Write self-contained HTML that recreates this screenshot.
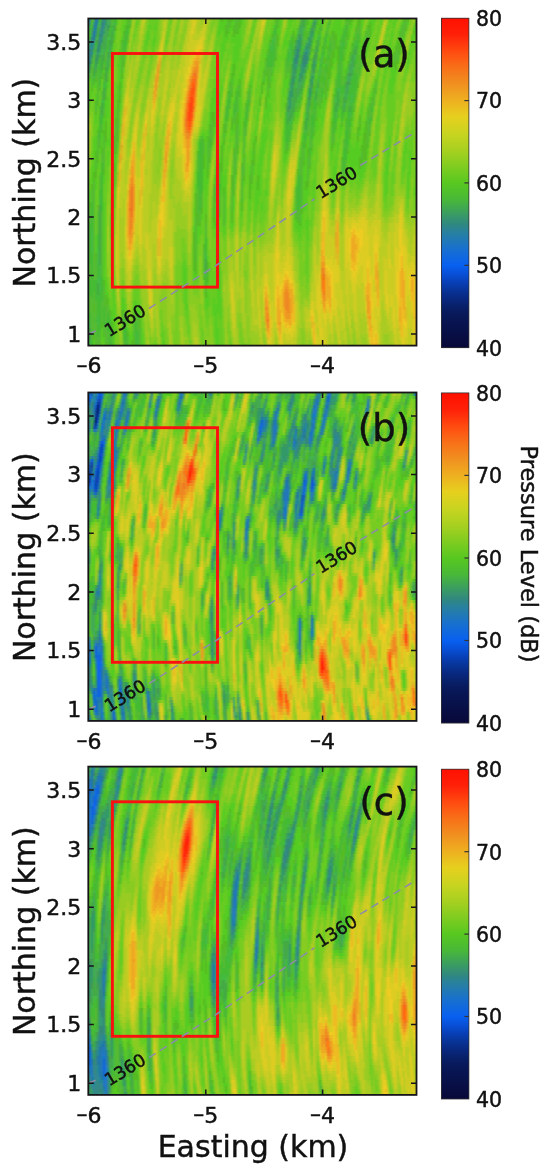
<!DOCTYPE html><html><head><meta charset="utf-8"><style>
html,body{margin:0;padding:0;background:#fff;width:550px;height:1174px;overflow:hidden}
body{position:relative;font-family:'DejaVu Sans', 'Liberation Sans', sans-serif}
.hm{position:absolute;overflow:hidden}.hm i{position:absolute;left:0;width:100%;display:block}
.cb{position:absolute}.ov{position:absolute;left:0;top:0}
svg text{font-family:'DejaVu Sans', 'Liberation Sans', sans-serif;fill:#111;stroke:#111;stroke-width:0.45px}
</style></head><body>
<div class="hm" style="left:88.3px;top:18.5px;width:328.2px;height:327.1px">
<i style="top:0.00px;height:3.50px;background:linear-gradient(90deg,#289,#388,#5b3,#4a5,#27a,#388,#4b3,#396,#388,#396,#4a5,#4a5,#5b3,#4b3,#4b3,#6c2,#7c2,#6c2,#6c2,#5c2,#5b2,#5b3,#7c2,#ac2,#7c2,#6c2,#8c2,#ac2,#cc2,#9c2,#7c2,#6c2,#6c2,#6c2,#6c2,#6c2,#8c2,#9c2,#ac2,#bc2,#9c2,#6c2,#7c2,#ac2,#ac2,#7c2,#8c2,#ac2,#9c2,#8c2,#9c2,#bc2,#cc2,#dc2,#cc2,#bc2,#ac2,#9c2,#ac2,#bc2,#ac2,#9c2,#8c2,#7c2,#8c2,#7c2,#5c2,#5b2,#5c2,#5c2,#5b2,#5b2,#5b2,#5c2,#5b3,#5b3,#5b2,#5c2,#6c2,#7c2,#8c2,#ac2,#9c2,#6c2,#6c2,#9c2,#ac2,#bc2,#dc2,#ac2,#6c2,#7c2,#7c2,#6c2,#5b2,#5b3,#5c2,#6c2,#9c2,#ac2,#6c2,#5c2,#5c2,#6c2,#6c2,#7c2,#6b3,#4a4,#4a4,#4b3,#5b3,#6c2,#5c2,#4a5,#4a5,#5b3,#5c2,#5b3,#5b3,#8c2,#6c2,#5b3,#6c2,#6c2,#5c2,#5c2,#5c2,#6c2,#6c2,#5b2,#4b3,#5b2,#5b2,#6c2,#7c2,#5b2,#5b2,#5c2,#6c2,#9c2,#7c2,#5c2,#5c2,#5c2,#6c2,#7c2,#6c2,#6c2,#9c2,#bc2,#8c2,#5c2,#6c2,#6c2,#5c2,#7c2,#8c2,#6c2,#5b2,#5b3,#5b2,#7c2,#8c2,#9c2,#6c2)"></i>
<i style="top:3.00px;height:3.50px;background:linear-gradient(90deg,#388,#397,#5b3,#397,#27a,#397,#4b4,#387,#388,#396,#4a5,#4a5,#5b3,#4b4,#4b3,#6c2,#7c2,#6c2,#6c2,#5c2,#5b3,#5b3,#8c2,#ac2,#6c2,#6c2,#8c2,#bc2,#bc2,#8c2,#7c2,#6c2,#6c2,#6c2,#6c2,#6c2,#8c2,#9c2,#bc2,#bc2,#8c2,#6c2,#8c2,#ac2,#9c2,#7c2,#9c2,#ac2,#9c2,#8c2,#ac2,#bc2,#cc2,#dc2,#cc2,#ac2,#ac2,#9c2,#bc2,#bc2,#ac2,#8c2,#7c2,#7c2,#8c2,#7c2,#5c2,#5c2,#5c2,#5c2,#5b3,#5b3,#5c2,#5c2,#5b3,#5b2,#5b2,#5c2,#6c2,#7c2,#8c2,#ac2,#8c2,#6c2,#7c2,#ac2,#ac2,#cc2,#dc2,#8c2,#6c2,#7c2,#6c2,#6c2,#5b3,#5b3,#5c2,#6c2,#ac2,#9c2,#6c2,#5c2,#6c2,#6c2,#6c2,#7c2,#5b3,#4a4,#4a4,#4b3,#5b2,#5c2,#5b3,#396,#4a4,#5b2,#5c2,#4b3,#6c2,#7c2,#5b3,#5b3,#6c2,#5c2,#5c2,#5c2,#5c2,#6c2,#6c2,#5b3,#5b3,#5b2,#5c2,#7c2,#6c2,#5b2,#5b2,#5c2,#7c2,#8c2,#6c2,#5b2,#5c2,#5c2,#7c2,#7c2,#6c2,#6c2,#bc2,#bc2,#7c2,#6c2,#6c2,#5c2,#6c2,#8c2,#7c2,#5c2,#5b3,#5b3,#5c2,#7c2,#8c2,#8c2,#5b2)"></i>
<i style="top:6.00px;height:3.50px;background:linear-gradient(90deg,#397,#4a5,#4b3,#388,#27a,#4a5,#4a5,#388,#388,#4a5,#396,#4a4,#4b3,#4a4,#5b3,#7c2,#7c2,#6c2,#5c2,#5b2,#4b3,#5b2,#9c2,#9c2,#6c2,#7c2,#9c2,#bc2,#ac2,#8c2,#6c2,#5c2,#6c2,#6c2,#5c2,#7c2,#8c2,#9c2,#bc2,#bc2,#7c2,#7c2,#9c2,#ac2,#8c2,#7c2,#9c2,#ac2,#8c2,#8c2,#ac2,#bc2,#cc2,#dc2,#bc2,#ac2,#ac2,#ac2,#cc2,#bc2,#9c2,#8c2,#7c2,#8c2,#8c2,#6c2,#5c2,#5c2,#5c2,#5b2,#5b3,#5b2,#5c2,#5b2,#5b3,#5b2,#5b2,#6c2,#6c2,#7c2,#9c2,#ac2,#7c2,#5c2,#8c2,#ac2,#ac2,#cc2,#bc2,#7c2,#6c2,#7c2,#6c2,#5c2,#4b3,#5b2,#5c2,#7c2,#ac2,#8c2,#6c2,#5c2,#6c2,#6c2,#6c2,#6c2,#4a4,#4a5,#4a4,#5b3,#5c2,#5c2,#4a4,#495,#4b3,#5c2,#5b2,#5b3,#7c2,#6c2,#5b3,#5c2,#6c2,#5c2,#5c2,#5c2,#5c2,#6c2,#5c2,#4b3,#5b3,#5c2,#5c2,#7c2,#5c2,#5b2,#5b3,#5c2,#8c2,#7c2,#5b2,#5b2,#5c2,#6c2,#7c2,#6c2,#6c2,#8c2,#cc2,#9c2,#6c2,#6c2,#6c2,#5c2,#7c2,#8c2,#6c2,#5b3,#5b3,#5b3,#6c2,#8c2,#9c2,#6c2,#5b3)"></i>
<i style="top:9.00px;height:3.50px;background:linear-gradient(90deg,#4a5,#4a4,#4a4,#289,#289,#4a4,#496,#388,#397,#4a5,#495,#4b3,#4b4,#4a4,#5b2,#7c2,#6c2,#6c2,#5c2,#5b3,#4b3,#6c2,#ac2,#8c2,#6c2,#8c2,#9c2,#bc2,#9c2,#8c2,#6c2,#6c2,#6c2,#6c2,#5c2,#7c2,#8c2,#9c2,#bc2,#ac2,#7c2,#7c2,#9c2,#ac2,#7c2,#7c2,#ac2,#9c2,#8c2,#8c2,#bc2,#bc2,#dc2,#cc2,#bc2,#ac2,#ac2,#bc2,#cc2,#bc2,#9c2,#8c2,#7c2,#9c2,#8c2,#6c2,#5c2,#5c2,#5c2,#5b2,#5b3,#5c2,#5c2,#5b2,#5b3,#5b2,#5c2,#6c2,#6c2,#8c2,#9c2,#9c2,#6c2,#6c2,#9c2,#ac2,#ac2,#cc2,#ac2,#6c2,#7c2,#6c2,#6c2,#5b3,#4b3,#5c2,#5c2,#8c2,#9c2,#7c2,#5c2,#6c2,#6c2,#5c2,#6c2,#5b3,#4a5,#4a5,#4b4,#5b3,#5c2,#4b3,#495,#4a5,#5b3,#5c2,#4b3,#5b3,#7c2,#5c2,#5b3,#6c2,#5c2,#5c2,#5c2,#5c2,#5c2,#5c2,#5b3,#4b3,#5b3,#5c2,#6c2,#7c2,#5b2,#5b3,#5b3,#6c2,#8c2,#6c2,#5b3,#5b2,#5c2,#6c2,#7c2,#6c2,#6c2,#ac2,#cc2,#8c2,#5c2,#7c2,#6c2,#6c2,#7c2,#7c2,#5c2,#5b3,#5b3,#5b2,#7c2,#8c2,#8c2,#5c2,#5c2)"></i>
<i style="top:12.00px;height:3.50px;background:linear-gradient(90deg,#4b3,#4b3,#496,#27a,#388,#4a4,#397,#388,#396,#4a5,#4a5,#4b3,#4a4,#4b4,#6c2,#7c2,#7c2,#6c2,#5b2,#4b3,#4b3,#7c2,#ac2,#7c2,#7c2,#8c2,#ac2,#bc2,#9c2,#7c2,#5c2,#6c2,#7c2,#6c2,#6c2,#7c2,#8c2,#ac2,#cc2,#9c2,#6c2,#8c2,#ac2,#9c2,#7c2,#8c2,#ac2,#9c2,#8c2,#9c2,#bc2,#cc2,#dc2,#cc2,#bc2,#ac2,#bc2,#cc2,#cc2,#ac2,#9c2,#8c2,#8c2,#9c2,#8c2,#5c2,#5c2,#6c2,#5c2,#5b2,#5b2,#5c2,#6c2,#5b2,#5b2,#5b2,#5c2,#6c2,#6c2,#8c2,#ac2,#8c2,#6c2,#6c2,#ac2,#9c2,#bc2,#cc2,#8c2,#6c2,#7c2,#6c2,#5c2,#4b3,#4b3,#5c2,#5c2,#8c2,#8c2,#6c2,#5c2,#6c2,#5c2,#5b2,#6c2,#4b4,#4a5,#4a5,#4b3,#5b2,#5b3,#4a4,#396,#4a4,#5c2,#5b2,#4b3,#6c2,#7c2,#5b3,#5b3,#6c2,#5b2,#5b2,#5c2,#5c2,#5c2,#5c2,#4b3,#4b3,#5b2,#5c2,#7c2,#6c2,#5b3,#5b3,#5b3,#6c2,#7c2,#5b2,#5b3,#5b2,#5c2,#7c2,#7c2,#6c2,#7c2,#bc2,#bc2,#7c2,#6c2,#7c2,#5c2,#6c2,#7c2,#6c2,#5b2,#5b3,#5b3,#6c2,#8c2,#9c2,#8c2,#5b2,#6c2)"></i>
<i style="top:15.00px;height:3.50px;background:linear-gradient(90deg,#5b3,#4b3,#397,#27a,#396,#4a4,#387,#388,#4a5,#4a5,#4a4,#4b3,#4a4,#4b3,#6c2,#7c2,#7c2,#6c2,#5b3,#4b3,#5b3,#8c2,#9c2,#6c2,#7c2,#8c2,#ac2,#ac2,#8c2,#6c2,#5c2,#6c2,#7c2,#6c2,#6c2,#7c2,#8c2,#ac2,#cc2,#8c2,#6c2,#8c2,#ac2,#9c2,#7c2,#9c2,#9c2,#8c2,#8c2,#ac2,#bc2,#cc2,#cc2,#bc2,#bc2,#bc2,#bc2,#cc2,#cc2,#ac2,#8c2,#8c2,#9c2,#ac2,#7c2,#5c2,#6c2,#6c2,#5c2,#5b2,#5c2,#6c2,#5c2,#5b2,#5c2,#5c2,#5c2,#6c2,#7c2,#8c2,#9c2,#7c2,#5c2,#8c2,#ac2,#9c2,#bc2,#bc2,#7c2,#6c2,#6c2,#6c2,#5b2,#4b3,#5b3,#5b2,#6c2,#9c2,#7c2,#5c2,#5c2,#6c2,#5b3,#5b2,#5c2,#4a4,#495,#4a5,#4b3,#5b2,#4b3,#4a5,#396,#4b3,#5c2,#5b3,#4b4,#6c2,#6c2,#4b3,#5b3,#5c2,#5b3,#5b2,#5b2,#5c2,#5c2,#5b3,#4b3,#4b3,#5b2,#5c2,#7c2,#5c2,#5b3,#4b3,#5b3,#6c2,#6c2,#5b3,#5b3,#5b2,#6c2,#7c2,#6c2,#6c2,#8c2,#cc2,#9c2,#6c2,#6c2,#6c2,#5c2,#6c2,#7c2,#6c2,#5b3,#5b3,#5b2,#7c2,#9c2,#9c2,#6c2,#5c2,#6c2)"></i>
<i style="top:18.01px;height:3.50px;background:linear-gradient(90deg,#4b3,#4a4,#388,#279,#4a5,#4a5,#388,#397,#4a4,#4a5,#4b4,#4b4,#4a4,#5b3,#6c2,#7c2,#7c2,#5c2,#5b3,#4b3,#5b3,#9c2,#9c2,#6c2,#8c2,#8c2,#ac2,#ac2,#8c2,#6c2,#5c2,#6c2,#7c2,#5c2,#6c2,#7c2,#8c2,#bc2,#cc2,#7c2,#7c2,#9c2,#ac2,#8c2,#7c2,#9c2,#9c2,#8c2,#8c2,#bc2,#bc2,#cc2,#cc2,#bc2,#bc2,#bc2,#cc2,#dc2,#cc2,#ac2,#8c2,#8c2,#ac2,#9c2,#7c2,#6c2,#6c2,#6c2,#5c2,#5c2,#5c2,#6c2,#5c2,#5c2,#5c2,#5c2,#5c2,#6c2,#7c2,#9c2,#8c2,#6c2,#6c2,#9c2,#9c2,#9c2,#bc2,#ac2,#6c2,#6c2,#6c2,#5c2,#5b3,#4b4,#5b3,#5b2,#6c2,#8c2,#6c2,#5c2,#6c2,#5c2,#4b3,#5b2,#5b3,#4a5,#396,#4a5,#5b3,#5b3,#4a4,#396,#4a5,#5b3,#5c2,#4b4,#4b3,#6c2,#5b3,#4b3,#5c2,#5b2,#5b3,#5b2,#5b2,#5c2,#5c2,#4b3,#4b3,#5b3,#5b2,#6c2,#7c2,#5b2,#5b3,#4b3,#5b3,#6c2,#5c2,#5b3,#5b2,#5c2,#7c2,#7c2,#6c2,#6c2,#ac2,#cc2,#8c2,#6c2,#7c2,#6c2,#5c2,#7c2,#7c2,#5b2,#5b2,#5b3,#5c2,#8c2,#9c2,#9c2,#5c2,#6c2,#6c2)"></i>
<i style="top:21.01px;height:3.50px;background:linear-gradient(90deg,#4a4,#4a5,#389,#389,#4a4,#495,#388,#396,#4a4,#4a5,#4b3,#4a4,#4a4,#5b2,#7c2,#7c2,#6c2,#5b2,#4b3,#4b3,#6b2,#9c2,#8c2,#7c2,#8c2,#8c2,#ac2,#9c2,#7c2,#5c2,#6c2,#7c2,#6c2,#5c2,#6c2,#7c2,#9c2,#cc2,#bc2,#6c2,#7c2,#9c2,#ac2,#7c2,#8c2,#9c2,#9c2,#8c2,#9c2,#bc2,#bc2,#cc2,#cc2,#cc2,#cc2,#cc2,#dc2,#dc2,#bc2,#9c2,#8c2,#9c2,#ac2,#9c2,#6c2,#6c2,#6c2,#6c2,#5c2,#5c2,#6c2,#6c2,#5c2,#5c2,#5c2,#5c2,#5c2,#6c2,#7c2,#9c2,#8c2,#6c2,#6c2,#ac2,#9c2,#9c2,#bc2,#9c2,#6c2,#6c2,#6c2,#5b2,#4b3,#4b4,#5b3,#5b2,#7c2,#8c2,#5c2,#5c2,#5c2,#5b3,#4b3,#5b2,#4a4,#396,#396,#4a4,#5b3,#4b4,#4a5,#396,#4a4,#5c2,#5b3,#4a4,#5b3,#6c2,#5b3,#4b3,#5c2,#5b3,#5b3,#5b3,#5b2,#5c2,#5b3,#4b3,#4b3,#5b3,#5c2,#7c2,#6c2,#5b3,#4b3,#4b3,#5b2,#6c2,#5b3,#5b3,#5b2,#6c2,#7c2,#7c2,#6c2,#7c2,#cc2,#bc2,#6c2,#6c2,#7c2,#5c2,#6c2,#7c2,#6c2,#5b2,#5b2,#5b2,#6c2,#9c2,#ac2,#8c2,#5c2,#6c2,#6c2)"></i>
<i style="top:24.01px;height:3.50px;background:linear-gradient(90deg,#4a5,#396,#289,#397,#4b3,#396,#387,#4a5,#4a4,#4a5,#4b3,#4a4,#4a4,#6c2,#6c2,#7c2,#6c2,#5b3,#4b3,#4b3,#6c2,#ac2,#7c2,#8c2,#8c2,#9c2,#ac2,#9c2,#7c2,#5c2,#6c2,#7c2,#6c2,#5c2,#7c2,#7c2,#ac2,#dc2,#ac2,#6c2,#8c2,#ac2,#9c2,#7c2,#8c2,#9c2,#8c2,#8c2,#ac2,#bc2,#cc2,#cc2,#cc2,#cc2,#cc2,#dc2,#dc2,#dc2,#bc2,#9c2,#9c2,#9c2,#bc2,#8c2,#6c2,#6c2,#6c2,#5c2,#5c2,#6c2,#7c2,#6c2,#6c2,#6c2,#5c2,#5c2,#5c2,#6c2,#8c2,#8c2,#7c2,#6c2,#8c2,#ac2,#8c2,#ac2,#ac2,#8c2,#6c2,#6c2,#5c2,#5b3,#4b4,#4b3,#5b3,#5b2,#7c2,#7c2,#5c2,#5c2,#5c2,#4b3,#4b3,#5b3,#4a5,#396,#396,#4a4,#5b3,#4a5,#396,#396,#4b3,#6c2,#5b3,#4a4,#5b3,#6c2,#4b3,#5b3,#5c2,#4b3,#5b3,#5b3,#5b2,#5c2,#5b3,#4b4,#4b3,#5b3,#5c2,#7c2,#5b2,#4b3,#4b4,#4b3,#5c2,#5c2,#5b3,#5b3,#5c2,#6c2,#7c2,#7c2,#6c2,#9c2,#cc2,#9c2,#6c2,#7c2,#6c2,#5c2,#6c2,#7c2,#5c2,#5b2,#5b2,#5c2,#7c2,#9c2,#ac2,#6c2,#5c2,#6c2,#6c2)"></i>
<i style="top:27.01px;height:3.50px;background:linear-gradient(90deg,#396,#397,#289,#496,#4b4,#387,#396,#4a4,#4a5,#4a4,#4b3,#4a5,#4b3,#6c2,#6c2,#7c2,#6c2,#5b3,#4b3,#5b3,#7c2,#9c2,#7c2,#9c2,#8c2,#ac2,#ac2,#8c2,#6c2,#6c2,#7c2,#7c2,#6c2,#6c2,#7c2,#8c2,#bc2,#dc2,#9c2,#7c2,#9c2,#ac2,#9c2,#8c2,#9c2,#9c2,#8c2,#8c2,#bc2,#bc2,#cc2,#cc2,#cc2,#cc2,#dc2,#dc2,#ec2,#dc2,#bc2,#9c2,#9c2,#ac2,#ac2,#8c2,#6c2,#7c2,#6c2,#5c2,#5c2,#6c2,#7c2,#6c2,#6c2,#5c2,#5c2,#5c2,#5c2,#7c2,#8c2,#7c2,#6c2,#6c2,#9c2,#9c2,#8c2,#ac2,#ac2,#7c2,#6c2,#6c2,#5c2,#4b3,#4b4,#4b3,#5b3,#5c2,#7c2,#6c2,#5c2,#6c2,#5c2,#4b4,#4b3,#4b3,#495,#397,#396,#4b3,#4b4,#396,#396,#495,#5b3,#6c2,#4a4,#4a4,#6c2,#5b2,#4b3,#5b2,#5b2,#4b3,#5b3,#5b3,#5b2,#5b2,#4b3,#4b3,#4b3,#5b2,#6c2,#6c2,#5b3,#4b3,#4a4,#4b3,#5c2,#5b2,#5b3,#5b3,#5c2,#7c2,#7c2,#6c2,#6c2,#ac2,#cc2,#8c2,#6c2,#7c2,#6c2,#5c2,#6c2,#6c2,#5b2,#5b2,#5b2,#6c2,#8c2,#9c2,#9c2,#6c2,#6c2,#6c2,#6c2)"></i>
<i style="top:30.01px;height:3.50px;background:linear-gradient(90deg,#387,#387,#388,#4a4,#4a4,#387,#396,#4b4,#4a5,#4b3,#4b4,#4a5,#5b3,#6c2,#7c2,#7c2,#5c2,#5b3,#4b3,#5b3,#8c2,#9c2,#7c2,#9c2,#8c2,#ac2,#ac2,#8c2,#6c2,#6c2,#7c2,#8c2,#6c2,#6c2,#8c2,#9c2,#cc2,#dc2,#8c2,#8c2,#9c2,#ac2,#9c2,#8c2,#9c2,#9c2,#8c2,#9c2,#bc2,#bc2,#cc2,#cc2,#cc2,#cc2,#dc2,#ec2,#eb2,#cc2,#ac2,#9c2,#9c2,#bc2,#ac2,#7c2,#6c2,#7c2,#6c2,#5c2,#5c2,#6c2,#6c2,#6c2,#6c2,#5c2,#5c2,#5c2,#6c2,#7c2,#7c2,#7c2,#6c2,#7c2,#ac2,#9c2,#8c2,#9c2,#9c2,#6c2,#6c2,#6c2,#5b2,#4b3,#4b4,#4b3,#5b3,#6c2,#7c2,#6c2,#6c2,#6c2,#5b3,#4b4,#4b3,#4a4,#396,#387,#495,#4b3,#4a5,#397,#397,#4a5,#5b2,#5b3,#4a5,#4a4,#6c2,#5b3,#4b3,#5c2,#5b3,#4b3,#5b3,#5b2,#5c2,#5b2,#4b3,#4b3,#5b3,#5c2,#6c2,#6c2,#5b3,#4a4,#4a4,#5b3,#5c2,#5b3,#5b3,#5b2,#6c2,#7c2,#7c2,#6c2,#7c2,#cc2,#bc2,#6c2,#6c2,#7c2,#5c2,#5c2,#6c2,#6c2,#5b3,#5b2,#5b2,#6c2,#9c2,#ac2,#8c2,#5c2,#6c2,#6c2,#7c2)"></i>
<i style="top:33.01px;height:3.50px;background:linear-gradient(90deg,#387,#388,#388,#4b4,#4a5,#397,#4a5,#4b4,#4a5,#5b3,#4a4,#4a5,#5b2,#6c2,#7c2,#7c2,#5c2,#5b3,#4b3,#5c2,#9c2,#9c2,#8c2,#9c2,#9c2,#ac2,#ac2,#8c2,#6c2,#7c2,#8c2,#7c2,#6c2,#7c2,#8c2,#ac2,#db2,#cc2,#7c2,#8c2,#ac2,#ac2,#9c2,#8c2,#ac2,#9c2,#8c2,#ac2,#bc2,#bc2,#cc2,#cc2,#cc2,#dc2,#ec2,#eb2,#eb2,#cc2,#ac2,#9c2,#9c2,#bc2,#9c2,#7c2,#6c2,#7c2,#6c2,#5c2,#6c2,#7c2,#6c2,#6c2,#6c2,#5c2,#5c2,#5c2,#6c2,#7c2,#7c2,#6c2,#6c2,#8c2,#ac2,#8c2,#8c2,#9c2,#8c2,#6c2,#6c2,#5c2,#5b3,#4b3,#4b3,#4b3,#5b3,#6c2,#7c2,#6c2,#6c2,#6c2,#4b3,#4b4,#4b3,#4a4,#396,#387,#4a5,#4b3,#396,#387,#397,#4a4,#6c2,#5b3,#495,#5b3,#6c2,#4b3,#4b3,#5c2,#5b3,#5b3,#5b2,#5b2,#5c2,#5b2,#4b3,#4b3,#5b3,#5c2,#7c2,#5b2,#4b3,#4a4,#4a4,#5b3,#5c2,#5b3,#5b3,#5c2,#7c2,#7c2,#7c2,#7c2,#9c2,#cc2,#9c2,#6c2,#7c2,#7c2,#5c2,#5c2,#6c2,#5b2,#5b3,#5b3,#5b2,#7c2,#9c2,#9c2,#6c2,#5c2,#6c2,#7c2,#7c2)"></i>
<i style="top:36.01px;height:3.50px;background:linear-gradient(90deg,#388,#388,#396,#5b3,#495,#396,#4a4,#4a4,#4a4,#5b3,#4a5,#4a4,#5c2,#6c2,#7c2,#6c2,#5c2,#5b3,#5b3,#6c2,#ac2,#8c2,#9c2,#9c2,#9c2,#bc2,#9c2,#7c2,#6c2,#7c2,#8c2,#7c2,#6c2,#8c2,#8c2,#bc2,#eb2,#bc2,#8c2,#9c2,#ac2,#ac2,#9c2,#9c2,#ac2,#9c2,#9c2,#bc2,#bc2,#cc2,#cc2,#cc2,#dc2,#dc2,#eb2,#ea2,#eb2,#cc2,#ac2,#9c2,#ac2,#bc2,#8c2,#7c2,#7c2,#6c2,#6c2,#5c2,#6c2,#7c2,#6c2,#7c2,#6c2,#5c2,#5c2,#5c2,#6c2,#7c2,#7c2,#6c2,#6c2,#9c2,#ac2,#7c2,#8c2,#9c2,#7c2,#6c2,#6c2,#5c2,#4b3,#4b3,#4b3,#4b3,#5b3,#6c2,#6c2,#6c2,#6c2,#5c2,#4b3,#4b4,#4b3,#4a5,#387,#387,#4a4,#4a4,#387,#387,#396,#5b3,#6c2,#4a4,#495,#5b3,#5c2,#4b4,#5b3,#5c2,#4b3,#5b3,#5b2,#5b2,#5c2,#5b2,#4b3,#4b3,#5b2,#6c2,#6c2,#5b3,#4a4,#4a5,#4b4,#5b2,#5b3,#4b3,#5b3,#6c2,#7c2,#7c2,#7c2,#7c2,#ac2,#cc2,#8c2,#6c2,#7c2,#6c2,#5c2,#6c2,#6c2,#5b3,#5b3,#5b3,#6c2,#8c2,#9c2,#9c2,#6c2,#6c2,#6c2,#7c2,#6c2)"></i>
<i style="top:39.01px;height:3.50px;background:linear-gradient(90deg,#388,#388,#4a5,#5b3,#396,#495,#4b3,#4a4,#4a4,#5b3,#4a5,#4b4,#5c2,#6c2,#7c2,#6c2,#5c2,#5b3,#5b3,#7c2,#ac2,#8c2,#ac2,#9c2,#ac2,#bc2,#9c2,#7c2,#7c2,#8c2,#9c2,#7c2,#7c2,#8c2,#9c2,#cc2,#ea2,#ac2,#8c2,#ac2,#ac2,#ac2,#9c2,#9c2,#ac2,#9c2,#ac2,#bc2,#bc2,#cc2,#cc2,#dc2,#dc2,#eb2,#ea2,#ea2,#db2,#bc2,#ac2,#9c2,#bc2,#bc2,#8c2,#7c2,#7c2,#6c2,#6c2,#5c2,#7c2,#6c2,#6c2,#7c2,#6c2,#5c2,#5c2,#5c2,#6c2,#6c2,#6c2,#6c2,#7c2,#ac2,#9c2,#7c2,#8c2,#9c2,#7c2,#6c2,#6c2,#5b2,#4b3,#4b3,#4b3,#4b3,#5b2,#6c2,#6c2,#6c2,#6c2,#5b2,#4b4,#4b3,#4b3,#396,#387,#396,#4b4,#495,#387,#387,#396,#5b3,#5b3,#495,#4a5,#5b2,#5b3,#4b4,#5b2,#5b2,#4b3,#5b2,#5b2,#5c2,#5c2,#5b2,#4b3,#4b3,#5b2,#6c2,#6c2,#4b3,#4a4,#4a5,#4b3,#5b2,#5b3,#4b3,#5c2,#7c2,#8c2,#7c2,#7c2,#8c2,#bc2,#bc2,#6c2,#6c2,#7c2,#6c2,#5c2,#6c2,#6c2,#5b3,#5b3,#5b3,#6c2,#8c2,#9c2,#8c2,#5c2,#6c2,#7c2,#7c2,#6c2)"></i>
<i style="top:42.01px;height:3.50px;background:linear-gradient(90deg,#387,#387,#4a4,#5b3,#396,#4a4,#4b3,#4a4,#4b3,#4b3,#4a5,#5b3,#6c2,#7c2,#7c2,#6c2,#5c2,#5b3,#5b2,#8c2,#ac2,#9c2,#ac2,#9c2,#ac2,#ac2,#8c2,#7c2,#7c2,#9c2,#9c2,#7c2,#7c2,#9c2,#9c2,#db2,#da2,#9c2,#9c2,#ac2,#bc2,#ac2,#9c2,#ac2,#ac2,#9c2,#ac2,#bc2,#bc2,#cc2,#cc2,#dc2,#dc2,#ea2,#e92,#e92,#db2,#bc2,#ac2,#ac2,#bc2,#ac2,#7c2,#7c2,#7c2,#6c2,#6c2,#6c2,#7c2,#6c2,#7c2,#8c2,#6c2,#5c2,#5c2,#6c2,#6c2,#6c2,#6c2,#6c2,#8c2,#bc2,#8c2,#7c2,#8c2,#8c2,#6c2,#6c2,#6c2,#5b3,#4b3,#4b3,#4b3,#5b3,#6c2,#6c2,#6c2,#7c2,#6c2,#5b3,#4b3,#5b3,#4b4,#396,#387,#496,#4b3,#396,#387,#387,#4a5,#6c2,#5b3,#396,#4a5,#5c2,#5b3,#4b4,#5b2,#5b3,#5b3,#5b2,#5b2,#5c2,#6c2,#5b2,#4b3,#5b3,#5c2,#6c2,#5b2,#4b4,#4a5,#4a4,#4b3,#5b3,#5b3,#5b3,#6c2,#8c2,#7c2,#7c2,#7c2,#9c2,#bc2,#9c2,#5c2,#7c2,#7c2,#5c2,#5c2,#6c2,#5c2,#5b2,#5b2,#5b2,#7c2,#9c2,#9c2,#7c2,#5c2,#6c2,#7c2,#7c2,#6c2)"></i>
<i style="top:45.01px;height:3.50px;background:linear-gradient(90deg,#387,#396,#5b3,#4b4,#495,#4b4,#4b3,#4a4,#5b3,#4b3,#4a5,#5b3,#6c2,#7c2,#7c2,#5c2,#5c2,#5b3,#5b2,#9c2,#9c2,#ac2,#ac2,#9c2,#ac2,#ac2,#8c2,#7c2,#8c2,#9c2,#8c2,#7c2,#8c2,#9c2,#ac2,#da2,#da2,#9c2,#9c2,#ac2,#bc2,#ac2,#9c2,#ac2,#ac2,#9c2,#bc2,#bc2,#bc2,#cc2,#cc2,#dc2,#eb2,#ea2,#e92,#e92,#dc2,#bc2,#ac2,#ac2,#cc2,#9c2,#7c2,#7c2,#7c2,#6c2,#6c2,#6c2,#7c2,#6c2,#8c2,#8c2,#5c2,#5b2,#5c2,#6c2,#6c2,#6c2,#6c2,#7c2,#9c2,#bc2,#7c2,#6c2,#8c2,#8c2,#6c2,#6c2,#6c2,#5b3,#4b3,#4b3,#4b3,#5b3,#6c2,#6c2,#6c2,#7c2,#6c2,#5b3,#4b3,#5b3,#4a4,#396,#397,#4a5,#4a4,#397,#387,#396,#4b3,#6c2,#4a4,#396,#4a4,#6c2,#4b3,#4b3,#5c2,#4b3,#5b3,#5b2,#5b2,#6c2,#6c2,#5b3,#4b3,#5b3,#5c2,#6c2,#5b3,#4a4,#4a5,#4a4,#5b3,#5b3,#5b3,#5b3,#7c2,#8c2,#7c2,#8c2,#8c2,#ac2,#bc2,#8c2,#5c2,#7c2,#7c2,#5c2,#6c2,#6c2,#5c2,#5b2,#5b2,#6c2,#8c2,#9c2,#9c2,#6c2,#6c2,#7c2,#8c2,#7c2,#6c2)"></i>
<i style="top:48.01px;height:3.50px;background:linear-gradient(90deg,#397,#495,#5b3,#4a4,#4a5,#4b3,#4b3,#4a4,#5b2,#4a4,#4a4,#5c2,#6c2,#8c2,#7c2,#6c2,#5c2,#5b3,#6c2,#9c2,#9c2,#ac2,#ac2,#9c2,#bc2,#9c2,#7c2,#7c2,#8c2,#9c2,#8c2,#7c2,#8c2,#9c2,#bc2,#e92,#cb2,#9c2,#ac2,#ac2,#bc2,#ac2,#9c2,#ac2,#ac2,#ac2,#bc2,#bc2,#cc2,#cc2,#dc2,#ec2,#ea2,#e92,#e82,#e92,#dc2,#bc2,#ac2,#bc2,#bc2,#9c2,#7c2,#7c2,#6c2,#6c2,#6c2,#7c2,#6c2,#6c2,#8c2,#7c2,#5c2,#5b2,#5c2,#6c2,#6c2,#5c2,#6c2,#7c2,#ac2,#ac2,#7c2,#6c2,#8c2,#7c2,#6c2,#6c2,#5c2,#5b3,#5b3,#5b3,#5b3,#5c2,#6c2,#6c2,#7c2,#7c2,#6c2,#5b3,#5b3,#5b3,#4a4,#396,#396,#4b4,#4a4,#397,#396,#4a5,#5b3,#6c2,#4a4,#396,#5b3,#5c2,#4b4,#5b3,#5b2,#4b3,#5b2,#5b2,#5c2,#6c2,#6c2,#5b3,#4b3,#5b3,#5c2,#5c2,#4b3,#4a5,#4a5,#4b4,#5b3,#5b3,#4b3,#6c2,#8c2,#8c2,#7c2,#8c2,#8c2,#ac2,#ac2,#6c2,#6c2,#8c2,#6c2,#5c2,#6c2,#6c2,#5c2,#5c2,#5b2,#6c2,#8c2,#9c2,#8c2,#6c2,#6c2,#8c2,#8c2,#7c2,#7c2)"></i>
<i style="top:51.02px;height:3.50px;background:linear-gradient(90deg,#396,#4a5,#5b2,#4a4,#4a4,#5b3,#4b3,#4b3,#5c2,#4a4,#4b3,#6c2,#7c2,#8c2,#7c2,#6c2,#5c2,#5b3,#6c2,#9c2,#9c2,#bc2,#9c2,#ac2,#ac2,#9c2,#7c2,#7c2,#9c2,#9c2,#7c2,#7c2,#9c2,#ac2,#cc2,#e92,#bb2,#9c2,#ac2,#bc2,#bc2,#ac2,#ac2,#bc2,#ac2,#bc2,#cc2,#bc2,#cc2,#cc2,#dc2,#ec2,#ea2,#e82,#e82,#e92,#dc2,#bc2,#ac2,#cc2,#bc2,#8c2,#7c2,#7c2,#6c2,#6c2,#6c2,#7c2,#6c2,#7c2,#9c2,#7c2,#5c2,#5b2,#6c2,#6c2,#6c2,#5c2,#6c2,#8c2,#bc2,#9c2,#6c2,#6c2,#8c2,#7c2,#6c2,#6c2,#5b2,#5b3,#5b2,#5b3,#5b3,#5c2,#7c2,#6c2,#7c2,#7c2,#6c2,#5b3,#5b3,#5b2,#4a5,#396,#495,#4b3,#4a5,#396,#396,#4a4,#6c2,#6b2,#4a5,#495,#5b3,#5b3,#4b4,#5b3,#5b3,#4b3,#5b2,#5b2,#6c2,#7c2,#6c2,#5b3,#4b3,#5b3,#5c2,#5b2,#4b4,#4a5,#4a5,#4b3,#5b3,#5b3,#5b3,#7c2,#9c2,#8c2,#7c2,#8c2,#9c2,#ac2,#8c2,#5c2,#7c2,#8c2,#6c2,#5c2,#7c2,#6c2,#5c2,#5c2,#5c2,#7c2,#8c2,#9c2,#7c2,#6c2,#7c2,#8c2,#8c2,#7c2,#7c2)"></i>
<i style="top:54.02px;height:3.50px;background:linear-gradient(90deg,#4a5,#5b4,#5b3,#4a4,#4b3,#5b3,#4b4,#5b3,#5b2,#4a4,#5b3,#6c2,#7c2,#8c2,#7c2,#6c2,#5c2,#5b2,#7c2,#9c2,#9c2,#bc2,#9c2,#ac2,#ac2,#8c2,#7c2,#8c2,#9c2,#9c2,#7c2,#7c2,#ac2,#ac2,#db2,#e92,#bc2,#ac2,#ac2,#bc2,#bc2,#ac2,#ac2,#bc2,#ac2,#bc2,#cc2,#bc2,#cc2,#dc2,#dc2,#eb2,#e92,#e72,#e72,#ea2,#dc2,#bc2,#bc2,#cc2,#bc2,#8c2,#7c2,#7c2,#6c2,#6c2,#6c2,#7c2,#6c2,#8c2,#9c2,#6c2,#5b2,#5b2,#6c2,#6c2,#5c2,#5c2,#7c2,#9c2,#bc2,#8c2,#6c2,#6c2,#8c2,#6c2,#6c2,#6c2,#5b3,#5b2,#5b2,#5b3,#5b2,#6c2,#7c2,#7c2,#8c2,#7c2,#6c2,#5b3,#5c2,#5b3,#4a5,#396,#4a5,#4b3,#396,#396,#4a5,#5b3,#7c2,#5b3,#4a5,#4a5,#5c2,#5b3,#4b4,#5b2,#5b3,#5b3,#5b2,#5b2,#6c2,#7c2,#6c2,#4b3,#4b3,#5b3,#5c2,#5b3,#4a4,#495,#4a4,#4b3,#4b3,#5b3,#5b3,#8c2,#9c2,#7c2,#8c2,#8c2,#9c2,#ac2,#7c2,#5c2,#7c2,#7c2,#6c2,#6c2,#7c2,#6c2,#5c2,#5c2,#6c2,#7c2,#8c2,#9c2,#7c2,#6c2,#8c2,#9c2,#7c2,#7c2,#7c2)"></i>
<i style="top:57.02px;height:3.50px;background:linear-gradient(90deg,#4b3,#5b3,#5b3,#4b4,#5b3,#5b3,#4b3,#5b2,#5b3,#4a4,#5b3,#6c2,#8c2,#8c2,#7c2,#6c2,#5c2,#5b2,#7c2,#9c2,#ac2,#bc2,#9c2,#ac2,#ac2,#8c2,#7c2,#8c2,#9c2,#8c2,#7c2,#8c2,#ac2,#ac2,#da2,#e92,#ac2,#ac2,#ac2,#bc2,#bc2,#ac2,#ac2,#bc2,#ac2,#cc2,#bc2,#bc2,#cc2,#dc2,#ec2,#ea2,#e82,#f71,#e72,#ea2,#dc2,#bc2,#bc2,#cc2,#ac2,#8c2,#8c2,#7c2,#6c2,#6c2,#6c2,#7c2,#6c2,#9c2,#9c2,#6c2,#5b2,#5c2,#6c2,#6c2,#5c2,#5c2,#7c2,#9c2,#bc2,#7c2,#5c2,#7c2,#8c2,#6c2,#6c2,#6c2,#5b3,#5c2,#5b2,#5b3,#5c2,#6c2,#7c2,#7c2,#8c2,#7c2,#6c2,#5b2,#5c2,#5b3,#495,#396,#4a4,#4b4,#396,#495,#4a5,#5b2,#7c2,#5b3,#396,#4a4,#5c2,#4b3,#4b3,#5b2,#4b3,#5b3,#5b2,#5b2,#7c2,#7c2,#5c2,#4b3,#4b3,#5b3,#5b2,#4b3,#4a5,#4a5,#4b4,#4b3,#4b3,#4b3,#6c2,#9c2,#9c2,#7c2,#8c2,#9c2,#9c2,#8c2,#6c2,#5c2,#8c2,#7c2,#5c2,#6c2,#7c2,#6c2,#5c2,#5c2,#6c2,#8c2,#8c2,#8c2,#6c2,#7c2,#9c2,#9c2,#7c2,#7c2,#7c2)"></i>
<i style="top:60.02px;height:3.50px;background:linear-gradient(90deg,#5b3,#5c2,#5b3,#4b3,#5b2,#5b3,#4b3,#6c2,#5b3,#4a4,#5b2,#6c2,#8c2,#8c2,#7c2,#6c2,#5c2,#5c2,#8c2,#9c2,#bc2,#bc2,#9c2,#ac2,#9c2,#7c2,#7c2,#9c2,#9c2,#8c2,#7c2,#9c2,#ac2,#bc2,#e92,#da2,#ac2,#ac2,#ac2,#cc2,#bc2,#ac2,#ac2,#ac2,#bc2,#cc2,#bc2,#bc2,#cc2,#dc2,#eb2,#e92,#e72,#f61,#e72,#eb2,#cc2,#bc2,#cc2,#cc2,#9c2,#7c2,#7c2,#6c2,#6c2,#6c2,#6c2,#6c2,#6c2,#9c2,#8c2,#5c2,#5b3,#5c2,#6c2,#5c2,#5b2,#6c2,#7c2,#ac2,#ac2,#6c2,#5c2,#7c2,#8c2,#6c2,#7c2,#5c2,#5b3,#5c2,#5b2,#5b3,#5c2,#6c2,#6c2,#8c2,#8c2,#7c2,#5c2,#5c2,#5c2,#4b3,#396,#396,#4b4,#4a4,#396,#4a5,#4a4,#6c2,#7c2,#4a4,#396,#5b4,#5b2,#4b4,#4b3,#5b2,#4b3,#5b2,#5b3,#5c2,#8c2,#7c2,#5b3,#4b3,#4b3,#5b3,#5b3,#4b3,#4a5,#4a5,#4b3,#4b3,#4b3,#5b3,#7c2,#ac2,#9c2,#7c2,#8c2,#9c2,#9c2,#7c2,#5b2,#6c2,#8c2,#7c2,#5c2,#7c2,#7c2,#5c2,#5c2,#5c2,#6c2,#8c2,#8c2,#7c2,#6c2,#7c2,#9c2,#8c2,#7c2,#7c2,#8c2)"></i>
<i style="top:63.02px;height:3.50px;background:linear-gradient(90deg,#6c2,#6c2,#5b3,#5b3,#5c2,#5b3,#4b3,#6c2,#4b3,#4b4,#5c2,#6c2,#8c2,#7c2,#6c2,#6c2,#5b2,#5c2,#8c2,#9c2,#cc2,#ac2,#ac2,#ac2,#9c2,#7c2,#8c2,#9c2,#9c2,#8c2,#7c2,#ac2,#ac2,#cc2,#e92,#db2,#ac2,#ac2,#ac2,#cc2,#bc2,#9c2,#bc2,#ac2,#bc2,#cc2,#bc2,#cc2,#cc2,#dc2,#eb2,#e92,#f61,#f61,#e72,#eb2,#cc2,#bc2,#cc2,#bc2,#9c2,#7c2,#7c2,#6c2,#6c2,#6c2,#6c2,#6c2,#7c2,#ac2,#7c2,#5b2,#5b3,#5c2,#6c2,#5c2,#5b2,#6c2,#7c2,#ac2,#8c2,#5c2,#5c2,#8c2,#7c2,#6c2,#7c2,#5b2,#5b2,#6c2,#5b2,#5b2,#6c2,#6c2,#7c2,#8c2,#8c2,#7c2,#5c2,#5c2,#5c2,#4a4,#396,#495,#4b3,#4a5,#4a5,#4a5,#4b3,#7c2,#7c2,#4a4,#396,#5b3,#5b3,#4a4,#5b3,#5b3,#4b3,#5b2,#5b3,#6c2,#8c2,#7c2,#5b3,#4b3,#4b3,#5b3,#5b3,#4a4,#495,#4a4,#4b3,#4b3,#4b3,#5b3,#8c2,#ac2,#8c2,#7c2,#9c2,#9c2,#8c2,#6c2,#5b3,#6c2,#8c2,#6c2,#6c2,#7c2,#7c2,#5c2,#5c2,#5c2,#7c2,#8c2,#8c2,#7c2,#7c2,#8c2,#ac2,#8c2,#8c2,#8c2,#8c2)"></i>
<i style="top:66.02px;height:3.50px;background:linear-gradient(90deg,#6c2,#6c2,#5b3,#5c2,#5c2,#5b3,#5b3,#6c2,#4b4,#4b3,#5c2,#6c2,#8c2,#7c2,#6c2,#5c2,#5b2,#5c2,#8c2,#9c2,#cc2,#ac2,#ac2,#ac2,#8c2,#7c2,#9c2,#ac2,#9c2,#8c2,#8c2,#ac2,#ac2,#cb2,#e92,#cb2,#ac2,#ac2,#bc2,#cc2,#ac2,#9c2,#bc2,#ac2,#cc2,#bc2,#bc2,#cc2,#cc2,#dc2,#ea2,#e82,#f61,#f51,#e82,#eb2,#cc2,#bc2,#cc2,#bc2,#8c2,#7c2,#7c2,#6c2,#6c2,#6c2,#6c2,#5c2,#8c2,#ac2,#6c2,#5b3,#5b3,#6c2,#6c2,#5b3,#5b3,#6c2,#8c2,#ac2,#7c2,#5b2,#5c2,#8c2,#7c2,#6c2,#6c2,#5b2,#6c2,#6c2,#5b3,#5b2,#6c2,#6c2,#7c2,#8c2,#7c2,#7c2,#5c2,#5c2,#5c2,#4a5,#396,#4a5,#4b3,#4a5,#4a5,#4a4,#5b3,#8c2,#6b3,#4a5,#495,#5b2,#4b3,#4a4,#5b3,#5b3,#5b3,#5b2,#5b3,#7c2,#9c2,#7c2,#5b3,#4b3,#4b3,#4b3,#4b3,#4a4,#4a5,#4b4,#4b3,#4b3,#4b3,#5b2,#9c2,#ac2,#7c2,#8c2,#9c2,#9c2,#7c2,#5c2,#5b3,#7c2,#8c2,#6c2,#6c2,#8c2,#6c2,#5c2,#5c2,#6c2,#7c2,#8c2,#8c2,#7c2,#7c2,#9c2,#ac2,#8c2,#8c2,#8c2,#8c2)"></i>
<i style="top:69.02px;height:3.50px;background:linear-gradient(90deg,#7c2,#6c2,#5b2,#6c2,#6c2,#5b3,#5b2,#6c2,#4a4,#4b3,#6c2,#6c2,#7c2,#7c2,#6c2,#5c2,#5b2,#6c2,#8c2,#ac2,#cc2,#ac2,#bc2,#ac2,#8c2,#8c2,#9c2,#ac2,#9c2,#8c2,#9c2,#bc2,#bc2,#db2,#e92,#bc2,#ac2,#ac2,#bc2,#cc2,#ac2,#ac2,#bc2,#bc2,#cc2,#bc2,#bc2,#cc2,#dc2,#ec2,#ea2,#e72,#f51,#f51,#e82,#dc2,#cc2,#cc2,#cc2,#ac2,#8c2,#8c2,#7c2,#5c2,#5c2,#6c2,#6c2,#5c2,#8c2,#9c2,#6c2,#5b3,#5b3,#6c2,#5c2,#5b3,#5b2,#6c2,#8c2,#9c2,#6c2,#5b3,#6c2,#8c2,#6c2,#6c2,#6c2,#5b2,#6c2,#6c2,#5b3,#5c2,#6c2,#6c2,#7c2,#8c2,#7c2,#6c2,#5c2,#6c2,#5b3,#4a5,#396,#4a4,#4a4,#4a5,#4a4,#4a4,#6c2,#8c2,#5b3,#396,#4a5,#5b2,#4b4,#4b4,#5b3,#4b3,#5b3,#5b2,#5b2,#8c2,#9c2,#6c2,#4b3,#4b4,#4b4,#4b3,#4b3,#4a5,#4a5,#4b3,#4b3,#4b3,#4b3,#6c2,#ac2,#9c2,#7c2,#8c2,#9c2,#8c2,#6c2,#5b2,#5b3,#7c2,#7c2,#5c2,#7c2,#8c2,#6c2,#5c2,#5c2,#6c2,#7c2,#8c2,#8c2,#7c2,#7c2,#ac2,#9c2,#8c2,#8c2,#8c2,#8c2)"></i>
<i style="top:72.02px;height:3.50px;background:linear-gradient(90deg,#6c2,#6c2,#5c2,#6c2,#6c2,#5b3,#6c2,#5b3,#4a4,#5b3,#6c2,#6c2,#7c2,#7c2,#6c2,#5c2,#5b3,#6c2,#8c2,#bc2,#cc2,#ac2,#bc2,#9c2,#8c2,#8c2,#ac2,#ac2,#8c2,#8c2,#9c2,#bc2,#bc2,#da2,#ea2,#bc2,#ac2,#ac2,#bc2,#bc2,#9c2,#ac2,#bc2,#bc2,#cc2,#bc2,#bc2,#cc2,#dc2,#eb2,#e92,#f61,#f51,#f51,#e92,#dc2,#cc2,#cc2,#cc2,#9c2,#8c2,#7c2,#6c2,#5c2,#5c2,#6c2,#5c2,#6c2,#9c2,#9c2,#5b2,#4b3,#5b3,#6c2,#5b2,#4b3,#5b2,#6c2,#8c2,#8c2,#5b2,#5b3,#6c2,#8c2,#6c2,#6c2,#6c2,#5b2,#7c2,#6c2,#5b2,#5c2,#6c2,#6c2,#7c2,#8c2,#7c2,#6c2,#5c2,#6c2,#5b3,#396,#396,#4a4,#4a4,#4a5,#4a4,#4b3,#7c2,#8c2,#4b3,#396,#4a4,#5b2,#4a4,#4b4,#5b3,#4b3,#5b2,#5b3,#6c2,#9c2,#9c2,#6c2,#4b3,#4a4,#4b4,#4b3,#4b3,#4a5,#4a4,#4b3,#4b3,#4b3,#5b3,#7c2,#ac2,#8c2,#6c2,#8c2,#9c2,#7c2,#5c2,#5b3,#5b2,#8c2,#7c2,#5c2,#7c2,#8c2,#6c2,#5c2,#5c2,#6c2,#7c2,#7c2,#7c2,#7c2,#8c2,#ac2,#9c2,#9c2,#8c2,#8c2,#8c2)"></i>
<i style="top:75.02px;height:3.50px;background:linear-gradient(90deg,#6c2,#5c2,#6c2,#6c2,#5c2,#5b3,#6c2,#5b3,#4a4,#5b3,#6c2,#6c2,#7c2,#6c2,#6c2,#5c2,#5b2,#6c2,#9c2,#cc2,#cc2,#ac2,#bc2,#9c2,#8c2,#9c2,#ac2,#ac2,#8c2,#8c2,#ac2,#bc2,#bc2,#ea2,#da2,#bc2,#ac2,#ac2,#cc2,#bc2,#9c2,#ac2,#bc2,#cc2,#cc2,#ac2,#bc2,#cc2,#dc2,#eb2,#e82,#f61,#f51,#f61,#e92,#dc2,#cc2,#cc2,#bc2,#9c2,#7c2,#7c2,#6c2,#5c2,#5c2,#6c2,#5c2,#6c2,#ac2,#8c2,#5b3,#4b3,#5b2,#6c2,#5b3,#4b3,#5b2,#6c2,#8c2,#8c2,#5b3,#5b3,#7c2,#8c2,#6c2,#7c2,#5c2,#6c2,#8c2,#5c2,#5b2,#5c2,#6c2,#6c2,#7c2,#8c2,#7c2,#6c2,#5c2,#6c2,#4b4,#396,#396,#4a4,#4a4,#4a4,#4b4,#5b3,#8c2,#7c2,#4b4,#396,#4b3,#5b3,#4a4,#4b3,#5b3,#4b3,#5c2,#5b3,#6c2,#ac2,#8c2,#5b2,#4b3,#4a4,#4b4,#5b3,#4b4,#4a5,#4b4,#4b3,#4b4,#4b3,#5b3,#8c2,#ac2,#7c2,#6c2,#8c2,#8c2,#6c2,#5c2,#5b3,#6c2,#8c2,#6c2,#6c2,#8c2,#7c2,#6c2,#6c2,#6c2,#6c2,#7c2,#7c2,#7c2,#7c2,#9c2,#bc2,#9c2,#9c2,#8c2,#8c2,#8c2)"></i>
<i style="top:78.02px;height:3.50px;background:linear-gradient(90deg,#5c2,#5c2,#6c2,#6c2,#5c2,#5b3,#6c2,#5b3,#4a4,#5b2,#5c2,#6c2,#7c2,#6c2,#6c2,#5c2,#5b2,#7c2,#9c2,#dc2,#cc2,#bc2,#bc2,#8c2,#8c2,#9c2,#bc2,#9c2,#8c2,#8c2,#bc2,#bc2,#bc2,#ea2,#db2,#ac2,#9c2,#ac2,#cc2,#bc2,#9c2,#bc2,#cc2,#cc2,#cc2,#ac2,#bc2,#cc2,#dc2,#ea2,#e82,#f51,#f41,#f61,#ea2,#dc2,#cc2,#cc2,#bc2,#8c2,#8c2,#7c2,#5c2,#5c2,#5c2,#5c2,#5c2,#7c2,#ac2,#7c2,#5b3,#4b3,#6c2,#6c2,#4b3,#5b3,#5c2,#6c2,#8c2,#7c2,#5b3,#5b3,#8c2,#8c2,#6c2,#7c2,#5b2,#7c2,#8c2,#5b2,#5c2,#5c2,#6c2,#6c2,#7c2,#8c2,#7c2,#6c2,#6c2,#6c2,#4a4,#396,#4a5,#4a4,#4a4,#4b4,#4b3,#5b2,#9c2,#7c2,#4a4,#495,#5b3,#4b3,#4a4,#5b3,#5b3,#5b3,#5c2,#5b2,#8c2,#ac2,#8c2,#5b3,#4b4,#4a4,#4b3,#5b3,#4a4,#4a5,#4b3,#4b3,#4b4,#4b3,#6b2,#9c2,#ac2,#7c2,#6c2,#8c2,#7c2,#5c2,#5b2,#5b3,#7c2,#8c2,#6c2,#6c2,#8c2,#7c2,#6c2,#6c2,#6c2,#6c2,#7c2,#7c2,#7c2,#7c2,#ac2,#ac2,#9c2,#9c2,#9c2,#8c2,#7c2)"></i>
<i style="top:81.02px;height:3.50px;background:linear-gradient(90deg,#5c2,#5c2,#7c2,#6c2,#5b2,#5b3,#6c2,#4b4,#4b4,#5c2,#5c2,#6c2,#7c2,#6c2,#6c2,#5b2,#5b2,#7c2,#ac2,#dc2,#cc2,#bc2,#ac2,#8c2,#8c2,#ac2,#bc2,#9c2,#8c2,#9c2,#cc2,#bc2,#cc2,#ea2,#cc2,#ac2,#9c2,#bc2,#cc2,#ac2,#ac2,#bc2,#cc2,#dc2,#bc2,#ac2,#cc2,#dc2,#ec2,#ea2,#e72,#f51,#f41,#f61,#ea2,#dc2,#cc2,#cc2,#ac2,#8c2,#8c2,#7c2,#5c2,#5c2,#5c2,#5c2,#5c2,#8c2,#ac2,#6c2,#4b3,#4b3,#6c2,#5c2,#4b3,#5b3,#5c2,#6c2,#8c2,#6c2,#4b3,#5b3,#8c2,#7c2,#6c2,#6c2,#5b2,#8c2,#8c2,#5b2,#5c2,#6c2,#6c2,#6c2,#7c2,#8c2,#7c2,#6c2,#6c2,#6c2,#4a5,#396,#4a5,#4a4,#4a4,#4b3,#4b3,#6c2,#9c2,#6c2,#4a4,#4a5,#5b2,#4b3,#4b4,#5b3,#5b3,#5b2,#5c2,#5c2,#9c2,#ac2,#7c2,#5b3,#4b4,#4a4,#4b3,#5b3,#4a4,#4a4,#5b3,#4b4,#4b4,#4b3,#6c2,#9c2,#9c2,#6c2,#7c2,#8c2,#7c2,#5c2,#5b3,#5b3,#7c2,#8c2,#5c2,#7c2,#8c2,#7c2,#6c2,#6c2,#6c2,#6c2,#7c2,#8c2,#7c2,#7c2,#ac2,#ac2,#9c2,#9c2,#9c2,#8c2,#7c2)"></i>
<i style="top:84.03px;height:3.50px;background:linear-gradient(90deg,#5c2,#6c2,#7c2,#6c2,#5b3,#5b2,#6c2,#4a4,#4b3,#5c2,#5c2,#6c2,#6c2,#6c2,#6c2,#5b2,#5c2,#7c2,#bc2,#dc2,#cc2,#cc2,#ac2,#8c2,#9c2,#bc2,#ac2,#8c2,#8c2,#9c2,#cc2,#bc2,#cc2,#eb2,#cc2,#ac2,#9c2,#bc2,#cc2,#ac2,#ac2,#cc2,#dc2,#dc2,#bc2,#bc2,#cc2,#dc2,#eb2,#e92,#f61,#f41,#f41,#f71,#ea2,#dc2,#cc2,#cc2,#ac2,#8c2,#8c2,#6c2,#5c2,#5c2,#5c2,#5c2,#5c2,#8c2,#9c2,#6c2,#4b3,#5b3,#6c2,#5b3,#4b3,#5b3,#5c2,#6c2,#7c2,#5b2,#4b3,#6b2,#9c2,#7c2,#6c2,#6c2,#5b2,#8c2,#7c2,#5b2,#5c2,#5c2,#6c2,#7c2,#7c2,#8c2,#7c2,#6c2,#6c2,#5b2,#4a5,#396,#4a5,#4a4,#4b4,#5b3,#5b3,#7c2,#9c2,#5b2,#4a5,#4a4,#5b2,#4b3,#4b3,#5b2,#5b3,#5c2,#5c2,#6c2,#ac2,#ac2,#7c2,#5b3,#4a4,#4a4,#5b3,#5b3,#4a5,#4b4,#5b3,#4b4,#4b3,#5b3,#7c2,#ac2,#8c2,#5c2,#7c2,#8c2,#6c2,#5b2,#5b3,#5b3,#8c2,#7c2,#5c2,#7c2,#8c2,#7c2,#6c2,#6c2,#6c2,#6c2,#7c2,#8c2,#7c2,#8c2,#bc2,#ac2,#9c2,#9c2,#9c2,#8c2,#7c2)"></i>
<i style="top:87.03px;height:3.50px;background:linear-gradient(90deg,#5c2,#6c2,#7c2,#6c2,#5b3,#5c2,#5b3,#4a4,#4b3,#5c2,#5c2,#6c2,#6c2,#6c2,#6c2,#5b2,#5c2,#7c2,#bc2,#db2,#cc2,#cc2,#9c2,#8c2,#ac2,#bc2,#ac2,#8c2,#8c2,#ac2,#cc2,#bc2,#cc2,#eb2,#cc2,#ac2,#9c2,#bc2,#bc2,#ac2,#bc2,#cc2,#dc2,#dc2,#bc2,#bc2,#cc2,#dc2,#eb2,#e92,#f61,#f41,#f41,#e71,#eb2,#dc2,#dc2,#cc2,#9c2,#8c2,#8c2,#6c2,#5c2,#5c2,#5c2,#5c2,#6c2,#9c2,#9c2,#5b3,#4b3,#5b3,#6c2,#5b3,#4b3,#5b3,#5c2,#6c2,#7c2,#5b3,#4b3,#6c2,#9c2,#6c2,#6c2,#6c2,#6c2,#9c2,#7c2,#5b2,#5c2,#5c2,#6c2,#7c2,#7c2,#8c2,#7c2,#6c2,#6c2,#5b3,#495,#396,#4a5,#4a4,#4b3,#5b3,#5b2,#9c2,#9c2,#5b3,#4a5,#4b3,#5b2,#4b3,#4b3,#5c2,#5b2,#5c2,#5c2,#7c2,#ac2,#ac2,#7c2,#4b3,#4a4,#4b4,#5b3,#4b3,#4a5,#4b3,#5b3,#4a4,#4b3,#5b3,#7c2,#9c2,#7c2,#5c2,#7c2,#7c2,#5c2,#5b3,#4b3,#6c2,#9c2,#7c2,#6c2,#8c2,#8c2,#7c2,#6c2,#6c2,#6c2,#6c2,#7c2,#8c2,#7c2,#9c2,#bc2,#9c2,#9c2,#9c2,#9c2,#8c2,#7c2)"></i>
<i style="top:90.03px;height:3.50px;background:linear-gradient(90deg,#6c2,#7c2,#7c2,#6c2,#5b3,#6c2,#5b3,#4a4,#5b3,#5c2,#5c2,#6c2,#6c2,#6c2,#5c2,#5b3,#5c2,#8c2,#cb2,#db2,#cc2,#bc2,#9c2,#8c2,#ac2,#cc2,#ac2,#8c2,#8c2,#bc2,#cc2,#bc2,#dc2,#dc2,#bc2,#ac2,#9c2,#cc2,#bc2,#ac2,#bc2,#dc2,#dc2,#dc2,#bc2,#bc2,#dc2,#ec2,#eb2,#e82,#f61,#f41,#f41,#e82,#eb2,#dc2,#dc2,#bc2,#8c2,#7c2,#8c2,#6c2,#5c2,#5c2,#5c2,#5c2,#6c2,#9c2,#8c2,#5b3,#4b3,#6c2,#6c2,#4b3,#4b3,#5b3,#5c2,#6c2,#6c2,#5b3,#4b3,#7c2,#9c2,#6c2,#7c2,#5c2,#6c2,#ac2,#6c2,#5c2,#5c2,#5c2,#6c2,#7c2,#7c2,#8c2,#7c2,#6c2,#7c2,#5b3,#495,#4a5,#4a4,#4a4,#5b3,#5b2,#6c2,#ac2,#8c2,#5b3,#4a5,#5b3,#5b3,#4b3,#5b3,#5c2,#5c2,#6c2,#5c2,#8c2,#bc2,#ac2,#6c2,#4b3,#4a4,#4b3,#5c2,#4b3,#4a4,#5b3,#4b3,#4a4,#4b3,#5b2,#8c2,#9c2,#6c2,#5c2,#7c2,#7c2,#5b2,#5b3,#4b3,#6c2,#9c2,#6c2,#6c2,#8c2,#8c2,#7c2,#6c2,#6c2,#6c2,#6c2,#7c2,#8c2,#7c2,#9c2,#bc2,#9c2,#9c2,#9c2,#9c2,#8c2,#8c2)"></i>
<i style="top:93.03px;height:3.50px;background:linear-gradient(90deg,#7c2,#7c2,#8c2,#6c2,#5b2,#6c2,#5b3,#4a4,#5b3,#5c2,#5c2,#6c2,#6c2,#6c2,#5c2,#5b3,#6c2,#8c2,#db2,#db2,#cc2,#bc2,#8c2,#9c2,#bc2,#cc2,#9c2,#8c2,#9c2,#cc2,#cc2,#bc2,#dc2,#dc2,#bc2,#9c2,#ac2,#cc2,#bc2,#ac2,#cc2,#dc2,#ec2,#cc2,#ac2,#bc2,#dc2,#ec2,#eb2,#e82,#f51,#f41,#f51,#e92,#dc2,#dc2,#dc2,#ac2,#8c2,#7c2,#7c2,#5c2,#5b2,#5b2,#5c2,#5c2,#7c2,#9c2,#7c2,#5b3,#4b3,#6c2,#6c2,#4b3,#5b3,#5b2,#5c2,#6c2,#6c2,#4b3,#5b3,#8c2,#9c2,#6c2,#7c2,#5c2,#8c2,#ac2,#6c2,#5c2,#5c2,#6c2,#6c2,#7c2,#8c2,#9c2,#7c2,#7c2,#7c2,#4b3,#4a5,#4a5,#4a4,#4b3,#5c2,#5c2,#7c2,#ac2,#7c2,#4b3,#4a4,#5b3,#5b3,#4b3,#5b3,#5c2,#5c2,#6c2,#5c2,#9c2,#bc2,#9c2,#6c2,#4b3,#4b4,#5b3,#5c2,#4b3,#4b3,#5c2,#4b3,#4b4,#4b3,#6c2,#8c2,#8c2,#6c2,#5c2,#7c2,#6c2,#5b2,#5b3,#5b3,#7c2,#9c2,#6c2,#6c2,#8c2,#8c2,#7c2,#6c2,#6c2,#6c2,#6c2,#8c2,#8c2,#7c2,#ac2,#ac2,#9c2,#9c2,#9c2,#9c2,#7c2,#8c2)"></i>
<i style="top:96.03px;height:3.50px;background:linear-gradient(90deg,#8c2,#8c2,#8c2,#6c2,#5c2,#6c2,#4b3,#4b4,#5b2,#5c2,#5c2,#6c2,#6c2,#6c2,#5c2,#5b3,#6c2,#9c2,#db2,#dc2,#cc2,#ac2,#8c2,#9c2,#cc2,#cc2,#9c2,#8c2,#ac2,#dc2,#cc2,#bc2,#dc2,#cc2,#ac2,#9c2,#ac2,#bc2,#ac2,#ac2,#cc2,#ec2,#dc2,#cc2,#ac2,#bc2,#dc2,#ec2,#ea2,#e82,#f51,#f41,#f51,#e92,#dc2,#dc2,#cc2,#ac2,#7c2,#7c2,#7c2,#5c2,#5b2,#5b2,#5c2,#5c2,#7c2,#9c2,#7c2,#4b3,#5b3,#6c2,#5c2,#5b3,#5b3,#5b2,#5c2,#6c2,#6c2,#4b3,#5b3,#9c2,#8c2,#6c2,#6c2,#5c2,#9c2,#9c2,#5c2,#5c2,#5c2,#6c2,#6c2,#7c2,#8c2,#9c2,#7c2,#7c2,#7c2,#4b3,#4a5,#4a4,#4a4,#5b3,#5c2,#5c2,#8c2,#ac2,#6c2,#4b4,#4a4,#5b3,#4b3,#4b3,#5b3,#5c2,#5c2,#5c2,#6c2,#9c2,#bc2,#9c2,#6c2,#4b3,#4b4,#5b3,#5c2,#4b3,#5b3,#5c2,#4b3,#4b4,#5b3,#6c2,#8c2,#8c2,#5b2,#6c2,#7c2,#6c2,#5b3,#5b3,#5b3,#8c2,#8c2,#5c2,#7c2,#8c2,#8c2,#7c2,#6c2,#6c2,#6c2,#6c2,#8c2,#7c2,#7c2,#ac2,#ac2,#9c2,#8c2,#9c2,#8c2,#7c2,#8c2)"></i>
<i style="top:99.03px;height:3.50px;background:linear-gradient(90deg,#9c2,#9c2,#8c2,#6c2,#5c2,#6c2,#4b3,#4b3,#5c2,#5c2,#6c2,#6c2,#5c2,#6c2,#5b2,#5b3,#6c2,#ac2,#eb2,#dc2,#cc2,#ac2,#8c2,#ac2,#cc2,#cc2,#9c2,#9c2,#ac2,#dc2,#cc2,#bc2,#dc2,#cc2,#ac2,#8c2,#ac2,#bc2,#ac2,#ac2,#dc2,#ec2,#dc2,#bc2,#ac2,#bc2,#dc2,#ec2,#ea2,#e72,#f51,#f41,#f61,#ea2,#dc2,#dc2,#cc2,#9c2,#7c2,#7c2,#7c2,#5c2,#5b2,#5b2,#5c2,#6c2,#8c2,#9c2,#6c2,#4b3,#5b2,#7c2,#5b2,#5b3,#5b2,#5b2,#5c2,#6c2,#5c2,#4b3,#6b2,#9c2,#8c2,#7c2,#6c2,#5c2,#9c2,#8c2,#5c2,#6c2,#5c2,#6c2,#6c2,#7c2,#8c2,#9c2,#8c2,#8c2,#6c2,#4b3,#4a4,#4a4,#4b4,#5b2,#6c2,#6c2,#9c2,#ac2,#6c2,#4a4,#4a4,#5b3,#4b3,#4b3,#5b2,#5c2,#6c2,#5c2,#6c2,#ac2,#bc2,#8c2,#5c2,#4b3,#4b3,#5c2,#6c2,#4b3,#5c2,#5b2,#4b3,#4b3,#5b2,#6c2,#8c2,#7c2,#5b2,#6c2,#7c2,#5c2,#5b3,#4b3,#5b3,#9c2,#7c2,#5c2,#7c2,#8c2,#8c2,#8c2,#6c2,#6c2,#6c2,#6c2,#8c2,#7c2,#8c2,#bc2,#ac2,#9c2,#8c2,#8c2,#8c2,#7c2,#8c2)"></i>
<i style="top:102.03px;height:3.50px;background:linear-gradient(90deg,#9c2,#9c2,#8c2,#6c2,#5c2,#6c2,#4b3,#4b3,#5c2,#5b2,#6c2,#6c2,#5c2,#6c2,#5b2,#5b3,#6c2,#ac2,#eb2,#cc2,#cc2,#9c2,#8c2,#ac2,#dc2,#bc2,#9c2,#9c2,#bc2,#ec2,#bc2,#bc2,#dc2,#cc2,#ac2,#8c2,#ac2,#bc2,#9c2,#ac2,#dc2,#eb2,#dc2,#bc2,#ac2,#cc2,#dc2,#ec2,#ea2,#e72,#f61,#f51,#f71,#eb2,#dc2,#dc2,#bc2,#8c2,#7c2,#7c2,#6c2,#5c2,#5b3,#5b2,#5c2,#6c2,#8c2,#8c2,#6c2,#5b3,#6c2,#7c2,#5b2,#5b3,#5b2,#5b2,#5c2,#6c2,#5b2,#4b3,#6c2,#ac2,#7c2,#7c2,#6c2,#6c2,#ac2,#8c2,#5c2,#6c2,#6c2,#6c2,#7c2,#7c2,#9c2,#ac2,#8c2,#8c2,#6c2,#4b3,#4a4,#4b4,#4b3,#6c2,#6c2,#7c2,#ac2,#9c2,#5b2,#4a4,#4b3,#5b3,#4b3,#4b3,#5c2,#5c2,#6c2,#5c2,#7c2,#ac2,#ac2,#8c2,#5b2,#4b3,#4b3,#6c2,#6c2,#5b3,#6c2,#5b3,#4b3,#4b3,#5c2,#7c2,#8c2,#6c2,#5b3,#6c2,#6c2,#5b2,#5b3,#4b3,#6c2,#9c2,#7c2,#6c2,#7c2,#8c2,#8c2,#8c2,#6c2,#6c2,#6c2,#7c2,#9c2,#7c2,#8c2,#bc2,#ac2,#8c2,#8c2,#8c2,#7c2,#7c2,#8c2)"></i>
<i style="top:105.03px;height:3.50px;background:linear-gradient(90deg,#ac2,#ac2,#8c2,#6c2,#6c2,#6c2,#4b3,#5b3,#5c2,#5b2,#6c2,#6c2,#5c2,#6c2,#5b3,#5b3,#6c2,#bb2,#eb2,#cc2,#cc2,#9c2,#8c2,#bc2,#dc2,#bc2,#9c2,#9c2,#cc2,#eb2,#bc2,#bc2,#dc2,#bc2,#9c2,#8c2,#ac2,#ac2,#9c2,#bc2,#db2,#eb2,#dc2,#ac2,#ac2,#cc2,#dc2,#ec2,#ea2,#e72,#f61,#f51,#e82,#eb2,#dc2,#dc2,#bc2,#8c2,#7c2,#7c2,#6c2,#5b2,#5b3,#5b2,#5c2,#7c2,#8c2,#8c2,#5b2,#5b3,#6c2,#7c2,#5b2,#5c2,#5b2,#5b3,#5c2,#6c2,#5b2,#4b3,#7c2,#ac2,#7c2,#7c2,#6c2,#6c2,#ac2,#7c2,#6c2,#6c2,#6c2,#7c2,#7c2,#8c2,#9c2,#ac2,#8c2,#9c2,#6c2,#4b3,#4b3,#4b3,#5b3,#7c2,#7c2,#8c2,#bc2,#8c2,#5b3,#4a4,#4b3,#5b3,#4b3,#4b3,#5c2,#5c2,#6c2,#5c2,#8c2,#ac2,#ac2,#8c2,#5b2,#4b3,#5b3,#6c2,#5c2,#5b2,#6c2,#5b3,#4b3,#4b3,#5c2,#7c2,#8c2,#6c2,#5b2,#6c2,#6c2,#5b2,#5b3,#5b3,#7c2,#9c2,#6c2,#6c2,#7c2,#9c2,#9c2,#8c2,#6c2,#6c2,#6c2,#8c2,#8c2,#6c2,#9c2,#bc2,#ac2,#8c2,#7c2,#8c2,#7c2,#7c2,#8c2)"></i>
<i style="top:108.03px;height:3.50px;background:linear-gradient(90deg,#ac2,#ac2,#8c2,#6c2,#6c2,#5c2,#4b3,#5b3,#5c2,#5b2,#6c2,#5c2,#6c2,#6c2,#5b3,#5b3,#7c2,#cb2,#db2,#cc2,#bc2,#8c2,#9c2,#cc2,#dc2,#bc2,#9c2,#ac2,#cc2,#db2,#bc2,#bc2,#cc2,#bc2,#9c2,#9c2,#ac2,#ac2,#9c2,#bc2,#eb2,#eb2,#cc2,#ac2,#ac2,#cc2,#dc2,#ec2,#ea2,#e82,#f61,#f61,#e92,#dc2,#cc2,#cc2,#9c2,#7c2,#6c2,#7c2,#6c2,#5b2,#5b3,#5c2,#6c2,#7c2,#8c2,#7c2,#5b2,#5b3,#7c2,#6c2,#5b2,#5c2,#5b2,#5b3,#5c2,#6c2,#5b3,#5b3,#8c2,#9c2,#7c2,#7c2,#5c2,#7c2,#ac2,#6c2,#6c2,#5c2,#6c2,#7c2,#7c2,#8c2,#ac2,#ac2,#9c2,#8c2,#6c2,#4b3,#4b3,#4b3,#5b3,#7c2,#7c2,#9c2,#bc2,#7c2,#5b3,#4a4,#5b3,#5b3,#4b3,#5b3,#5c2,#5c2,#6c2,#6c2,#8c2,#ac2,#ac2,#7c2,#5b3,#4b3,#5b2,#6c2,#5c2,#5c2,#6c2,#5b3,#4b3,#5b3,#6c2,#7c2,#7c2,#5b2,#5b2,#6c2,#5c2,#5b2,#5b3,#5b3,#8c2,#9c2,#6c2,#6c2,#7c2,#9c2,#9c2,#7c2,#6c2,#6c2,#6c2,#8c2,#8c2,#6c2,#9c2,#bc2,#9c2,#7c2,#7c2,#8c2,#7c2,#7c2,#7c2)"></i>
<i style="top:111.03px;height:3.50px;background:linear-gradient(90deg,#ac2,#9c2,#8c2,#6c2,#6c2,#5b2,#4b3,#5b2,#5b2,#5b2,#6c2,#5c2,#6c2,#6c2,#5b3,#5b2,#7c2,#cb2,#db2,#cc2,#bc2,#8c2,#9c2,#cc2,#dc2,#ac2,#9c2,#ac2,#dc2,#db2,#bc2,#bc2,#cc2,#bc2,#9c2,#9c2,#ac2,#9c2,#9c2,#cc2,#ea2,#eb2,#cc2,#ac2,#ac2,#cc2,#dc2,#ec2,#ea2,#e82,#e72,#f71,#ea2,#cc2,#cc2,#bc2,#8c2,#6c2,#6c2,#6c2,#5c2,#5b3,#5b3,#5c2,#6c2,#7c2,#8c2,#7c2,#5b2,#5b2,#7c2,#6c2,#5c2,#5c2,#5b3,#5b3,#5c2,#6c2,#5b3,#5b3,#8c2,#9c2,#7c2,#6c2,#5c2,#8c2,#9c2,#6c2,#5c2,#5c2,#6c2,#6c2,#6c2,#8c2,#ac2,#ac2,#9c2,#8c2,#5c2,#4b3,#4b3,#4b3,#6c2,#8c2,#7c2,#ac2,#bc2,#7c2,#5b3,#4b4,#5b3,#5b3,#4b3,#5b3,#5c2,#6c2,#6c2,#6c2,#9c2,#ac2,#ac2,#7c2,#5b3,#4b3,#5c2,#6c2,#5c2,#6c2,#6c2,#4b3,#4b3,#5b3,#6c2,#7c2,#7c2,#5b2,#5c2,#6c2,#5c2,#5b2,#5b3,#5b3,#8c2,#8c2,#6c2,#6c2,#8c2,#9c2,#9c2,#7c2,#6c2,#6c2,#6c2,#9c2,#8c2,#6c2,#ac2,#ac2,#9c2,#7c2,#7c2,#7c2,#6c2,#7c2,#7c2)"></i>
<i style="top:114.03px;height:3.50px;background:linear-gradient(90deg,#ac2,#9c2,#8c2,#6c2,#6c2,#5b3,#4b3,#5c2,#5b2,#5b2,#6c2,#5c2,#6c2,#5c2,#5b3,#5b2,#8c2,#db2,#db2,#cc2,#ac2,#8c2,#ac2,#dc2,#dc2,#ac2,#9c2,#bc2,#db2,#db2,#ac2,#bc2,#cc2,#ac2,#8c2,#9c2,#ac2,#9c2,#9c2,#cc2,#ea2,#db2,#bc2,#ac2,#bc2,#dc2,#dc2,#dc2,#ea2,#e92,#e82,#e82,#db2,#bc2,#bc2,#ac2,#7c2,#5c2,#5c2,#6c2,#5c2,#5b3,#5b3,#5c2,#7c2,#8c2,#8c2,#6c2,#5b3,#5c2,#7c2,#6c2,#5c2,#6c2,#5b3,#5b3,#5c2,#6c2,#5b3,#5b3,#9c2,#8c2,#6c2,#6c2,#5c2,#8c2,#8c2,#5c2,#5c2,#5c2,#6c2,#6c2,#6c2,#8c2,#bc2,#ac2,#9c2,#8c2,#5c2,#4b3,#4b3,#4b3,#7c2,#8c2,#8c2,#bc2,#ac2,#6c2,#4b3,#4b3,#5b2,#5b3,#4b3,#5b2,#6c2,#6c2,#6c2,#7c2,#9c2,#ac2,#9c2,#7c2,#5b3,#5b3,#6c2,#6c2,#5c2,#6c2,#6c2,#4b3,#4b3,#5b2,#6c2,#6c2,#6c2,#5b3,#5c2,#6c2,#5b2,#5b2,#5b3,#5b2,#9c2,#8c2,#6c2,#6c2,#8c2,#ac2,#9c2,#7c2,#6c2,#6c2,#6c2,#9c2,#7c2,#7c2,#ac2,#ac2,#8c2,#6c2,#7c2,#7c2,#6c2,#7c2,#7c2)"></i>
<i style="top:117.04px;height:3.50px;background:linear-gradient(90deg,#ac2,#9c2,#7c2,#6c2,#5c2,#5b3,#4b3,#5c2,#5b3,#5b2,#6c2,#5c2,#6c2,#5b2,#5b3,#5b2,#8c2,#db2,#cc2,#cc2,#ac2,#8c2,#ac2,#dc2,#dc2,#ac2,#9c2,#bc2,#db2,#cc2,#ac2,#bc2,#bc2,#ac2,#8c2,#9c2,#ac2,#9c2,#ac2,#db2,#ea2,#dc2,#bc2,#ac2,#bc2,#dc2,#dc2,#dc2,#eb2,#e92,#e82,#e92,#dc2,#bc2,#ac2,#9c2,#5c2,#5b3,#5c2,#5c2,#5b2,#5b3,#5b3,#6c2,#7c2,#8c2,#7c2,#6c2,#5b3,#6c2,#7c2,#6c2,#6c2,#6c2,#5b3,#5b3,#6c2,#6c2,#5b3,#6c2,#9c2,#8c2,#6c2,#6c2,#5b2,#8c2,#7c2,#5c2,#5c2,#5c2,#6c2,#6c2,#6c2,#9c2,#bc2,#ac2,#ac2,#7c2,#5c2,#4b3,#4b3,#5b3,#7c2,#8c2,#8c2,#bc2,#ac2,#5c2,#4b3,#4b3,#5c2,#5b3,#4b3,#5c2,#6c2,#6c2,#6c2,#7c2,#9c2,#ac2,#9c2,#6c2,#5b3,#5b3,#6c2,#6c2,#5c2,#7c2,#6c2,#4b3,#4b3,#5b2,#6c2,#6c2,#6c2,#5b2,#6c2,#6c2,#5b2,#5b2,#5b3,#6c2,#9c2,#7c2,#6c2,#6c2,#8c2,#ac2,#9c2,#7c2,#6c2,#5c2,#7c2,#9c2,#6c2,#7c2,#bc2,#ac2,#8c2,#6c2,#7c2,#7c2,#6c2,#7c2,#7c2)"></i>
<i style="top:120.04px;height:3.50px;background:linear-gradient(90deg,#9c2,#9c2,#7c2,#5c2,#5c2,#5b3,#5b3,#5c2,#5b3,#5b2,#5c2,#5c2,#6c2,#5b2,#5b3,#5b2,#9c2,#eb2,#cc2,#bc2,#9c2,#8c2,#bc2,#dc2,#dc2,#9c2,#ac2,#bc2,#eb2,#cc2,#ac2,#bc2,#bc2,#ac2,#8c2,#9c2,#9c2,#9c2,#ac2,#db2,#ea2,#dc2,#ac2,#ac2,#bc2,#dc2,#dc2,#dc2,#eb2,#ea2,#e92,#ea2,#cc2,#ac2,#9c2,#7c2,#5b3,#4b3,#5b2,#5c2,#5b2,#4b3,#5b3,#6c2,#8c2,#7c2,#7c2,#6c2,#5b2,#6c2,#7c2,#5c2,#6c2,#6c2,#5b3,#5b3,#6c2,#6c2,#5b3,#6c2,#9c2,#7c2,#6c2,#5c2,#5b2,#8c2,#7c2,#5c2,#5c2,#5c2,#7c2,#6c2,#6c2,#9c2,#bc2,#ac2,#ac2,#7c2,#5c2,#4b3,#4b3,#5b3,#8c2,#9c2,#9c2,#cc2,#9c2,#5c2,#4b3,#5b3,#5c2,#5b3,#5b3,#6c2,#6c2,#6c2,#6c2,#8c2,#9c2,#ac2,#9c2,#6c2,#5b3,#5b3,#6c2,#6c2,#6c2,#7c2,#5b3,#4b3,#4b3,#5c2,#6c2,#6c2,#6c2,#5b2,#6c2,#5c2,#5b2,#5b2,#5b3,#6c2,#9c2,#7c2,#6c2,#6c2,#9c2,#ac2,#9c2,#7c2,#6c2,#5c2,#7c2,#9c2,#6c2,#8c2,#bc2,#ac2,#7c2,#6c2,#6c2,#6c2,#6c2,#7c2,#7c2)"></i>
<i style="top:123.04px;height:3.50px;background:linear-gradient(90deg,#9c2,#9c2,#7c2,#5c2,#5c2,#5b3,#5b3,#5c2,#5b3,#5c2,#5c2,#5c2,#6c2,#5b2,#5b3,#5c2,#ab2,#eb2,#cc2,#bc2,#9c2,#9c2,#cc2,#eb2,#cc2,#9c2,#ac2,#cc2,#eb2,#cc2,#ac2,#bc2,#bc2,#ac2,#8c2,#9c2,#9c2,#9c2,#ac2,#da2,#ea2,#cc2,#ac2,#9c2,#bc2,#dc2,#dc2,#dc2,#eb2,#ea2,#e92,#ea2,#cc2,#ac2,#9c2,#6c2,#4b3,#4b3,#5b3,#5c2,#5b3,#4b3,#5b2,#7c2,#8c2,#7c2,#7c2,#5c2,#5b2,#7c2,#7c2,#6c2,#7c2,#6c2,#5b3,#5b3,#7c2,#7c2,#5b3,#6c2,#8c2,#7c2,#6c2,#5b2,#5c2,#8c2,#6c2,#5c2,#5c2,#6c2,#7c2,#6c2,#7c2,#ac2,#bc2,#ac2,#ac2,#7c2,#5c2,#5b3,#4b3,#6c2,#9c2,#9c2,#ac2,#cc2,#8c2,#5b2,#4b3,#5b2,#5c2,#5b3,#5b3,#6c2,#6c2,#6c2,#7c2,#8c2,#9c2,#ac2,#9c2,#6c2,#5b3,#5b2,#6c2,#5c2,#6c2,#7c2,#5b3,#4b3,#4b3,#5c2,#6c2,#6c2,#5c2,#5c2,#6c2,#5c2,#5b2,#5b2,#5b3,#7c2,#9c2,#6c2,#6c2,#6c2,#9c2,#ac2,#8c2,#6c2,#6c2,#5c2,#8c2,#8c2,#6c2,#8c2,#ac2,#9c2,#7c2,#5c2,#6c2,#6c2,#6c2,#7c2,#7c2)"></i>
<i style="top:126.04px;height:3.50px;background:linear-gradient(90deg,#9c2,#9c2,#7c2,#5c2,#5c2,#5b3,#5b2,#5c2,#5b3,#5c2,#6c2,#5c2,#6c2,#5b2,#5b3,#5c2,#bb2,#da2,#cc2,#bc2,#9c2,#9c2,#cc2,#eb2,#cc2,#ac2,#ac2,#cc2,#eb2,#cc2,#ac2,#bc2,#bc2,#ac2,#8c2,#9c2,#9c2,#9c2,#bc2,#ea2,#ea2,#cc2,#ac2,#9c2,#bc2,#dc2,#cc2,#dc2,#eb2,#ea2,#e92,#ea2,#cc2,#ac2,#9c2,#6c2,#4b3,#4b3,#5b3,#5c2,#5b3,#4b3,#5c2,#8c2,#8c2,#7c2,#6c2,#5b2,#5c2,#7c2,#6c2,#6c2,#7c2,#5c2,#5b3,#5b2,#7c2,#7c2,#5b3,#6c2,#8c2,#7c2,#6c2,#5b2,#6c2,#7c2,#6c2,#5c2,#5c2,#6c2,#7c2,#6c2,#7c2,#bc2,#cc2,#bc2,#ac2,#7c2,#5c2,#5b3,#5b3,#6c2,#ac2,#9c2,#bc2,#bc2,#7c2,#5b3,#4b3,#5b2,#5c2,#5b3,#5b3,#6c2,#6c2,#7c2,#7c2,#9c2,#9c2,#ac2,#9c2,#6c2,#5b2,#5c2,#6c2,#5c2,#7c2,#7c2,#5b3,#4b3,#5b3,#5c2,#5c2,#6c2,#5c2,#5c2,#6c2,#5b2,#5b2,#5b2,#5b2,#7c2,#8c2,#6c2,#6c2,#7c2,#9c2,#ac2,#8c2,#6c2,#6c2,#5c2,#9c2,#8c2,#6c2,#9c2,#ac2,#9c2,#6c2,#5c2,#6c2,#6c2,#6c2,#7c2,#7c2)"></i>
<i style="top:129.04px;height:3.50px;background:linear-gradient(90deg,#9c2,#9c2,#7c2,#5c2,#5c2,#5b3,#5c2,#5b2,#5b3,#6c2,#6c2,#6c2,#7c2,#5b2,#5b3,#6c2,#bb2,#db2,#cc2,#bc2,#9c2,#ac2,#dc2,#eb2,#cc2,#ac2,#bc2,#dc2,#eb2,#bc2,#ac2,#bc2,#bc2,#9c2,#9c2,#9c2,#8c2,#9c2,#bc2,#ea2,#ea2,#bc2,#9c2,#9c2,#bc2,#cc2,#cc2,#dc2,#ec2,#eb2,#e92,#eb2,#cc2,#ac2,#9c2,#6c2,#4b3,#4b3,#5b3,#5c2,#5b3,#5b3,#6c2,#8c2,#8c2,#6c2,#6c2,#5b2,#5c2,#7c2,#6c2,#6c2,#8c2,#5b2,#5b3,#5b2,#8c2,#6c2,#5b3,#7c2,#8c2,#6c2,#6c2,#5b2,#6c2,#7c2,#5c2,#5c2,#5c2,#7c2,#7c2,#6c2,#8c2,#bc2,#cc2,#bc2,#9c2,#7c2,#5c2,#5b3,#5b2,#7c2,#bc2,#ac2,#bc2,#bc2,#6c2,#5b3,#5b3,#5c2,#5b2,#4b3,#5b2,#6c2,#6c2,#7c2,#8c2,#9c2,#9c2,#ac2,#9c2,#6c2,#5b2,#6c2,#6c2,#5c2,#7c2,#7c2,#4b3,#4b3,#5b3,#5c2,#5c2,#5c2,#5c2,#5c2,#5c2,#5b2,#5b2,#5b2,#5c2,#8c2,#8c2,#6c2,#6c2,#7c2,#ac2,#ac2,#8c2,#6c2,#5c2,#6c2,#9c2,#7c2,#6c2,#9c2,#ac2,#8c2,#6c2,#5c2,#6c2,#6c2,#6c2,#7c2,#7c2)"></i>
<i style="top:132.04px;height:3.50px;background:linear-gradient(90deg,#9c2,#9c2,#6c2,#5c2,#5b2,#5b3,#5c2,#5b2,#5b3,#6c2,#5c2,#6c2,#7c2,#5b2,#5b2,#6c2,#cb2,#db2,#cc2,#bc2,#9c2,#ac2,#dc2,#ea2,#cc2,#ac2,#bc2,#dc2,#db2,#bc2,#bc2,#bc2,#bc2,#9c2,#9c2,#9c2,#8c2,#9c2,#cc2,#e92,#db2,#bc2,#9c2,#9c2,#bc2,#cc2,#cc2,#dc2,#ec2,#eb2,#e92,#db2,#cc2,#ac2,#8c2,#5b2,#4b3,#4b3,#5b3,#5c2,#5b3,#5b3,#7c2,#9c2,#8c2,#6c2,#6c2,#5b2,#6c2,#7c2,#6c2,#7c2,#8c2,#5b2,#5b3,#5b2,#8c2,#6c2,#5b3,#7c2,#7c2,#6c2,#5c2,#5b3,#6c2,#7c2,#5c2,#5c2,#5c2,#7c2,#7c2,#6c2,#8c2,#cc2,#cc2,#bc2,#9c2,#7c2,#5c2,#5b2,#5c2,#8c2,#bc2,#ac2,#cc2,#ac2,#5c2,#5b3,#5b3,#5c2,#5b2,#4b3,#5c2,#6c2,#6c2,#7c2,#8c2,#9c2,#9c2,#ac2,#9c2,#6c2,#5c2,#6c2,#6c2,#5c2,#8c2,#6c2,#4b3,#4b3,#5b2,#5c2,#5c2,#5c2,#5c2,#5c2,#5c2,#5b3,#5b2,#5b2,#5c2,#8c2,#7c2,#6c2,#6c2,#7c2,#ac2,#ac2,#7c2,#6c2,#5c2,#6c2,#9c2,#7c2,#6c2,#9c2,#ac2,#8c2,#5c2,#5c2,#6c2,#5c2,#6c2,#7c2,#7c2)"></i>
<i style="top:135.04px;height:3.50px;background:linear-gradient(90deg,#9c2,#8c2,#6c2,#5c2,#5b2,#5b3,#6c2,#5b3,#5b3,#6c2,#5c2,#6c2,#7c2,#5c2,#5c2,#7c2,#da2,#db2,#cc2,#bc2,#9c2,#bc2,#eb2,#ea2,#cc2,#ac2,#bc2,#db2,#db2,#bc2,#bc2,#bc2,#bc2,#9c2,#9c2,#9c2,#8c2,#9c2,#cc2,#e92,#db2,#ac2,#9c2,#9c2,#bc2,#cc2,#cc2,#cc2,#dc2,#eb2,#e92,#db2,#cc2,#ac2,#8c2,#5b3,#4b3,#4b3,#5b2,#5c2,#5b3,#5b3,#7c2,#9c2,#7c2,#6c2,#6c2,#5b2,#6c2,#7c2,#6c2,#8c2,#8c2,#5b3,#5b3,#6c2,#9c2,#6c2,#5b2,#6c2,#7c2,#6c2,#5c2,#5b2,#6c2,#6c2,#5c2,#5c2,#6c2,#8c2,#6c2,#6c2,#9c2,#dc2,#cc2,#bc2,#9c2,#7c2,#5c2,#5c2,#6c2,#9c2,#bc2,#bc2,#cc2,#9c2,#5c2,#5b3,#5b3,#5c2,#5b2,#5b3,#5c2,#7c2,#6c2,#7c2,#8c2,#9c2,#9c2,#bc2,#9c2,#6c2,#5c2,#6c2,#6c2,#6c2,#8c2,#6c2,#4b3,#4b3,#5c2,#5c2,#5c2,#5c2,#5c2,#5c2,#5c2,#5b3,#5b2,#5b2,#6c2,#8c2,#7c2,#6c2,#6c2,#7c2,#ac2,#ac2,#7c2,#6c2,#5c2,#6c2,#9c2,#6c2,#6c2,#9c2,#ac2,#8c2,#5c2,#6c2,#6c2,#5c2,#6c2,#7c2,#7c2)"></i>
<i style="top:138.04px;height:3.50px;background:linear-gradient(90deg,#9c2,#8c2,#6c2,#5c2,#5b2,#5b2,#6c2,#5b3,#5b3,#6c2,#5c2,#7c2,#7c2,#5c2,#5c2,#8c2,#da2,#cb2,#cc2,#bc2,#ac2,#cc2,#eb2,#ea2,#cc2,#bc2,#bc2,#db2,#db2,#bc2,#bc2,#bc2,#bc2,#9c2,#9c2,#9c2,#8c2,#9c2,#cb2,#e92,#dc2,#ac2,#9c2,#9c2,#bc2,#bc2,#bc2,#cc2,#dc2,#eb2,#e92,#db2,#cc2,#ac2,#8c2,#5b3,#4b3,#4b3,#5b2,#5c2,#5b3,#5b2,#8c2,#9c2,#7c2,#6c2,#5c2,#5b2,#6c2,#6c2,#6c2,#8c2,#8c2,#5b3,#5b3,#6c2,#9c2,#6c2,#5b3,#6c2,#7c2,#6c2,#5c2,#5b2,#6c2,#6c2,#5c2,#5c2,#6c2,#8c2,#6c2,#6c2,#9c2,#dc2,#cc2,#bc2,#9c2,#7c2,#5c2,#5c2,#7c2,#ac2,#cc2,#bc2,#cc2,#8c2,#5b2,#5b3,#5b3,#5c2,#5b3,#5b3,#6c2,#7c2,#6c2,#7c2,#8c2,#9c2,#9c2,#bc2,#9c2,#6c2,#5c2,#6c2,#5c2,#6c2,#8c2,#5b2,#4b3,#4b3,#5c2,#5c2,#5c2,#5c2,#5c2,#5c2,#5b2,#5b3,#5b2,#5b2,#6c2,#8c2,#6c2,#6c2,#6c2,#8c2,#bc2,#9c2,#7c2,#6c2,#5c2,#7c2,#9c2,#6c2,#7c2,#9c2,#9c2,#7c2,#5c2,#6c2,#6c2,#5c2,#6c2,#7c2,#7c2)"></i>
<i style="top:141.04px;height:3.50px;background:linear-gradient(90deg,#9c2,#8c2,#6c2,#5c2,#5b3,#5b2,#6c2,#5b3,#5b3,#6c2,#5c2,#7c2,#7c2,#5c2,#5c2,#8c2,#da2,#cc2,#cc2,#ac2,#ac2,#cc2,#ea2,#ea2,#cc2,#bc2,#cc2,#db2,#dc2,#bc2,#bc2,#bc2,#ac2,#9c2,#9c2,#9c2,#8c2,#ac2,#db2,#e92,#cc2,#ac2,#8c2,#9c2,#bc2,#bc2,#bc2,#cc2,#dc2,#eb2,#e92,#eb2,#cc2,#ac2,#7c2,#5b3,#4b3,#4b3,#5b2,#5c2,#5b3,#5b2,#9c2,#9c2,#6c2,#6c2,#5c2,#5b2,#6c2,#6c2,#6c2,#9c2,#7c2,#5b3,#5b3,#7c2,#9c2,#6c2,#5b3,#6c2,#7c2,#6c2,#5b2,#5b2,#6c2,#6c2,#5c2,#5c2,#7c2,#8c2,#6c2,#7c2,#ac2,#dc2,#cc2,#bc2,#8c2,#7c2,#5c2,#6c2,#7c2,#bc2,#cc2,#cc2,#cc2,#7c2,#5b3,#5b3,#5b2,#5c2,#5b3,#5b3,#6c2,#6c2,#6c2,#7c2,#8c2,#9c2,#9c2,#bc2,#9c2,#6c2,#6c2,#6c2,#5c2,#7c2,#8c2,#5b3,#4b3,#5b3,#5c2,#5c2,#5c2,#5c2,#5c2,#5c2,#5b2,#5b2,#5c2,#5c2,#7c2,#8c2,#6c2,#6c2,#6c2,#8c2,#bc2,#9c2,#7c2,#6c2,#5c2,#7c2,#8c2,#6c2,#7c2,#9c2,#9c2,#7c2,#5c2,#6c2,#6c2,#5c2,#6c2,#7c2,#7c2)"></i>
<i style="top:144.04px;height:3.50px;background:linear-gradient(90deg,#9c2,#8c2,#6c2,#5c2,#5b3,#5c2,#6c2,#4b3,#5b3,#6c2,#5c2,#7c2,#7c2,#5b2,#5c2,#9c2,#eb2,#cc2,#bc2,#ac2,#ac2,#dc2,#ea2,#ea2,#cc2,#bc2,#cc2,#eb2,#dc2,#bc2,#bc2,#bc2,#ac2,#9c2,#9c2,#9c2,#8c2,#ac2,#db2,#ea2,#cc2,#ac2,#8c2,#9c2,#bc2,#bc2,#bc2,#cc2,#dc2,#ea2,#e92,#ec2,#cc2,#ac2,#7c2,#5b3,#4b3,#4b3,#5b2,#5c2,#5b3,#6c2,#9c2,#9c2,#6c2,#5c2,#5b2,#5b2,#6c2,#6c2,#6c2,#9c2,#7c2,#5b3,#5b3,#8c2,#ac2,#5b2,#5b3,#6c2,#6c2,#6c2,#5b3,#5b2,#6c2,#5c2,#5c2,#5c2,#7c2,#8c2,#6c2,#7c2,#bc2,#dc2,#cc2,#ac2,#8c2,#7c2,#6c2,#6c2,#8c2,#cc2,#cc2,#cc2,#cc2,#6c2,#5b3,#5b3,#5b2,#5c2,#5b3,#5b3,#6c2,#6c2,#6c2,#8c2,#8c2,#8c2,#9c2,#bc2,#9c2,#6c2,#6c2,#6c2,#5c2,#7c2,#8c2,#5b3,#4b3,#5b3,#6c2,#5c2,#5c2,#5c2,#5c2,#5c2,#5b2,#5b2,#5c2,#5c2,#7c2,#7c2,#6c2,#6c2,#6c2,#9c2,#bc2,#9c2,#7c2,#5c2,#5c2,#7c2,#8c2,#6c2,#7c2,#9c2,#9c2,#7c2,#5c2,#6c2,#6c2,#5c2,#7c2,#7c2,#7c2)"></i>
<i style="top:147.04px;height:3.50px;background:linear-gradient(90deg,#8c2,#8c2,#5c2,#5c2,#5b3,#5c2,#6c2,#4b3,#5b3,#6c2,#6c2,#8c2,#6c2,#5b2,#5c2,#ac2,#eb2,#cc2,#bc2,#ac2,#ac2,#dc2,#e92,#ea2,#cc2,#bc2,#cc2,#eb2,#cc2,#bc2,#bc2,#bc2,#ac2,#9c2,#9c2,#8c2,#9c2,#ac2,#db2,#ea2,#cc2,#9c2,#8c2,#9c2,#bc2,#bc2,#bc2,#cc2,#dc2,#ea2,#ea2,#ec2,#cc2,#ac2,#7c2,#5b3,#4b3,#4b3,#5b2,#5c2,#5b3,#6c2,#ac2,#9c2,#5c2,#5c2,#5b2,#5b2,#6c2,#6c2,#7c2,#ac2,#6c2,#5b3,#5b3,#8c2,#9c2,#5b3,#5b3,#6c2,#6c2,#5c2,#5b3,#5c2,#6c2,#5c2,#5c2,#6c2,#7c2,#8c2,#6c2,#7c2,#bc2,#dc2,#cc2,#ac2,#8c2,#7c2,#6c2,#7c2,#9c2,#cc2,#cc2,#cc2,#bc2,#6c2,#5b3,#5b3,#5c2,#5c2,#5b3,#5b2,#6c2,#6c2,#6c2,#8c2,#8c2,#8c2,#9c2,#bc2,#9c2,#7c2,#6c2,#5c2,#5c2,#7c2,#7c2,#5b3,#4b3,#5b2,#6c2,#5c2,#5c2,#5c2,#6c2,#5c2,#5b2,#5c2,#5c2,#6c2,#7c2,#7c2,#6c2,#6c2,#6c2,#9c2,#ac2,#9c2,#7c2,#5c2,#5c2,#8c2,#7c2,#6c2,#8c2,#9c2,#9c2,#6c2,#5c2,#6c2,#6c2,#5c2,#7c2,#7c2,#6c2)"></i>
<i style="top:150.05px;height:3.50px;background:linear-gradient(90deg,#8c2,#7c2,#5c2,#5c2,#5b2,#6c2,#6c2,#4b3,#5b2,#6c2,#6c2,#8c2,#6c2,#5b2,#5c2,#ac2,#db2,#bc2,#bc2,#ac2,#bc2,#db2,#e92,#ea2,#cc2,#bc2,#cc2,#eb2,#cc2,#ac2,#bc2,#bc2,#ac2,#9c2,#9c2,#8c2,#9c2,#bc2,#da2,#ea2,#bc2,#9c2,#8c2,#9c2,#ac2,#bc2,#bc2,#cc2,#dc2,#ea2,#ea2,#ec2,#cc2,#ac2,#6c2,#5b3,#4b3,#4b3,#5c2,#5c2,#5b2,#7c2,#ac2,#8c2,#5c2,#5c2,#5b3,#5b2,#6c2,#5c2,#7c2,#ac2,#6c2,#5b3,#5b2,#9c2,#9c2,#5b3,#5b3,#6c2,#6c2,#5c2,#5b3,#5c2,#6c2,#5c2,#5c2,#6c2,#7c2,#7c2,#6c2,#7c2,#bc2,#dc2,#cc2,#9c2,#8c2,#7c2,#6c2,#7c2,#ac2,#dc2,#cc2,#dc2,#ac2,#5b2,#5b3,#5b3,#5c2,#5c2,#5b3,#5c2,#6c2,#6c2,#6c2,#8c2,#8c2,#8c2,#ac2,#bc2,#9c2,#7c2,#6c2,#5c2,#5c2,#8c2,#7c2,#5b3,#4b3,#5b2,#6c2,#5c2,#5c2,#5c2,#6c2,#5c2,#5c2,#5c2,#5c2,#6c2,#8c2,#7c2,#7c2,#6c2,#6c2,#9c2,#ac2,#8c2,#7c2,#5c2,#5c2,#8c2,#7c2,#6c2,#8c2,#9c2,#9c2,#6c2,#5c2,#7c2,#6c2,#5c2,#7c2,#7c2,#6c2)"></i>
<i style="top:153.05px;height:3.50px;background:linear-gradient(90deg,#8c2,#7c2,#5c2,#5b2,#5b2,#6c2,#5c2,#4b3,#5b2,#6c2,#6c2,#8c2,#6c2,#5b2,#6c2,#ab2,#db2,#bc2,#bc2,#ac2,#bc2,#db2,#e92,#ea2,#cc2,#bc2,#cc2,#eb2,#cc2,#ac2,#bc2,#bc2,#ac2,#9c2,#9c2,#8c2,#9c2,#bc2,#ea2,#db2,#bc2,#9c2,#8c2,#9c2,#ac2,#bc2,#bc2,#bc2,#dc2,#eb2,#eb2,#dc2,#cc2,#9c2,#6c2,#4b3,#4b3,#4b3,#5c2,#5c2,#5b2,#7c2,#ac2,#8c2,#5c2,#5c2,#5b3,#5c2,#6c2,#5c2,#8c2,#ac2,#6c2,#5b3,#5b2,#9c2,#9c2,#5b3,#5b3,#6c2,#6c2,#5c2,#5b3,#5c2,#6c2,#5c2,#5c2,#6c2,#8c2,#7c2,#6c2,#8c2,#cc2,#dc2,#bc2,#9c2,#8c2,#7c2,#6c2,#8c2,#ac2,#dc2,#cc2,#dc2,#9c2,#5b2,#5b3,#5b3,#5c2,#5c2,#5b3,#5c2,#7c2,#6c2,#6c2,#8c2,#8c2,#8c2,#ac2,#bc2,#9c2,#7c2,#6c2,#5c2,#5c2,#8c2,#7c2,#5b3,#5b3,#5c2,#6c2,#5c2,#5c2,#6c2,#6c2,#5c2,#5c2,#5c2,#6c2,#7c2,#8c2,#7c2,#7c2,#6c2,#6c2,#9c2,#ac2,#8c2,#6c2,#5c2,#5c2,#7c2,#6c2,#6c2,#8c2,#9c2,#8c2,#6c2,#6c2,#7c2,#5c2,#5c2,#7c2,#7c2,#6c2)"></i>
<i style="top:156.05px;height:3.50px;background:linear-gradient(90deg,#7c2,#7c2,#5c2,#5b2,#5b2,#6c2,#5b3,#4b3,#5c2,#6c2,#6c2,#8c2,#6c2,#5b2,#6c2,#bb2,#db2,#bc2,#bc2,#ac2,#cc2,#eb2,#e92,#ea2,#dc2,#bc2,#cc2,#eb2,#cc2,#bc2,#bc2,#bc2,#ac2,#9c2,#9c2,#9c2,#9c2,#bc2,#ea2,#db2,#bc2,#9c2,#8c2,#9c2,#ac2,#bc2,#bc2,#bc2,#dc2,#eb2,#eb2,#dc2,#cc2,#9c2,#6c2,#4b3,#4b3,#4b3,#5c2,#5c2,#5b2,#8c2,#ac2,#7c2,#5b2,#5c2,#5b3,#5c2,#5c2,#5c2,#8c2,#9c2,#5b2,#5b3,#5c2,#ac2,#9c2,#5b3,#5b2,#6c2,#6c2,#5b2,#5b3,#6c2,#6c2,#5b2,#5c2,#6c2,#8c2,#7c2,#6c2,#8c2,#cc2,#dc2,#bc2,#9c2,#8c2,#7c2,#7c2,#8c2,#bc2,#dc2,#dc2,#cc2,#8c2,#5b3,#4b3,#5b3,#5c2,#5c2,#5b3,#6c2,#7c2,#6c2,#6c2,#8c2,#8c2,#8c2,#ac2,#bc2,#9c2,#7c2,#6c2,#5c2,#6c2,#8c2,#7c2,#5b2,#5b3,#6c2,#7c2,#6c2,#5c2,#6c2,#6c2,#6c2,#5c2,#5c2,#6c2,#7c2,#8c2,#7c2,#7c2,#6c2,#7c2,#ac2,#ac2,#8c2,#6c2,#5c2,#6c2,#7c2,#6c2,#6c2,#8c2,#9c2,#8c2,#6c2,#6c2,#7c2,#5c2,#6c2,#7c2,#7c2,#6c2)"></i>
<i style="top:159.05px;height:3.50px;background:linear-gradient(90deg,#7c2,#6c2,#5c2,#5b2,#5c2,#6c2,#5b3,#4b3,#5c2,#6c2,#6c2,#8c2,#6c2,#5b2,#6c2,#bb2,#db2,#bc2,#bc2,#ac2,#cc2,#ea2,#e82,#ea2,#dc2,#cc2,#dc2,#eb2,#cc2,#bc2,#bc2,#bc2,#ac2,#9c2,#9c2,#9c2,#9c2,#cc2,#ea2,#dc2,#bc2,#9c2,#9c2,#9c2,#ac2,#ac2,#bc2,#bc2,#cc2,#eb2,#ec2,#dc2,#bc2,#9c2,#6c2,#4b3,#4b3,#4b3,#5c2,#5c2,#5c2,#8c2,#ac2,#6c2,#5b2,#5c2,#5b3,#5c2,#5c2,#5c2,#8c2,#9c2,#5b2,#5b3,#6c2,#ac2,#8c2,#5b3,#5b2,#6c2,#6c2,#5b2,#5b3,#6c2,#6c2,#5b2,#5c2,#6c2,#7c2,#6c2,#6c2,#8c2,#cc2,#cc2,#ac2,#8c2,#8c2,#7c2,#7c2,#9c2,#bc2,#dc2,#cc2,#cc2,#7c2,#5b3,#4b3,#5b3,#5c2,#5c2,#5b3,#6c2,#7c2,#5c2,#6c2,#8c2,#8c2,#8c2,#bc2,#bc2,#9c2,#7c2,#6c2,#5c2,#6c2,#9c2,#7c2,#5c2,#5c2,#6c2,#7c2,#6c2,#6c2,#6c2,#6c2,#6c2,#5c2,#6c2,#7c2,#8c2,#8c2,#7c2,#7c2,#7c2,#7c2,#ac2,#ac2,#8c2,#6c2,#5c2,#6c2,#7c2,#6c2,#6c2,#8c2,#9c2,#8c2,#6c2,#7c2,#7c2,#5c2,#6c2,#8c2,#7c2,#6c2)"></i>
<i style="top:162.05px;height:3.50px;background:linear-gradient(90deg,#6c2,#6c2,#5c2,#5b3,#5c2,#6c2,#5b3,#4b3,#5c2,#6c2,#7c2,#8c2,#6c2,#5b2,#6c2,#cb2,#cc2,#bc2,#bc2,#ac2,#cc2,#ea2,#e82,#ea2,#dc2,#cc2,#dc2,#eb2,#cc2,#bc2,#bc2,#bc2,#ac2,#9c2,#9c2,#9c2,#ac2,#cc2,#ea2,#dc2,#bc2,#9c2,#9c2,#9c2,#ac2,#ac2,#ac2,#bc2,#cc2,#ec2,#dc2,#dc2,#bc2,#8c2,#6c2,#4b3,#4b3,#4b3,#5c2,#5c2,#5c2,#9c2,#9c2,#6c2,#5b3,#5c2,#5b3,#5c2,#5c2,#5c2,#8c2,#9c2,#5b2,#5b3,#6c2,#bc2,#8c2,#5b3,#5c2,#6c2,#6c2,#5b2,#5b2,#6c2,#5c2,#5b2,#5c2,#6c2,#7c2,#6c2,#6c2,#9c2,#cc2,#cc2,#ac2,#8c2,#8c2,#7c2,#7c2,#9c2,#cc2,#dc2,#cc2,#cc2,#7c2,#4b3,#4b3,#5b3,#5c2,#5b2,#5b2,#6c2,#6c2,#5c2,#6c2,#8c2,#8c2,#8c2,#bc2,#cc2,#ac2,#8c2,#6c2,#5c2,#7c2,#9c2,#7c2,#5c2,#5c2,#7c2,#8c2,#6c2,#6c2,#7c2,#6c2,#6c2,#6c2,#6c2,#7c2,#9c2,#9c2,#7c2,#8c2,#7c2,#8c2,#ac2,#ac2,#8c2,#6c2,#5c2,#6c2,#7c2,#6c2,#6c2,#8c2,#9c2,#8c2,#6c2,#7c2,#7c2,#5c2,#6c2,#8c2,#7c2,#6c2)"></i>
<i style="top:165.05px;height:3.50px;background:linear-gradient(90deg,#6c2,#6c2,#5b2,#5b3,#5c2,#6c2,#5b3,#4b3,#6c2,#6c2,#7c2,#8c2,#5c2,#5b2,#7c2,#cb2,#cc2,#bc2,#bc2,#bc2,#dc2,#e92,#e82,#e92,#dc2,#cc2,#dc2,#eb2,#cc2,#bc2,#bc2,#bc2,#ac2,#ac2,#ac2,#9c2,#ac2,#dc2,#ea2,#dc2,#bc2,#9c2,#9c2,#ac2,#ac2,#ac2,#ac2,#bc2,#cc2,#dc2,#dc2,#cc2,#bc2,#8c2,#5c2,#4b3,#4b3,#4b3,#5c2,#5c2,#6c2,#9c2,#9c2,#6b2,#5b3,#5b2,#4b3,#5c2,#5c2,#5c2,#9c2,#9c2,#5b2,#5b3,#7c2,#bc2,#8c2,#5b3,#5c2,#7c2,#6c2,#5b2,#5c2,#6c2,#5c2,#5b2,#5c2,#6c2,#7c2,#6c2,#6c2,#9c2,#cc2,#cc2,#9c2,#8c2,#9c2,#7c2,#8c2,#9c2,#cc2,#dc2,#cc2,#bc2,#6c2,#4b3,#4b3,#5b3,#5c2,#5b2,#5b2,#6c2,#6c2,#5c2,#6c2,#8c2,#8c2,#9c2,#bc2,#cc2,#ac2,#8c2,#6c2,#5c2,#7c2,#ac2,#8c2,#6c2,#6c2,#8c2,#8c2,#7c2,#6c2,#7c2,#7c2,#6c2,#6c2,#7c2,#8c2,#9c2,#9c2,#8c2,#8c2,#7c2,#9c2,#bc2,#ac2,#9c2,#6c2,#5c2,#6c2,#7c2,#6c2,#7c2,#9c2,#9c2,#8c2,#7c2,#8c2,#7c2,#5c2,#6c2,#8c2,#7c2,#6c2)"></i>
<i style="top:168.05px;height:3.50px;background:linear-gradient(90deg,#6c2,#6c2,#5b2,#5b3,#5c2,#6c2,#5b3,#4b3,#6c2,#6c2,#7c2,#8c2,#5c2,#5c2,#7c2,#dc2,#cc2,#bc2,#bc2,#bc2,#dc2,#e92,#e72,#e92,#dc2,#cc2,#dc2,#db2,#cc2,#bc2,#bc2,#bc2,#ac2,#ac2,#ac2,#9c2,#bc2,#dc2,#eb2,#dc2,#bc2,#9c2,#9c2,#ac2,#ac2,#ac2,#ac2,#bc2,#cc2,#dc2,#cc2,#cc2,#ac2,#8c2,#5c2,#5b3,#4b3,#4b3,#5c2,#5c2,#6c2,#9c2,#9c2,#5b3,#5b3,#5b2,#4b3,#5c2,#5b2,#5c2,#9c2,#8c2,#5b2,#5b3,#7c2,#bc2,#8c2,#5b3,#6c2,#7c2,#6c2,#5b2,#5c2,#6c2,#5c2,#5b2,#5c2,#6c2,#7c2,#6c2,#6c2,#9c2,#cc2,#bc2,#9c2,#8c2,#9c2,#7c2,#8c2,#ac2,#cc2,#dc2,#cc2,#ac2,#5b3,#4b3,#4b3,#5b3,#5c2,#5b2,#5c2,#6c2,#6c2,#5c2,#7c2,#8c2,#8c2,#9c2,#cc2,#cc2,#ac2,#8c2,#6c2,#6c2,#8c2,#ac2,#8c2,#6c2,#6c2,#8c2,#9c2,#7c2,#7c2,#7c2,#7c2,#6c2,#7c2,#7c2,#9c2,#ac2,#9c2,#8c2,#8c2,#8c2,#9c2,#bc2,#ac2,#9c2,#6c2,#5c2,#6c2,#7c2,#6c2,#7c2,#9c2,#9c2,#8c2,#8c2,#8c2,#7c2,#5c2,#6c2,#8c2,#6c2,#6c2)"></i>
<i style="top:171.05px;height:3.50px;background:linear-gradient(90deg,#6c2,#5c2,#5b3,#5b3,#6c2,#6c2,#4b3,#4b3,#6c2,#6c2,#7c2,#8c2,#5c2,#5c2,#8c2,#dc2,#cc2,#bc2,#bc2,#bc2,#db2,#e82,#e72,#e92,#dc2,#cc2,#db2,#db2,#bc2,#bc2,#bc2,#bc2,#ac2,#ac2,#ac2,#ac2,#bc2,#dc2,#eb2,#cc2,#bc2,#9c2,#9c2,#ac2,#ac2,#ac2,#ac2,#ac2,#bc2,#cc2,#cc2,#cc2,#ac2,#8c2,#5c2,#5b3,#4b3,#4b3,#6c2,#5c2,#6c2,#9c2,#8c2,#5b3,#5b3,#5b3,#5b3,#5c2,#5b2,#5c2,#9c2,#8c2,#5b3,#5b2,#8c2,#bc2,#7c2,#5b3,#6c2,#7c2,#6c2,#5b2,#6c2,#6c2,#5c2,#5c2,#5c2,#6c2,#6c2,#5c2,#6c2,#9c2,#cc2,#bc2,#8c2,#8c2,#9c2,#7c2,#9c2,#ac2,#dc2,#dc2,#cc2,#9c2,#5b3,#4b3,#4b3,#5b3,#5c2,#5c2,#5c2,#6c2,#6c2,#5c2,#7c2,#8c2,#8c2,#9c2,#cc2,#cc2,#ac2,#8c2,#6c2,#6c2,#8c2,#bc2,#9c2,#7c2,#7c2,#9c2,#9c2,#7c2,#7c2,#8c2,#7c2,#7c2,#7c2,#8c2,#9c2,#ac2,#9c2,#8c2,#8c2,#8c2,#9c2,#bc2,#ac2,#9c2,#6c2,#5c2,#6c2,#7c2,#6c2,#7c2,#9c2,#9c2,#9c2,#8c2,#9c2,#7c2,#5c2,#7c2,#8c2,#6c2,#6c2)"></i>
<i style="top:174.05px;height:3.50px;background:linear-gradient(90deg,#5c2,#5c2,#5b3,#5b3,#6c2,#6c2,#4b3,#4b3,#6c2,#6c2,#8c2,#8c2,#5c2,#5c2,#8c2,#dc2,#bc2,#bc2,#bc2,#bc2,#db2,#e82,#e72,#e92,#dc2,#cc2,#db2,#db2,#bc2,#bc2,#bc2,#ac2,#ac2,#ac2,#ac2,#ac2,#bc2,#dc2,#eb2,#cc2,#bc2,#9c2,#9c2,#ac2,#ac2,#ac2,#ac2,#ac2,#bc2,#cc2,#bc2,#cc2,#ac2,#7c2,#5b2,#5b3,#4b3,#5b3,#6c2,#5c2,#6c2,#9c2,#8c2,#5b3,#5b2,#5b3,#5b3,#5c2,#5b3,#5c2,#9c2,#8c2,#5b3,#5b2,#8c2,#bc2,#7c2,#5b3,#6c2,#7c2,#6c2,#5b2,#6c2,#6c2,#5c2,#5c2,#5c2,#6c2,#6c2,#5c2,#6c2,#9c2,#cc2,#ac2,#8c2,#8c2,#9c2,#7c2,#9c2,#bc2,#dc2,#dc2,#cc2,#9c2,#5b3,#4b3,#4b3,#5b3,#5c2,#5c2,#5c2,#6c2,#6c2,#5c2,#7c2,#8c2,#8c2,#ac2,#cc2,#cc2,#bc2,#8c2,#7c2,#6c2,#9c2,#bc2,#9c2,#7c2,#7c2,#9c2,#9c2,#8c2,#8c2,#8c2,#7c2,#7c2,#8c2,#9c2,#ac2,#ac2,#9c2,#8c2,#9c2,#8c2,#ac2,#bc2,#ac2,#9c2,#6c2,#5c2,#7c2,#7c2,#6c2,#7c2,#9c2,#9c2,#9c2,#9c2,#9c2,#7c2,#5c2,#7c2,#8c2,#6c2,#6c2)"></i>
<i style="top:177.05px;height:3.50px;background:linear-gradient(90deg,#5c2,#5c2,#5b3,#5b3,#6c2,#6c2,#4b4,#4b3,#6c2,#6c2,#8c2,#8c2,#5c2,#5c2,#8c2,#dc2,#bc2,#bc2,#bc2,#bc2,#eb2,#e82,#e72,#e92,#dc2,#cc2,#db2,#dc2,#bc2,#bc2,#bc2,#ac2,#ac2,#ac2,#ac2,#ac2,#cc2,#db2,#eb2,#cc2,#bc2,#9c2,#9c2,#9c2,#ac2,#ac2,#ac2,#ac2,#bc2,#bc2,#bc2,#bc2,#ac2,#7c2,#5b2,#5b3,#4b3,#5b3,#6c2,#5c2,#7c2,#9c2,#7c2,#5b3,#5b2,#5b3,#5b3,#6c2,#5b3,#5c2,#9c2,#7c2,#5b3,#5c2,#8c2,#bc2,#7c2,#5b3,#6c2,#7c2,#6c2,#5b2,#6c2,#6c2,#5c2,#5c2,#6c2,#6c2,#6c2,#6c2,#7c2,#ac2,#bc2,#ac2,#8c2,#9c2,#9c2,#7c2,#9c2,#bc2,#dc2,#dc2,#cc2,#8c2,#5b3,#4b3,#4b3,#5b3,#5c2,#5c2,#6c2,#7c2,#6c2,#5c2,#7c2,#8c2,#9c2,#ac2,#dc2,#cc2,#bc2,#8c2,#7c2,#6c2,#9c2,#bc2,#9c2,#7c2,#7c2,#ac2,#9c2,#8c2,#8c2,#8c2,#8c2,#7c2,#8c2,#9c2,#ac2,#bc2,#9c2,#9c2,#9c2,#9c2,#ac2,#bc2,#ac2,#9c2,#6c2,#6c2,#7c2,#7c2,#7c2,#8c2,#9c2,#ac2,#ac2,#ac2,#9c2,#7c2,#5c2,#7c2,#8c2,#7c2,#6c2)"></i>
<i style="top:180.06px;height:3.50px;background:linear-gradient(90deg,#5c2,#5c2,#5b3,#5b3,#6c2,#6c2,#4b4,#4b3,#6c2,#6c2,#8c2,#8c2,#5b2,#5c2,#9c2,#dc2,#bc2,#bc2,#ac2,#cc2,#eb2,#e82,#e72,#e92,#dc2,#cc2,#db2,#dc2,#bc2,#bc2,#bc2,#ac2,#ac2,#ac2,#ac2,#ac2,#cc2,#eb2,#eb2,#cc2,#bc2,#ac2,#ac2,#9c2,#ac2,#ac2,#9c2,#ac2,#bc2,#bc2,#bc2,#bc2,#ac2,#7c2,#5b2,#5b3,#4b3,#5b3,#6c2,#5c2,#7c2,#9c2,#7c2,#5b3,#5b2,#5b3,#5b3,#6c2,#5b3,#5c2,#9c2,#7c2,#5b3,#5c2,#8c2,#bc2,#6c2,#5b3,#6c2,#8c2,#6c2,#5c2,#6c2,#6c2,#5c2,#5c2,#6c2,#6c2,#6c2,#6c2,#7c2,#ac2,#bc2,#9c2,#7c2,#9c2,#9c2,#8c2,#ac2,#bc2,#dc2,#cc2,#bc2,#8c2,#5b3,#4b3,#4b3,#5b3,#5c2,#5c2,#6c2,#7c2,#6c2,#6c2,#7c2,#8c2,#9c2,#ac2,#dc2,#cc2,#bc2,#9c2,#7c2,#7c2,#9c2,#cc2,#9c2,#7c2,#8c2,#ac2,#9c2,#8c2,#8c2,#9c2,#8c2,#8c2,#9c2,#ac2,#bc2,#bc2,#ac2,#9c2,#9c2,#9c2,#ac2,#bc2,#ac2,#9c2,#6c2,#6c2,#7c2,#7c2,#7c2,#8c2,#ac2,#ac2,#ac2,#bc2,#ac2,#7c2,#6c2,#8c2,#8c2,#7c2,#7c2)"></i>
<i style="top:183.06px;height:3.50px;background:linear-gradient(90deg,#5c2,#5b2,#4b3,#5b3,#6c2,#6c2,#4b4,#4b3,#5c2,#6c2,#8c2,#8c2,#5b2,#5c2,#9c2,#dc2,#bc2,#bc2,#ac2,#cc2,#ea2,#e82,#e72,#e92,#dc2,#cc2,#db2,#dc2,#bc2,#bc2,#bc2,#ac2,#ac2,#bc2,#ac2,#ac2,#cc2,#ec2,#dc2,#cc2,#bc2,#ac2,#ac2,#9c2,#ac2,#9c2,#9c2,#ac2,#ac2,#ac2,#ac2,#bc2,#9c2,#7c2,#5b2,#5b3,#4b3,#5b3,#6c2,#5c2,#7c2,#9c2,#7c2,#5b3,#5c2,#4b3,#5b3,#6c2,#5b3,#5c2,#9c2,#7c2,#5b3,#5c2,#8c2,#ac2,#6c2,#5b2,#7c2,#8c2,#6c2,#5c2,#7c2,#6c2,#5c2,#5c2,#6c2,#5c2,#6c2,#6c2,#7c2,#ac2,#bc2,#9c2,#7c2,#9c2,#9c2,#8c2,#ac2,#bc2,#dc2,#cc2,#bc2,#7c2,#5b3,#4b3,#4b3,#5b3,#5c2,#5c2,#6c2,#7c2,#6c2,#6c2,#8c2,#8c2,#9c2,#bc2,#dc2,#cc2,#bc2,#9c2,#7c2,#7c2,#ac2,#cc2,#9c2,#7c2,#8c2,#ac2,#ac2,#8c2,#9c2,#9c2,#8c2,#8c2,#9c2,#ac2,#bc2,#bc2,#ac2,#9c2,#9c2,#9c2,#bc2,#bc2,#ac2,#9c2,#7c2,#6c2,#7c2,#7c2,#7c2,#8c2,#ac2,#ac2,#bc2,#bc2,#ac2,#7c2,#6c2,#8c2,#8c2,#7c2,#7c2)"></i>
<i style="top:186.06px;height:3.50px;background:linear-gradient(90deg,#5b2,#5b2,#4b3,#5b3,#6c2,#6b2,#4a4,#4b3,#5c2,#6c2,#9c2,#8c2,#5b2,#5c2,#9c2,#dc2,#bc2,#bc2,#ac2,#cc2,#ea2,#e82,#e72,#e92,#dc2,#cc2,#dc2,#dc2,#bc2,#bc2,#bc2,#ac2,#ac2,#bc2,#ac2,#bc2,#dc2,#ec2,#dc2,#cc2,#bc2,#ac2,#ac2,#9c2,#9c2,#9c2,#9c2,#ac2,#ac2,#ac2,#ac2,#bc2,#9c2,#7c2,#5b2,#5b3,#4b3,#5b3,#6c2,#5c2,#7c2,#9c2,#7c2,#5b3,#5c2,#4b3,#5b3,#6c2,#5b3,#5c2,#9c2,#6c2,#5b3,#5c2,#9c2,#ac2,#6c2,#5b2,#7c2,#8c2,#6c2,#5c2,#7c2,#6c2,#5c2,#6c2,#6c2,#5c2,#6c2,#6c2,#7c2,#ac2,#ac2,#9c2,#7c2,#ac2,#ac2,#8c2,#ac2,#bc2,#cc2,#cc2,#ac2,#7c2,#5b3,#4b3,#4b3,#5b3,#5c2,#5c2,#6c2,#7c2,#6c2,#6c2,#8c2,#8c2,#9c2,#bc2,#dc2,#cc2,#bc2,#9c2,#7c2,#7c2,#ac2,#cc2,#9c2,#7c2,#8c2,#ac2,#ac2,#9c2,#9c2,#9c2,#9c2,#9c2,#ac2,#bc2,#bc2,#bc2,#ac2,#9c2,#9c2,#ac2,#bc2,#bc2,#ac2,#9c2,#7c2,#6c2,#7c2,#7c2,#8c2,#9c2,#ac2,#ac2,#bc2,#cc2,#ac2,#7c2,#6c2,#8c2,#8c2,#7c2,#7c2)"></i>
<i style="top:189.06px;height:3.50px;background:linear-gradient(90deg,#5b2,#5b3,#4b3,#5b3,#6c2,#6b3,#4a4,#4b3,#5c2,#6c2,#9c2,#8c2,#5b2,#6c2,#ac2,#cc2,#ac2,#bc2,#ac2,#cc2,#ea2,#e72,#e72,#e92,#dc2,#cc2,#dc2,#cc2,#bc2,#bc2,#bc2,#ac2,#ac2,#bc2,#ac2,#bc2,#dc2,#ec2,#dc2,#cc2,#bc2,#ac2,#ac2,#ac2,#9c2,#9c2,#9c2,#9c2,#ac2,#ac2,#ac2,#bc2,#9c2,#6c2,#5b2,#5b3,#4b3,#5b2,#6c2,#5c2,#7c2,#9c2,#6c2,#5b3,#5c2,#4b3,#5b3,#6c2,#5b3,#5c2,#8c2,#6c2,#5b3,#5c2,#9c2,#ac2,#6c2,#5b2,#7c2,#8c2,#6c2,#5c2,#7c2,#6c2,#5c2,#6c2,#6c2,#5c2,#6c2,#6c2,#7c2,#ac2,#ac2,#8c2,#8c2,#ac2,#ac2,#9c2,#ac2,#bc2,#cc2,#cc2,#ac2,#6c2,#5b3,#4b3,#5b3,#5b2,#5c2,#5c2,#6c2,#7c2,#6c2,#6c2,#8c2,#8c2,#9c2,#bc2,#dc2,#cc2,#cc2,#9c2,#8c2,#8c2,#bc2,#dc2,#9c2,#7c2,#8c2,#bc2,#ac2,#9c2,#ac2,#ac2,#9c2,#ac2,#ac2,#bc2,#cc2,#cc2,#ac2,#ac2,#ac2,#ac2,#bc2,#bc2,#bc2,#9c2,#7c2,#7c2,#7c2,#8c2,#8c2,#9c2,#ac2,#ac2,#cc2,#cc2,#ac2,#7c2,#7c2,#8c2,#8c2,#7c2,#8c2)"></i>
<i style="top:192.06px;height:3.50px;background:linear-gradient(90deg,#5b2,#5b3,#4b3,#5b3,#6c2,#5b3,#4a4,#5b3,#5c2,#6c2,#9c2,#8c2,#5b2,#6c2,#ac2,#cc2,#ac2,#bc2,#ac2,#cc2,#ea2,#e82,#e72,#ea2,#dc2,#cc2,#dc2,#cc2,#bc2,#bc2,#bc2,#ac2,#ac2,#bc2,#ac2,#bc2,#dc2,#ec2,#dc2,#cc2,#bc2,#ac2,#ac2,#ac2,#9c2,#9c2,#9c2,#9c2,#ac2,#ac2,#ac2,#bc2,#9c2,#6c2,#5b2,#5b3,#5b3,#5b2,#6c2,#5c2,#7c2,#9c2,#6c2,#5b3,#5c2,#4b3,#5b3,#6c2,#5b3,#5c2,#8c2,#6c2,#5b2,#6c2,#9c2,#ac2,#6c2,#5c2,#8c2,#8c2,#6c2,#6c2,#8c2,#6c2,#5c2,#6c2,#6c2,#6c2,#6c2,#6c2,#8c2,#ac2,#ac2,#8c2,#8c2,#bc2,#ac2,#9c2,#ac2,#bc2,#cc2,#cc2,#ac2,#6c2,#5b3,#5b3,#5b3,#5b2,#6c2,#6c2,#6c2,#7c2,#6c2,#7c2,#9c2,#8c2,#ac2,#cc2,#ec2,#dc2,#cc2,#9c2,#8c2,#8c2,#bc2,#dc2,#ac2,#7c2,#9c2,#bc2,#bc2,#ac2,#ac2,#bc2,#ac2,#ac2,#bc2,#cc2,#cc2,#cc2,#bc2,#ac2,#ac2,#ac2,#bc2,#bc2,#bc2,#9c2,#8c2,#7c2,#8c2,#8c2,#9c2,#ac2,#ac2,#ac2,#cc2,#dc2,#ac2,#8c2,#7c2,#8c2,#8c2,#8c2,#8c2)"></i>
<i style="top:195.06px;height:3.50px;background:linear-gradient(90deg,#5b3,#5b3,#4b3,#5b3,#6c2,#5b3,#4a4,#5b3,#5c2,#6c2,#9c2,#7c2,#5b2,#6c2,#ac2,#cc2,#ac2,#bc2,#ac2,#cc2,#ea2,#e82,#e72,#ea2,#dc2,#cc2,#dc2,#cc2,#bc2,#bc2,#bc2,#ac2,#ac2,#bc2,#ac2,#cc2,#ec2,#ec2,#dc2,#cc2,#bc2,#ac2,#ac2,#ac2,#9c2,#9c2,#9c2,#9c2,#ac2,#9c2,#ac2,#bc2,#9c2,#6c2,#5b2,#5b2,#5b3,#5c2,#6c2,#5b2,#7c2,#9c2,#6c2,#5b3,#5c2,#4b3,#5b2,#6c2,#5b3,#5c2,#8c2,#6c2,#5b2,#6c2,#9c2,#ac2,#6c2,#5c2,#8c2,#8c2,#6c2,#6c2,#8c2,#6c2,#5c2,#7c2,#6c2,#6c2,#6c2,#7c2,#8c2,#ac2,#ac2,#8c2,#8c2,#cc2,#ac2,#9c2,#bc2,#bc2,#cc2,#bc2,#ac2,#6c2,#5b3,#5b3,#5b3,#5c2,#6c2,#6c2,#6c2,#7c2,#6c2,#7c2,#9c2,#9c2,#ac2,#cc2,#ec2,#dc2,#cc2,#ac2,#9c2,#9c2,#cc2,#db2,#ac2,#8c2,#9c2,#cc2,#bc2,#ac2,#bc2,#bc2,#bc2,#bc2,#cc2,#cc2,#cc2,#cc2,#bc2,#ac2,#bc2,#bc2,#cc2,#bc2,#bc2,#9c2,#8c2,#8c2,#8c2,#9c2,#9c2,#ac2,#bc2,#bc2,#dc2,#dc2,#ac2,#8c2,#8c2,#9c2,#9c2,#8c2,#9c2)"></i>
<i style="top:198.06px;height:3.50px;background:linear-gradient(90deg,#5b3,#5b3,#4b3,#5b3,#6c2,#5b3,#4a4,#5b3,#5c2,#6c2,#9c2,#7c2,#5b2,#6c2,#ac2,#cc2,#ac2,#ac2,#ac2,#cc2,#ea2,#e82,#e82,#ea2,#dc2,#cc2,#dc2,#cc2,#bc2,#bc2,#bc2,#ac2,#ac2,#bc2,#bc2,#cc2,#ec2,#ec2,#dc2,#cc2,#bc2,#ac2,#ac2,#ac2,#9c2,#9c2,#9c2,#9c2,#9c2,#9c2,#ac2,#bc2,#9c2,#6c2,#5b3,#5b2,#5b3,#5c2,#6c2,#5b2,#7c2,#8c2,#6c2,#5b2,#5c2,#4b4,#5c2,#6c2,#5b3,#5c2,#8c2,#6c2,#5b2,#6c2,#9c2,#9c2,#6c2,#6c2,#8c2,#8c2,#6c2,#6c2,#8c2,#6c2,#6c2,#7c2,#6c2,#6c2,#6c2,#7c2,#8c2,#ac2,#9c2,#8c2,#9c2,#cc2,#ac2,#9c2,#bc2,#bc2,#cc2,#bc2,#9c2,#6c2,#5b2,#5b3,#5b3,#5c2,#6c2,#6c2,#5c2,#7c2,#6c2,#7c2,#9c2,#9c2,#ac2,#cc2,#eb2,#dc2,#cc2,#ac2,#9c2,#9c2,#cc2,#db2,#ac2,#8c2,#ac2,#cc2,#cc2,#bc2,#cc2,#cc2,#bc2,#cc2,#cc2,#dc2,#dc2,#cc2,#bc2,#bc2,#bc2,#bc2,#cc2,#bc2,#bc2,#ac2,#9c2,#8c2,#9c2,#ac2,#ac2,#bc2,#bc2,#bc2,#dc2,#dc2,#bc2,#9c2,#8c2,#9c2,#9c2,#9c2,#9c2)"></i>
<i style="top:201.06px;height:3.50px;background:linear-gradient(90deg,#5b3,#5b3,#4b3,#5b3,#6c2,#5b3,#4a4,#5b3,#5c2,#6c2,#9c2,#7c2,#5b2,#6c2,#bc2,#cc2,#ac2,#ac2,#ac2,#cc2,#ea2,#e82,#e82,#ea2,#dc2,#cc2,#dc2,#cc2,#bc2,#bc2,#bc2,#ac2,#bc2,#bc2,#bc2,#cc2,#eb2,#ec2,#dc2,#cc2,#bc2,#bc2,#bc2,#ac2,#9c2,#9c2,#9c2,#9c2,#9c2,#9c2,#ac2,#bc2,#9c2,#6c2,#5b3,#5b2,#5b3,#6c2,#6c2,#5b2,#7c2,#8c2,#6c2,#5b2,#5c2,#4b4,#6c2,#6c2,#5b3,#5c2,#8c2,#6c2,#5b2,#6c2,#9c2,#9c2,#6c2,#6c2,#8c2,#8c2,#6c2,#6c2,#8c2,#6c2,#6c2,#7c2,#6c2,#6c2,#7c2,#7c2,#8c2,#ac2,#9c2,#9c2,#9c2,#cc2,#ac2,#ac2,#ac2,#bc2,#cc2,#bc2,#9c2,#6c2,#5c2,#5b2,#5b3,#5c2,#6c2,#5c2,#5c2,#6c2,#6c2,#8c2,#9c2,#9c2,#ac2,#dc2,#eb2,#dc2,#cc2,#bc2,#ac2,#ac2,#cb2,#db2,#ac2,#8c2,#ac2,#cc2,#cc2,#cc2,#cc2,#dc2,#cc2,#cc2,#dc2,#dc2,#dc2,#dc2,#cc2,#bc2,#bc2,#cc2,#cc2,#cc2,#cc2,#ac2,#9c2,#9c2,#9c2,#ac2,#ac2,#bc2,#bc2,#bc2,#dc2,#dc2,#bc2,#9c2,#9c2,#9c2,#9c2,#9c2,#ac2)"></i>
<i style="top:204.06px;height:3.50px;background:linear-gradient(90deg,#5b3,#4b3,#4b3,#5b3,#6c2,#5b3,#4a4,#5b3,#5c2,#6c2,#9c2,#7c2,#5b2,#6c2,#bc2,#cc2,#ac2,#ac2,#ac2,#cc2,#ea2,#e82,#e82,#eb2,#cc2,#cc2,#dc2,#cc2,#bc2,#bc2,#bc2,#ac2,#bc2,#bc2,#bc2,#dc2,#eb2,#ec2,#dc2,#cc2,#bc2,#bc2,#bc2,#ac2,#9c2,#9c2,#9c2,#9c2,#9c2,#9c2,#ac2,#bc2,#9c2,#6c2,#5b3,#5b2,#5b2,#6c2,#6c2,#5b3,#7c2,#8c2,#6c2,#5c2,#5b2,#4b4,#6c2,#6c2,#5b3,#6c2,#8c2,#6c2,#5c2,#6c2,#9c2,#9c2,#6c2,#6c2,#8c2,#8c2,#6c2,#7c2,#9c2,#6c2,#6c2,#8c2,#7c2,#6c2,#7c2,#8c2,#8c2,#ac2,#9c2,#9c2,#ac2,#dc2,#ac2,#ac2,#ac2,#bc2,#cc2,#bc2,#9c2,#6c2,#5c2,#5c2,#5b2,#5c2,#6c2,#5c2,#5c2,#6c2,#6c2,#8c2,#9c2,#9c2,#ac2,#dc2,#eb2,#dc2,#cc2,#bc2,#ac2,#ac2,#db2,#ea2,#ac2,#9c2,#ac2,#dc2,#cc2,#cc2,#dc2,#dc2,#dc2,#dc2,#dc2,#dc2,#dc2,#dc2,#cc2,#bc2,#cc2,#cc2,#cc2,#cc2,#cc2,#ac2,#ac2,#9c2,#ac2,#bc2,#bc2,#bc2,#cc2,#cc2,#dc2,#dc2,#bc2,#ac2,#9c2,#9c2,#9c2,#ac2,#ac2)"></i>
<i style="top:207.06px;height:3.50px;background:linear-gradient(90deg,#5b3,#4b3,#4b3,#5b3,#6c2,#5b3,#4a4,#5b3,#5c2,#6c2,#ac2,#7c2,#5b2,#7c2,#bc2,#cc2,#ac2,#ac2,#ac2,#dc2,#ea2,#e82,#e82,#eb2,#cc2,#cc2,#dc2,#cc2,#bc2,#bc2,#bc2,#ac2,#bc2,#bc2,#bc2,#dc2,#eb2,#dc2,#cc2,#cc2,#bc2,#bc2,#bc2,#ac2,#9c2,#8c2,#9c2,#9c2,#9c2,#9c2,#ac2,#bc2,#8c2,#5c2,#5b3,#5c2,#5c2,#6c2,#6c2,#5b3,#7c2,#8c2,#6c2,#5c2,#5c2,#4b3,#6c2,#6c2,#5c2,#6c2,#8c2,#6c2,#5c2,#7c2,#9c2,#ac2,#6c2,#7c2,#9c2,#8c2,#6c2,#7c2,#9c2,#6c2,#7c2,#8c2,#7c2,#7c2,#7c2,#8c2,#9c2,#9c2,#9c2,#9c2,#ac2,#dc2,#ac2,#ac2,#ac2,#bc2,#cc2,#bc2,#9c2,#6c2,#5c2,#5c2,#5c2,#5c2,#6c2,#5c2,#5c2,#7c2,#6c2,#9c2,#ac2,#9c2,#ac2,#dc2,#eb2,#dc2,#cc2,#bc2,#bc2,#bc2,#db2,#ea2,#ac2,#9c2,#bc2,#dc2,#dc2,#cc2,#dc2,#ec2,#dc2,#dc2,#dc2,#dc2,#dc2,#dc2,#cc2,#cc2,#cc2,#cc2,#dc2,#cc2,#cc2,#ac2,#ac2,#9c2,#ac2,#bc2,#bc2,#bc2,#cc2,#cc2,#dc2,#dc2,#bc2,#ac2,#ac2,#9c2,#ac2,#ac2,#bc2)"></i>
<i style="top:210.06px;height:3.50px;background:linear-gradient(90deg,#5b3,#4b3,#4b4,#5b3,#6c2,#5b3,#4a4,#5b3,#5c2,#6c2,#ac2,#7c2,#5b2,#7c2,#bc2,#cc2,#ac2,#ac2,#ac2,#dc2,#ea2,#e82,#e92,#eb2,#cc2,#cc2,#dc2,#cc2,#bc2,#bc2,#bc2,#ac2,#bc2,#bc2,#bc2,#dc2,#eb2,#dc2,#cc2,#bc2,#bc2,#bc2,#bc2,#ac2,#9c2,#8c2,#8c2,#8c2,#8c2,#8c2,#ac2,#ac2,#8c2,#5c2,#5b3,#5c2,#5c2,#6c2,#6c2,#5b3,#7c2,#8c2,#7c2,#6c2,#6c2,#4b3,#6c2,#6c2,#5c2,#6c2,#9c2,#7c2,#6c2,#7c2,#ac2,#ac2,#6c2,#8c2,#9c2,#8c2,#6c2,#8c2,#9c2,#6c2,#7c2,#8c2,#7c2,#7c2,#7c2,#8c2,#9c2,#9c2,#9c2,#9c2,#bc2,#dc2,#bc2,#ac2,#ac2,#bc2,#cc2,#bc2,#9c2,#6c2,#6c2,#5c2,#5c2,#6c2,#6c2,#6c2,#5c2,#7c2,#7c2,#9c2,#ac2,#9c2,#bc2,#dc2,#eb2,#dc2,#cc2,#bc2,#bc2,#bc2,#db2,#ea2,#ac2,#9c2,#bc2,#dc2,#dc2,#dc2,#ec2,#eb2,#ec2,#dc2,#ec2,#ec2,#dc2,#dc2,#cc2,#cc2,#cc2,#cc2,#dc2,#cc2,#cc2,#ac2,#ac2,#ac2,#ac2,#bc2,#bc2,#bc2,#cc2,#cc2,#ec2,#dc2,#cc2,#bc2,#ac2,#9c2,#ac2,#ac2,#bc2)"></i>
<i style="top:213.07px;height:3.50px;background:linear-gradient(90deg,#5b3,#4b3,#4b4,#5b3,#6c2,#5b3,#4a4,#5b3,#5c2,#6c2,#ac2,#7c2,#5b2,#7c2,#bc2,#cc2,#ac2,#ac2,#ac2,#dc2,#ea2,#e82,#e92,#db2,#cc2,#cc2,#dc2,#cc2,#bc2,#cc2,#bc2,#bc2,#bc2,#bc2,#bc2,#dc2,#eb2,#dc2,#cc2,#bc2,#bc2,#bc2,#bc2,#9c2,#8c2,#8c2,#8c2,#8c2,#8c2,#8c2,#9c2,#ac2,#8c2,#5b2,#5b3,#5c2,#5c2,#6c2,#6c2,#5b3,#7c2,#8c2,#7c2,#6c2,#6c2,#4b3,#7c2,#7c2,#5c2,#6c2,#9c2,#7c2,#7c2,#8c2,#ac2,#ac2,#7c2,#9c2,#ac2,#9c2,#7c2,#8c2,#9c2,#7c2,#7c2,#9c2,#7c2,#7c2,#8c2,#8c2,#9c2,#9c2,#9c2,#9c2,#bc2,#dc2,#bc2,#ac2,#ac2,#bc2,#cc2,#bc2,#9c2,#7c2,#6c2,#6c2,#5c2,#6c2,#6c2,#6c2,#5c2,#7c2,#7c2,#ac2,#ac2,#9c2,#bc2,#db2,#eb2,#cc2,#cc2,#bc2,#bc2,#bc2,#da2,#ea2,#bc2,#9c2,#bc2,#dc2,#dc2,#dc2,#eb2,#eb2,#ec2,#ec2,#ec2,#ec2,#dc2,#dc2,#cc2,#cc2,#cc2,#cc2,#dc2,#cc2,#cc2,#bc2,#ac2,#ac2,#bc2,#cc2,#bc2,#cc2,#cc2,#cc2,#ec2,#dc2,#cc2,#bc2,#ac2,#ac2,#ac2,#ac2,#bc2)"></i>
<i style="top:216.07px;height:3.50px;background:linear-gradient(90deg,#5b3,#4b3,#4b4,#5b3,#5c2,#4b3,#4a4,#5b3,#5c2,#6c2,#ac2,#7c2,#5b2,#7c2,#cc2,#cc2,#ac2,#ac2,#ac2,#dc2,#ea2,#e92,#e92,#dc2,#cc2,#bc2,#dc2,#cc2,#bc2,#cc2,#cc2,#bc2,#bc2,#bc2,#bc2,#dc2,#eb2,#dc2,#cc2,#bc2,#bc2,#bc2,#bc2,#9c2,#8c2,#8c2,#8c2,#8c2,#8c2,#8c2,#9c2,#ac2,#8c2,#5b2,#5b3,#5c2,#6c2,#7c2,#6c2,#5b3,#7c2,#8c2,#7c2,#6c2,#6c2,#4b3,#7c2,#7c2,#6c2,#7c2,#9c2,#8c2,#7c2,#8c2,#bc2,#bc2,#7c2,#9c2,#ac2,#9c2,#7c2,#9c2,#ac2,#7c2,#8c2,#9c2,#7c2,#8c2,#8c2,#9c2,#9c2,#9c2,#9c2,#ac2,#bc2,#dc2,#bc2,#ac2,#ac2,#bc2,#cc2,#bc2,#9c2,#7c2,#7c2,#6c2,#5c2,#6c2,#7c2,#6c2,#5c2,#7c2,#7c2,#ac2,#ac2,#9c2,#bc2,#db2,#eb2,#cc2,#cc2,#cc2,#cc2,#bc2,#da2,#ea2,#bc2,#ac2,#bc2,#dc2,#dc2,#dc2,#eb2,#ea2,#eb2,#ec2,#ec2,#ec2,#dc2,#dc2,#dc2,#cc2,#cc2,#dc2,#dc2,#dc2,#cc2,#bc2,#ac2,#ac2,#bc2,#cc2,#bc2,#cc2,#cc2,#cc2,#ec2,#dc2,#cc2,#cc2,#ac2,#ac2,#ac2,#bc2,#cc2)"></i>
<i style="top:219.07px;height:3.50px;background:linear-gradient(90deg,#5b3,#4b3,#4b4,#5b3,#5c2,#4b3,#4a4,#5b3,#5c2,#6c2,#ac2,#8c2,#5b2,#7c2,#cc2,#cc2,#ac2,#ac2,#ac2,#dc2,#eb2,#e92,#ea2,#dc2,#cc2,#bc2,#dc2,#cc2,#bc2,#cc2,#cc2,#bc2,#bc2,#bc2,#bc2,#db2,#eb2,#cc2,#bc2,#bc2,#bc2,#bc2,#bc2,#9c2,#8c2,#8c2,#8c2,#7c2,#7c2,#8c2,#9c2,#ac2,#8c2,#5b2,#5b3,#5c2,#6c2,#7c2,#6c2,#4b3,#6c2,#8c2,#7c2,#7c2,#6c2,#5b3,#7c2,#8c2,#6c2,#7c2,#ac2,#8c2,#8c2,#9c2,#bc2,#bc2,#8c2,#ac2,#ac2,#9c2,#8c2,#9c2,#ac2,#7c2,#8c2,#9c2,#8c2,#8c2,#8c2,#9c2,#9c2,#9c2,#9c2,#ac2,#cc2,#dc2,#bc2,#ac2,#ac2,#bc2,#cc2,#bc2,#ac2,#7c2,#7c2,#6c2,#6c2,#6c2,#7c2,#6c2,#5c2,#7c2,#7c2,#ac2,#ac2,#9c2,#bc2,#db2,#eb2,#cc2,#cc2,#cc2,#cc2,#cc2,#da2,#ea2,#bc2,#ac2,#bc2,#dc2,#dc2,#ec2,#ea2,#ea2,#eb2,#eb2,#ec2,#ec2,#dc2,#dc2,#dc2,#cc2,#cc2,#dc2,#dc2,#dc2,#cc2,#bc2,#bc2,#ac2,#bc2,#cc2,#bc2,#cc2,#cc2,#cc2,#ec2,#dc2,#cc2,#cc2,#bc2,#ac2,#ac2,#bc2,#cc2)"></i>
<i style="top:222.07px;height:3.50px;background:linear-gradient(90deg,#5b3,#4b3,#4b4,#5b3,#5c2,#4b3,#4a4,#5b3,#5c2,#6c2,#ac2,#8c2,#5c2,#7c2,#cc2,#cc2,#ac2,#ac2,#ac2,#cc2,#eb2,#e92,#ea2,#dc2,#bc2,#bc2,#dc2,#cc2,#bc2,#cc2,#cc2,#bc2,#bc2,#bc2,#bc2,#db2,#db2,#cc2,#bc2,#bc2,#bc2,#bc2,#bc2,#9c2,#8c2,#8c2,#8c2,#7c2,#7c2,#8c2,#9c2,#ac2,#8c2,#5b2,#5b3,#5c2,#6c2,#7c2,#6c2,#4b3,#6c2,#8c2,#7c2,#7c2,#6c2,#5b3,#7c2,#8c2,#7c2,#7c2,#ac2,#9c2,#8c2,#9c2,#bc2,#bc2,#8c2,#ac2,#ac2,#9c2,#8c2,#9c2,#ac2,#7c2,#8c2,#ac2,#8c2,#8c2,#9c2,#9c2,#9c2,#ac2,#9c2,#ac2,#cc2,#dc2,#bc2,#ac2,#ac2,#bc2,#cc2,#bc2,#ac2,#8c2,#7c2,#7c2,#6c2,#7c2,#7c2,#6c2,#6c2,#7c2,#8c2,#ac2,#ac2,#9c2,#bc2,#eb2,#eb2,#cc2,#cc2,#cc2,#cc2,#cc2,#da2,#ea2,#bc2,#ac2,#bc2,#dc2,#dc2,#ec2,#ea2,#ea2,#eb2,#eb2,#ec2,#ec2,#dc2,#dc2,#dc2,#cc2,#cc2,#dc2,#dc2,#dc2,#cc2,#bc2,#bc2,#bc2,#bc2,#cc2,#bc2,#cc2,#cc2,#cc2,#ec2,#dc2,#cc2,#cc2,#bc2,#ac2,#ac2,#bc2,#cc2)"></i>
<i style="top:225.07px;height:3.50px;background:linear-gradient(90deg,#5b3,#4b3,#4b4,#5b3,#5c2,#4b3,#4a4,#5b3,#5c2,#6c2,#ac2,#8c2,#5c2,#7c2,#cc2,#cc2,#ac2,#ac2,#ac2,#cc2,#eb2,#ea2,#eb2,#cc2,#bc2,#bc2,#cc2,#bc2,#bc2,#cc2,#cc2,#bc2,#bc2,#ac2,#bc2,#db2,#db2,#cc2,#bc2,#bc2,#bc2,#bc2,#bc2,#9c2,#8c2,#8c2,#8c2,#7c2,#7c2,#7c2,#9c2,#ac2,#7c2,#5b2,#5b3,#6c2,#7c2,#7c2,#5b2,#4b3,#6c2,#8c2,#7c2,#7c2,#6c2,#4b3,#7c2,#8c2,#7c2,#7c2,#ac2,#9c2,#8c2,#9c2,#bc2,#bc2,#8c2,#ac2,#ac2,#9c2,#8c2,#ac2,#ac2,#7c2,#8c2,#ac2,#8c2,#9c2,#9c2,#ac2,#ac2,#ac2,#ac2,#bc2,#cc2,#dc2,#bc2,#ac2,#bc2,#bc2,#cc2,#bc2,#ac2,#8c2,#8c2,#7c2,#6c2,#7c2,#7c2,#6c2,#6c2,#7c2,#8c2,#bc2,#ac2,#9c2,#bc2,#eb2,#eb2,#cc2,#cc2,#cc2,#cc2,#cc2,#da2,#ea2,#bc2,#ac2,#bc2,#dc2,#dc2,#ec2,#ea2,#ea2,#ea2,#eb2,#ec2,#ec2,#dc2,#dc2,#dc2,#cc2,#cc2,#dc2,#ec2,#dc2,#cc2,#bc2,#bc2,#bc2,#cc2,#cc2,#bc2,#cc2,#cc2,#cc2,#ec2,#dc2,#dc2,#cc2,#bc2,#ac2,#bc2,#bc2,#cc2)"></i>
<i style="top:228.07px;height:3.50px;background:linear-gradient(90deg,#5b3,#4b3,#4b4,#5b3,#5c2,#4b4,#4a4,#5b3,#5c2,#6c2,#ac2,#8c2,#5c2,#7c2,#cc2,#cc2,#ac2,#ac2,#ac2,#cc2,#db2,#ea2,#eb2,#cc2,#bc2,#ac2,#cc2,#bc2,#ac2,#cc2,#cc2,#bc2,#bc2,#ac2,#bc2,#db2,#db2,#cc2,#bc2,#bc2,#bc2,#cc2,#cc2,#ac2,#8c2,#8c2,#8c2,#7c2,#7c2,#7c2,#9c2,#ac2,#7c2,#5b2,#5b3,#6c2,#7c2,#7c2,#5b3,#4b3,#6c2,#8c2,#7c2,#7c2,#6c2,#4b3,#7c2,#8c2,#7c2,#7c2,#ac2,#9c2,#8c2,#9c2,#bc2,#bc2,#8c2,#ac2,#ac2,#9c2,#8c2,#ac2,#bc2,#8c2,#9c2,#ac2,#9c2,#9c2,#ac2,#ac2,#ac2,#ac2,#ac2,#bc2,#dc2,#dc2,#bc2,#bc2,#bc2,#bc2,#cc2,#cc2,#bc2,#9c2,#8c2,#8c2,#6c2,#7c2,#7c2,#6c2,#6c2,#8c2,#8c2,#bc2,#bc2,#9c2,#bc2,#eb2,#eb2,#cc2,#cc2,#cc2,#cc2,#cc2,#db2,#ea2,#bc2,#ac2,#bc2,#dc2,#dc2,#ec2,#ea2,#ea2,#ea2,#eb2,#ec2,#dc2,#dc2,#dc2,#dc2,#cc2,#cc2,#dc2,#ec2,#dc2,#bc2,#bc2,#bc2,#bc2,#cc2,#cc2,#bc2,#cc2,#dc2,#cc2,#dc2,#ec2,#dc2,#dc2,#bc2,#ac2,#bc2,#bc2,#cc2)"></i>
<i style="top:231.07px;height:3.50px;background:linear-gradient(90deg,#5b3,#4b3,#4b4,#5b3,#5c2,#4b4,#4a4,#5b3,#5c2,#6c2,#ac2,#8c2,#5c2,#7c2,#cc2,#cc2,#ac2,#ac2,#ac2,#cc2,#dc2,#eb2,#dc2,#cc2,#ac2,#ac2,#cc2,#bc2,#ac2,#bc2,#cc2,#cc2,#bc2,#ac2,#bc2,#db2,#db2,#cc2,#bc2,#bc2,#bc2,#cc2,#cc2,#ac2,#8c2,#8c2,#8c2,#7c2,#7c2,#7c2,#9c2,#ac2,#7c2,#5b2,#5b3,#6c2,#7c2,#7c2,#5b3,#4b3,#6c2,#7c2,#7c2,#7c2,#6c2,#4b3,#7c2,#8c2,#7c2,#7c2,#ac2,#9c2,#9c2,#9c2,#bc2,#bc2,#8c2,#ac2,#9c2,#9c2,#8c2,#ac2,#bc2,#8c2,#9c2,#ac2,#9c2,#ac2,#ac2,#bc2,#ac2,#ac2,#ac2,#bc2,#dc2,#dc2,#cc2,#bc2,#bc2,#cc2,#cc2,#cc2,#bc2,#9c2,#9c2,#8c2,#7c2,#7c2,#7c2,#6c2,#6c2,#8c2,#9c2,#bc2,#bc2,#9c2,#bc2,#ea2,#eb2,#cc2,#cc2,#cc2,#cc2,#cc2,#db2,#ea2,#bc2,#ac2,#bc2,#dc2,#dc2,#ec2,#ea2,#ea2,#eb2,#eb2,#dc2,#dc2,#dc2,#dc2,#dc2,#cc2,#cc2,#dc2,#ec2,#dc2,#bc2,#bc2,#bc2,#bc2,#cc2,#cc2,#bc2,#cc2,#dc2,#dc2,#dc2,#ec2,#dc2,#dc2,#bc2,#ac2,#bc2,#bc2,#cc2)"></i>
<i style="top:234.07px;height:3.50px;background:linear-gradient(90deg,#5b3,#4b3,#4b3,#5b3,#5b2,#4b4,#4a4,#5b3,#5c2,#6c2,#9c2,#8c2,#5c2,#7c2,#cc2,#cc2,#ac2,#9c2,#ac2,#cc2,#dc2,#eb2,#dc2,#bc2,#ac2,#ac2,#bc2,#bc2,#ac2,#bc2,#cc2,#cc2,#bc2,#ac2,#bc2,#db2,#db2,#cc2,#bc2,#bc2,#bc2,#cc2,#cc2,#ac2,#8c2,#8c2,#8c2,#7c2,#6c2,#7c2,#8c2,#9c2,#7c2,#5b2,#5b3,#6c2,#7c2,#7c2,#5b3,#4b4,#6c2,#7c2,#7c2,#7c2,#6c2,#4b3,#6c2,#8c2,#7c2,#7c2,#9c2,#ac2,#9c2,#9c2,#bc2,#bc2,#8c2,#ac2,#9c2,#8c2,#8c2,#ac2,#bc2,#8c2,#9c2,#bc2,#ac2,#ac2,#ac2,#bc2,#bc2,#bc2,#bc2,#cc2,#dc2,#ec2,#cc2,#bc2,#bc2,#cc2,#dc2,#cc2,#bc2,#9c2,#9c2,#8c2,#7c2,#7c2,#8c2,#6c2,#6c2,#8c2,#9c2,#bc2,#bc2,#ac2,#bc2,#ea2,#eb2,#cc2,#cc2,#cc2,#cc2,#cc2,#db2,#db2,#bc2,#ac2,#bc2,#dc2,#dc2,#dc2,#ea2,#ea2,#eb2,#ec2,#dc2,#dc2,#dc2,#dc2,#dc2,#cc2,#cc2,#dc2,#eb2,#dc2,#bc2,#bc2,#bc2,#bc2,#cc2,#cc2,#bc2,#cc2,#dc2,#dc2,#ec2,#ec2,#dc2,#dc2,#cc2,#bc2,#bc2,#bc2,#cc2)"></i>
<i style="top:237.07px;height:3.50px;background:linear-gradient(90deg,#5b3,#4b3,#4b3,#5b3,#5b2,#4b4,#4a4,#5b3,#5c2,#6c2,#9c2,#8c2,#5c2,#7c2,#cc2,#cc2,#ac2,#9c2,#ac2,#cc2,#dc2,#ec2,#dc2,#bc2,#ac2,#9c2,#bc2,#bc2,#ac2,#bc2,#cc2,#cc2,#bc2,#ac2,#bc2,#dc2,#dc2,#cc2,#bc2,#bc2,#bc2,#cc2,#cc2,#ac2,#8c2,#8c2,#8c2,#7c2,#6c2,#7c2,#8c2,#9c2,#7c2,#5b2,#5b3,#6c2,#8c2,#7c2,#5b3,#4b4,#5c2,#7c2,#7c2,#7c2,#6c2,#4b3,#6c2,#8c2,#8c2,#7c2,#9c2,#ac2,#9c2,#9c2,#bc2,#bc2,#8c2,#ac2,#9c2,#8c2,#8c2,#ac2,#bc2,#8c2,#9c2,#bc2,#ac2,#ac2,#bc2,#bc2,#bc2,#bc2,#bc2,#cc2,#dc2,#ec2,#cc2,#bc2,#cc2,#cc2,#dc2,#cc2,#cc2,#ac2,#9c2,#8c2,#7c2,#7c2,#8c2,#6c2,#6c2,#8c2,#9c2,#bc2,#bc2,#ac2,#cc2,#ea2,#ea2,#dc2,#cc2,#cc2,#dc2,#cc2,#db2,#db2,#bc2,#ac2,#bc2,#dc2,#dc2,#dc2,#ea2,#ea2,#eb2,#ec2,#dc2,#dc2,#dc2,#dc2,#dc2,#dc2,#cc2,#dc2,#eb2,#dc2,#bc2,#bc2,#cc2,#bc2,#cc2,#cc2,#bc2,#cc2,#dc2,#dc2,#ec2,#eb2,#dc2,#dc2,#cc2,#bc2,#cc2,#cc2,#cc2)"></i>
<i style="top:240.07px;height:3.50px;background:linear-gradient(90deg,#5b3,#4b3,#4b3,#5b3,#5b2,#4b4,#4a4,#5b3,#5c2,#6c2,#9c2,#8c2,#5c2,#7c2,#cc2,#cc2,#ac2,#9c2,#9c2,#bc2,#dc2,#dc2,#cc2,#ac2,#9c2,#9c2,#bc2,#bc2,#ac2,#bc2,#cc2,#cc2,#bc2,#ac2,#ac2,#dc2,#dc2,#bc2,#bc2,#ac2,#bc2,#cc2,#cc2,#ac2,#8c2,#7c2,#8c2,#7c2,#6c2,#6c2,#8c2,#9c2,#7c2,#5b2,#5b3,#6c2,#8c2,#7c2,#5b3,#4a4,#5c2,#7c2,#7c2,#7c2,#6c2,#4b3,#6c2,#8c2,#8c2,#8c2,#9c2,#ac2,#ac2,#9c2,#bc2,#bc2,#8c2,#ac2,#9c2,#8c2,#8c2,#ac2,#bc2,#8c2,#9c2,#bc2,#ac2,#ac2,#bc2,#bc2,#bc2,#bc2,#bc2,#cc2,#dc2,#dc2,#cc2,#bc2,#cc2,#cc2,#dc2,#cc2,#cc2,#ac2,#9c2,#9c2,#7c2,#7c2,#8c2,#6c2,#6c2,#8c2,#9c2,#bc2,#bc2,#ac2,#cc2,#ea2,#ea2,#dc2,#dc2,#dc2,#dc2,#cc2,#dc2,#db2,#bc2,#ac2,#bc2,#dc2,#dc2,#dc2,#eb2,#ea2,#eb2,#ec2,#dc2,#dc2,#dc2,#dc2,#ec2,#dc2,#cc2,#dc2,#eb2,#dc2,#bc2,#bc2,#cc2,#cc2,#cc2,#dc2,#bc2,#cc2,#dc2,#dc2,#ec2,#eb2,#dc2,#dc2,#cc2,#bc2,#cc2,#cc2,#cc2)"></i>
<i style="top:243.07px;height:3.50px;background:linear-gradient(90deg,#5b3,#4b3,#4b3,#5b3,#5b3,#4b4,#4a4,#5b3,#5c2,#6c2,#9c2,#8c2,#5c2,#7c2,#cc2,#cc2,#ac2,#9c2,#9c2,#bc2,#cc2,#dc2,#cc2,#ac2,#9c2,#9c2,#ac2,#bc2,#ac2,#bc2,#cc2,#cc2,#bc2,#ac2,#ac2,#dc2,#dc2,#bc2,#bc2,#ac2,#ac2,#cc2,#cc2,#ac2,#8c2,#7c2,#7c2,#7c2,#5c2,#6c2,#8c2,#9c2,#7c2,#5b2,#5b2,#6c2,#8c2,#7c2,#5b3,#4a4,#5b2,#6c2,#7c2,#7c2,#6c2,#4b3,#6c2,#8c2,#8c2,#8c2,#9c2,#ac2,#ac2,#9c2,#bc2,#bc2,#8c2,#ac2,#9c2,#8c2,#8c2,#ac2,#bc2,#8c2,#9c2,#bc2,#ac2,#ac2,#bc2,#cc2,#bc2,#bc2,#bc2,#cc2,#dc2,#dc2,#cc2,#cc2,#cc2,#dc2,#dc2,#cc2,#cc2,#ac2,#9c2,#9c2,#7c2,#7c2,#7c2,#6c2,#6c2,#8c2,#9c2,#bc2,#bc2,#ac2,#cc2,#e92,#e92,#dc2,#dc2,#dc2,#dc2,#cc2,#dc2,#db2,#bc2,#ac2,#bc2,#dc2,#cc2,#dc2,#eb2,#eb2,#eb2,#dc2,#dc2,#dc2,#dc2,#dc2,#ec2,#dc2,#cc2,#dc2,#eb2,#db2,#bc2,#bc2,#cc2,#cc2,#cc2,#dc2,#bc2,#cc2,#dc2,#dc2,#ec2,#eb2,#dc2,#dc2,#cc2,#cc2,#dc2,#cc2,#cc2)"></i>
<i style="top:246.08px;height:3.50px;background:linear-gradient(90deg,#5b3,#5b3,#4b3,#5b3,#5b3,#4b3,#4b4,#5b3,#5c2,#6c2,#9c2,#8c2,#5c2,#7c2,#bc2,#cc2,#ac2,#9c2,#9c2,#bc2,#cc2,#dc2,#bc2,#9c2,#8c2,#8c2,#ac2,#ac2,#ac2,#bc2,#cc2,#cc2,#bc2,#ac2,#ac2,#cc2,#dc2,#bc2,#ac2,#ac2,#ac2,#cc2,#cc2,#9c2,#7c2,#7c2,#7c2,#6c2,#5c2,#6c2,#7c2,#8c2,#7c2,#5b2,#5b2,#6c2,#8c2,#7c2,#5b3,#4a4,#5b2,#6c2,#7c2,#7c2,#6c2,#4b3,#6c2,#8c2,#8c2,#8c2,#9c2,#ac2,#ac2,#9c2,#bc2,#bc2,#8c2,#ac2,#8c2,#8c2,#8c2,#ac2,#bc2,#9c2,#9c2,#bc2,#ac2,#ac2,#bc2,#cc2,#bc2,#bc2,#bc2,#cc2,#dc2,#dc2,#cc2,#cc2,#cc2,#dc2,#dc2,#dc2,#cc2,#ac2,#9c2,#9c2,#7c2,#7c2,#7c2,#6c2,#6c2,#8c2,#9c2,#bc2,#cc2,#bc2,#cc2,#e92,#e92,#ec2,#ec2,#dc2,#dc2,#dc2,#dc2,#dc2,#bc2,#ac2,#bc2,#dc2,#cc2,#dc2,#eb2,#eb2,#ec2,#dc2,#dc2,#cc2,#dc2,#dc2,#ec2,#dc2,#cc2,#dc2,#ea2,#db2,#bc2,#bc2,#cc2,#cc2,#cc2,#dc2,#cc2,#cc2,#dc2,#dc2,#ec2,#eb2,#dc2,#dc2,#dc2,#cc2,#dc2,#dc2,#dc2)"></i>
<i style="top:249.08px;height:3.50px;background:linear-gradient(90deg,#5b3,#5b3,#4b3,#5b3,#5b3,#4b3,#4b4,#5b3,#5c2,#6c2,#8c2,#9c2,#6c2,#7c2,#bc2,#cc2,#9c2,#8c2,#8c2,#bc2,#cc2,#cc2,#bc2,#9c2,#8c2,#8c2,#ac2,#ac2,#ac2,#ac2,#cc2,#cc2,#bc2,#9c2,#ac2,#cc2,#cc2,#bc2,#ac2,#ac2,#ac2,#bc2,#cc2,#9c2,#7c2,#7c2,#7c2,#6c2,#5c2,#5c2,#7c2,#8c2,#7c2,#5b2,#5b2,#6c2,#8c2,#7c2,#5b3,#4a4,#5b3,#6c2,#6c2,#7c2,#6c2,#4b3,#5c2,#8c2,#8c2,#8c2,#9c2,#ac2,#ac2,#9c2,#bc2,#bc2,#8c2,#ac2,#8c2,#8c2,#8c2,#ac2,#bc2,#9c2,#9c2,#bc2,#ac2,#ac2,#bc2,#cc2,#bc2,#bc2,#bc2,#cc2,#dc2,#dc2,#cc2,#cc2,#dc2,#dc2,#dc2,#dc2,#cc2,#ac2,#9c2,#9c2,#7c2,#7c2,#7c2,#6c2,#6c2,#8c2,#9c2,#bc2,#cc2,#bc2,#cc2,#e82,#e82,#eb2,#ec2,#ec2,#dc2,#dc2,#dc2,#dc2,#cc2,#ac2,#bc2,#cc2,#cc2,#dc2,#ec2,#eb2,#ec2,#dc2,#cc2,#cc2,#dc2,#dc2,#eb2,#dc2,#cc2,#dc2,#ea2,#db2,#bc2,#bc2,#cc2,#cc2,#cc2,#cc2,#cc2,#cc2,#dc2,#dc2,#ec2,#ea2,#dc2,#dc2,#dc2,#dc2,#dc2,#dc2,#dc2)"></i>
<i style="top:252.08px;height:3.50px;background:linear-gradient(90deg,#5b3,#5b3,#4b3,#5b3,#5b3,#4b3,#4b4,#5b3,#5c2,#6c2,#8c2,#9c2,#6c2,#6c2,#bc2,#cc2,#9c2,#8c2,#8c2,#bc2,#bc2,#cc2,#ac2,#8c2,#8c2,#8c2,#9c2,#ac2,#9c2,#ac2,#cc2,#dc2,#bc2,#9c2,#ac2,#cc2,#cc2,#ac2,#ac2,#9c2,#ac2,#bc2,#cc2,#9c2,#7c2,#7c2,#7c2,#6c2,#5c2,#5c2,#7c2,#8c2,#7c2,#5c2,#5b2,#6c2,#8c2,#7c2,#5b3,#4a4,#5b3,#6c2,#6c2,#6c2,#6c2,#4b3,#5c2,#7c2,#8c2,#8c2,#9c2,#ac2,#bc2,#ac2,#ac2,#bc2,#9c2,#ac2,#8c2,#7c2,#8c2,#ac2,#bc2,#9c2,#9c2,#bc2,#ac2,#ac2,#bc2,#cc2,#bc2,#bc2,#bc2,#cc2,#dc2,#dc2,#dc2,#cc2,#dc2,#ec2,#ec2,#dc2,#dc2,#bc2,#ac2,#9c2,#7c2,#7c2,#7c2,#6c2,#6c2,#8c2,#ac2,#bc2,#cc2,#bc2,#dc2,#e82,#e82,#eb2,#eb2,#ec2,#ec2,#dc2,#dc2,#dc2,#cc2,#bc2,#bc2,#cc2,#cc2,#cc2,#dc2,#ec2,#dc2,#dc2,#cc2,#cc2,#dc2,#dc2,#eb2,#dc2,#cc2,#dc2,#ea2,#da2,#bc2,#bc2,#cc2,#dc2,#cc2,#cc2,#cc2,#cc2,#dc2,#ec2,#eb2,#ea2,#eb2,#dc2,#dc2,#dc2,#ec2,#dc2,#dc2)"></i>
<i style="top:255.08px;height:3.50px;background:linear-gradient(90deg,#5b3,#5b3,#4b3,#5b3,#5b3,#4b3,#4b4,#5b3,#5c2,#6c2,#8c2,#9c2,#6c2,#6c2,#bc2,#cc2,#9c2,#8c2,#8c2,#ac2,#bc2,#cc2,#ac2,#8c2,#7c2,#7c2,#9c2,#ac2,#9c2,#ac2,#cc2,#dc2,#bc2,#9c2,#9c2,#bc2,#bc2,#ac2,#9c2,#9c2,#ac2,#bc2,#cc2,#9c2,#7c2,#7c2,#7c2,#6c2,#5c2,#5c2,#7c2,#8c2,#7c2,#5c2,#5c2,#6c2,#8c2,#8c2,#5b3,#4b4,#5b2,#6c2,#6c2,#6c2,#6c2,#4b3,#5c2,#7c2,#9c2,#8c2,#9c2,#bc2,#bc2,#ac2,#ac2,#bc2,#9c2,#ac2,#8c2,#7c2,#8c2,#ac2,#bc2,#9c2,#ac2,#bc2,#ac2,#ac2,#cc2,#dc2,#cc2,#bc2,#bc2,#cc2,#dc2,#ec2,#dc2,#dc2,#dc2,#eb2,#ec2,#dc2,#dc2,#bc2,#ac2,#9c2,#7c2,#7c2,#7c2,#7c2,#6c2,#8c2,#ac2,#bc2,#cc2,#cc2,#dc2,#e81,#e72,#ea2,#eb2,#eb2,#ec2,#dc2,#dc2,#dc2,#cc2,#bc2,#bc2,#cc2,#cc2,#cc2,#dc2,#ec2,#dc2,#cc2,#cc2,#cc2,#dc2,#dc2,#eb2,#dc2,#dc2,#dc2,#ea2,#da2,#bc2,#bc2,#cc2,#dc2,#cc2,#cc2,#cc2,#cc2,#dc2,#ec2,#eb2,#ea2,#eb2,#dc2,#dc2,#dc2,#eb2,#ec2,#dc2)"></i>
<i style="top:258.08px;height:3.50px;background:linear-gradient(90deg,#5b3,#5b3,#4b3,#5b3,#5b3,#4b4,#4b4,#4b3,#5c2,#5c2,#7c2,#8c2,#6c2,#6c2,#ac2,#cc2,#9c2,#8c2,#8c2,#ac2,#bc2,#cc2,#ac2,#8c2,#7c2,#7c2,#9c2,#ac2,#9c2,#ac2,#cc2,#dc2,#bc2,#9c2,#9c2,#bc2,#bc2,#ac2,#9c2,#9c2,#9c2,#bc2,#cc2,#9c2,#7c2,#7c2,#7c2,#6c2,#5c2,#5c2,#7c2,#8c2,#7c2,#5c2,#5c2,#6c2,#8c2,#8c2,#5b2,#4b3,#5b2,#6c2,#6c2,#6c2,#6c2,#5b3,#5c2,#7c2,#9c2,#8c2,#9c2,#bc2,#bc2,#ac2,#ac2,#bc2,#9c2,#bc2,#9c2,#7c2,#8c2,#ac2,#bc2,#9c2,#ac2,#bc2,#ac2,#bc2,#cc2,#dc2,#cc2,#bc2,#bc2,#cc2,#dc2,#ec2,#dc2,#dc2,#ec2,#eb2,#eb2,#ec2,#dc2,#bc2,#ac2,#9c2,#7c2,#7c2,#8c2,#7c2,#6c2,#9c2,#ac2,#bc2,#cc2,#cc2,#dc2,#e81,#e71,#ea2,#ea2,#eb2,#ec2,#dc2,#dc2,#dc2,#cc2,#bc2,#bc2,#cc2,#cc2,#cc2,#dc2,#dc2,#dc2,#cc2,#cc2,#cc2,#dc2,#dc2,#eb2,#ec2,#dc2,#dc2,#ea2,#ea2,#bc2,#bc2,#cc2,#dc2,#cc2,#cc2,#cc2,#cc2,#dc2,#ec2,#eb2,#ea2,#eb2,#dc2,#dc2,#ec2,#eb2,#eb2,#dc2)"></i>
<i style="top:261.08px;height:3.50px;background:linear-gradient(90deg,#5b3,#4b3,#4b3,#4b3,#4b3,#4b4,#4b4,#4b3,#5b2,#5c2,#7c2,#8c2,#6c2,#6c2,#ac2,#cc2,#9c2,#7c2,#7c2,#ac2,#bc2,#bc2,#9c2,#7c2,#7c2,#7c2,#8c2,#ac2,#9c2,#9c2,#bc2,#dc2,#bc2,#9c2,#9c2,#ac2,#bc2,#9c2,#9c2,#9c2,#9c2,#ac2,#bc2,#9c2,#7c2,#7c2,#7c2,#6c2,#5c2,#5c2,#7c2,#8c2,#7c2,#6c2,#6c2,#6c2,#8c2,#8c2,#6c2,#4b3,#5b2,#6c2,#6c2,#6c2,#6c2,#5b3,#5c2,#7c2,#9c2,#9c2,#9c2,#bc2,#cc2,#ac2,#ac2,#bc2,#9c2,#bc2,#9c2,#8c2,#8c2,#ac2,#cc2,#ac2,#ac2,#bc2,#ac2,#bc2,#cc2,#dc2,#cc2,#bc2,#bc2,#cc2,#dc2,#ec2,#dc2,#dc2,#eb2,#ea2,#ea2,#ec2,#ec2,#cc2,#ac2,#9c2,#8c2,#7c2,#8c2,#7c2,#6c2,#9c2,#ac2,#bc2,#cc2,#cc2,#dc2,#e82,#f71,#ea2,#ea2,#eb2,#ec2,#dc2,#dc2,#dc2,#cc2,#bc2,#bc2,#cc2,#cc2,#bc2,#dc2,#dc2,#dc2,#cc2,#cc2,#cc2,#dc2,#dc2,#eb2,#ec2,#dc2,#cc2,#eb2,#ea2,#bc2,#bc2,#cc2,#dc2,#cc2,#cc2,#cc2,#cc2,#dc2,#ec2,#eb2,#ea2,#ea2,#dc2,#dc2,#ec2,#ea2,#eb2,#dc2)"></i>
<i style="top:264.08px;height:3.50px;background:linear-gradient(90deg,#5b3,#4b3,#4b3,#4b3,#4b3,#4a4,#4b4,#4b3,#5b2,#5c2,#6c2,#8c2,#6c2,#6c2,#9c2,#cc2,#9c2,#7c2,#7c2,#ac2,#bc2,#bc2,#9c2,#7c2,#7c2,#7c2,#8c2,#9c2,#9c2,#9c2,#bc2,#dc2,#bc2,#9c2,#9c2,#ac2,#ac2,#9c2,#8c2,#8c2,#9c2,#ac2,#bc2,#9c2,#7c2,#6c2,#7c2,#7c2,#5c2,#5c2,#7c2,#8c2,#7c2,#6c2,#6c2,#7c2,#8c2,#8c2,#6c2,#4b3,#5c2,#6c2,#6c2,#6c2,#6c2,#5b2,#5c2,#7c2,#9c2,#9c2,#9c2,#bc2,#cc2,#bc2,#ac2,#bc2,#9c2,#bc2,#9c2,#8c2,#9c2,#ac2,#cc2,#ac2,#ac2,#bc2,#ac2,#bc2,#cc2,#ec2,#cc2,#bc2,#bc2,#cc2,#dc2,#ec2,#dc2,#ec2,#eb2,#e92,#ea2,#eb2,#eb2,#cc2,#bc2,#ac2,#8c2,#7c2,#8c2,#7c2,#7c2,#9c2,#bc2,#bc2,#cc2,#cc2,#dc2,#e82,#f71,#ea2,#ea2,#eb2,#ec2,#dc2,#cc2,#cc2,#cc2,#bc2,#bc2,#cc2,#cc2,#bc2,#cc2,#dc2,#cc2,#cc2,#cc2,#bc2,#cc2,#ec2,#ea2,#eb2,#dc2,#cc2,#eb2,#ea2,#bc2,#bc2,#cc2,#dc2,#cc2,#cc2,#cc2,#cc2,#dc2,#ec2,#eb2,#ea2,#ea2,#dc2,#dc2,#ec2,#ea2,#eb2,#dc2)"></i>
<i style="top:267.08px;height:3.50px;background:linear-gradient(90deg,#5b3,#4b3,#4b3,#4b3,#4b3,#4a4,#4b4,#4b3,#5b3,#5c2,#6c2,#8c2,#6c2,#5c2,#9c2,#cc2,#9c2,#7c2,#7c2,#9c2,#bc2,#bc2,#9c2,#7c2,#6c2,#6c2,#8c2,#9c2,#9c2,#9c2,#bc2,#dc2,#bc2,#9c2,#9c2,#9c2,#ac2,#9c2,#8c2,#8c2,#9c2,#ac2,#bc2,#9c2,#7c2,#6c2,#7c2,#7c2,#5c2,#5c2,#7c2,#8c2,#7c2,#7c2,#7c2,#7c2,#8c2,#9c2,#6c2,#5b3,#5c2,#6c2,#6c2,#6c2,#6c2,#5c2,#5c2,#7c2,#ac2,#9c2,#9c2,#bc2,#cc2,#bc2,#ac2,#bc2,#ac2,#bc2,#9c2,#8c2,#9c2,#ac2,#cc2,#ac2,#ac2,#bc2,#bc2,#bc2,#cc2,#eb2,#dc2,#bc2,#bc2,#cc2,#dc2,#eb2,#ec2,#ec2,#ea2,#e92,#e92,#eb2,#eb2,#dc2,#bc2,#ac2,#8c2,#8c2,#8c2,#7c2,#7c2,#9c2,#bc2,#bc2,#cc2,#dc2,#dc2,#e82,#f71,#ea2,#ea2,#ea2,#ec2,#dc2,#cc2,#cc2,#cc2,#bc2,#bc2,#cc2,#cc2,#bc2,#cc2,#dc2,#cc2,#bc2,#cc2,#bc2,#cc2,#eb2,#ea2,#eb2,#dc2,#cc2,#db2,#ea2,#bc2,#bc2,#cc2,#dc2,#cc2,#cc2,#cc2,#cc2,#dc2,#ec2,#eb2,#ea2,#ea2,#dc2,#dc2,#ec2,#ea2,#eb2,#dc2)"></i>
<i style="top:270.08px;height:3.50px;background:linear-gradient(90deg,#5b3,#4b3,#4b3,#4b3,#4b3,#4a4,#4b4,#4b3,#5b3,#5c2,#6c2,#7c2,#6c2,#5c2,#8c2,#cc2,#8c2,#6c2,#6c2,#9c2,#bc2,#bc2,#9c2,#6c2,#6c2,#6c2,#7c2,#9c2,#9c2,#9c2,#bc2,#dc2,#bc2,#9c2,#9c2,#9c2,#9c2,#8c2,#8c2,#8c2,#9c2,#9c2,#bc2,#9c2,#7c2,#7c2,#7c2,#7c2,#6c2,#5c2,#7c2,#8c2,#8c2,#7c2,#7c2,#7c2,#8c2,#9c2,#6c2,#5b3,#6c2,#6c2,#6c2,#6c2,#6c2,#5c2,#5c2,#7c2,#ac2,#9c2,#9c2,#bc2,#dc2,#bc2,#ac2,#bc2,#ac2,#bc2,#ac2,#8c2,#9c2,#9c2,#cc2,#ac2,#ac2,#cc2,#bc2,#bc2,#dc2,#eb2,#dc2,#cc2,#bc2,#cc2,#ec2,#eb2,#ec2,#eb2,#ea2,#e82,#e92,#ea2,#ea2,#dc2,#bc2,#ac2,#8c2,#8c2,#8c2,#8c2,#7c2,#9c2,#bc2,#bc2,#cc2,#dc2,#dc2,#e92,#f71,#ea2,#ea2,#ea2,#ec2,#dc2,#cc2,#cc2,#cc2,#cc2,#bc2,#cc2,#cc2,#bc2,#cc2,#dc2,#cc2,#bc2,#bc2,#bc2,#cc2,#eb2,#ea2,#eb2,#dc2,#cc2,#db2,#ea2,#cc2,#bc2,#cc2,#dc2,#cc2,#cc2,#cc2,#cc2,#dc2,#ec2,#eb2,#ea2,#ea2,#dc2,#dc2,#dc2,#ea2,#eb2,#dc2)"></i>
<i style="top:273.08px;height:3.50px;background:linear-gradient(90deg,#5b3,#4b3,#4b3,#5b3,#4b3,#4a4,#4b3,#4b3,#5b3,#5c2,#5c2,#7c2,#6c2,#5c2,#8c2,#bc2,#8c2,#6c2,#6c2,#8c2,#ac2,#ac2,#8c2,#6c2,#6c2,#6c2,#7c2,#9c2,#9c2,#9c2,#ac2,#dc2,#cc2,#9c2,#9c2,#9c2,#9c2,#8c2,#8c2,#8c2,#9c2,#9c2,#ac2,#9c2,#7c2,#7c2,#8c2,#7c2,#6c2,#5c2,#7c2,#8c2,#8c2,#7c2,#7c2,#7c2,#8c2,#9c2,#6c2,#5b2,#5c2,#6c2,#6c2,#6c2,#6c2,#5c2,#5c2,#7c2,#9c2,#9c2,#9c2,#ac2,#dc2,#bc2,#ac2,#ac2,#ac2,#bc2,#ac2,#8c2,#9c2,#9c2,#bc2,#bc2,#ac2,#cc2,#bc2,#bc2,#dc2,#ea2,#dc2,#cc2,#bc2,#cc2,#ec2,#eb2,#ec2,#eb2,#e92,#e82,#e82,#ea2,#ea2,#dc2,#bc2,#ac2,#9c2,#8c2,#8c2,#8c2,#7c2,#ac2,#cc2,#bc2,#cc2,#dc2,#dc2,#ea2,#e72,#ea2,#ea2,#ea2,#ec2,#dc2,#cc2,#cc2,#cc2,#cc2,#bc2,#cc2,#cc2,#bc2,#cc2,#cc2,#cc2,#bc2,#bc2,#bc2,#cc2,#eb2,#ea2,#eb2,#dc2,#dc2,#dc2,#ea2,#cc2,#bc2,#cc2,#dc2,#cc2,#cc2,#cc2,#cc2,#dc2,#ec2,#eb2,#ea2,#ea2,#dc2,#dc2,#dc2,#eb2,#eb2,#dc2)"></i>
<i style="top:276.08px;height:3.50px;background:linear-gradient(90deg,#5b3,#5b3,#4b3,#5b3,#4b3,#4b4,#4b3,#4b3,#5b3,#5b2,#5c2,#7c2,#6c2,#5c2,#7c2,#bc2,#8c2,#6c2,#6c2,#8c2,#ac2,#ac2,#8c2,#6c2,#6c2,#6c2,#7c2,#9c2,#9c2,#9c2,#ac2,#dc2,#cc2,#9c2,#9c2,#9c2,#8c2,#8c2,#8c2,#8c2,#9c2,#9c2,#ac2,#9c2,#7c2,#7c2,#8c2,#7c2,#6c2,#5c2,#7c2,#8c2,#8c2,#8c2,#8c2,#7c2,#8c2,#9c2,#7c2,#5b2,#5c2,#6c2,#6c2,#6c2,#6c2,#5c2,#5c2,#7c2,#9c2,#9c2,#9c2,#ac2,#dc2,#bc2,#ac2,#ac2,#ac2,#bc2,#ac2,#8c2,#9c2,#9c2,#bc2,#bc2,#ac2,#cc2,#bc2,#ac2,#dc2,#ea2,#db2,#cc2,#bc2,#cc2,#ec2,#eb2,#eb2,#eb2,#e92,#e82,#e82,#ea2,#ea2,#db2,#bc2,#ac2,#9c2,#8c2,#8c2,#8c2,#8c2,#ac2,#cc2,#bc2,#cc2,#dc2,#dc2,#ea2,#e82,#ea2,#ea2,#ea2,#ec2,#dc2,#cc2,#cc2,#cc2,#cc2,#bc2,#bc2,#cc2,#bc2,#bc2,#cc2,#cc2,#bc2,#bc2,#bc2,#cc2,#db2,#e92,#eb2,#dc2,#dc2,#dc2,#ea2,#cc2,#bc2,#bc2,#dc2,#dc2,#cc2,#dc2,#cc2,#cc2,#ec2,#eb2,#ea2,#ea2,#dc2,#cc2,#dc2,#eb2,#eb2,#dc2)"></i>
<i style="top:279.09px;height:3.50px;background:linear-gradient(90deg,#5b3,#5b3,#5b3,#5b3,#4b3,#4b3,#4b3,#4b3,#5b3,#5b2,#5b2,#6c2,#6c2,#5c2,#7c2,#bc2,#9c2,#5c2,#5c2,#7c2,#ac2,#ac2,#8c2,#6c2,#6c2,#6c2,#7c2,#8c2,#9c2,#9c2,#ac2,#dc2,#cc2,#9c2,#9c2,#9c2,#8c2,#8c2,#8c2,#8c2,#9c2,#9c2,#ac2,#9c2,#7c2,#7c2,#8c2,#7c2,#6c2,#5c2,#7c2,#8c2,#8c2,#8c2,#8c2,#8c2,#8c2,#9c2,#7c2,#5c2,#5c2,#6c2,#6c2,#5c2,#6c2,#5c2,#5c2,#6c2,#9c2,#9c2,#9c2,#ac2,#dc2,#bc2,#ac2,#ac2,#9c2,#ac2,#ac2,#8c2,#9c2,#9c2,#bc2,#bc2,#ac2,#cc2,#bc2,#ac2,#dc2,#e92,#eb2,#cc2,#bc2,#cc2,#ec2,#ea2,#eb2,#eb2,#e92,#e82,#e82,#e92,#ea2,#db2,#bc2,#ac2,#9c2,#8c2,#9c2,#9c2,#8c2,#ac2,#cc2,#bc2,#cc2,#dc2,#dc2,#eb2,#e82,#ea2,#eb2,#ea2,#dc2,#dc2,#dc2,#cc2,#cc2,#cc2,#bc2,#bc2,#cc2,#bc2,#bc2,#cc2,#cc2,#bc2,#bc2,#bc2,#cc2,#db2,#e92,#eb2,#ec2,#dc2,#dc2,#eb2,#cc2,#bc2,#bc2,#dc2,#dc2,#cc2,#dc2,#cc2,#cc2,#ec2,#eb2,#eb2,#ea2,#dc2,#cc2,#dc2,#eb2,#eb2,#dc2)"></i>
<i style="top:282.09px;height:3.50px;background:linear-gradient(90deg,#5b3,#5b3,#5b3,#5b3,#5b3,#4b3,#4b3,#5b3,#5b3,#5b2,#5b2,#6c2,#6c2,#5c2,#7c2,#ac2,#9c2,#5c2,#5c2,#7c2,#ac2,#9c2,#8c2,#5c2,#5c2,#6c2,#6c2,#8c2,#9c2,#9c2,#ac2,#dc2,#cc2,#9c2,#9c2,#9c2,#8c2,#8c2,#8c2,#8c2,#9c2,#9c2,#ac2,#9c2,#7c2,#7c2,#8c2,#8c2,#6c2,#5c2,#7c2,#8c2,#8c2,#8c2,#8c2,#8c2,#8c2,#9c2,#7c2,#5c2,#5c2,#6c2,#6c2,#5c2,#6c2,#5c2,#5c2,#6c2,#9c2,#9c2,#9c2,#ac2,#cc2,#cc2,#ac2,#9c2,#9c2,#ac2,#ac2,#8c2,#9c2,#9c2,#bc2,#bc2,#ac2,#cc2,#bc2,#ac2,#cc2,#e92,#ea2,#cc2,#cc2,#cc2,#ec2,#ea2,#eb2,#eb2,#e92,#e82,#e82,#e92,#ea2,#db2,#cc2,#bc2,#9c2,#8c2,#9c2,#ac2,#9c2,#ac2,#dc2,#cc2,#cc2,#dc2,#dc2,#db2,#e92,#eb2,#eb2,#ea2,#dc2,#dc2,#dc2,#cc2,#cc2,#cc2,#bc2,#bc2,#cc2,#bc2,#bc2,#cc2,#cc2,#bc2,#bc2,#bc2,#bc2,#dc2,#e92,#ea2,#ec2,#dc2,#dc2,#eb2,#cc2,#ac2,#bc2,#dc2,#dc2,#cc2,#dc2,#cc2,#cc2,#dc2,#eb2,#eb2,#ea2,#dc2,#cc2,#cc2,#dc2,#eb2,#dc2)"></i>
<i style="top:285.09px;height:3.50px;background:linear-gradient(90deg,#5b3,#5b3,#5b3,#5b2,#5b3,#4b3,#4b3,#5b3,#5b3,#5b2,#5b3,#6c2,#6c2,#5c2,#6c2,#ac2,#9c2,#5c2,#5c2,#6c2,#9c2,#9c2,#8c2,#5c2,#5c2,#5c2,#6c2,#8c2,#9c2,#9c2,#9c2,#cc2,#cc2,#ac2,#ac2,#9c2,#8c2,#8c2,#8c2,#8c2,#9c2,#9c2,#9c2,#9c2,#7c2,#7c2,#8c2,#8c2,#7c2,#5c2,#6c2,#9c2,#8c2,#9c2,#8c2,#8c2,#7c2,#8c2,#7c2,#5c2,#5c2,#6c2,#6c2,#5c2,#5c2,#5c2,#5c2,#6c2,#9c2,#9c2,#9c2,#9c2,#cc2,#cc2,#ac2,#9c2,#9c2,#ac2,#ac2,#8c2,#9c2,#9c2,#bc2,#bc2,#ac2,#cc2,#bc2,#ac2,#cc2,#e92,#ea2,#dc2,#cc2,#cc2,#ec2,#ea2,#eb2,#eb2,#e92,#e82,#e82,#e92,#ea2,#eb2,#cc2,#bc2,#9c2,#9c2,#9c2,#ac2,#9c2,#bc2,#dc2,#cc2,#cc2,#dc2,#dc2,#dc2,#e92,#eb2,#ec2,#ea2,#dc2,#dc2,#dc2,#cc2,#cc2,#cc2,#cc2,#bc2,#cc2,#bc2,#bc2,#cc2,#cc2,#bc2,#bc2,#bc2,#bc2,#dc2,#e92,#ea2,#ec2,#dc2,#dc2,#eb2,#cc2,#ac2,#bc2,#cc2,#dc2,#cc2,#dc2,#cc2,#cc2,#dc2,#eb2,#eb2,#ea2,#dc2,#cc2,#cc2,#dc2,#eb2,#dc2)"></i>
<i style="top:288.09px;height:3.50px;background:linear-gradient(90deg,#5b3,#5b3,#5b3,#5b2,#5b3,#4b3,#4b3,#5b3,#4b3,#5b3,#5b3,#5c2,#6c2,#5c2,#6c2,#9c2,#9c2,#5c2,#5c2,#6c2,#9c2,#9c2,#7c2,#5c2,#5c2,#5c2,#6c2,#8c2,#9c2,#9c2,#9c2,#cc2,#cc2,#ac2,#ac2,#9c2,#8c2,#8c2,#8c2,#8c2,#9c2,#9c2,#9c2,#9c2,#7c2,#7c2,#8c2,#8c2,#7c2,#5c2,#6c2,#9c2,#9c2,#9c2,#8c2,#8c2,#7c2,#8c2,#7c2,#5c2,#6c2,#7c2,#6c2,#5c2,#5c2,#5c2,#5c2,#6c2,#8c2,#9c2,#8c2,#9c2,#cc2,#cc2,#ac2,#9c2,#9c2,#ac2,#ac2,#8c2,#9c2,#9c2,#ac2,#bc2,#ac2,#bc2,#bc2,#ac2,#cc2,#e82,#e92,#dc2,#cc2,#cc2,#dc2,#ea2,#eb2,#eb2,#ea2,#e82,#e82,#e92,#ea2,#eb2,#cc2,#bc2,#9c2,#9c2,#ac2,#bc2,#ac2,#bc2,#dc2,#cc2,#cc2,#dc2,#dc2,#dc2,#ea2,#eb2,#dc2,#eb2,#dc2,#dc2,#dc2,#bc2,#cc2,#cc2,#cc2,#bc2,#cc2,#bc2,#bc2,#cc2,#cc2,#bc2,#bc2,#bc2,#bc2,#dc2,#e92,#ea2,#ec2,#dc2,#cc2,#dc2,#cc2,#ac2,#bc2,#cc2,#dc2,#bc2,#cc2,#dc2,#cc2,#dc2,#ea2,#eb2,#ea2,#db2,#cc2,#cc2,#dc2,#eb2,#dc2)"></i>
<i style="top:291.09px;height:3.50px;background:linear-gradient(90deg,#4b3,#5b3,#5b3,#5b2,#5b3,#4b3,#4b3,#5b3,#4b3,#5b3,#5b3,#5b2,#5c2,#5c2,#6c2,#9c2,#9c2,#5b2,#5b2,#6c2,#8c2,#8c2,#7c2,#5c2,#5b2,#5c2,#5c2,#7c2,#9c2,#9c2,#9c2,#cc2,#cc2,#9c2,#ac2,#ac2,#7c2,#7c2,#8c2,#8c2,#9c2,#9c2,#9c2,#9c2,#7c2,#7c2,#8c2,#8c2,#7c2,#6c2,#6c2,#8c2,#9c2,#9c2,#9c2,#8c2,#7c2,#8c2,#8c2,#6c2,#6c2,#7c2,#6c2,#5c2,#5c2,#5c2,#5c2,#6c2,#8c2,#9c2,#8c2,#9c2,#cc2,#cc2,#ac2,#9c2,#9c2,#ac2,#ac2,#8c2,#9c2,#9c2,#ac2,#bc2,#ac2,#bc2,#cc2,#ac2,#cc2,#e92,#e92,#dc2,#cc2,#cc2,#dc2,#ea2,#ea2,#eb2,#ea2,#e92,#e82,#e92,#ea2,#eb2,#cc2,#bc2,#ac2,#9c2,#ac2,#bc2,#bc2,#cc2,#ec2,#cc2,#bc2,#dc2,#dc2,#cc2,#eb2,#db2,#dc2,#eb2,#dc2,#cc2,#dc2,#bc2,#bc2,#cc2,#cc2,#ac2,#cc2,#bc2,#ac2,#cc2,#cc2,#bc2,#bc2,#bc2,#bc2,#cc2,#e92,#ea2,#dc2,#dc2,#cc2,#dc2,#cc2,#ac2,#ac2,#bc2,#dc2,#bc2,#cc2,#dc2,#cc2,#dc2,#ea2,#eb2,#eb2,#db2,#cc2,#cc2,#dc2,#eb2,#dc2)"></i>
<i style="top:294.09px;height:3.50px;background:linear-gradient(90deg,#4b3,#4b3,#5b3,#5b3,#5b3,#4b3,#4b3,#5b3,#4b3,#5b3,#4b3,#5b3,#5c2,#5c2,#6c2,#8c2,#9c2,#5b2,#5b3,#5c2,#8c2,#8c2,#7c2,#5b2,#5b2,#5c2,#5c2,#7c2,#8c2,#9c2,#8c2,#bc2,#cc2,#9c2,#ac2,#ac2,#7c2,#7c2,#8c2,#8c2,#9c2,#9c2,#9c2,#8c2,#7c2,#7c2,#8c2,#8c2,#7c2,#6c2,#6c2,#8c2,#9c2,#9c2,#9c2,#8c2,#7c2,#8c2,#8c2,#6c2,#6c2,#7c2,#6c2,#5c2,#5c2,#6c2,#5c2,#6c2,#8c2,#9c2,#8c2,#9c2,#bc2,#cc2,#ac2,#8c2,#8c2,#9c2,#ac2,#9c2,#9c2,#9c2,#ac2,#bc2,#ac2,#bc2,#cc2,#ac2,#cc2,#e92,#e82,#dc2,#cc2,#cc2,#dc2,#ea2,#ea2,#ec2,#ea2,#e92,#e92,#e92,#eb2,#eb2,#cc2,#bc2,#ac2,#9c2,#ac2,#bc2,#bc2,#cc2,#ec2,#dc2,#bc2,#cc2,#dc2,#cc2,#dc2,#dc2,#cc2,#dc2,#dc2,#cc2,#dc2,#bc2,#bc2,#cc2,#cc2,#ac2,#cc2,#bc2,#ac2,#bc2,#cc2,#bc2,#ac2,#bc2,#ac2,#cc2,#ea2,#ea2,#dc2,#dc2,#cc2,#dc2,#cc2,#ac2,#ac2,#bc2,#cc2,#bc2,#cc2,#dc2,#cc2,#dc2,#ea2,#eb2,#eb2,#db2,#cc2,#cc2,#cc2,#eb2,#eb2)"></i>
<i style="top:297.09px;height:3.50px;background:linear-gradient(90deg,#4b3,#4b3,#5b3,#5b3,#5b3,#4b4,#4b3,#5b3,#4b3,#5b3,#4b3,#5b3,#5c2,#5c2,#6c2,#8c2,#9c2,#6b2,#5b3,#5b2,#7c2,#8c2,#7c2,#5b2,#5b3,#5b2,#5c2,#6c2,#8c2,#9c2,#8c2,#ac2,#cc2,#9c2,#ac2,#ac2,#7c2,#7c2,#8c2,#8c2,#9c2,#9c2,#8c2,#8c2,#7c2,#7c2,#9c2,#9c2,#8c2,#6c2,#6c2,#8c2,#9c2,#9c2,#9c2,#8c2,#7c2,#7c2,#8c2,#6c2,#6c2,#7c2,#7c2,#6c2,#5c2,#6c2,#5c2,#6c2,#8c2,#9c2,#8c2,#9c2,#bc2,#cc2,#ac2,#8c2,#8c2,#9c2,#ac2,#9c2,#8c2,#9c2,#ac2,#bc2,#ac2,#bc2,#cc2,#ac2,#bc2,#e92,#e82,#eb2,#cc2,#cc2,#dc2,#ea2,#ea2,#ec2,#eb2,#e92,#e92,#e92,#eb2,#eb2,#cc2,#bc2,#ac2,#9c2,#ac2,#bc2,#bc2,#cc2,#eb2,#dc2,#bc2,#cc2,#dc2,#cc2,#dc2,#dc2,#cc2,#dc2,#dc2,#bc2,#cc2,#cc2,#bc2,#cc2,#cc2,#ac2,#bc2,#cc2,#ac2,#bc2,#cc2,#bc2,#ac2,#bc2,#ac2,#bc2,#ea2,#e92,#dc2,#dc2,#cc2,#cc2,#cc2,#ac2,#ac2,#ac2,#cc2,#bc2,#cc2,#dc2,#cc2,#dc2,#ea2,#eb2,#eb2,#db2,#cc2,#cc2,#cc2,#db2,#eb2)"></i>
<i style="top:300.09px;height:3.50px;background:linear-gradient(90deg,#4b4,#4b3,#5b3,#5b3,#4b3,#4b4,#4b3,#5b3,#4b3,#5b3,#4b3,#4b3,#5c2,#5c2,#6c2,#7c2,#9c2,#6b2,#4b3,#5b2,#7c2,#7c2,#7c2,#5b3,#5b3,#5b3,#5b2,#6c2,#8c2,#9c2,#8c2,#ac2,#bc2,#9c2,#9c2,#ac2,#8c2,#7c2,#8c2,#8c2,#9c2,#9c2,#8c2,#8c2,#7c2,#7c2,#9c2,#9c2,#8c2,#7c2,#6c2,#8c2,#9c2,#9c2,#9c2,#9c2,#7c2,#7c2,#8c2,#7c2,#6c2,#8c2,#7c2,#6c2,#5c2,#6c2,#6c2,#6c2,#8c2,#9c2,#8c2,#8c2,#bc2,#cc2,#ac2,#8c2,#8c2,#9c2,#ac2,#9c2,#8c2,#9c2,#ac2,#bc2,#bc2,#bc2,#cc2,#ac2,#bc2,#e92,#e72,#eb2,#dc2,#cc2,#dc2,#ea2,#ea2,#ec2,#eb2,#ea2,#ea2,#ea2,#eb2,#eb2,#cc2,#bc2,#ac2,#9c2,#ac2,#bc2,#cc2,#cc2,#eb2,#dc2,#bc2,#cc2,#dc2,#cc2,#cc2,#dc2,#bc2,#dc2,#cc2,#bc2,#cc2,#cc2,#bc2,#bc2,#cc2,#ac2,#bc2,#cc2,#9c2,#bc2,#cc2,#bc2,#ac2,#ac2,#ac2,#bc2,#db2,#ea2,#dc2,#dc2,#dc2,#cc2,#cc2,#ac2,#ac2,#ac2,#bc2,#bc2,#cc2,#dc2,#cc2,#cc2,#ea2,#eb2,#ec2,#eb2,#cc2,#cc2,#cc2,#dc2,#eb2)"></i>
<i style="top:303.09px;height:3.50px;background:linear-gradient(90deg,#4a4,#4b4,#5b3,#5b3,#5b3,#4b4,#4b3,#5b2,#4b3,#4b3,#4b3,#4b3,#5b2,#5c2,#6c2,#7c2,#9c2,#6c2,#4b3,#5b3,#6c2,#7c2,#6c2,#5b3,#4b3,#5b3,#5b2,#6c2,#7c2,#9c2,#8c2,#9c2,#bc2,#9c2,#9c2,#ac2,#8c2,#6c2,#8c2,#8c2,#9c2,#ac2,#8c2,#8c2,#7c2,#7c2,#9c2,#9c2,#8c2,#7c2,#6c2,#8c2,#9c2,#ac2,#9c2,#9c2,#7c2,#7c2,#8c2,#7c2,#6c2,#8c2,#7c2,#6c2,#5c2,#6c2,#6c2,#6c2,#8c2,#9c2,#7c2,#8c2,#ac2,#cc2,#ac2,#8c2,#7c2,#8c2,#ac2,#9c2,#8c2,#9c2,#ac2,#bc2,#bc2,#bc2,#cc2,#ac2,#ac2,#da2,#e82,#eb2,#dc2,#bc2,#cc2,#ea2,#e92,#dc2,#ec2,#eb2,#eb2,#ea2,#eb2,#ec2,#cc2,#bc2,#ac2,#9c2,#9c2,#bc2,#bc2,#bc2,#db2,#db2,#cc2,#cc2,#dc2,#cc2,#cc2,#dc2,#bc2,#cc2,#cc2,#ac2,#cc2,#cc2,#bc2,#bc2,#cc2,#ac2,#ac2,#cc2,#9c2,#ac2,#bc2,#bc2,#ac2,#ac2,#ac2,#ac2,#db2,#ea2,#dc2,#dc2,#dc2,#cc2,#bc2,#ac2,#ac2,#ac2,#bc2,#bc2,#bc2,#dc2,#cc2,#cc2,#eb2,#eb2,#ec2,#ec2,#cc2,#cc2,#cc2,#dc2,#eb2)"></i>
<i style="top:306.09px;height:3.50px;background:linear-gradient(90deg,#4a4,#4b4,#5b3,#5b3,#5b3,#4b3,#4b3,#5b2,#5b3,#5b3,#4b3,#4b3,#5b2,#5c2,#6c2,#7c2,#9c2,#6c2,#4b3,#5b3,#6c2,#7c2,#6c2,#5b3,#4b3,#5b3,#5b2,#6c2,#7c2,#9c2,#8c2,#9c2,#bc2,#9c2,#9c2,#ac2,#8c2,#6c2,#7c2,#8c2,#9c2,#ac2,#8c2,#8c2,#7c2,#7c2,#9c2,#9c2,#8c2,#8c2,#6c2,#7c2,#9c2,#ac2,#ac2,#9c2,#7c2,#7c2,#8c2,#7c2,#7c2,#8c2,#8c2,#6c2,#5c2,#6c2,#6c2,#6c2,#8c2,#9c2,#7c2,#8c2,#ac2,#cc2,#ac2,#8c2,#7c2,#8c2,#ac2,#9c2,#8c2,#9c2,#ac2,#ac2,#ac2,#ac2,#cc2,#ac2,#ac2,#db2,#e82,#eb2,#dc2,#bc2,#cc2,#eb2,#ea2,#dc2,#dc2,#eb2,#ec2,#eb2,#dc2,#dc2,#cc2,#ac2,#ac2,#9c2,#9c2,#bc2,#bc2,#bc2,#db2,#eb2,#cc2,#cc2,#dc2,#cc2,#cc2,#cc2,#bc2,#bc2,#cc2,#ac2,#bc2,#cc2,#bc2,#bc2,#cc2,#ac2,#ac2,#bc2,#9c2,#ac2,#bc2,#bc2,#ac2,#ac2,#ac2,#ac2,#dc2,#ea2,#db2,#dc2,#dc2,#cc2,#bc2,#ac2,#ac2,#ac2,#ac2,#bc2,#bc2,#dc2,#cc2,#cc2,#db2,#eb2,#dc2,#ec2,#cc2,#cc2,#cc2,#dc2,#eb2)"></i>
<i style="top:309.09px;height:3.50px;background:linear-gradient(90deg,#4a4,#4a4,#5b3,#5b3,#5b3,#4b3,#4b3,#5c2,#5b3,#5b3,#4b3,#4b3,#5b3,#5c2,#6c2,#7c2,#9c2,#7c2,#4b3,#4b3,#5c2,#6c2,#6c2,#5b3,#4b3,#5b3,#5b3,#5c2,#7c2,#9c2,#8c2,#8c2,#ac2,#9c2,#8c2,#ac2,#8c2,#6c2,#7c2,#7c2,#8c2,#ac2,#8c2,#8c2,#7c2,#7c2,#9c2,#ac2,#8c2,#8c2,#6c2,#7c2,#9c2,#ac2,#ac2,#9c2,#7c2,#6c2,#8c2,#8c2,#7c2,#8c2,#8c2,#6c2,#5c2,#5c2,#6c2,#6c2,#7c2,#9c2,#7c2,#8c2,#ac2,#bc2,#ac2,#9c2,#7c2,#8c2,#9c2,#9c2,#8c2,#9c2,#ac2,#ac2,#ac2,#ac2,#bc2,#ac2,#9c2,#cb2,#e92,#eb2,#cc2,#bc2,#bc2,#db2,#ea2,#dc2,#dc2,#dc2,#dc2,#ec2,#dc2,#dc2,#cc2,#ac2,#9c2,#8c2,#9c2,#ac2,#bc2,#ac2,#dc2,#eb2,#cc2,#bc2,#dc2,#dc2,#cc2,#cc2,#bc2,#bc2,#cc2,#ac2,#bc2,#cc2,#bc2,#bc2,#bc2,#ac2,#9c2,#bc2,#ac2,#9c2,#bc2,#bc2,#ac2,#ac2,#ac2,#ac2,#cc2,#ea2,#eb2,#dc2,#dc2,#cc2,#bc2,#ac2,#ac2,#ac2,#ac2,#bc2,#bc2,#cc2,#cc2,#bc2,#db2,#eb2,#dc2,#dc2,#cc2,#bc2,#cc2,#dc2,#eb2)"></i>
<i style="top:312.10px;height:3.50px;background:linear-gradient(90deg,#4a4,#4a4,#5b3,#5b3,#5b3,#4b3,#5b3,#5c2,#5b3,#5b3,#5b3,#4b3,#5b3,#5c2,#6c2,#7c2,#9c2,#7c2,#4b3,#4b3,#5b2,#6c2,#5c2,#5b3,#4b3,#4b3,#5b3,#5c2,#7c2,#9c2,#9c2,#8c2,#ac2,#8c2,#8c2,#ac2,#8c2,#6c2,#6c2,#7c2,#8c2,#ac2,#8c2,#7c2,#7c2,#7c2,#8c2,#ac2,#8c2,#8c2,#6c2,#7c2,#9c2,#ac2,#ac2,#9c2,#8c2,#6c2,#7c2,#8c2,#7c2,#8c2,#8c2,#6c2,#5c2,#5c2,#6c2,#6c2,#7c2,#9c2,#7c2,#7c2,#9c2,#bc2,#ac2,#9c2,#7c2,#7c2,#9c2,#9c2,#8c2,#9c2,#9c2,#9c2,#ac2,#9c2,#bc2,#ac2,#9c2,#cc2,#ea2,#eb2,#cc2,#bc2,#ac2,#dc2,#ea2,#dc2,#cc2,#dc2,#dc2,#dc2,#dc2,#cc2,#cc2,#ac2,#9c2,#8c2,#8c2,#ac2,#ac2,#ac2,#cc2,#eb2,#cc2,#bc2,#dc2,#dc2,#cc2,#cc2,#bc2,#bc2,#cc2,#ac2,#ac2,#cc2,#bc2,#ac2,#bc2,#bc2,#9c2,#bc2,#ac2,#9c2,#ac2,#bc2,#ac2,#ac2,#ac2,#ac2,#cc2,#eb2,#eb2,#dc2,#ec2,#cc2,#bc2,#ac2,#ac2,#ac2,#ac2,#ac2,#ac2,#cc2,#cc2,#bc2,#dc2,#eb2,#dc2,#dc2,#cc2,#bc2,#cc2,#dc2,#ec2)"></i>
<i style="top:315.10px;height:3.50px;background:linear-gradient(90deg,#4a4,#4a4,#5b3,#5b2,#5b3,#4b3,#5b3,#5c2,#5b2,#5b3,#5b3,#4b3,#5b3,#5c2,#7c2,#6c2,#9c2,#8c2,#4b3,#4b3,#5b2,#5c2,#5c2,#5b3,#4b4,#4b3,#5b3,#5c2,#6c2,#9c2,#9c2,#8c2,#9c2,#8c2,#8c2,#ac2,#8c2,#5c2,#6c2,#7c2,#8c2,#ac2,#9c2,#7c2,#7c2,#7c2,#8c2,#ac2,#8c2,#8c2,#7c2,#7c2,#9c2,#ac2,#ac2,#9c2,#8c2,#6c2,#7c2,#8c2,#7c2,#8c2,#8c2,#6c2,#5c2,#5c2,#6c2,#6c2,#7c2,#9c2,#8c2,#7c2,#9c2,#bc2,#ac2,#9c2,#7c2,#7c2,#9c2,#9c2,#8c2,#9c2,#9c2,#9c2,#9c2,#9c2,#bc2,#ac2,#8c2,#bc2,#eb2,#eb2,#cc2,#bc2,#ac2,#cc2,#eb2,#dc2,#bc2,#cc2,#cc2,#cc2,#dc2,#cc2,#bc2,#ac2,#9c2,#8c2,#8c2,#9c2,#ac2,#9c2,#cc2,#eb2,#dc2,#bc2,#dc2,#dc2,#cc2,#cc2,#bc2,#ac2,#bc2,#ac2,#9c2,#cc2,#bc2,#ac2,#bc2,#bc2,#9c2,#ac2,#ac2,#8c2,#ac2,#bc2,#ac2,#9c2,#ac2,#9c2,#bc2,#eb2,#eb2,#dc2,#eb2,#dc2,#bc2,#ac2,#9c2,#9c2,#9c2,#ac2,#ac2,#bc2,#cc2,#bc2,#cc2,#eb2,#dc2,#dc2,#cc2,#bc2,#cc2,#dc2,#dc2)"></i>
<i style="top:318.10px;height:3.50px;background:linear-gradient(90deg,#4b4,#4a4,#5b3,#5b2,#5b3,#5b3,#5b3,#5c2,#5c2,#5b3,#5b3,#4b3,#5b3,#5c2,#7c2,#7c2,#8c2,#8c2,#4b3,#4b3,#5b3,#5c2,#5c2,#5b2,#4b4,#4b3,#5b3,#5c2,#6c2,#8c2,#9c2,#7c2,#8c2,#8c2,#7c2,#9c2,#9c2,#6c2,#6c2,#7c2,#7c2,#ac2,#9c2,#7c2,#7c2,#7c2,#8c2,#ac2,#9c2,#9c2,#8c2,#7c2,#9c2,#ac2,#bc2,#ac2,#8c2,#6c2,#7c2,#8c2,#8c2,#8c2,#8c2,#7c2,#5c2,#5c2,#6c2,#6c2,#7c2,#9c2,#8c2,#7c2,#8c2,#ac2,#ac2,#9c2,#7c2,#7c2,#8c2,#9c2,#8c2,#8c2,#9c2,#9c2,#9c2,#9c2,#ac2,#ac2,#8c2,#ac2,#db2,#dc2,#cc2,#bc2,#9c2,#bc2,#eb2,#dc2,#bc2,#cc2,#cc2,#cc2,#cc2,#bc2,#bc2,#9c2,#9c2,#8c2,#8c2,#9c2,#ac2,#9c2,#bc2,#eb2,#dc2,#cc2,#cc2,#dc2,#cc2,#cc2,#bc2,#ac2,#bc2,#ac2,#9c2,#bc2,#bc2,#ac2,#bc2,#bc2,#9c2,#ac2,#ac2,#8c2,#ac2,#ac2,#ac2,#9c2,#9c2,#9c2,#bc2,#dc2,#eb2,#ec2,#eb2,#dc2,#bc2,#ac2,#9c2,#9c2,#9c2,#ac2,#ac2,#bc2,#cc2,#bc2,#cc2,#dc2,#dc2,#cc2,#cc2,#bc2,#cc2,#dc2,#dc2)"></i>
<i style="top:321.10px;height:3.50px;background:linear-gradient(90deg,#4b3,#4b4,#4b3,#5c2,#5b3,#5b3,#5b3,#6c2,#5c2,#5b3,#5b3,#4b3,#5b3,#5c2,#7c2,#7c2,#8c2,#8c2,#5b3,#4b3,#5b3,#5c2,#5b2,#5b2,#4b4,#4b3,#5b3,#5c2,#6c2,#8c2,#ac2,#7c2,#8c2,#7c2,#7c2,#9c2,#9c2,#6c2,#5c2,#7c2,#7c2,#ac2,#9c2,#7c2,#7c2,#7c2,#8c2,#ac2,#9c2,#8c2,#8c2,#6c2,#8c2,#ac2,#bc2,#ac2,#8c2,#7c2,#7c2,#8c2,#8c2,#8c2,#8c2,#7c2,#5c2,#5c2,#6c2,#6c2,#7c2,#9c2,#8c2,#6c2,#8c2,#ac2,#ac2,#9c2,#7c2,#7c2,#8c2,#9c2,#8c2,#8c2,#9c2,#9c2,#9c2,#9c2,#ac2,#bc2,#8c2,#9c2,#dc2,#dc2,#cc2,#bc2,#9c2,#bc2,#dc2,#dc2,#bc2,#bc2,#cc2,#bc2,#cc2,#bc2,#bc2,#9c2,#9c2,#8c2,#8c2,#9c2,#9c2,#8c2,#ac2,#eb2,#dc2,#cc2,#cc2,#dc2,#dc2,#cc2,#bc2,#ac2,#bc2,#ac2,#9c2,#bc2,#cc2,#ac2,#ac2,#bc2,#9c2,#9c2,#ac2,#8c2,#9c2,#ac2,#ac2,#9c2,#9c2,#9c2,#ac2,#dc2,#eb2,#ec2,#eb2,#dc2,#bc2,#ac2,#9c2,#9c2,#9c2,#ac2,#ac2,#bc2,#cc2,#bc2,#bc2,#dc2,#dc2,#cc2,#cc2,#bc2,#cc2,#dc2,#dc2)"></i>
<i style="top:324.10px;height:3.50px;background:linear-gradient(90deg,#4b3,#4b4,#4b3,#5c2,#5b3,#5b3,#5b3,#6c2,#6c2,#5b3,#5b2,#4b3,#4b3,#5c2,#7c2,#7c2,#8c2,#9c2,#5b3,#4b3,#5b3,#5c2,#5b2,#5b2,#4b3,#4b3,#5b3,#5c2,#6c2,#8c2,#ac2,#8c2,#7c2,#7c2,#6c2,#8c2,#9c2,#6c2,#5c2,#7c2,#7c2,#ac2,#ac2,#7c2,#7c2,#7c2,#8c2,#ac2,#9c2,#8c2,#9c2,#7c2,#8c2,#ac2,#bc2,#ac2,#9c2,#7c2,#6c2,#8c2,#8c2,#8c2,#9c2,#7c2,#6c2,#5c2,#6c2,#6c2,#7c2,#9c2,#9c2,#6c2,#7c2,#ac2,#ac2,#ac2,#8c2,#7c2,#7c2,#8c2,#8c2,#8c2,#9c2,#9c2,#9c2,#9c2,#ac2,#bc2,#9c2,#9c2,#cc2,#dc2,#cc2,#bc2,#9c2,#ac2,#dc2,#dc2,#bc2,#bc2,#bc2,#bc2,#cc2,#bc2,#bc2,#9c2,#9c2,#8c2,#8c2,#9c2,#9c2,#8c2,#9c2,#db2,#dc2,#cc2,#cc2,#dc2,#dc2,#cc2,#bc2,#ac2,#ac2,#ac2,#9c2,#ac2,#cc2,#ac2,#ac2,#bc2,#9c2,#9c2,#ac2,#8c2,#9c2,#ac2,#ac2,#ac2,#9c2,#9c2,#ac2,#cc2,#eb2,#eb2,#eb2,#db2,#bc2,#ac2,#ac2,#9c2,#9c2,#9c2,#ac2,#ac2,#cc2,#cc2,#bc2,#dc2,#dc2,#cc2,#cc2,#bc2,#cc2,#dc2,#dc2)"></i>
</div>
<div class="cb" style="left:441.4px;top:18.2px;width:27.5px;height:329.5px;background:linear-gradient(180deg,#ff1000 0.00%,#ff2008 5.00%,#ff4a10 10.00%,#f87018 15.00%,#f09020 20.00%,#eeb020 25.00%,#e6d01e 30.00%,#c8d420 35.00%,#a8d020 40.00%,#80cc20 45.00%,#58c820 50.00%,#48b838 55.00%,#40a850 57.50%,#389868 60.00%,#308880 62.50%,#2880a0 65.00%,#2078b8 67.50%,#1870d0 70.00%,#1068e0 72.50%,#0860f0 75.00%,#0850d8 77.50%,#0840b8 80.00%,#083498 82.50%,#082880 85.00%,#082068 87.50%,#081858 90.00%,#081048 95.00%,#080838 100.00%)"></div>
<div class="hm" style="left:88.3px;top:392.5px;width:328.2px;height:328.4px">
<i style="top:0.00px;height:3.51px;background:linear-gradient(90deg,#17b,#16c,#16b,#389,#389,#17c,#15d,#16d,#398,#5b3,#4b4,#4a4,#4a5,#388,#4a6,#7c2,#8c2,#496,#27b,#27a,#4a4,#7c2,#7c2,#4a5,#388,#496,#5b2,#5b3,#4b3,#5b3,#8c2,#7b4,#388,#8c2,#8c2,#5b4,#396,#4a5,#5c2,#5c2,#5c2,#5c2,#6c2,#8c2,#7c2,#5b3,#289,#27b,#496,#9c2,#9c2,#6c2,#5c2,#5b3,#4b3,#5b3,#5b3,#4b4,#5b3,#5c2,#4a4,#388,#396,#7c2,#8c2,#5b2,#7c2,#9c2,#7c2,#5c2,#6c2,#6c2,#ac2,#ac2,#5b4,#4a5,#6c2,#4b4,#9c2,#dc2,#bc2,#8c2,#4b3,#7c2,#8c2,#5b3,#4a5,#4a4,#6c2,#5b3,#4b4,#6c2,#7c2,#7c2,#6c2,#4b4,#4a5,#4a4,#5b3,#4a5,#4a4,#4a4,#396,#396,#4b4,#4b3,#5b3,#7c2,#7c2,#5b3,#6c2,#7c2,#6c2,#6c2,#495,#289,#289,#4a4,#7c2,#5a4,#27b,#27c,#396,#4a5,#397,#4a5,#6c2,#9c2,#ac2,#9c2,#4a5,#5b4,#5b3,#396,#4a5,#6c2,#6c2,#5c2,#5b2,#5c2,#5c2,#8c2,#bc2,#bc2,#8c2,#4a4,#5b3,#7c2,#9c2,#8c2,#5b3,#6c2,#9c2,#bc2,#ac2,#9c2,#ac2,#6b3,#5b3,#6b3,#4a5,#5b3,#5b2,#397,#17c)"></i>
<i style="top:3.01px;height:3.51px;background:linear-gradient(90deg,#15d,#16d,#27b,#289,#27a,#16c,#05c,#16c,#4a5,#5b3,#4a4,#4a4,#396,#388,#5b4,#9c2,#7c2,#397,#27b,#388,#5b3,#7c2,#6c2,#495,#396,#4b4,#5b2,#5b3,#4b3,#5b2,#9c2,#596,#497,#9c2,#7c2,#388,#389,#4a4,#5c2,#6c2,#9c2,#7c2,#7c2,#8c2,#6c2,#4a4,#27a,#27a,#5a4,#ac2,#8c2,#6c2,#6c2,#6c2,#6c2,#5b2,#4b3,#4b3,#5c2,#5b3,#4a5,#495,#4a4,#8c2,#9c2,#7c2,#8c2,#9c2,#6c2,#5c2,#5c2,#7c2,#cc2,#ac2,#5a5,#4a4,#5b3,#5b4,#bc2,#dc2,#bc2,#6c2,#5b3,#7c2,#5b3,#4a5,#495,#4a4,#6c2,#4a5,#5b3,#6c2,#7c2,#7c2,#5b3,#4a4,#4a5,#4b3,#5b3,#4a4,#4b3,#4a5,#387,#396,#4b3,#4b3,#5b2,#8c2,#7c2,#5b3,#7c2,#6b3,#5c2,#5b4,#388,#27a,#388,#6b3,#7c2,#396,#16c,#27b,#396,#396,#397,#4b4,#7c2,#9c2,#ac2,#7b3,#4a5,#6c2,#5b4,#396,#4a4,#5c2,#5c2,#5c2,#5b2,#5b3,#4a4,#4a5,#9c2,#bc2,#7b3,#4b4,#6c2,#8c2,#8c2,#5b3,#4b3,#6c2,#9c2,#9c2,#8c2,#9c2,#8c2,#5b3,#6c2,#5b4,#4a4,#5c2,#6c2,#5b3,#4a4)"></i>
<i style="top:6.03px;height:3.51px;background:linear-gradient(90deg,#05d,#16c,#389,#289,#27b,#15b,#14b,#27b,#5b3,#5b3,#4a4,#4a5,#396,#397,#6b3,#9c2,#6b3,#289,#27b,#396,#4b4,#6c2,#5b3,#4a4,#5b3,#5b2,#5b3,#4b3,#4b3,#6c2,#8c2,#398,#5a5,#9c2,#5a4,#27a,#388,#5b3,#5b2,#8c2,#bc2,#7c2,#8c2,#8c2,#5b2,#396,#27b,#397,#7b3,#9c2,#7c2,#6c2,#7c2,#ac2,#7c2,#5b3,#4b4,#4b3,#5c2,#4b3,#4a4,#4b4,#5b3,#9c2,#8c2,#8c2,#9c2,#8c2,#5b2,#5c2,#5c2,#8c2,#dc2,#ac2,#4a5,#5b3,#5b3,#7b3,#dc2,#dc2,#ac2,#5b3,#5b3,#6c2,#4a4,#4a5,#4a5,#5b3,#5b3,#396,#5b3,#6c2,#7c2,#7c2,#5b3,#4a5,#4a5,#5b3,#5c2,#5b3,#4b4,#396,#388,#396,#4b3,#4b3,#6c2,#8c2,#6b3,#6b3,#7c2,#4a5,#5b3,#396,#27a,#27b,#397,#6c2,#6b3,#388,#16c,#289,#396,#397,#396,#5b3,#7c2,#9c2,#ac2,#6b3,#5b4,#7c2,#4a4,#396,#4b3,#5b3,#5c2,#5c2,#5b3,#5b3,#389,#497,#ac2,#9c2,#5b3,#5b3,#7c2,#7c2,#6c2,#4b3,#5b3,#7c2,#9c2,#9c2,#7c2,#8c2,#6c2,#5b3,#6c2,#4a4,#4b3,#6c2,#8c2,#7c2,#5c2)"></i>
<i style="top:9.04px;height:3.51px;background:linear-gradient(90deg,#16c,#27a,#387,#279,#17c,#139,#14a,#289,#5b2,#4a4,#4a5,#4a5,#387,#496,#7c2,#7c2,#4a5,#27a,#27a,#396,#4a4,#5c2,#5b3,#5b3,#7c2,#5b3,#5b3,#4b3,#4b3,#7c2,#7b3,#289,#5b4,#7c2,#496,#27b,#396,#5c2,#5c2,#ac2,#bc2,#7c2,#8c2,#7c2,#5b3,#388,#27a,#4a5,#7c2,#8c2,#6c2,#6c2,#8c2,#bc2,#6c2,#5b3,#4b3,#5b3,#5c2,#4b4,#4b3,#4b3,#6b3,#ac2,#8c2,#8c2,#9c2,#7c2,#5b2,#5c2,#5c2,#ac2,#dc2,#8b3,#4a5,#6c2,#5b3,#9c2,#dc2,#cc2,#8c2,#5b3,#4a5,#4a4,#4a5,#4a4,#4a5,#5b3,#4a5,#496,#6c2,#6c2,#8c2,#6c2,#4b4,#396,#397,#6c2,#6c2,#5c2,#4a5,#387,#388,#4a4,#4b3,#5b3,#6c2,#7c2,#5b3,#7c2,#6b4,#4a5,#4b3,#388,#27b,#27a,#4a4,#7c2,#5b4,#289,#27b,#388,#396,#396,#4a4,#6c2,#8c2,#9c2,#ac2,#6c2,#7c2,#7c2,#4b4,#4a5,#5b3,#4b3,#5b2,#5b2,#5b2,#5b3,#27b,#5a6,#ac2,#8c2,#5b3,#7c2,#9c2,#7c2,#5b2,#4b3,#6c2,#8c2,#9c2,#8c2,#6c2,#6c2,#5b3,#6b3,#5b3,#4a4,#5b2,#7c2,#8c2,#7c2,#6c2)"></i>
<i style="top:12.05px;height:3.51px;background:linear-gradient(90deg,#27b,#289,#387,#27a,#15b,#027,#14b,#397,#5b3,#396,#4a5,#396,#388,#5a5,#6c2,#5b3,#397,#27b,#289,#396,#4a5,#4b3,#4b3,#7c2,#6c2,#4b3,#4b3,#4b4,#5b3,#8c2,#6a4,#388,#5b3,#6c2,#388,#27a,#4a4,#5c2,#6c2,#cc2,#ac2,#7c2,#9c2,#6c2,#4b3,#289,#388,#4a4,#5b3,#5b3,#5b2,#6c2,#ac2,#bc2,#6c2,#4b3,#4b3,#5c2,#5b2,#4b3,#5b3,#4b3,#8c2,#ac2,#8c2,#9c2,#9c2,#6c2,#5b2,#5c2,#6c2,#bc2,#cc2,#7b3,#5b4,#6c2,#5b3,#bc2,#dc2,#cc2,#8c2,#5b3,#396,#495,#4a4,#4a5,#4a5,#5b3,#397,#4a4,#5c2,#6c2,#8c2,#5b3,#4a4,#389,#397,#6c2,#6c2,#5b3,#396,#388,#397,#5b3,#4b3,#4b3,#6c2,#6c2,#5b3,#7c2,#4a5,#4a4,#4a5,#27a,#27c,#388,#5b3,#6c2,#4a5,#27a,#27a,#397,#4a5,#4a5,#4b3,#7c2,#8c2,#9c2,#9c2,#7c2,#8c2,#8c2,#5b4,#4b4,#4b3,#4b3,#5c2,#5b3,#6c2,#5a6,#27b,#5a4,#ac2,#7c3,#6b3,#9c2,#9c2,#7c2,#5b2,#5b2,#7c2,#9c2,#9c2,#7c2,#5c2,#5b3,#4b4,#6c2,#5b3,#4b3,#6c2,#8c2,#8c2,#7c2,#6c2)"></i>
<i style="top:15.06px;height:3.51px;background:linear-gradient(90deg,#388,#387,#388,#27a,#14a,#026,#15b,#4a5,#397,#289,#396,#388,#389,#5b4,#5b3,#396,#389,#27b,#388,#396,#388,#397,#4b3,#7c2,#5b3,#4b3,#4b3,#4b4,#6c2,#9c2,#5a4,#4a5,#5c2,#5b3,#28a,#388,#5b3,#5c2,#8c2,#dc2,#9c2,#8c2,#8c2,#6c2,#4a4,#289,#397,#4a4,#4b3,#4b3,#5b2,#7c2,#cc2,#9c2,#5c2,#4b3,#5b3,#5c2,#5b3,#4b3,#5b3,#5b3,#9c2,#9c2,#8c2,#9c2,#9c2,#6c2,#5b2,#5b2,#7c2,#bc2,#bc2,#6b3,#6c2,#7c2,#7c2,#cc2,#cc2,#bc2,#8c2,#4b4,#396,#4a5,#4a4,#495,#396,#396,#397,#5b3,#4b3,#6b3,#7c2,#4b4,#397,#27a,#4a5,#7c2,#6c2,#4b3,#396,#388,#4a5,#5b2,#4a4,#4a4,#6c2,#5b3,#5b3,#6b3,#396,#4b4,#397,#27b,#27c,#396,#6c2,#5b2,#397,#27b,#289,#396,#4a4,#4a4,#5b3,#7c2,#7c2,#7c2,#7c2,#7c2,#9c2,#7c2,#4b4,#4b3,#4b3,#4b3,#5c2,#5b3,#7c2,#388,#27a,#7b3,#bc2,#6b3,#7c2,#ac2,#8c2,#6c2,#6c2,#8c2,#9c2,#9c2,#8c2,#6c2,#5b2,#4b4,#5b3,#6c2,#5b2,#5b3,#7c2,#9c2,#8c2,#7c2,#8c2)"></i>
<i style="top:18.08px;height:3.51px;background:linear-gradient(90deg,#396,#396,#388,#27a,#148,#027,#26a,#4a4,#28a,#27a,#387,#27a,#388,#5b3,#4a5,#387,#27a,#27b,#397,#397,#27a,#388,#5b3,#7c2,#4b3,#5b3,#4b3,#5b3,#7c2,#8c2,#4a5,#4b4,#6c2,#4a5,#27a,#396,#5c2,#5c2,#ac2,#dc2,#ac2,#9c2,#7c2,#7c2,#5b3,#397,#4a5,#4a4,#4b3,#4a4,#5b2,#9c2,#dc2,#8c2,#5b2,#4b3,#5c2,#5c2,#5b3,#5b3,#5b3,#6b2,#ac2,#9c2,#8c2,#ac2,#ac2,#7c2,#5c2,#5c2,#9c2,#cc2,#bc2,#7c2,#8c2,#6c2,#9c2,#cc2,#bc2,#ac2,#7c2,#4a4,#495,#4a4,#4a4,#396,#396,#388,#396,#4b3,#396,#6b3,#6c2,#396,#27a,#28a,#6b3,#7c2,#6c2,#5b3,#4b4,#397,#4b4,#5b3,#495,#4a4,#6c2,#5b3,#4b4,#4a5,#396,#4b4,#388,#27c,#27b,#4a5,#6c2,#5b3,#388,#27b,#388,#4a5,#4a4,#4b3,#6c2,#7c2,#6c2,#6c2,#6c2,#7c2,#8c2,#6b3,#4b3,#5b3,#4b4,#5b3,#5b2,#6c2,#6b3,#27b,#397,#ac2,#bc2,#5b2,#8c2,#9c2,#7c2,#6c2,#7c2,#9c2,#9c2,#8c2,#7c2,#5c2,#5b3,#5b3,#6c2,#7c2,#5c2,#5b2,#8c2,#9c2,#7c2,#8c2,#ac2)"></i>
<i style="top:21.09px;height:3.51px;background:linear-gradient(90deg,#495,#396,#388,#289,#138,#039,#289,#4a5,#17c,#27a,#389,#27a,#497,#6b2,#396,#388,#27a,#289,#396,#388,#27b,#397,#6c2,#6c2,#4b4,#5b3,#4b3,#5c2,#9c2,#7c3,#4a5,#5b3,#7c2,#496,#27a,#4a4,#5c2,#6c2,#bc2,#cc2,#ac2,#9c2,#7c2,#8c2,#6b3,#4a5,#4a4,#4b3,#4b4,#4b4,#7c2,#bc2,#cc2,#7c2,#5b2,#5b3,#6c2,#6c2,#5b2,#5c2,#5c2,#8c2,#ac2,#8c2,#8c2,#ac2,#bc2,#8c2,#5c2,#7c2,#ac2,#cc2,#ac2,#8c2,#8c2,#6c2,#bc2,#ac2,#9c2,#ac2,#6c2,#4a5,#4a5,#4a4,#4a4,#396,#396,#389,#396,#396,#396,#6c2,#5b3,#388,#27b,#398,#6c2,#7c2,#5c2,#6c2,#6b3,#396,#5b3,#4a4,#396,#5b4,#6c2,#4a4,#396,#387,#4a5,#4a5,#289,#17c,#28a,#4a4,#6c2,#4a4,#27a,#27c,#397,#4a4,#4a4,#4b3,#5b3,#6c2,#5c2,#6c2,#6c2,#6c2,#7c2,#5b3,#6b2,#6c2,#4b3,#5b3,#5b3,#6c2,#5a5,#27b,#5a4,#cc2,#9c2,#6c2,#9c2,#9c2,#7c2,#6c2,#8c2,#9c2,#9c2,#7c2,#5c2,#5b3,#5c2,#7c2,#7c2,#7c2,#5c2,#6c2,#8c2,#8c2,#6c2,#9c2,#ac2)"></i>
<i style="top:24.10px;height:3.51px;background:linear-gradient(90deg,#396,#397,#396,#387,#028,#14a,#397,#397,#16d,#279,#289,#27a,#5a5,#6b3,#397,#289,#27a,#397,#495,#289,#27b,#4a5,#7c2,#6b3,#4b3,#5c2,#5c2,#7c2,#9c2,#6b3,#4a5,#6c2,#8c2,#497,#388,#5b3,#5c2,#7c2,#dc2,#cc2,#ac2,#9c2,#7c2,#9c2,#5b3,#4a4,#4b3,#4b3,#4b4,#5b3,#bc2,#eb2,#bc2,#6c2,#5b2,#5c2,#6c2,#6c2,#6c2,#6c2,#9c2,#ac2,#9c2,#7c2,#7c2,#ac2,#bc2,#7c2,#6c2,#ac2,#bc2,#cc2,#9c2,#8c2,#7c2,#7c2,#cc2,#9c2,#ac2,#9c2,#5b3,#4a5,#4b4,#5b3,#4a4,#396,#397,#27a,#289,#289,#397,#4b3,#4a5,#289,#27b,#4a6,#7c2,#6c2,#5c2,#8c2,#5a4,#4a5,#5b3,#396,#396,#6b3,#6c2,#4a5,#387,#388,#4a4,#4a5,#289,#17c,#388,#5b3,#6c2,#4a6,#27b,#28a,#5b3,#4b3,#4b4,#4a4,#4a4,#5b3,#5b2,#6c2,#5b2,#6c2,#7c2,#5b3,#7c2,#6b3,#4b4,#4b3,#5b3,#7c2,#5a5,#396,#8c2,#dc2,#7c2,#7c2,#9c2,#9c2,#8c2,#7c2,#9c2,#9c2,#8c2,#6c2,#4b4,#4b3,#7c2,#8c2,#7c2,#6c2,#5b2,#7c2,#7c2,#5c2,#6c2,#9c2,#9c2)"></i>
<i style="top:27.12px;height:3.51px;background:linear-gradient(90deg,#387,#387,#4a5,#276,#027,#15b,#4a6,#289,#17c,#389,#289,#389,#6b3,#5b4,#289,#27b,#389,#4b4,#4a5,#27a,#289,#5b3,#7c2,#5b3,#5b3,#6c2,#7c2,#8c2,#9c2,#5a4,#4a4,#8c2,#9c2,#4a5,#396,#5b3,#5c2,#8c2,#dc2,#bc2,#ac2,#8c2,#8c2,#8c2,#4b3,#4b3,#4b3,#5b3,#4b3,#8b2,#e92,#ea2,#ac2,#6c2,#5c2,#6c2,#7c2,#7c2,#6c2,#8c2,#cc2,#bc2,#8c2,#6c2,#8c2,#bc2,#ac2,#6c2,#8c2,#bc2,#bc2,#ac2,#8c2,#8c2,#7c2,#9c2,#bc2,#8c2,#ac2,#8c2,#5b4,#4a4,#5b3,#6c2,#4a4,#396,#289,#16c,#27b,#27a,#387,#4a4,#396,#27a,#27a,#4a4,#6c2,#6c2,#6c2,#8c2,#5b4,#5b3,#4a5,#388,#4a5,#6c2,#5b3,#396,#388,#388,#396,#396,#28a,#27c,#396,#5c2,#5b2,#398,#17c,#497,#6c2,#4b3,#4b3,#4a5,#396,#4a4,#5b3,#5c2,#5b3,#7c2,#6c2,#6b3,#8c2,#5b4,#4b4,#4b3,#5b3,#7c2,#4b3,#4b3,#ac2,#bc2,#6c2,#8c2,#8c2,#9c2,#8c2,#7c2,#9c2,#8c2,#7c2,#5b3,#4a5,#5b3,#8c2,#8c2,#7c2,#6c2,#5c2,#7c2,#5c2,#4b3,#6c2,#9c2,#7c2)"></i>
<i style="top:30.13px;height:3.51px;background:linear-gradient(90deg,#389,#388,#4a4,#268,#039,#27b,#4a5,#27b,#27b,#388,#289,#397,#7c2,#5a4,#27a,#27b,#396,#5b2,#496,#27b,#397,#5b2,#6c2,#4b3,#5c2,#7c2,#8c2,#9c2,#8c2,#4a4,#5b3,#9c2,#9c2,#4a4,#396,#5b2,#6c2,#9c2,#bc2,#ac2,#ac2,#8c2,#9c2,#8c2,#5b3,#5b2,#5b2,#5b3,#5b3,#aa2,#e71,#db2,#8c2,#6c2,#6c2,#7c2,#8c2,#7c2,#5b3,#9c2,#dc2,#bc2,#8c2,#7c2,#9c2,#bc2,#9c2,#6c2,#9c2,#bc2,#bc2,#9c2,#7c2,#8c2,#6c2,#ac2,#ac2,#9c2,#ac2,#7c2,#4b3,#4b3,#7c2,#9c2,#4a4,#396,#27b,#16d,#27b,#27a,#397,#4a5,#387,#27a,#27b,#396,#6b2,#6c2,#7c2,#8c2,#5b3,#5b2,#396,#388,#4a4,#5c2,#4b4,#397,#388,#289,#387,#396,#27a,#27b,#4a5,#6c2,#5b3,#289,#27b,#5a5,#6c2,#4b3,#4b4,#396,#396,#4a5,#5b3,#4b4,#5b3,#6c2,#5b3,#7c2,#7c2,#4a5,#4b4,#4b3,#5b2,#5c2,#4b3,#6b3,#cc2,#ac2,#5c2,#5b3,#5b3,#8c2,#8c2,#8c2,#9c2,#8c2,#6c2,#4a4,#4a4,#6c2,#8c2,#7c2,#7c2,#6c2,#6c2,#7c2,#5b3,#4b4,#7c2,#9c2,#8c2)"></i>
<i style="top:33.14px;height:3.51px;background:linear-gradient(90deg,#27a,#388,#4a4,#159,#14b,#289,#3a6,#17c,#27a,#388,#389,#5a6,#7c2,#4a5,#27b,#27a,#4a5,#5b3,#388,#27b,#4a5,#5b3,#5b3,#5b3,#6c2,#8c2,#8c2,#9c2,#7c2,#4a4,#6c2,#ac2,#8c2,#4a5,#396,#5b2,#8c2,#ac2,#bc2,#bc2,#ac2,#8c2,#ac2,#7c2,#5b2,#6c2,#5c2,#5b2,#6b2,#c92,#e71,#bc2,#6c2,#6c2,#6c2,#9c2,#ac2,#7c2,#5b3,#bc2,#dc2,#ac2,#8c2,#7c2,#ac2,#bc2,#8c2,#7c2,#ac2,#bc2,#ac2,#8c2,#7c2,#7c2,#7c2,#bc2,#9c2,#9c2,#9c2,#6c2,#5b2,#5c2,#ac2,#8c3,#4a5,#397,#16d,#17c,#27a,#289,#396,#4a5,#388,#27b,#27b,#397,#6c2,#6c2,#8c2,#7c2,#5b3,#4b3,#388,#387,#387,#4a5,#4a5,#387,#289,#289,#387,#397,#27b,#27a,#4a4,#6c2,#4a5,#27b,#28a,#6b3,#6c2,#4b3,#4a4,#396,#397,#4a5,#4a4,#4a5,#5b3,#5c2,#5b3,#8c2,#6b4,#396,#4b3,#4b3,#5b2,#5b3,#4b3,#7c2,#cc2,#7c2,#4b3,#495,#4a5,#8c2,#7c2,#7c2,#8c2,#8c2,#5b3,#4a5,#5b3,#7c2,#7c2,#6c2,#7c2,#6c2,#7c2,#6c2,#4b3,#4b3,#8c2,#ac2,#9c2)"></i>
<i style="top:36.15px;height:3.51px;background:linear-gradient(90deg,#389,#397,#4b4,#27a,#27b,#496,#397,#17c,#388,#388,#388,#6b4,#7c2,#396,#27b,#289,#5b3,#5b3,#389,#389,#4b3,#4a4,#5b3,#5c2,#7c2,#8c2,#8c2,#ac2,#6b3,#4b3,#8c2,#bc2,#7c2,#495,#4a5,#6c2,#ac2,#bc2,#ac2,#bc2,#ac2,#8c2,#ac2,#6c2,#6c2,#6c2,#6c2,#6c2,#8c2,#e71,#e81,#ac2,#6c2,#6c2,#8c2,#cc2,#cc2,#7c2,#6b3,#dc2,#cc2,#ac2,#8c2,#8c2,#bc2,#bc2,#7c2,#8c2,#bc2,#bc2,#9c2,#7c2,#7c2,#6c2,#7c2,#ac2,#8c2,#9c2,#7c2,#5b3,#5c2,#6c2,#bc2,#7b3,#4a4,#398,#16d,#27b,#289,#388,#4a5,#4a5,#388,#27b,#27b,#4a6,#6c2,#6c2,#9c2,#6b2,#4b4,#396,#388,#397,#27a,#396,#495,#388,#27a,#289,#396,#388,#17c,#389,#5b3,#5c2,#397,#27b,#397,#7c2,#5b2,#4b3,#4a5,#387,#387,#4a5,#396,#4a5,#5c2,#5b2,#6b2,#8c2,#4a5,#4a5,#4b3,#4b3,#5b3,#4b3,#4b3,#8c2,#ac2,#5b2,#4a4,#397,#5b4,#9c2,#7c2,#5c2,#7c2,#7c2,#5b3,#4a4,#6c2,#8c2,#6c2,#8c2,#9c2,#6c2,#8c2,#6c2,#4b4,#5b3,#8c2,#ac2,#9c2)"></i>
<i style="top:39.17px;height:3.51px;background:linear-gradient(90deg,#397,#4a5,#5b3,#4a5,#396,#4b4,#388,#27b,#388,#388,#397,#8c3,#7c2,#396,#27b,#397,#6c2,#4a4,#388,#4a6,#5b2,#4b4,#7c2,#8c2,#8c2,#8c2,#8c2,#9c2,#6c2,#5c2,#9c2,#bc2,#6b3,#396,#4a4,#7c2,#bc2,#bc2,#ac2,#bc2,#9c2,#9c2,#ac2,#6c2,#7c2,#6c2,#7c2,#7c2,#ab2,#f61,#da2,#9c2,#7c2,#7c2,#ac2,#ea2,#cc2,#7c2,#8c2,#dc2,#cc2,#ac2,#8c2,#9c2,#bc2,#ac2,#8c2,#9c2,#bc2,#ac2,#8c2,#7c2,#7c2,#6c2,#6c2,#7c2,#8c2,#6c2,#4b3,#5b3,#5c2,#8c2,#bc2,#5b4,#4b3,#388,#16d,#289,#397,#396,#4a4,#4a5,#388,#27b,#27a,#5a4,#6c2,#6c2,#8c2,#5b3,#4a5,#387,#397,#397,#27b,#495,#396,#388,#27a,#388,#396,#27a,#17c,#397,#5b3,#4b4,#388,#27a,#5a5,#7c2,#5b2,#5b3,#4a5,#387,#388,#387,#397,#4a4,#5c2,#5c2,#8c2,#7c2,#495,#4a4,#4b4,#4b3,#5b3,#4b3,#5b3,#8c2,#7c2,#5b3,#4a5,#397,#7b3,#9c2,#6c2,#5b3,#7c2,#7c2,#4b4,#4a4,#6c2,#7c2,#6c2,#ac2,#9c2,#7c2,#8c2,#5b2,#4b4,#5b3,#9c2,#9c2,#8c2)"></i>
<i style="top:42.18px;height:3.51px;background:linear-gradient(90deg,#4a5,#5b4,#5b2,#4a4,#4a4,#4b3,#388,#27a,#27a,#289,#4a5,#9c2,#7c2,#397,#27b,#496,#6c2,#4a5,#4a5,#5b3,#5b3,#5b3,#9c2,#9c2,#9c2,#8c2,#8c2,#8c2,#6c2,#7c2,#ac2,#ac2,#5b3,#396,#4b3,#9c2,#bc2,#ac2,#ac2,#bc2,#8c2,#ac2,#ac2,#7c2,#8c2,#6c2,#8c2,#8c2,#ca2,#f61,#db2,#8c2,#7c2,#7c2,#bb2,#e92,#bc2,#6c2,#ac2,#dc2,#cc2,#9c2,#8c2,#9c2,#9c2,#9c2,#8c2,#ac2,#bc2,#ac2,#8c2,#7c2,#6c2,#5c2,#5c2,#8c2,#8c2,#4b3,#4a4,#5b3,#5c2,#9c2,#ac2,#4b4,#5b3,#28a,#27b,#387,#495,#396,#5b3,#4a4,#388,#27b,#388,#6b3,#6c2,#5b3,#5c2,#4a4,#396,#388,#396,#289,#28a,#396,#387,#289,#279,#387,#397,#27b,#27b,#396,#4b3,#396,#388,#4a5,#6c2,#6c2,#5b2,#5b2,#4a4,#387,#289,#388,#387,#4a4,#5c2,#6c2,#8c2,#5b4,#396,#4b4,#4a4,#5b3,#5b3,#4b3,#6b2,#8c2,#6c2,#4b3,#396,#496,#7c2,#8c2,#5b3,#6b3,#8c2,#7c2,#4b4,#5b3,#5c2,#5b2,#7c2,#bc2,#8c2,#9c2,#9c2,#6c2,#4b3,#6c2,#9c2,#9c2,#7c2)"></i>
<i style="top:45.19px;height:3.51px;background:linear-gradient(90deg,#4b3,#5b3,#5b3,#4a4,#4a4,#4b3,#388,#27b,#16c,#388,#6b3,#ac2,#7c2,#389,#27a,#5a5,#6b2,#4a5,#4b3,#6c2,#5b3,#6b3,#ac2,#ac2,#9c2,#8c2,#6c2,#5c2,#7c2,#8c2,#bc2,#9c2,#5b4,#4a5,#5b3,#ac2,#bc2,#9c2,#9c2,#ac2,#7c2,#bc2,#bc2,#9c2,#8c2,#7c2,#8c2,#9c2,#d82,#f61,#cc2,#8c2,#8c2,#8c2,#da2,#e92,#ac2,#7c2,#cc2,#dc2,#cc2,#ac2,#9c2,#9c2,#7c2,#7c2,#8c2,#ac2,#bc2,#9c2,#8c2,#7c2,#6c2,#5c2,#5b2,#bc2,#9c2,#4a5,#4a4,#5b2,#5b2,#ac2,#8b3,#4b4,#4a4,#27b,#388,#4a5,#496,#4a5,#5b3,#4a4,#389,#27b,#397,#6c2,#5b3,#4b4,#4b3,#4a4,#396,#388,#495,#27a,#289,#387,#388,#289,#389,#387,#388,#27c,#27a,#4a5,#4a4,#387,#396,#5b2,#6c2,#5c2,#5c2,#6c2,#5b3,#388,#289,#388,#388,#4a4,#5c2,#7c2,#6c2,#4a5,#4a5,#4a4,#4a5,#5b3,#7c2,#5c2,#6c2,#8c2,#5b3,#4a4,#387,#5a5,#8c2,#7c2,#5b3,#7c2,#8c2,#6c2,#5b3,#5b3,#5b3,#5b3,#9c2,#bc2,#8c2,#bc2,#bc2,#7c2,#5b3,#7c2,#ac2,#9c2,#7c2)"></i>
<i style="top:48.21px;height:3.51px;background:linear-gradient(90deg,#4b3,#4b3,#4b3,#4a4,#4b3,#4a4,#27a,#15d,#16d,#397,#7c2,#9c2,#6b3,#27a,#289,#5b4,#5b3,#4a5,#5b2,#7c2,#5b3,#7c3,#ac2,#ac2,#9c2,#8c2,#5b3,#5b3,#7c2,#8c2,#ac2,#8c2,#4a4,#4a4,#6c2,#bc2,#bc2,#8c2,#ac2,#9c2,#7c2,#cc2,#bc2,#ac2,#7c2,#7c2,#8c2,#ac2,#e82,#e82,#bc2,#9c2,#9c2,#ac2,#e92,#da2,#8c2,#7c2,#cc2,#dc2,#cc2,#bc2,#ac2,#8c2,#6c2,#7c2,#7c2,#9c2,#ac2,#8c2,#8c2,#6c2,#5c2,#5b2,#7c2,#cc2,#7b3,#4a5,#4a4,#4b4,#5a4,#ac2,#6b3,#5b3,#4a5,#389,#4a4,#4a4,#397,#4a5,#5b3,#4a5,#289,#27a,#4a5,#6c2,#4b3,#4a4,#4a4,#4a5,#396,#397,#396,#27c,#279,#388,#388,#388,#397,#387,#388,#27b,#389,#4b4,#4a5,#387,#4a4,#6c2,#6c2,#5b2,#5c2,#7c2,#5b3,#388,#389,#388,#388,#4b4,#5c2,#6c2,#5b3,#396,#4a4,#4a5,#4a5,#6c2,#9c2,#6c2,#7c2,#7c2,#5b3,#4a4,#396,#6b3,#8c2,#6b2,#5b3,#7c2,#8c2,#5c2,#5b3,#5b3,#5b3,#5b3,#ac2,#ac2,#9c2,#cc2,#cc2,#7c2,#5c2,#8c2,#ac2,#9c2,#6c2)"></i>
<i style="top:51.22px;height:3.51px;background:linear-gradient(90deg,#4a5,#4a5,#4b3,#4a4,#4b3,#4a5,#26b,#04c,#16c,#4a5,#7c2,#8c2,#5a5,#27b,#289,#5b3,#4a4,#4a5,#6c2,#6c2,#4b3,#8c2,#bc2,#9c2,#8c2,#7c2,#5b3,#6b2,#8c2,#8c2,#7c2,#7c2,#4b3,#4b3,#8c2,#cc2,#ac2,#8c2,#ac2,#8c2,#8c2,#dc2,#bc2,#9c2,#7c2,#8c2,#9c2,#ac2,#eb2,#eb2,#bc2,#ac2,#ac2,#cb2,#e72,#ab2,#7c2,#8c2,#ac2,#dc2,#cc2,#bc2,#bc2,#7c2,#6c2,#7c2,#7c2,#9c2,#9c2,#7c2,#7c2,#5c2,#5c2,#5b3,#8c2,#cc2,#5b4,#495,#4b4,#496,#5a6,#9c2,#5a4,#5b3,#4a4,#4a5,#5b3,#4a4,#388,#4a4,#4b3,#396,#289,#387,#5b4,#5c2,#4a4,#4a5,#396,#495,#397,#396,#397,#27b,#289,#388,#387,#4a5,#4a4,#396,#495,#289,#397,#4b3,#495,#397,#5b3,#6c2,#5c2,#5b2,#6c2,#7c2,#5b4,#388,#388,#387,#397,#4a4,#5c2,#6c2,#5b3,#495,#4a4,#396,#4b4,#8c2,#9c2,#6c2,#7c2,#6c2,#5c2,#6c2,#5b3,#7c2,#7c2,#5b3,#5b3,#8c2,#7c2,#5b3,#4b3,#4b3,#4b3,#6c2,#bc2,#9c2,#ac2,#dc2,#bc2,#6c2,#6c2,#ac2,#bc2,#8c2,#5c2)"></i>
<i style="top:54.23px;height:3.51px;background:linear-gradient(90deg,#396,#4a5,#4b4,#4a5,#4a4,#397,#15b,#04b,#27a,#4a4,#6c2,#7c2,#4a5,#27a,#289,#396,#495,#4b4,#7c2,#6c2,#5b3,#9c2,#bc2,#8c2,#8c2,#7c2,#5b3,#7c2,#8c2,#7c2,#7c2,#8c2,#5c2,#5c2,#9c2,#bc2,#9c2,#8c2,#bc2,#7c2,#ac2,#dc2,#bc2,#9c2,#7c2,#9c2,#9c2,#bc2,#dc2,#dc2,#cc2,#bc2,#bc2,#da2,#e71,#ac2,#ac2,#9c2,#ac2,#dc2,#cc2,#cc2,#ac2,#7c2,#6c2,#7c2,#7c2,#9c2,#7c2,#6c2,#6c2,#5c2,#5b2,#5b3,#ac2,#ac2,#4a4,#4a5,#4b3,#397,#5a5,#7c3,#4a4,#5c2,#4b3,#5b3,#5b3,#4a5,#388,#4b3,#4b3,#396,#396,#4a4,#4a4,#5b2,#4a4,#396,#396,#396,#397,#4a5,#397,#289,#389,#387,#396,#5b3,#4a4,#4a5,#4b4,#397,#4a5,#4b3,#495,#4a5,#5c2,#6c2,#5c2,#5c2,#6c2,#7c2,#4a5,#389,#495,#396,#388,#397,#5b3,#6c2,#4a4,#4a5,#4a4,#396,#6b3,#ac2,#9c2,#7c2,#8c2,#5b2,#7c2,#8c2,#8c2,#7c2,#6c2,#4b3,#6c2,#8c2,#6c2,#5b3,#4b3,#4b3,#5b3,#8c2,#bc2,#9c2,#bc2,#dc2,#9c2,#5b3,#6b3,#bc2,#bc2,#6b3,#4b4)"></i>
<i style="top:57.24px;height:3.51px;background:linear-gradient(90deg,#396,#4a5,#4a4,#4a5,#396,#389,#15b,#04c,#289,#5b3,#6c2,#6c2,#496,#27a,#27a,#388,#4a5,#5b3,#7c2,#6c2,#6c2,#bc2,#ac2,#8c2,#8c2,#6c2,#5b3,#7c2,#8c2,#7c2,#8c2,#9c2,#8c2,#7c2,#ac2,#9c2,#7c2,#9c2,#ac2,#7c2,#bc2,#dc2,#ac2,#8c2,#7c2,#9c2,#9c2,#bc2,#dc2,#dc2,#ec2,#dc2,#cc2,#e81,#e71,#bc2,#cc2,#9c2,#bc2,#dc2,#cc2,#cc2,#ac2,#6c2,#6c2,#6c2,#7c2,#9c2,#6c2,#6c2,#6c2,#5b2,#5b3,#5b3,#bc2,#9b2,#4a5,#4b4,#5b3,#388,#6b4,#6b3,#4a4,#5c2,#4b3,#5b2,#5b3,#396,#397,#5b3,#4b3,#4a4,#4b3,#4a5,#4a5,#5b2,#4a4,#396,#396,#396,#397,#4a4,#4a4,#396,#388,#387,#4a5,#5b2,#4a5,#5b4,#5b3,#4a5,#4b3,#4b4,#495,#4a4,#6c2,#6c2,#5c2,#5c2,#7c2,#6c2,#397,#389,#4a4,#396,#289,#397,#6c2,#5c2,#4a4,#4a4,#4a5,#4a5,#7c2,#ac2,#9c2,#9c2,#8c2,#5b2,#8c2,#9c2,#8c2,#7c2,#5c2,#5b3,#7c2,#7c2,#5c2,#4b3,#4b3,#4b3,#5b3,#8c2,#ac2,#ac2,#cc2,#cc2,#8c2,#496,#6a5,#cc2,#9c2,#5b4,#4b4)"></i>
<i style="top:60.26px;height:3.51px;background:linear-gradient(90deg,#4a5,#4a4,#4a5,#396,#396,#27a,#14c,#15c,#388,#5b3,#6c2,#6b2,#397,#27a,#27b,#397,#4b3,#5c2,#7c2,#6c2,#8c2,#bc2,#ac2,#8c2,#8c2,#6c2,#6b2,#8c2,#7c2,#7c2,#9c2,#9c2,#9c2,#ac2,#bc2,#8c2,#7c2,#ac2,#ac2,#7c2,#dc2,#cc2,#9c2,#7c2,#8c2,#9c2,#ac2,#cc2,#dc2,#eb2,#ea2,#dc2,#dc2,#e71,#d92,#cc2,#dc2,#ac2,#cc2,#dc2,#cc2,#cc2,#9c2,#6c2,#7c2,#6c2,#7c2,#7c2,#5c2,#6c2,#5c2,#5b3,#5b3,#7c2,#cc2,#7b3,#4b3,#5c2,#5b4,#398,#7c2,#5a4,#5b3,#5c2,#5b3,#5b2,#4b3,#388,#496,#5b3,#4b3,#4b3,#5b2,#495,#4a4,#5b3,#4a5,#396,#396,#396,#396,#4b3,#5b3,#396,#388,#396,#4a4,#5b3,#4a5,#5b3,#4b3,#4a4,#4b3,#4a4,#4a5,#5b3,#6c2,#6c2,#5b2,#4b3,#7c2,#5b3,#388,#397,#4a4,#387,#289,#4a5,#7c2,#5b2,#4a4,#4a4,#396,#5a4,#9c2,#bc2,#9c2,#bc2,#8c2,#6c2,#9c2,#9c2,#8c2,#6c2,#5c2,#5b2,#7c2,#6c2,#5b3,#4b3,#4b3,#4b3,#5c2,#9c2,#ac2,#bc2,#cc2,#bc2,#7c3,#397,#8b4,#cc2,#8c2,#4a4,#5b3)"></i>
<i style="top:63.27px;height:3.51px;background:linear-gradient(90deg,#4a5,#396,#289,#388,#387,#27a,#04b,#15c,#396,#5c2,#6c2,#5b3,#388,#27a,#27b,#396,#5b3,#5c2,#5c2,#7c2,#9c2,#bc2,#ac2,#9c2,#9c2,#6c2,#7c2,#7c2,#5c2,#7c2,#ac2,#ac2,#bc2,#bc2,#ac2,#7c2,#8c2,#bc2,#9c2,#8c2,#dc2,#cc2,#9c2,#8c2,#8c2,#8c2,#ac2,#cc2,#dc2,#ea2,#e92,#eb2,#e92,#e82,#db2,#dc2,#dc2,#bc2,#dc2,#dc2,#cc2,#bc2,#8c2,#6c2,#7c2,#6c2,#7c2,#6c2,#5c2,#6c2,#5b3,#5b2,#6c2,#ac2,#cc2,#6c2,#5b2,#6c2,#4a6,#497,#7c2,#4a4,#6b3,#5b2,#5b3,#5b2,#4a5,#388,#4a4,#5b3,#4b3,#5b3,#5b3,#396,#5b3,#5b3,#4a5,#397,#396,#397,#495,#5b3,#5b3,#396,#396,#396,#5b4,#5b3,#4a5,#5b2,#4b3,#4a5,#4b4,#4a5,#4a5,#5b3,#5c2,#5c2,#4a5,#397,#6c2,#4a4,#289,#396,#4a5,#388,#388,#7b3,#9c2,#6b3,#4a4,#4a5,#396,#6b3,#9c2,#ac2,#ac2,#cc2,#7c2,#7c2,#9c2,#9c2,#7c2,#6c2,#5b2,#5b2,#5c2,#5b2,#5b3,#4b3,#4a4,#4b3,#6c2,#ac2,#bc2,#ac2,#ac2,#9c2,#5b4,#397,#9c2,#ac2,#6b3,#4b4,#6c2)"></i>
<i style="top:66.28px;height:3.51px;background:linear-gradient(90deg,#387,#289,#15d,#289,#387,#16b,#04b,#16b,#4a5,#5c2,#6c2,#4a5,#289,#27b,#27a,#4a5,#5c2,#4b3,#4a4,#7c2,#8c2,#bc2,#bc2,#9c2,#9c2,#6c2,#8c2,#7c2,#5c2,#8c2,#ac2,#ac2,#bc2,#cc2,#ac2,#7c2,#9c2,#cc2,#9c2,#9c2,#dc2,#bc2,#8c2,#8c2,#7c2,#8c2,#cc2,#dc2,#eb2,#e92,#e92,#e92,#f51,#e82,#dc2,#eb2,#cc2,#bc2,#ec2,#dc2,#cc2,#bc2,#8c2,#7c2,#7c2,#6c2,#7c2,#5c2,#6c2,#6c2,#4b3,#5b2,#7c2,#ac2,#ac2,#6c2,#5c2,#6c2,#397,#5a6,#7c2,#4b4,#6c2,#5b3,#5b3,#5b3,#495,#387,#4b3,#4b3,#4b3,#5b3,#4b3,#396,#5b3,#4b3,#495,#397,#396,#396,#4a5,#5b3,#4b4,#396,#4b4,#4a5,#5b3,#5b4,#4a4,#5b2,#4a4,#4a5,#4a4,#4a5,#4a5,#5b2,#5c2,#5c2,#397,#398,#5c2,#4a5,#289,#4a5,#496,#388,#397,#9c2,#bc2,#6b3,#396,#289,#397,#6c2,#8c2,#9c2,#ac2,#bc2,#6c2,#8c2,#ac2,#9c2,#7c2,#6c2,#5b3,#4b3,#5b3,#5b2,#5b2,#4b3,#4a4,#5b3,#7c2,#ac2,#ac2,#8c2,#6c2,#6c2,#4a5,#596,#ac2,#7c2,#4a4,#5b3,#6c2)"></i>
<i style="top:69.30px;height:3.51px;background:linear-gradient(90deg,#289,#269,#14b,#289,#289,#15c,#05c,#27a,#4a4,#5c2,#5b2,#396,#27a,#27b,#289,#4b4,#5c2,#4a4,#4a5,#7c2,#8c2,#dc2,#cc2,#ac2,#ac2,#8c2,#9c2,#6c2,#5c2,#9c2,#ac2,#ac2,#cc2,#cc2,#9c2,#8c2,#bc2,#dc2,#9c2,#ac2,#ac2,#9c2,#8c2,#8c2,#7c2,#9c2,#dc2,#dc2,#ea2,#e82,#e92,#f61,#f41,#e82,#eb2,#ea2,#cc2,#cc2,#eb2,#dc2,#cc2,#bc2,#8c2,#7c2,#7c2,#6c2,#6c2,#5c2,#6c2,#6b2,#4b3,#5c2,#8c2,#9c2,#7c2,#5c2,#5c2,#6c2,#496,#6b3,#7c2,#5b3,#7c2,#5b3,#4a4,#4a4,#4a5,#4a4,#5b2,#4b3,#4b3,#5b2,#4a4,#4a5,#5c2,#4b4,#396,#396,#4a5,#4a4,#4b4,#5b2,#4a4,#4a5,#4b3,#4a4,#5c2,#5b3,#5b3,#5b3,#4a5,#4a5,#4a4,#495,#4a4,#5b3,#5b3,#5b3,#289,#397,#5b2,#396,#388,#4a4,#396,#389,#5a6,#ac2,#bc2,#6b3,#388,#27b,#397,#6c2,#6c2,#7c2,#bc2,#ac2,#6c2,#9c2,#ac2,#9c2,#7c2,#6c2,#5b3,#4b3,#5b3,#5c2,#5c2,#5b3,#4b4,#5c2,#9c2,#bc2,#ac2,#7c2,#5c2,#5b3,#397,#6a5,#9c2,#5b3,#4a4,#5c2,#6c2)"></i>
<i style="top:72.31px;height:3.51px;background:linear-gradient(90deg,#27b,#15a,#149,#388,#27b,#14c,#15c,#289,#4b4,#5c2,#5b3,#387,#27a,#27b,#388,#5b3,#6c2,#4a5,#5b4,#8c2,#ac2,#eb2,#cc2,#bc2,#bc2,#ac2,#ac2,#6c2,#6c2,#ac2,#ac2,#bc2,#cc2,#bc2,#9c2,#9c2,#dc2,#dc2,#9c2,#8c2,#6c2,#7c2,#8c2,#8c2,#7c2,#bc2,#ec2,#eb2,#e92,#e72,#e82,#f41,#f31,#e82,#ea2,#ea2,#cc2,#dc2,#eb2,#cc2,#bc2,#ac2,#8c2,#7c2,#6c2,#6c2,#6c2,#5c2,#6c2,#5b3,#4b3,#6c2,#8c2,#7c2,#6c2,#5c2,#6c2,#7c2,#6c2,#8c2,#6c2,#6c2,#7c2,#5b3,#397,#4a5,#6c2,#6c2,#5b2,#4b3,#4b3,#5b2,#4a5,#4a4,#5b2,#4a4,#396,#396,#5b3,#5b2,#5b3,#5b2,#4a4,#4b4,#4b3,#4a4,#5c2,#5b2,#5b2,#4b3,#4a5,#4a5,#4a4,#397,#4a4,#4b3,#5b3,#4b4,#27a,#4a5,#5c2,#396,#387,#4a4,#387,#389,#6a4,#cc2,#bc2,#6b3,#289,#27b,#4a5,#6c2,#5c2,#7c2,#bc2,#8c2,#5c2,#8c2,#ac2,#8c2,#7c2,#6c2,#5b3,#4b3,#5b3,#5c2,#7c2,#6c2,#5b3,#7c2,#ac2,#bc2,#9c2,#6c2,#5c2,#4b3,#387,#5b4,#6c2,#4b3,#5b2,#6c2,#5c2)"></i>
<i style="top:75.32px;height:3.51px;background:linear-gradient(90deg,#16b,#15a,#159,#388,#16c,#04b,#16c,#388,#5b3,#5c2,#4b4,#388,#27a,#27b,#397,#5c2,#6c2,#4a5,#7b3,#9c2,#bb2,#ea2,#cc2,#cc2,#cc2,#bc2,#9c2,#6c2,#8c2,#ac2,#ac2,#bc2,#cc2,#bc2,#9c2,#bc2,#dc2,#dc2,#9c2,#6c2,#5c2,#7c2,#9c2,#8c2,#7c2,#cc2,#eb2,#ea2,#e82,#f71,#e72,#f31,#f31,#f61,#e82,#ea2,#dc2,#eb2,#ec2,#bc2,#ac2,#ac2,#8c2,#7c2,#6c2,#6c2,#6c2,#5c2,#6c2,#5b3,#4b3,#6c2,#8c2,#7c2,#5c2,#5c2,#6c2,#9c2,#bc2,#9c2,#6c2,#7c2,#8c2,#5a4,#388,#4a4,#8c2,#7c2,#5b3,#4b3,#4b3,#4b3,#4a4,#5b3,#5b3,#4a4,#396,#4a5,#6c2,#6c2,#5b3,#5b3,#4a4,#5b3,#4b3,#4b3,#5c2,#5b3,#4a4,#396,#396,#4a4,#397,#27a,#4a5,#4b4,#5b3,#4a5,#289,#5b3,#5b2,#397,#388,#387,#389,#289,#7b4,#cc2,#bc2,#5b4,#27a,#27a,#5b4,#5c2,#4a4,#5a4,#ac2,#6c2,#5b2,#8c2,#ac2,#8c2,#7c2,#5c2,#4b3,#4b3,#5b2,#6c2,#9c2,#6c2,#6c2,#9c2,#9c2,#ac2,#8c2,#6c2,#5c2,#4b3,#4a5,#5b3,#5b3,#6b3,#8c2,#6c2,#5c2)"></i>
<i style="top:78.33px;height:3.51px;background:linear-gradient(90deg,#15a,#14a,#269,#289,#15c,#04a,#16c,#397,#5b3,#5c2,#4a5,#289,#27a,#27a,#4a5,#6c2,#6b3,#4a5,#8c2,#9c2,#da2,#ea2,#cc2,#cc2,#cc2,#cc2,#9c2,#6c2,#ac2,#ac2,#ac2,#bc2,#cc2,#bc2,#9c2,#cc2,#ec2,#cc2,#8c2,#6c2,#5c2,#8c2,#9c2,#8c2,#8c2,#db2,#e92,#e92,#e72,#f71,#e61,#f20,#f41,#f51,#e82,#eb2,#dc2,#eb2,#dc2,#bc2,#ac2,#9c2,#8c2,#7c2,#6c2,#6c2,#5c2,#5c2,#6c2,#4b4,#4b3,#7c2,#8c2,#6c2,#5b2,#5b2,#5c2,#9c2,#cc2,#9c2,#6c2,#7c2,#8c2,#5a5,#388,#5b3,#9c2,#7c2,#5b3,#4b3,#4a4,#4a4,#6c2,#5c2,#4b3,#4a5,#396,#4b4,#7c2,#5b3,#4a4,#4a4,#4a4,#5b2,#4b3,#5b3,#5c2,#5b3,#397,#27a,#388,#4a4,#289,#17b,#4a4,#4a4,#6c2,#496,#388,#5b2,#5b3,#388,#389,#389,#27a,#289,#9c3,#cc2,#ac2,#5a5,#27b,#289,#5b3,#5b2,#397,#4a6,#7c2,#5b3,#5c2,#9c2,#ac2,#7c2,#6c2,#5b2,#4b3,#5b3,#5c2,#7c2,#ac2,#6b3,#7c2,#8c2,#7c2,#8c2,#7c2,#6c2,#5c2,#5b3,#5b3,#5b2,#4b3,#7c2,#8c2,#6c2,#5c2)"></i>
<i style="top:81.35px;height:3.51px;background:linear-gradient(90deg,#14a,#04b,#26a,#27a,#15b,#04a,#27b,#396,#5b3,#5c2,#4a6,#27a,#27a,#389,#4a4,#6c2,#5b3,#4a4,#8c2,#ac2,#d92,#da2,#bc2,#dc2,#dc2,#cc2,#8c2,#7c2,#9c2,#8c2,#ac2,#cc2,#cc2,#ac2,#9c2,#cc2,#ec2,#bc2,#8c2,#6c2,#6c2,#9c2,#9c2,#8c2,#ac2,#ea2,#e82,#e92,#e82,#e72,#f51,#f20,#f51,#f61,#e92,#ec2,#ec2,#eb2,#dc2,#ac2,#ac2,#9c2,#8c2,#7c2,#6c2,#7c2,#5c2,#6c2,#6c2,#4b4,#5b3,#7c2,#7c2,#6c2,#5b3,#5b3,#4a4,#9c2,#cc2,#8c2,#6c2,#8c2,#8c2,#496,#397,#6b3,#9c2,#6c2,#4b3,#4a4,#396,#4a4,#7c2,#5b3,#4b3,#4a5,#4a5,#5b3,#7c2,#4a4,#387,#397,#4a4,#5c2,#4b3,#5c2,#5c2,#4b3,#289,#16d,#397,#4a4,#27a,#27a,#4a4,#4a4,#6c2,#4a6,#4a6,#5c2,#4b3,#396,#388,#289,#27b,#398,#ac2,#cc2,#9c2,#496,#27b,#397,#5c2,#5b3,#388,#4a6,#5b2,#4b3,#6c2,#9c2,#9c2,#7c2,#6c2,#5b3,#5b3,#5c2,#5c2,#8c2,#9c2,#5c2,#8c2,#7c2,#6c2,#7c2,#7c2,#6c2,#5c2,#5b2,#5b2,#5b2,#5b3,#8c2,#8c2,#5c2,#5c2)"></i>
<i style="top:84.36px;height:3.51px;background:linear-gradient(90deg,#039,#04a,#27b,#27b,#14b,#14b,#27a,#4a5,#5c2,#5c2,#397,#27a,#27a,#388,#4b4,#6c2,#5b4,#5b4,#9c2,#bc2,#e92,#cb2,#bc2,#dc2,#dc2,#cc2,#8c2,#9c2,#8c2,#7c2,#ac2,#bc2,#cc2,#9c2,#9c2,#dc2,#ec2,#bc2,#7c2,#5c2,#8c2,#bc2,#9c2,#8c2,#bc2,#e92,#e82,#e92,#e82,#e82,#f41,#f31,#f61,#f61,#ea2,#dc2,#dc2,#eb2,#cc2,#ac2,#ac2,#9c2,#7c2,#6c2,#6c2,#7c2,#5c2,#6c2,#6b2,#4b4,#5b3,#8c2,#7c2,#5c2,#5b3,#4a4,#496,#ac2,#bc2,#7c2,#7c2,#9c2,#8c2,#397,#396,#7c2,#8c2,#5b2,#4b3,#4a5,#396,#5b4,#7c2,#5b3,#4b3,#4a4,#4b4,#6c2,#6b3,#388,#27a,#396,#4b3,#5c2,#5b3,#5c2,#5c2,#4a4,#27a,#16d,#397,#4a5,#16b,#279,#4a5,#5b4,#8c2,#8c2,#5c2,#5c2,#4b3,#4a4,#388,#289,#27b,#596,#bc2,#bc2,#8c2,#398,#27b,#4a5,#6c2,#4a4,#289,#4a5,#5b3,#5b3,#7c2,#ac2,#8c2,#7c2,#5c2,#5b3,#5c2,#6c2,#6c2,#9c2,#8c2,#6c2,#8c2,#6c2,#6c2,#8c2,#7c2,#5c2,#5c2,#5b2,#5c2,#5c2,#7c2,#9c2,#7c2,#5c2,#6c2)"></i>
<i style="top:87.37px;height:3.51px;background:linear-gradient(90deg,#039,#14a,#17c,#16c,#14a,#14b,#28a,#4a4,#5c2,#5b3,#388,#27a,#289,#388,#4a5,#6c2,#5b3,#5b3,#8c2,#cc2,#e92,#cb2,#cc2,#ec2,#dc2,#cc2,#8c2,#9c2,#7c2,#7c2,#ac2,#9c2,#cc2,#9c2,#ac2,#dc2,#dc2,#ac2,#7c2,#6c2,#9c2,#bc2,#9c2,#9c2,#cb2,#e82,#e82,#e92,#e82,#e82,#f41,#f51,#e72,#e82,#eb2,#dc2,#dc2,#ec2,#cc2,#9c2,#ac2,#8c2,#7c2,#6c2,#7c2,#9c2,#6c2,#7c2,#6b2,#4b3,#6c2,#9c2,#7c2,#6c2,#5b2,#496,#5a6,#bc2,#ac2,#6c2,#9c2,#bc2,#7b3,#388,#397,#7c3,#7c2,#4b3,#4b3,#4a5,#396,#6b3,#7c2,#5b3,#4b3,#4a4,#5b3,#7c2,#5a4,#27a,#279,#396,#5b3,#5b2,#5b3,#6c2,#5b3,#4a5,#16b,#16d,#397,#4a6,#15c,#27b,#397,#5b3,#ac2,#cc2,#7c2,#5b2,#4b3,#4a5,#388,#289,#27b,#6a5,#ac2,#9c2,#6b3,#289,#388,#5b3,#6c2,#4a5,#389,#4b3,#5b3,#5c2,#8c2,#ac2,#8c2,#6c2,#5c2,#5c2,#6c2,#6c2,#6c2,#ac2,#7c2,#6c2,#8c2,#6c2,#7c2,#9c2,#6c2,#5c2,#5c2,#5c2,#6c2,#9c2,#ac2,#9c2,#6c2,#5c2,#7c2)"></i>
<i style="top:90.39px;height:3.51px;background:linear-gradient(90deg,#04b,#15c,#27c,#16c,#04a,#15c,#388,#4b4,#6c2,#5b3,#388,#289,#389,#387,#4a5,#7c2,#7c2,#6c2,#8c2,#cb2,#e92,#bc2,#cc2,#dc2,#dc2,#cc2,#ac2,#ac2,#7c2,#8c2,#9c2,#9c2,#cc2,#9c2,#ac2,#dc2,#cc2,#ac2,#7c2,#6c2,#bc2,#ac2,#7c2,#ac2,#db2,#e72,#e82,#e82,#e72,#e82,#f61,#e82,#e82,#e92,#dc2,#dc2,#dc2,#dc2,#bc2,#9c2,#9c2,#7c2,#5b2,#5b2,#9c2,#9c2,#6c2,#9c2,#6b2,#4b3,#7c2,#9c2,#7c2,#7c2,#5b2,#397,#6a5,#bc2,#9c2,#6c2,#ac2,#bc2,#6b4,#289,#397,#7c2,#6b3,#4a4,#4b4,#495,#495,#7c2,#7c2,#5b2,#5b3,#4b4,#5b2,#7c2,#4a6,#27a,#27a,#397,#4b3,#5b3,#5c2,#5b2,#4b3,#396,#16d,#16c,#4a5,#397,#15d,#16c,#397,#6b3,#cc2,#cc2,#6c2,#5b3,#4b3,#4a5,#388,#27a,#27a,#7b3,#8c2,#7c2,#5a5,#289,#5b4,#6c2,#6c2,#496,#398,#5b2,#7c2,#6c2,#8c2,#9c2,#7c2,#6c2,#5b2,#5c2,#6c2,#6c2,#7c2,#ac2,#7c2,#7c2,#7c2,#5c2,#7c2,#9c2,#6c2,#5c2,#5c2,#5c2,#7c2,#cc2,#bc2,#8c2,#5c2,#6c2,#ac2)"></i>
<i style="top:93.40px;height:3.51px;background:linear-gradient(90deg,#16d,#17c,#27b,#16c,#04b,#16b,#387,#5b3,#6c2,#4a4,#389,#389,#388,#387,#5a4,#9c2,#bc2,#8c2,#9c2,#db2,#da2,#ac2,#cc2,#dc2,#dc2,#cc2,#ac2,#ac2,#6c2,#8c2,#8c2,#9c2,#cc2,#8c2,#ac2,#bc2,#bc2,#ac2,#8c2,#7c2,#cc2,#9c2,#8c2,#cc2,#e92,#f61,#e82,#e82,#e72,#e82,#e82,#ea2,#e92,#ea2,#dc2,#cc2,#dc2,#dc2,#ac2,#8c2,#7c2,#5b2,#4b3,#5b2,#9c2,#8c2,#7c2,#ac2,#6b3,#5b3,#8c2,#9c2,#7c2,#7c2,#5b3,#397,#7b4,#bc2,#9c2,#7c2,#bc2,#ac2,#5a4,#389,#496,#7c2,#5b4,#4b4,#4b4,#396,#4a5,#7c2,#6c2,#5c2,#5b3,#4b4,#5c2,#5c2,#397,#27a,#27a,#388,#4b3,#5b2,#5c2,#4a5,#396,#388,#16d,#27b,#4b4,#388,#15d,#27b,#4a5,#8c2,#dc2,#bc2,#5c2,#5b3,#5b3,#4a5,#387,#27a,#388,#8c2,#7c2,#6c2,#397,#388,#6c2,#6c2,#6c2,#396,#496,#6c2,#8c2,#6c2,#7c2,#8c2,#7c2,#5c2,#5b2,#5c2,#6c2,#6c2,#9c2,#bc2,#6c2,#8c2,#7c2,#6c2,#8c2,#8c2,#5c2,#6c2,#6c2,#5c2,#8c2,#cc2,#bc2,#7c2,#5b3,#7c2,#bc2)"></i>
<i style="top:96.41px;height:3.51px;background:linear-gradient(90deg,#27b,#27a,#289,#26b,#14c,#27a,#397,#5b3,#6c2,#4a5,#389,#388,#387,#396,#7b3,#dc2,#dc2,#8c2,#ac2,#dc2,#bc2,#9c2,#cc2,#dc2,#dc2,#cc2,#bc2,#ac2,#6c2,#9c2,#8c2,#ac2,#bc2,#7c2,#9c2,#ac2,#bc2,#cc2,#ac2,#9c2,#cc2,#8c2,#9c2,#cc2,#e82,#f61,#e82,#e82,#e82,#e92,#e92,#ea2,#e92,#db2,#cc2,#cc2,#dc2,#dc2,#bc2,#7c2,#5b2,#4b4,#4b4,#6c2,#ac2,#7c2,#8c2,#ac2,#5b3,#5b2,#9c2,#8c2,#7c2,#7c2,#4b4,#387,#7b3,#ac2,#8c2,#8c2,#cc2,#ac2,#5b4,#388,#5a5,#7c2,#4b4,#4b3,#4a4,#495,#5b4,#8c2,#5c2,#5c2,#4b3,#4b4,#5b2,#4a4,#289,#27b,#27b,#398,#5b2,#6c2,#4b4,#388,#387,#289,#16d,#28a,#5b3,#389,#16d,#28a,#4b4,#8c2,#dc2,#ac2,#5c2,#5b3,#5b2,#5b3,#496,#388,#5a5,#9c2,#6c2,#4a4,#289,#396,#6c2,#6c2,#6c2,#4b4,#4b3,#7c2,#8c2,#5b3,#5c2,#7c2,#6c2,#5b3,#5b3,#6c2,#6c2,#6c2,#ac2,#bc2,#6c2,#9c2,#8c2,#8c2,#9c2,#8c2,#5c2,#6c2,#7c2,#6c2,#ac2,#cc2,#ac2,#7c2,#4b3,#8c2,#ac2)"></i>
<i style="top:99.42px;height:3.51px;background:linear-gradient(90deg,#27a,#289,#397,#27a,#16c,#387,#388,#5b4,#6c2,#4a5,#388,#387,#396,#4a5,#9b3,#eb2,#cc2,#8c2,#ac2,#ac2,#7c2,#8c2,#cc2,#cc2,#dc2,#cc2,#bc2,#9c2,#6c2,#9c2,#7c2,#bc2,#bc2,#7c2,#8c2,#9c2,#bc2,#dc2,#cc2,#bc2,#dc2,#8c2,#ac2,#db2,#e72,#f71,#e82,#e82,#e82,#e92,#ea2,#eb2,#ea2,#dc2,#bc2,#bc2,#dc2,#cc2,#bc2,#7c2,#5b3,#4a4,#5b3,#8c2,#ac2,#7c2,#9c2,#9c2,#5b3,#6c2,#ac2,#8c2,#7c2,#6c2,#4a4,#397,#6b3,#9c2,#8c2,#9c2,#cc2,#9c2,#5b4,#387,#6b4,#7c2,#4b4,#5b3,#4b3,#4b4,#6b2,#7c2,#5b2,#5c2,#4a4,#4b4,#5b3,#396,#27a,#27b,#27b,#396,#6c2,#6c2,#396,#27a,#397,#27a,#16d,#398,#5c2,#397,#27c,#388,#4b3,#8c2,#dc2,#8c2,#5c2,#5b3,#6c2,#8c2,#4a4,#4a4,#7c2,#9c2,#5b2,#496,#279,#4a5,#6c2,#5c2,#6c2,#5c2,#5b2,#8c2,#7c2,#4b3,#5c2,#6c2,#5b3,#4a5,#4a4,#6c2,#6c2,#6c2,#cc2,#ac2,#7c2,#ac2,#bc2,#bc2,#ac2,#7c2,#6c2,#7c2,#7c2,#7c2,#bc2,#cc2,#9c2,#6c2,#5b3,#9c2,#8c2)"></i>
<i style="top:102.44px;height:3.51px;background:linear-gradient(90deg,#289,#389,#4a5,#397,#388,#396,#389,#5b3,#6c2,#496,#387,#396,#396,#4a4,#ab2,#ea2,#cc2,#8c2,#bc2,#8c2,#6c2,#9c2,#cc2,#cc2,#dc2,#bc2,#cc2,#ac2,#7c2,#9c2,#7c2,#cc2,#ac2,#7c2,#8c2,#ac2,#cc2,#eb2,#cc2,#bc2,#cc2,#8c2,#bc2,#ea2,#e82,#e92,#e92,#e82,#e92,#ea2,#eb2,#eb2,#ea2,#dc2,#ac2,#bc2,#bc2,#bc2,#bc2,#6c2,#4b3,#4a4,#5b3,#9c2,#ac2,#6c2,#ac2,#8c2,#5b3,#6c2,#ac2,#7c2,#7c2,#6c2,#4a5,#396,#6c2,#8c2,#7c2,#ac2,#cc2,#8c2,#4a4,#397,#6b3,#6b3,#4b4,#5c2,#5c2,#6c2,#7c2,#6c2,#5b3,#5b2,#4a5,#4b3,#4b3,#397,#27a,#27b,#27b,#4a5,#7c2,#6b3,#387,#27a,#397,#16a,#15c,#496,#6c2,#397,#27b,#397,#4b3,#8c2,#cc2,#7c2,#5b2,#4b3,#7c2,#8c2,#4a4,#5b3,#8c2,#8c2,#5b3,#397,#389,#5b3,#6c2,#6c2,#6c2,#5c2,#5b2,#8c2,#6b3,#4b3,#5c2,#6c2,#4a4,#397,#4a4,#6c2,#5c2,#7c2,#cc2,#9c2,#8c2,#bc2,#cc2,#cc2,#9c2,#7c2,#6c2,#7c2,#7c2,#7c2,#bc2,#bc2,#8c2,#5b3,#5b3,#9c2,#7c2)"></i>
<i style="top:105.45px;height:3.51px;background:linear-gradient(90deg,#389,#388,#4a4,#4a4,#4a4,#396,#388,#6b2,#6c2,#495,#4a5,#4a4,#4a5,#5b3,#cb2,#ea2,#bc2,#8c2,#bc2,#8c2,#7c2,#ac2,#cc2,#cc2,#dc2,#bc2,#dc2,#ac2,#7c2,#8c2,#7c2,#cc2,#ac2,#8c2,#9c2,#ac2,#dc2,#ea2,#cc2,#cc2,#bc2,#8c2,#cc2,#ea2,#e92,#eb2,#ea2,#e82,#ea2,#eb2,#dc2,#eb2,#ea2,#dc2,#9c2,#bc2,#bc2,#bc2,#ac2,#6c2,#4b4,#4a4,#6b3,#ac2,#9c2,#6c2,#ac2,#7c2,#5b3,#7c2,#ac2,#7c2,#7c2,#5c2,#4a4,#4a4,#7c2,#8c2,#7c2,#ac2,#bc2,#8c2,#4a5,#396,#7c2,#6b3,#4b3,#7c2,#9c2,#7c2,#8c2,#6b3,#5b3,#5b3,#4a5,#4a4,#4a4,#397,#27a,#27c,#27a,#4a4,#7c2,#5b3,#388,#289,#397,#15b,#16b,#5a5,#6b3,#397,#27a,#396,#4b3,#8c2,#ac2,#6c2,#5b3,#4a4,#8c3,#8c2,#4b3,#5b2,#6c2,#6c2,#4b3,#397,#397,#6c2,#6c2,#6c2,#6c2,#5c2,#5b3,#8c2,#5b3,#4b3,#5c2,#5b2,#4a5,#387,#5b3,#5c2,#6c2,#9c2,#dc2,#9c2,#9c2,#bc2,#cc2,#ac2,#6c2,#9c2,#8c2,#7c2,#7c2,#7c2,#bc2,#ac2,#8c2,#5b3,#6b3,#9c2,#5b3)"></i>
<i style="top:108.46px;height:3.51px;background:linear-gradient(90deg,#389,#387,#4b4,#4b3,#4b3,#397,#388,#6c2,#6c2,#4a4,#4b3,#4a4,#4a5,#6b3,#da2,#eb2,#ac2,#8c2,#ac2,#8c2,#9c2,#bc2,#bc2,#cc2,#dc2,#bc2,#db2,#bc2,#8c2,#6c2,#8c2,#dc2,#bc2,#9c2,#9c2,#bc2,#db2,#ea2,#cc2,#db2,#bc2,#9c2,#cc2,#ea2,#ea2,#cc2,#db2,#e92,#eb2,#ec2,#dc2,#eb2,#eb2,#cc2,#9c2,#bc2,#ac2,#bc2,#9c2,#5b2,#4a4,#4a4,#6c2,#ac2,#8c2,#6c2,#ac2,#6b3,#5b3,#8c2,#9c2,#7c2,#7c2,#5b3,#4b4,#5b3,#7c2,#7c2,#7c2,#ac2,#bc2,#7c2,#4a5,#4a5,#7c2,#5b3,#5b3,#8c2,#ac2,#8c2,#8c2,#5b3,#5b3,#5b3,#495,#4a5,#4a5,#396,#289,#27c,#389,#6b3,#7c2,#5a4,#289,#289,#388,#15c,#27a,#5b3,#5b3,#397,#397,#4a4,#4b3,#5b3,#5b2,#5c2,#4b3,#4a5,#8c2,#9c2,#6c2,#5b2,#5b2,#4b3,#4a4,#4a5,#5b3,#7c2,#6c2,#5c2,#6c2,#5b2,#6b2,#8c2,#5b3,#4b3,#4b3,#4b4,#396,#397,#5b3,#6c2,#7c2,#bc2,#dc2,#9c2,#ac2,#cc2,#cc2,#8c2,#6b3,#bc2,#8c2,#7c2,#7c2,#7c2,#8c2,#9c2,#7c2,#4b3,#6b3,#6c2,#4a4)"></i>
<i style="top:111.48px;height:3.51px;background:linear-gradient(90deg,#389,#397,#4b3,#4b3,#4b3,#388,#397,#6c2,#5c2,#5b3,#5b2,#4a4,#4a5,#7b3,#db2,#eb2,#ac2,#9c2,#ac2,#8c2,#ac2,#bc2,#bc2,#cc2,#cc2,#cc2,#eb2,#cc2,#7c2,#5b3,#8c2,#dc2,#dc2,#ac2,#ac2,#cc2,#ea2,#e92,#cc2,#db2,#bc2,#ac2,#dc2,#ea2,#db2,#bc2,#cb2,#e92,#ec2,#dc2,#dc2,#eb2,#eb2,#bc2,#9c2,#bc2,#ac2,#bc2,#8c2,#5b3,#4a4,#4b3,#7c2,#8c2,#6c2,#6c2,#9c2,#4a5,#4b3,#8c2,#8c2,#6c2,#6c2,#4b3,#4b4,#5b2,#7c2,#7c2,#7c2,#9c2,#9c2,#6b3,#4a4,#6b3,#8c2,#6c2,#7c2,#ac2,#ac2,#8c2,#7c2,#5b3,#5b3,#4a4,#396,#4a5,#4a5,#396,#289,#27c,#497,#9c2,#8c2,#4a5,#27a,#388,#289,#15c,#289,#6b3,#5b4,#4a5,#5b3,#4b3,#4b3,#4a4,#4b3,#5b2,#4a4,#4a5,#9c2,#bc2,#8c2,#5b3,#4b3,#396,#4a4,#6c2,#ac2,#ac2,#5c2,#5b3,#5c2,#5b3,#6c2,#7c2,#5b3,#4b3,#4a5,#495,#396,#396,#5c2,#6c2,#8c2,#cc2,#cc2,#9c2,#ac2,#cc2,#cc2,#7b3,#7b3,#bc2,#6c2,#7c2,#7c2,#6c2,#7c2,#8c2,#6c2,#5c2,#5c2,#5b3,#4a5)"></i>
<i style="top:114.49px;height:3.51px;background:linear-gradient(90deg,#388,#397,#4b3,#4b3,#4b3,#289,#396,#6c2,#5c2,#5b2,#5b2,#4a5,#4a4,#8c2,#eb2,#dc2,#ac2,#ac2,#ac2,#8c2,#bc2,#bc2,#bc2,#cc2,#cc2,#cc2,#eb2,#bc2,#6c2,#4b3,#8c2,#dc2,#dc2,#bc2,#bc2,#dc2,#e92,#e92,#dc2,#eb2,#cc2,#cc2,#dc2,#ea2,#cc2,#9c2,#cb2,#ea2,#dc2,#cc2,#eb2,#eb2,#ec2,#ac2,#9c2,#ac2,#ac2,#ac2,#7c2,#5b3,#5b3,#6c2,#8c2,#7c2,#5b3,#6b3,#6b3,#387,#4b4,#7c2,#7c2,#7c2,#6c2,#4b3,#4b4,#5c2,#7c2,#7c2,#7c2,#8c2,#9c2,#5b3,#4b4,#6c2,#9c2,#8c2,#8c2,#bc2,#ac2,#8c2,#7c2,#4b4,#4b4,#4a5,#495,#4a5,#495,#396,#27a,#17c,#6a6,#bc2,#7c2,#4a5,#27a,#397,#279,#15c,#397,#6c2,#4b4,#5b3,#6c2,#5c2,#4b3,#4a5,#4b3,#4b3,#396,#5a5,#ac2,#bc2,#7c2,#5b3,#4a4,#396,#5b3,#8c2,#cc2,#ac2,#5b3,#4b3,#5c2,#5b3,#6c2,#8c2,#6c2,#4b3,#396,#495,#396,#4a5,#5c2,#6c2,#8c2,#ac2,#9c2,#8c2,#9c2,#cc2,#bc2,#6b4,#8b3,#bc2,#5c2,#6c2,#6c2,#6c2,#6c2,#5c2,#5c2,#6c2,#6c2,#5b3,#4a4)"></i>
<i style="top:117.50px;height:3.51px;background:linear-gradient(90deg,#388,#396,#4b3,#4b3,#4b4,#289,#4a5,#6c2,#5b2,#5b2,#5b3,#4a5,#4b4,#9c2,#eb2,#cc2,#ac2,#bc2,#ac2,#9c2,#bc2,#cc2,#bc2,#bc2,#cc2,#dc2,#eb2,#bc2,#6b3,#4b3,#9c2,#ec2,#dc2,#bc2,#cc2,#dc2,#e92,#ea2,#dc2,#ea2,#eb2,#dc2,#dc2,#ec2,#bc2,#8c2,#db2,#ea2,#bc2,#bc2,#eb2,#ec2,#dc2,#9c2,#9c2,#ac2,#9c2,#ac2,#7c2,#5b2,#6c2,#8c2,#8c2,#6c2,#4b3,#4a4,#397,#388,#5b3,#7c2,#6c2,#7c2,#6c2,#4b4,#4b3,#6c2,#8c2,#7c2,#7c2,#8c2,#8c2,#5b4,#4b4,#7c2,#8c2,#8c2,#9c2,#bc2,#9c2,#8c2,#7c2,#4a4,#4a4,#4a5,#4a5,#396,#387,#397,#27b,#17c,#7a5,#ac2,#6c2,#495,#289,#397,#26a,#15c,#496,#6c2,#4a4,#5b3,#7c2,#6c2,#4b3,#4a5,#5b3,#4a5,#387,#5a4,#ac2,#bc2,#7c2,#5b3,#4a5,#4a5,#7c2,#ac2,#cc2,#bc2,#6b3,#4b3,#5c2,#5b2,#7c2,#ac2,#8c2,#4b4,#396,#4a4,#4a5,#4b3,#6c2,#6c2,#8c2,#7c2,#8c2,#7c2,#8c2,#bc2,#ac2,#5b4,#ac2,#ac2,#4b3,#5b3,#6c2,#6c2,#5b3,#5b3,#5c2,#6c2,#6c2,#5c2,#5b3)"></i>
<i style="top:120.51px;height:3.51px;background:linear-gradient(90deg,#397,#4a6,#4b3,#4b3,#4a4,#289,#4a4,#5c2,#5b3,#5b2,#5b3,#4a5,#4b3,#9c2,#cc2,#ac2,#ac2,#cc2,#ac2,#ac2,#cc2,#cc2,#ac2,#8c2,#bc2,#db2,#db2,#ac2,#5b3,#4b3,#ac2,#eb2,#dc2,#cc2,#ec2,#dc2,#e92,#ea2,#db2,#ea2,#eb2,#dc2,#cc2,#cc2,#9c2,#7c2,#db2,#eb2,#ac2,#ac2,#ec2,#dc2,#dc2,#9c2,#9c2,#ac2,#9c2,#9c2,#6c2,#6c2,#7c2,#8c2,#7c2,#6c2,#4a4,#396,#289,#388,#5b3,#7c2,#6c2,#7c2,#5b3,#4a4,#5b3,#8c2,#8c2,#6c2,#7c2,#7c2,#5b3,#495,#4b4,#6c2,#7c2,#8c2,#ac2,#bc2,#9c2,#8c2,#6c2,#4a4,#4b4,#4a4,#4a5,#387,#388,#387,#27b,#27b,#8b4,#8c2,#4b3,#4a5,#289,#389,#16c,#16c,#4a5,#6c2,#4b3,#6c2,#8c2,#6c2,#4a4,#4a5,#5b3,#396,#387,#5a4,#9c2,#ac2,#8c2,#5b3,#495,#5a4,#9c2,#bc2,#dc2,#cc2,#7b3,#5b3,#5c2,#6c2,#8c2,#bc2,#8c2,#4a4,#4a5,#5b2,#7c2,#6c2,#6c2,#7c2,#8c2,#7c2,#8c2,#7c2,#9c2,#bc2,#8c2,#4b4,#ac2,#8c2,#4b4,#4b3,#6c2,#6c2,#4b3,#5b3,#6c2,#6c2,#6c2,#5c2,#4b3)"></i>
<i style="top:123.53px;height:3.51px;background:linear-gradient(90deg,#396,#4a5,#5b3,#5b3,#4a4,#397,#5b3,#5b3,#4b3,#5b2,#4b3,#4a5,#5b3,#7c2,#9c2,#9c2,#bc2,#dc2,#bc2,#bc2,#cc2,#cc2,#8c2,#5b3,#ac2,#eb2,#db2,#9c2,#5b3,#5b3,#bc2,#eb2,#eb2,#ec2,#db2,#bc2,#db2,#ea2,#ea2,#ea2,#eb2,#dc2,#bc2,#bc2,#8c2,#7c2,#db2,#db2,#8c2,#ac2,#dc2,#cc2,#cc2,#8c2,#9c2,#ac2,#9c2,#8c2,#5c2,#6c2,#8c2,#8c2,#7c2,#6c2,#4b4,#397,#27a,#397,#6c2,#7c2,#6c2,#6c2,#5b3,#4a4,#6b3,#ac2,#8c2,#6c2,#7c2,#5a5,#389,#397,#4b3,#5c2,#7c2,#8c2,#ac2,#bc2,#8c2,#9c2,#7c2,#4b4,#4b3,#5b3,#4a4,#388,#388,#396,#27a,#28a,#9c2,#7b3,#4b3,#4a5,#289,#389,#27a,#289,#5b4,#6c2,#5b3,#7c2,#8c2,#5b3,#4a5,#4a4,#5b3,#396,#397,#5b3,#9c2,#bc2,#8c2,#5b3,#495,#6b3,#ac2,#cc2,#dc2,#cc2,#6b3,#5b3,#7c2,#8c2,#9c2,#bc2,#7c2,#4a4,#4a4,#7c2,#ac2,#7c2,#6c2,#7c2,#8c2,#7c2,#7c2,#7c2,#9c2,#bc2,#8c2,#5b3,#bc2,#7b3,#4a4,#4b3,#6c2,#5c2,#4b4,#5b3,#6c2,#6c2,#6c2,#5b2,#4b3)"></i>
<i style="top:126.54px;height:3.51px;background:linear-gradient(90deg,#4a5,#4a4,#5b3,#5c2,#6c2,#5b3,#6c2,#5b3,#4b3,#5c2,#4b3,#4a4,#5b3,#6c2,#7c2,#9c2,#bc2,#dc2,#cc2,#cc2,#dc2,#bc2,#6b3,#5a4,#ac2,#eb2,#dc2,#9c2,#5b3,#6b3,#cc2,#ea2,#eb2,#eb2,#cb2,#9c2,#dc2,#ea2,#e92,#ea2,#eb2,#cc2,#ac2,#ac2,#6c2,#7c2,#dc2,#cc2,#7c2,#ac2,#ac2,#9c2,#bc2,#9c2,#bc2,#bc2,#ac2,#7c2,#5c2,#7c2,#8c2,#7c2,#6c2,#6c2,#5b3,#397,#27a,#396,#6c2,#7c2,#6c2,#6c2,#5b3,#4a4,#7c3,#bc2,#8c2,#6c2,#7c2,#398,#27b,#396,#5b3,#5c2,#7c2,#9c2,#ac2,#ac2,#9c2,#bc2,#7c2,#4b3,#5b2,#5c2,#4a4,#388,#396,#4b4,#397,#398,#ac2,#6b3,#5b3,#4a5,#388,#397,#4a5,#495,#6b3,#6c2,#5b3,#7c2,#8c2,#5b3,#4a4,#5b3,#5b3,#396,#4a5,#6b2,#9c2,#ac2,#8c2,#5c2,#4a4,#7b3,#bc2,#cc2,#dc2,#bc2,#6b3,#5b2,#8c2,#ac2,#ac2,#bc2,#7c2,#4a4,#5b3,#9c2,#ac2,#8c2,#7c2,#8c2,#7c2,#6c2,#7c2,#7c2,#ac2,#bc2,#8c2,#6c2,#8c2,#5b3,#4a4,#5b3,#6c2,#5b2,#4b4,#5b2,#6c2,#6c2,#6c2,#5c2,#5b3)"></i>
<i style="top:129.55px;height:3.51px;background:linear-gradient(90deg,#4a4,#4b3,#6c2,#7c2,#8c2,#7c2,#6c2,#4b3,#4b3,#5c2,#4b3,#4a4,#5b3,#5c2,#6c2,#9c2,#cc2,#dc2,#cc2,#cc2,#dc2,#ac2,#5b4,#5a4,#bc2,#dc2,#cc2,#8c2,#5b3,#7c2,#db2,#ea2,#ea2,#ea2,#cb2,#8c2,#dc2,#e92,#e92,#ea2,#ec2,#cc2,#ac2,#ac2,#6b3,#8c2,#dc2,#bc2,#7c2,#bc2,#8c2,#8c2,#bc2,#9c2,#bc2,#cc2,#ac2,#7c2,#5c2,#7c2,#8c2,#7c2,#6c2,#7c2,#7c2,#397,#27a,#4a5,#7c2,#7c2,#6c2,#6c2,#5b3,#396,#7b3,#bc2,#7c2,#7c2,#7c2,#289,#27b,#4a5,#5c2,#6c2,#8c2,#9c2,#9c2,#8c2,#9c2,#cc2,#7c2,#5b3,#5c2,#6c2,#4b3,#387,#4a5,#5c2,#396,#597,#ac2,#5b3,#5b3,#495,#388,#495,#5b3,#4b4,#6c2,#5c2,#5b2,#8c2,#7c2,#5b3,#5b3,#6c2,#5b3,#4a5,#4a4,#6c2,#8c2,#9c2,#8c2,#7c2,#5b3,#8c2,#bc2,#cc2,#dc2,#bc2,#6c2,#6c2,#9c2,#ac2,#ac2,#ac2,#6c2,#4b3,#6c2,#9c2,#ac2,#8c2,#7c2,#7c2,#7c2,#7c2,#7c2,#7c2,#bc2,#bc2,#8c2,#6c2,#5b2,#4a4,#4a5,#5b3,#6c2,#5b3,#4a4,#5b2,#7c2,#7c2,#6c2,#6c2,#8c2)"></i>
<i style="top:132.57px;height:3.51px;background:linear-gradient(90deg,#4b3,#5b3,#8c2,#8c2,#9c2,#8c2,#6c2,#4b3,#5b3,#5c2,#5b3,#5b3,#5b2,#5c2,#7c2,#9c2,#cc2,#dc2,#cc2,#cc2,#dc2,#9c2,#4a4,#6b4,#bc2,#cc2,#bc2,#8c2,#5b2,#8c2,#db2,#ea2,#ea2,#ea2,#bb2,#8c2,#dc2,#e92,#e92,#eb2,#dc2,#bc2,#9c2,#ac2,#6c2,#8c2,#cc2,#ac2,#6c2,#bc2,#7c2,#8c2,#ac2,#ac2,#cc2,#cc2,#ac2,#6c2,#5c2,#7c2,#8c2,#7c2,#6c2,#8c2,#7b3,#387,#289,#4a4,#7c2,#7c2,#6c2,#6c2,#5b3,#397,#8b3,#ac2,#7c2,#7c2,#7c2,#28a,#27a,#4a4,#6c2,#6c2,#8c2,#9c2,#9c2,#8c2,#ac2,#cc2,#7c2,#5b2,#6c2,#6c2,#5b3,#396,#5b3,#7c2,#496,#6a5,#9c2,#5b3,#5b2,#496,#387,#4a4,#5c2,#5c2,#5b3,#5b3,#5b2,#8c2,#7c2,#5b3,#6c2,#6c2,#5b3,#4a5,#5b3,#6c2,#5b3,#7c2,#9c2,#9c2,#ac2,#ac2,#bc2,#cc2,#cc2,#bc2,#8c2,#7c2,#9c2,#ac2,#bc2,#ac2,#6c2,#5c2,#7c2,#ac2,#ac2,#9c2,#7c2,#7c2,#7c2,#7c2,#7c2,#8c2,#bc2,#bc2,#8c2,#5c2,#4b3,#495,#4a4,#6c2,#7c2,#5b3,#4a4,#5b3,#8c2,#7c2,#6c2,#8c2,#ac2)"></i>
<i style="top:135.58px;height:3.51px;background:linear-gradient(90deg,#5b2,#6c2,#9c2,#9c2,#9c2,#8c2,#5c2,#4b3,#5b2,#5c2,#6c2,#6c2,#5b2,#5c2,#7c2,#9c2,#cc2,#dc2,#cc2,#cc2,#dc2,#8c2,#4a4,#6b3,#bc2,#bc2,#bc2,#ac2,#7c2,#9c2,#dc2,#dc2,#eb2,#ea2,#ac2,#9c2,#dc2,#ea2,#eb2,#ec2,#dc2,#ac2,#9c2,#9c2,#6c2,#8c2,#bc2,#9c2,#6c2,#ac2,#6c2,#8c2,#ac2,#ac2,#cc2,#cc2,#9c2,#6c2,#5c2,#7c2,#7c2,#6c2,#7c2,#9c2,#7b3,#387,#396,#5b3,#6c2,#6c2,#5b2,#6c2,#6b3,#397,#8b3,#ac2,#7c2,#8c2,#8b3,#27a,#289,#6b3,#8c2,#6c2,#6c2,#7c2,#8c2,#8c2,#ac2,#cc2,#6c2,#5c2,#6c2,#7c2,#5b3,#496,#6b2,#7c2,#4a5,#6b4,#8c2,#5b2,#5c2,#4a5,#396,#5b4,#6c2,#6c2,#4a4,#4b3,#5b2,#8c2,#7c2,#5b2,#6c2,#5c2,#4b4,#4a4,#5b2,#6c2,#4a4,#7c2,#9c2,#bc2,#cc2,#bc2,#bc2,#bc2,#cc2,#cc2,#ac2,#8c2,#ac2,#ac2,#ac2,#9c2,#7c2,#6c2,#8c2,#ac2,#ac2,#9c2,#7c2,#7c2,#7c2,#7c2,#7c2,#9c2,#bc2,#ac2,#7c2,#5c2,#4b4,#396,#4a4,#8c2,#7c2,#5b3,#4b3,#6b3,#9c2,#7c2,#7c2,#9c2,#ac2)"></i>
<i style="top:138.59px;height:3.51px;background:linear-gradient(90deg,#5c2,#6c2,#ac2,#9c2,#ac2,#7c2,#5b2,#5b3,#6c2,#6c2,#ac2,#9c2,#5c2,#6c2,#7c2,#9c2,#cc2,#cc2,#bc2,#cc2,#cc2,#8c2,#4a5,#7b3,#cc2,#bc2,#ac2,#bc2,#8c2,#ac2,#cc2,#cc2,#eb2,#eb2,#9c2,#9c2,#dc2,#eb2,#cc2,#dc2,#dc2,#ac2,#9c2,#9c2,#6c2,#8c2,#bc2,#8c2,#6c2,#7c2,#5b3,#9c2,#ac2,#ac2,#cc2,#cc2,#8c2,#5c2,#6c2,#6c2,#6c2,#6c2,#8c2,#ac2,#6b3,#4a5,#5b3,#5c2,#5b3,#5b2,#4a4,#5b4,#6b3,#396,#9c2,#ac2,#7c2,#9c2,#7b4,#27b,#398,#8c2,#9c2,#5b3,#4b3,#6c2,#8c2,#8c2,#bc2,#bc2,#6c2,#5c2,#7c2,#7c2,#5b4,#4a5,#7c2,#8c2,#6c2,#8c2,#8c2,#6c2,#6c2,#4a4,#4a5,#5b3,#7c2,#6b2,#4a5,#4b3,#5c2,#8c2,#6c2,#5b2,#7c2,#5b2,#4b3,#4b3,#6c2,#6b3,#4a4,#8c2,#9c2,#bc2,#cc2,#bc2,#bc2,#bc2,#bc2,#cc2,#bc2,#8c2,#ac2,#ac2,#7c2,#8c2,#9c2,#6c2,#8c2,#ac2,#ac2,#8c2,#7c2,#7c2,#7c2,#7c2,#7c2,#9c2,#cc2,#ac2,#7c2,#5c2,#4a4,#397,#5b4,#9c2,#7c2,#5b3,#4b3,#6c2,#9c2,#7c2,#7c2,#ac2,#ac2)"></i>
<i style="top:141.60px;height:3.51px;background:linear-gradient(90deg,#6c2,#7c2,#ac2,#ac2,#ac2,#7c2,#5b3,#5b3,#6c2,#6c2,#bc2,#9c2,#5b2,#6c2,#6c2,#7c2,#ac2,#bc2,#ac2,#cc2,#cc2,#7c2,#4a5,#7b3,#bc2,#bc2,#bc2,#bc2,#ac2,#9c2,#ac2,#bc2,#eb2,#dc2,#8c2,#9c2,#dc2,#db2,#bc2,#bc2,#bc2,#9c2,#9c2,#8c2,#6c2,#8c2,#bc2,#8c2,#5c2,#6c2,#5b3,#9c2,#9c2,#ac2,#cc2,#cc2,#8c2,#6c2,#7c2,#5c2,#5c2,#6c2,#8c2,#ac2,#6b3,#4b4,#5c2,#6c2,#4b3,#5b2,#495,#5a4,#5b4,#496,#9c2,#9c2,#7c2,#9c2,#7b4,#27b,#397,#9c2,#9c2,#5b3,#4a4,#6c2,#8c2,#8c2,#bc2,#ac2,#5c2,#5c2,#7c2,#7c2,#5b4,#4a4,#7c2,#8c2,#9c2,#ac2,#8c2,#7c2,#7c2,#5b3,#4b3,#6c2,#7c2,#6b3,#4a5,#4b3,#5c2,#8c2,#6c2,#5c2,#7c2,#5b3,#4b3,#4b3,#5c2,#5b3,#4a5,#7c2,#9c2,#cc2,#cc2,#bc2,#bc2,#ac2,#8c2,#bc2,#bc2,#9c2,#ac2,#ac2,#6c2,#9c2,#9c2,#6c2,#6c2,#9c2,#9c2,#8c2,#7c2,#7c2,#7c2,#7c2,#7c2,#9c2,#cc2,#bc2,#6c2,#5b2,#4a5,#387,#6b4,#9c2,#6c2,#4b3,#4b3,#7c2,#9c2,#7c2,#7c2,#ac2,#9c2)"></i>
<i style="top:144.62px;height:3.51px;background:linear-gradient(90deg,#6c2,#7c2,#ac2,#ac2,#9c2,#7c2,#5b3,#5b3,#6c2,#7c2,#cc2,#9c2,#5b2,#6c2,#5c2,#5b2,#9c2,#ac2,#ac2,#bc2,#bc2,#6b3,#4a4,#7c2,#bc2,#bc2,#bc2,#bc2,#ac2,#9c2,#9c2,#bc2,#dc2,#bc2,#7c2,#ac2,#dc2,#dc2,#ac2,#ac2,#ac2,#9c2,#9c2,#8c2,#6c2,#9c2,#bc2,#8c2,#6c2,#5b2,#5b3,#9c2,#9c2,#ac2,#cc2,#bc2,#8c2,#ac2,#9c2,#6b2,#5b2,#7c2,#9c2,#ac2,#6b3,#5b3,#6c2,#6c2,#4b3,#5c2,#396,#5a4,#5a4,#496,#8c2,#8c2,#6c2,#9c2,#6a5,#27b,#397,#9c2,#9c2,#5b4,#4a4,#6c2,#8c2,#8c2,#bc2,#9c2,#5c2,#5c2,#6c2,#6c2,#4a4,#4a4,#7c2,#9c2,#ac2,#bc2,#ac2,#ac2,#8c2,#5c2,#6c2,#7c2,#8c2,#5b3,#396,#4a5,#5b3,#8c2,#6c2,#6c2,#7c2,#5b3,#4b3,#5b3,#5b3,#4a4,#4a5,#6c2,#9c2,#cc2,#bc2,#bc2,#bc2,#ac2,#8c2,#bc2,#ac2,#ac2,#bc2,#9c2,#5b2,#9c2,#9c2,#5c2,#6c2,#8c2,#9c2,#9c2,#8c2,#7c2,#7c2,#7c2,#7c2,#9c2,#cc2,#bc2,#7c2,#5b2,#396,#387,#6b3,#9c2,#6c2,#4b3,#4b3,#7c2,#8c2,#7c2,#8c2,#ac2,#8c2)"></i>
<i style="top:147.63px;height:3.51px;background:linear-gradient(90deg,#6c2,#8c2,#ac2,#ac2,#9c2,#6c2,#4b3,#5b3,#6c2,#7c2,#cc2,#8c2,#5b3,#6c2,#5c2,#4b3,#6c2,#8c2,#8c2,#bc2,#ac2,#6c2,#4b3,#8c2,#bc2,#bc2,#bc2,#bc2,#ac2,#8c2,#8c2,#bc2,#cc2,#9c2,#8c2,#cc2,#ec2,#cc2,#9c2,#ac2,#ac2,#9c2,#9c2,#7c2,#6c2,#9c2,#bc2,#8c2,#6c2,#5c2,#6b2,#ac2,#9c2,#bc2,#cc2,#ac2,#7c2,#bc2,#ac2,#6b2,#7c2,#9c2,#9c2,#9c2,#5b3,#5b3,#6c2,#6c2,#5b3,#5c2,#396,#6b4,#5a5,#397,#5b3,#7c2,#6c2,#9c2,#6b4,#289,#496,#9c2,#8c2,#4a4,#4a4,#6c2,#7c2,#6c2,#8c2,#9c2,#6c2,#5c2,#6c2,#6c2,#4a4,#5b4,#7c2,#8c2,#ac2,#bc2,#bc2,#bc2,#8c2,#6c2,#7c2,#8c2,#8c2,#5b4,#397,#396,#6c2,#8c2,#6c2,#7c2,#7c2,#5b3,#4b3,#5b3,#5b3,#4a5,#4a5,#6c2,#8c2,#cc2,#bc2,#bc2,#bc2,#9c2,#7c2,#bc2,#ac2,#ac2,#bc2,#9c2,#5b2,#ac2,#8c2,#5c2,#6c2,#8c2,#9c2,#bc2,#ac2,#7c2,#6c2,#7c2,#7c2,#9c2,#cc2,#cc2,#ac2,#7c2,#396,#387,#7b3,#8c2,#5b3,#4b4,#4b3,#8c2,#9c2,#7c2,#8c2,#9c2,#7c2)"></i>
<i style="top:150.64px;height:3.51px;background:linear-gradient(90deg,#6c2,#7c2,#ac2,#9c2,#9c2,#6c2,#4b3,#5b3,#6c2,#8c2,#cc2,#7c2,#5b3,#6c2,#5b3,#4a4,#5b2,#5c2,#7c2,#ac2,#ac2,#7c2,#5b2,#9c2,#cc2,#bc2,#bc2,#bc2,#9c2,#8c2,#8c2,#bc2,#bc2,#9c2,#cc2,#eb2,#ec2,#bc2,#9c2,#ac2,#ac2,#9c2,#9c2,#7c2,#6c2,#9c2,#bc2,#8c2,#6c2,#6c2,#8c2,#bc2,#ac2,#ac2,#bc2,#8c2,#7c2,#cc2,#ac2,#6c2,#9c2,#bc2,#9c2,#7c2,#5b3,#5b2,#7c2,#6c2,#5b3,#5b2,#396,#6b3,#5a5,#387,#5b3,#6c2,#6c2,#ac2,#6b3,#388,#496,#9c2,#7c2,#4a4,#4a4,#5c2,#5c2,#4b4,#5b3,#9c2,#7c2,#5c2,#6c2,#6c2,#4a4,#4b4,#5c2,#7c2,#ac2,#bc2,#bc2,#bc2,#8c2,#6c2,#8c2,#9c2,#8c2,#5a4,#397,#495,#6c2,#8c2,#6c2,#7c2,#7c2,#5b3,#5b3,#5c2,#5b3,#4a5,#4a4,#5c2,#7c2,#bc2,#bc2,#bc2,#bc2,#9c2,#7c2,#bc2,#ac2,#ac2,#bc2,#8c2,#6b3,#ac2,#8c2,#5b2,#6c2,#7c2,#8c2,#cc2,#bc2,#8c2,#6c2,#7c2,#7c2,#ac2,#cc2,#dc2,#cc2,#7c2,#4a5,#396,#7b3,#7c2,#4a4,#4b4,#5b3,#8c2,#9c2,#8c2,#7c2,#8c2,#5c2)"></i>
<i style="top:153.66px;height:3.51px;background:linear-gradient(90deg,#4a5,#6b4,#9c2,#8c2,#7c2,#5b2,#4b4,#5b3,#6c2,#8c2,#cc2,#7c2,#5b3,#5c2,#5b3,#4a4,#4b3,#4b4,#7c2,#bc2,#cc2,#8c2,#6c2,#ac2,#dc2,#cc2,#cc2,#bc2,#9c2,#7c2,#7c2,#ac2,#ac2,#9c2,#db2,#ea2,#dc2,#ac2,#9c2,#ac2,#ac2,#9c2,#8c2,#6c2,#6c2,#ac2,#bc2,#8c2,#6c2,#9c2,#bc2,#bc2,#ac2,#ac2,#ac2,#6b3,#7c3,#cc2,#9c2,#6c2,#ac2,#bc2,#6c2,#4a4,#4b4,#5c2,#7c2,#6c2,#5b3,#5b3,#495,#6b3,#5a4,#396,#5b3,#6c2,#6c2,#ac2,#6b3,#388,#5a5,#9c2,#7c2,#4a5,#4a4,#5b3,#4b4,#4a5,#5b4,#9c2,#7c2,#5c2,#6c2,#7c2,#4a5,#4a5,#4b3,#6c2,#ac2,#bc2,#bc2,#bc2,#7c2,#7c2,#8c2,#9c2,#8c2,#4a4,#397,#4a5,#7c2,#8c2,#6c2,#8c2,#7c2,#5b3,#5b3,#5c2,#5b3,#4b3,#5b3,#5b3,#6b3,#9c2,#ac2,#8c2,#8c2,#7c2,#7c2,#9c2,#9c2,#ac2,#ac2,#7c2,#6b3,#ac2,#7c2,#5b3,#6c2,#7c2,#8c2,#cc2,#bc2,#7c2,#6c2,#6c2,#7c2,#ac2,#dc2,#dc2,#cc2,#7c2,#4a4,#396,#5b3,#5b3,#4a4,#4b3,#5c2,#7c2,#9c2,#8c2,#7c2,#7c2,#5c2)"></i>
<i style="top:156.67px;height:3.51px;background:linear-gradient(90deg,#397,#5a5,#8c2,#6c2,#5c2,#5b3,#4a4,#5b3,#6c2,#9c2,#cc2,#6c2,#5b3,#5c2,#5b3,#4a5,#4b4,#4a5,#7c2,#bc2,#cc2,#9c2,#7c2,#cc2,#eb2,#dc2,#cc2,#bc2,#8c2,#7c2,#7c2,#ac2,#9c2,#9c2,#eb2,#ea2,#dc2,#ac2,#9c2,#ac2,#9c2,#8c2,#8c2,#6c2,#7c2,#ac2,#bc2,#7c2,#7c2,#ac2,#cc2,#cc2,#ac2,#ac2,#9c2,#5b3,#7c3,#cc2,#9c2,#6c2,#ac2,#ac2,#5b4,#397,#4a4,#5c2,#7c2,#6c2,#5c2,#5b3,#4a5,#6c2,#5b3,#4a5,#5b3,#6c2,#7c2,#9c2,#5b4,#387,#5a5,#9c2,#6c2,#4a4,#4b3,#5b3,#4a4,#495,#5b4,#9c2,#7c2,#5c2,#7c2,#7c2,#495,#396,#4a4,#7c2,#9c2,#ac2,#bc2,#bc2,#7c2,#7c2,#9c2,#ac2,#8c2,#4a4,#396,#5b4,#9c2,#7c2,#7c2,#9c2,#7c2,#5b2,#5b2,#6c2,#5b2,#5b3,#5c2,#5b3,#5b3,#8c2,#9c2,#6c2,#6c2,#7c2,#5c2,#6c2,#8c2,#bc2,#9c2,#6c2,#7c2,#ac2,#6c2,#5c2,#7c2,#7c2,#9c2,#cc2,#bc2,#5b4,#5b3,#7c2,#8c2,#bc2,#dc2,#ec2,#cc2,#7c2,#4b3,#495,#396,#4a5,#4b3,#5b2,#5c2,#7c2,#9c2,#6c2,#6c2,#7c2,#5c2)"></i>
<i style="top:159.68px;height:3.51px;background:linear-gradient(90deg,#398,#4a6,#7c2,#6c2,#5c2,#5b2,#4a4,#5b3,#7c2,#ac2,#bc2,#6b3,#5b3,#5c2,#4b4,#4a5,#4a4,#4a5,#8c2,#cc2,#dc2,#ac2,#9c2,#db2,#e92,#eb2,#dc2,#ac2,#8c2,#7c2,#8c2,#bc2,#9c2,#9c2,#eb2,#ea2,#cc2,#ac2,#9c2,#ac2,#9c2,#8c2,#7c2,#7c2,#9c2,#bc2,#ac2,#7c2,#7c2,#ac2,#dc2,#cc2,#ac2,#ac2,#9c2,#5b3,#8c3,#cc2,#9c2,#6c2,#bc2,#ac2,#5a5,#388,#4a4,#5c2,#6c2,#6c2,#6c2,#5b3,#4a5,#5c2,#5b3,#4a4,#5b3,#6c2,#7c2,#7c2,#4a4,#387,#5a4,#8c2,#6c2,#4b4,#4b3,#5b3,#4a4,#495,#5b3,#9c2,#7c2,#6c2,#7c2,#7c2,#496,#396,#4a4,#6c2,#7c2,#8c2,#bc2,#bc2,#7c2,#7c2,#9c2,#ac2,#8c2,#4a4,#495,#6b3,#9c2,#6c2,#7c2,#9c2,#7c2,#5c2,#6c2,#6c2,#5c2,#5c2,#6c2,#5b3,#6c2,#8c2,#9c2,#5b3,#6c2,#7c2,#6c2,#6c2,#9c2,#bc2,#9c2,#7c2,#9c2,#9c2,#7c2,#6c2,#8c2,#8c2,#ac2,#dc2,#ac2,#496,#5b4,#7c2,#9c2,#bc2,#dc2,#ec2,#bc2,#7c2,#5b2,#4b3,#396,#4a5,#5b3,#5c2,#6c2,#7c2,#9c2,#6b3,#6c2,#7c2,#5c2)"></i>
<i style="top:162.69px;height:3.51px;background:linear-gradient(90deg,#398,#4a6,#6c2,#5c2,#6c2,#6c2,#4a4,#4b3,#6c2,#ac2,#ac2,#5b3,#5b3,#5c2,#4a4,#4a5,#4a4,#4a5,#9c2,#cc2,#dc2,#ac2,#ac2,#ea2,#e72,#ea2,#cc2,#9c2,#8c2,#8c2,#bc2,#bc2,#8c2,#9c2,#eb2,#ea2,#cc2,#ac2,#ac2,#ac2,#9c2,#8c2,#7c2,#8c2,#ac2,#cc2,#ac2,#7c2,#8c2,#bc2,#dc2,#cc2,#ac2,#ac2,#9c2,#5b3,#8c2,#cc2,#9c2,#7c2,#bc2,#9c2,#4a6,#397,#4b3,#5b2,#5c2,#6c2,#7c2,#6b2,#4b3,#5c2,#4b3,#4b4,#6c2,#6c2,#7c2,#6c2,#4a4,#397,#4a4,#7c2,#6c2,#4b3,#4b3,#5b3,#4a4,#4a5,#6b3,#ac2,#8c2,#6c2,#8c2,#7c2,#4a5,#396,#4a4,#4b3,#5c2,#7c2,#ac2,#ac2,#6c2,#7c2,#9c2,#ac2,#8c2,#4a4,#4a5,#7c3,#9c2,#6c2,#7c2,#9c2,#7c2,#5c2,#6c2,#7c2,#6c2,#5c2,#6c2,#5b2,#6c2,#9c2,#8c2,#5b2,#7c2,#9c2,#7c2,#7c2,#bc2,#bc2,#9c2,#9c2,#ac2,#9c2,#8c2,#8c2,#8c2,#8c2,#bc2,#dc2,#9c2,#396,#6b3,#8c2,#9c2,#cc2,#dc2,#ec2,#bc2,#7c2,#5c2,#5b3,#396,#4a4,#5b3,#5c2,#6c2,#8c2,#9c2,#5b3,#7c2,#7c2,#6c2)"></i>
<i style="top:165.71px;height:3.51px;background:linear-gradient(90deg,#397,#4a5,#6c2,#5c2,#7c2,#8c2,#4a4,#4a5,#6c2,#9c2,#9c2,#5c2,#5b3,#5c2,#4b4,#4a4,#4a5,#5a5,#ac2,#dc2,#dc2,#bc2,#bc2,#e92,#f61,#e92,#cc2,#9c2,#8c2,#ac2,#cc2,#bc2,#8c2,#ac2,#eb2,#eb2,#cc2,#ac2,#ac2,#ac2,#9c2,#8c2,#7c2,#8c2,#bc2,#cc2,#9c2,#6c2,#ac2,#cc2,#dc2,#cc2,#ac2,#ac2,#8c2,#5b3,#9c2,#cc2,#9c2,#9c2,#cc2,#9c2,#496,#396,#5b3,#5b2,#5b2,#7c2,#8c2,#6c2,#5b3,#5c2,#4b3,#4b3,#6c2,#6c2,#6c2,#6c2,#4b4,#4a5,#5b3,#6c2,#5c2,#4b3,#5b3,#5b3,#4a4,#4a5,#6b3,#ac2,#8c2,#6c2,#8c2,#7c2,#4a4,#4a5,#4b4,#4a4,#5b3,#6c2,#8c2,#9c2,#5c2,#7c2,#9c2,#ac2,#7c2,#4a4,#4b3,#8c2,#8c2,#5c2,#7c2,#9c2,#7c2,#6c2,#7c2,#9c2,#8c2,#6c2,#8c2,#6c2,#7c2,#9c2,#8c2,#5c2,#7c2,#ac2,#7c2,#8c2,#bc2,#9c2,#8c2,#ac2,#bc2,#9c2,#9c2,#bc2,#9c2,#8c2,#ac2,#cc2,#9c2,#4a6,#7c3,#9c2,#ac2,#cc2,#dc2,#dc2,#bc2,#7c2,#6c2,#5b3,#495,#4b4,#5b2,#6c2,#6c2,#8c2,#8c2,#5b3,#7c2,#7c2,#7c2)"></i>
<i style="top:168.72px;height:3.51px;background:linear-gradient(90deg,#496,#4a5,#6c2,#5c2,#8c2,#9c2,#4a5,#495,#6c2,#9c2,#ac2,#7c2,#5c2,#5c2,#5b2,#4b3,#4a5,#5a4,#bc2,#dc2,#dc2,#bc2,#cc2,#e82,#f61,#e92,#cc2,#8c2,#9c2,#cc2,#dc2,#bc2,#8c2,#ac2,#eb2,#eb2,#cc2,#bc2,#bc2,#bc2,#ac2,#8c2,#7c2,#8c2,#bc2,#dc2,#8c3,#6b3,#ac2,#cc2,#dc2,#cc2,#ac2,#ac2,#8c2,#5b2,#ac2,#dc2,#ac2,#ac2,#cc2,#8c2,#396,#4a5,#5c2,#5b3,#5b2,#7c2,#8c2,#6c2,#5b2,#5c2,#5b3,#5b3,#7c2,#6c2,#6c2,#6c2,#5b3,#5b2,#6c2,#5c2,#4b3,#4b3,#5b3,#5b3,#4a4,#4a4,#7b3,#ac2,#8c2,#6c2,#8c2,#8c2,#4b3,#4a5,#4b4,#4a4,#5b2,#5b3,#6b3,#7c2,#5c2,#6c2,#9c2,#ac2,#7c2,#4b3,#6c2,#9c2,#8c2,#5b3,#6c2,#9c2,#7c2,#6c2,#8c2,#9c2,#9c2,#7c2,#9c2,#6c2,#8c2,#ac2,#8c2,#5c2,#8c2,#ac2,#7c2,#9c2,#ac2,#7c2,#8c2,#ac2,#cc2,#ac2,#ac2,#cc2,#9c2,#7c2,#8c2,#ac2,#8b3,#4a5,#9c2,#ac2,#bc2,#dc2,#cc2,#bc2,#cc2,#7c2,#6c2,#5b3,#4a5,#5b3,#5c2,#5c2,#6c2,#8c2,#7c2,#5b3,#7c2,#9c2,#9c2)"></i>
<i style="top:171.73px;height:3.51px;background:linear-gradient(90deg,#4a5,#5b4,#6c2,#5c2,#9c2,#9c2,#495,#396,#6c2,#9c2,#bc2,#9c2,#5c2,#6c2,#6c2,#5b3,#396,#5a4,#bc2,#dc2,#ec2,#cc2,#dc2,#e71,#f51,#e92,#cc2,#8c2,#9c2,#cc2,#dc2,#bc2,#9c2,#bc2,#eb2,#db2,#bc2,#bc2,#bc2,#cc2,#bc2,#9c2,#7c2,#9c2,#bc2,#dc2,#8b4,#5a4,#ac2,#bc2,#cc2,#bc2,#ac2,#ac2,#8c2,#6c2,#bc2,#dc2,#bc2,#ac2,#ac2,#7c2,#396,#4a5,#5c2,#5b3,#5b2,#8c2,#8c2,#6c2,#5c2,#5c2,#5b2,#7c2,#9c2,#6c2,#6c2,#6c2,#5c2,#6c2,#6c2,#5b3,#4b3,#5b3,#5b2,#5b2,#5b3,#4b4,#6b3,#8c2,#7c2,#6c2,#8c2,#8c2,#5b3,#4a4,#4b3,#4b4,#5c2,#4b3,#6b3,#7c2,#5c2,#6c2,#9c2,#ac2,#7b3,#4b3,#6c2,#ac2,#8c2,#4b3,#6c2,#ac2,#7c2,#7c2,#9c2,#ac2,#9c2,#8c2,#ac2,#8c2,#9c2,#ac2,#8c2,#6c2,#9c2,#bc2,#8c2,#ac2,#ac2,#7c2,#9c2,#bc2,#cc2,#ac2,#bc2,#cc2,#9c2,#6c2,#7c2,#ac2,#8b3,#5a5,#bc2,#bc2,#bc2,#dc2,#bc2,#ac2,#cc2,#7c2,#6c2,#5b3,#4a4,#5b2,#5c2,#5b3,#6c2,#7c2,#5c2,#5b3,#6c2,#9c2,#ac2)"></i>
<i style="top:174.74px;height:3.51px;background:linear-gradient(90deg,#4a4,#5b3,#6c2,#5c2,#9c2,#8c2,#396,#496,#6c2,#9c2,#cc2,#ac2,#6c2,#7c2,#7c2,#4a4,#396,#6b4,#bc2,#dc2,#dc2,#cc2,#db2,#f71,#f61,#ea2,#bc2,#8c2,#ac2,#dc2,#dc2,#bc2,#ac2,#cc2,#eb2,#dc2,#bc2,#bc2,#bc2,#cc2,#bc2,#9c2,#7c2,#9c2,#cc2,#dc2,#7b4,#5a5,#ac2,#bc2,#cc2,#bc2,#9c2,#ac2,#9c2,#ac2,#dc2,#ec2,#bc2,#8c2,#7c2,#6c2,#396,#4a4,#5c2,#5b3,#5b2,#8c2,#8c2,#6c2,#5c2,#5c2,#5b2,#8c2,#bc2,#7c2,#6c2,#6c2,#5c2,#6c2,#6c2,#5b3,#4b3,#5b3,#5c2,#5c2,#5c2,#4b3,#5b3,#7c2,#7c2,#6c2,#8c2,#8c2,#5b3,#5b3,#5b3,#4b3,#5c2,#4b3,#6b3,#7c2,#5c2,#7c2,#ac2,#ac2,#7c2,#5b3,#7c2,#9c2,#7c2,#4b4,#7c3,#ac2,#8c2,#7c2,#9c2,#ac2,#ac2,#9c2,#ac2,#9c2,#9c2,#ac2,#9c2,#8c2,#bc2,#bc2,#9c2,#bc2,#ac2,#7c2,#9c2,#bc2,#cc2,#bc2,#cc2,#cc2,#8c2,#5c2,#6c2,#ac2,#7b3,#6b4,#bc2,#bc2,#cc2,#dc2,#bc2,#ac2,#cc2,#6c2,#6c2,#6c2,#5b2,#5c2,#5b3,#4a5,#7b3,#7c2,#5c2,#5b3,#7c2,#9c2,#9c2)"></i>
<i style="top:177.76px;height:3.51px;background:linear-gradient(90deg,#5b3,#5b3,#6c2,#5c2,#9c2,#7b3,#387,#496,#6c2,#9c2,#cc2,#ac2,#6c2,#8c2,#7c2,#4a5,#4a5,#7c2,#ac2,#bc2,#dc2,#cc2,#db2,#e71,#f61,#ea2,#bc2,#8c2,#ac2,#dc2,#dc2,#bc2,#ac2,#cc2,#dc2,#cc2,#ac2,#bc2,#cc2,#cc2,#bc2,#9c2,#7c2,#9c2,#cc2,#dc2,#7b4,#6a4,#ac2,#ac2,#bc2,#9c2,#7c2,#9c2,#ac2,#bc2,#dc2,#dc2,#ac2,#7c2,#6c2,#6c2,#4b4,#5b3,#5c2,#5b3,#5c2,#8c2,#7c2,#5c2,#5c2,#5b2,#5b3,#9c2,#dc2,#7c2,#6c2,#6c2,#5c2,#7c2,#6c2,#5b3,#4b3,#5b3,#6c2,#6c2,#6c2,#5b3,#5b3,#6c2,#7c2,#6c2,#8c2,#8c2,#6c2,#6c2,#5b2,#4b3,#5c2,#4b3,#6b3,#7c2,#5c2,#7c2,#ac2,#bc2,#8c2,#7c2,#7c2,#8c2,#6c2,#4a4,#7c3,#ac2,#8c2,#7c2,#9c2,#ac2,#bc2,#bc2,#bc2,#9c2,#8c2,#ac2,#bc2,#cc2,#eb2,#cc2,#bc2,#cc2,#ac2,#7c2,#9c2,#bc2,#cc2,#bc2,#cc2,#cc2,#8c2,#5c2,#7c2,#ac2,#8c2,#8c2,#cc2,#cc2,#cc2,#dc2,#bc2,#bc2,#cc2,#6c2,#6c2,#8c2,#7c2,#5c2,#4b4,#396,#7c2,#8c2,#6c2,#5c2,#7c2,#9c2,#7c2)"></i>
<i style="top:180.77px;height:3.51px;background:linear-gradient(90deg,#5b2,#5c2,#6c2,#5c2,#9c2,#7b4,#389,#4a5,#7c2,#9c2,#cc2,#ac2,#7c2,#8c2,#7c2,#495,#5b4,#9c2,#9c2,#7c2,#cc2,#cc2,#db2,#e72,#f71,#ea2,#bc2,#8c2,#ac2,#dc2,#dc2,#bc2,#ac2,#cc2,#dc2,#bc2,#ac2,#bc2,#cc2,#cc2,#bc2,#9c2,#8c2,#ac2,#cc2,#dc2,#6a4,#6a4,#ac2,#9c2,#bc2,#7c2,#6c2,#9c2,#ac2,#bc2,#dc2,#dc2,#ac2,#6c2,#5b2,#6c2,#5c2,#5c2,#5c2,#5b3,#6c2,#8c2,#7c2,#5c2,#5c2,#4b3,#5b3,#ac2,#dc2,#7c2,#6c2,#6c2,#5c2,#7c2,#6c2,#5b3,#5b3,#5c2,#6c2,#7c2,#6c2,#5b3,#5b2,#6c2,#6c2,#6c2,#9c2,#8c2,#8c2,#8c2,#5b2,#5b3,#5c2,#4b3,#7c2,#7c2,#6c2,#7c2,#ac2,#bc2,#ac2,#9c2,#6c2,#7c2,#6c2,#4a4,#7c2,#bc2,#9c2,#7c2,#9c2,#ac2,#bc2,#bc2,#bc2,#9c2,#8c2,#ac2,#cc2,#db2,#ea2,#dc2,#cc2,#dc2,#ac2,#7c2,#8c2,#9c2,#9c2,#ac2,#dc2,#cc2,#8c2,#5c2,#7c2,#ac2,#ac2,#ac2,#dc2,#dc2,#dc2,#dc2,#ac2,#bc2,#bc2,#5b3,#5c2,#9c2,#8c2,#5c2,#4a4,#495,#8c2,#8c2,#6c2,#6c2,#8c2,#9c2,#6c2)"></i>
<i style="top:183.78px;height:3.51px;background:linear-gradient(90deg,#5c2,#5c2,#5b2,#5b3,#9c2,#6b4,#289,#4a5,#7c2,#9c2,#dc2,#ac2,#7c2,#8c2,#7c2,#495,#5b3,#9c2,#8c2,#7c2,#cc2,#cc2,#dc2,#e82,#e82,#db2,#ac2,#8c2,#ac2,#dc2,#dc2,#bc2,#ac2,#cc2,#dc2,#bc2,#ac2,#bc2,#cc2,#cc2,#bc2,#ac2,#9c2,#bc2,#cc2,#dc2,#6a5,#6b4,#9c2,#8c2,#ac2,#6c2,#6c2,#9c2,#ac2,#bc2,#dc2,#dc2,#9c2,#6c2,#6b2,#7c2,#6c2,#5c2,#5c2,#5c2,#6c2,#7c2,#7c2,#6c2,#4b3,#4a4,#5b4,#ac2,#db2,#7c2,#6c2,#6c2,#5c2,#7c2,#7c2,#5b3,#7c2,#9c2,#9c2,#7c2,#6c2,#5b3,#5c2,#5b3,#5b3,#6c2,#9c2,#8c2,#9c2,#8c2,#5c2,#5b3,#6c2,#4b3,#7c2,#7c2,#6c2,#7c2,#ac2,#bc2,#bc2,#9c2,#6c2,#7c2,#5b3,#4a4,#7c2,#bc2,#9c2,#6c2,#9c2,#ac2,#bc2,#bc2,#ac2,#9c2,#8c2,#cc2,#dc2,#db2,#e92,#eb2,#dc2,#cc2,#9c2,#8c2,#7c2,#7c2,#7c2,#ac2,#db2,#dc2,#9c2,#6c2,#8c2,#bc2,#ac2,#bc2,#dc2,#dc2,#dc2,#cc2,#9c2,#bc2,#bc2,#5b3,#6c2,#9c2,#8c2,#5c2,#4a4,#4a5,#8c2,#8c2,#6c2,#6c2,#8c2,#8c2,#6c2)"></i>
<i style="top:186.80px;height:3.51px;background:linear-gradient(90deg,#5b3,#5b3,#5b3,#5b3,#9c2,#6a5,#289,#4a5,#6c2,#9c2,#dc2,#ac2,#7c2,#8c2,#7c2,#496,#6b3,#8c2,#6b3,#7b3,#cc2,#cc2,#dc2,#e82,#e82,#dc2,#ac2,#8c2,#ac2,#dc2,#cc2,#bc2,#bc2,#cc2,#cc2,#bc2,#ac2,#bc2,#cc2,#cc2,#bc2,#ac2,#ac2,#cc2,#dc2,#dc2,#6a5,#6b4,#9c2,#8c2,#9c2,#6c2,#6c2,#9c2,#ac2,#bc2,#dc2,#dc2,#9c2,#6c2,#6c2,#9c2,#6c2,#5c2,#8c2,#9c2,#7c2,#6c2,#7c2,#7c2,#5b3,#4a5,#5b4,#bc2,#db2,#6c2,#6c2,#6c2,#6c2,#7c2,#8c2,#5b2,#9c2,#bc2,#ac2,#7c2,#6c2,#5b3,#5c2,#4a5,#4a5,#6c2,#9c2,#9c2,#9c2,#8c2,#5c2,#5c2,#6c2,#5b3,#8c2,#9c2,#8c2,#7c2,#ac2,#bc2,#bc2,#9c2,#7c2,#6c2,#5b3,#4a5,#7c2,#bc2,#8c2,#6c2,#9c2,#bc2,#cc2,#ac2,#9c2,#9c2,#9c2,#dc2,#dc2,#ea2,#e82,#e92,#dc2,#cc2,#9c2,#8c2,#7c2,#7c2,#7c2,#ac2,#ea2,#ea2,#ac2,#6c2,#8c2,#bc2,#ac2,#bc2,#dc2,#dc2,#ec2,#cc2,#9c2,#bc2,#ac2,#5b2,#6c2,#9c2,#9c2,#6c2,#4a4,#4a5,#9c2,#9c2,#7c2,#7c2,#7c2,#5b2,#5c2)"></i>
<i style="top:189.81px;height:3.51px;background:linear-gradient(90deg,#4b3,#4b3,#4b3,#5b3,#7c2,#4a6,#289,#4a5,#6c2,#9c2,#dc2,#ac2,#8c2,#8c2,#7c2,#396,#6b3,#6c2,#5b3,#7b3,#dc2,#cc2,#dc2,#e82,#ea2,#cc2,#9c2,#8c2,#bc2,#cc2,#cc2,#bc2,#ac2,#cc2,#cc2,#ac2,#ac2,#cc2,#cc2,#cc2,#bc2,#ac2,#bc2,#dc2,#dc2,#dc2,#6b4,#8b3,#ac2,#8c2,#9c2,#6c2,#6c2,#9c2,#ac2,#bc2,#dc2,#cc2,#8c2,#5b2,#7c2,#ac2,#6c2,#6c2,#ac2,#cc2,#8c2,#5b2,#7c2,#8c2,#5b3,#495,#5b4,#bc2,#cb2,#6b3,#6c2,#6c2,#6c2,#8c2,#7c2,#5b2,#9c2,#cc2,#bc2,#7c2,#6c2,#5b3,#5c2,#396,#396,#6c2,#9c2,#ac2,#ac2,#8c2,#5c2,#6c2,#7c2,#6c2,#9c2,#ac2,#8c2,#6c2,#ac2,#bc2,#bc2,#ac2,#8c2,#7c2,#5b3,#495,#7c2,#bc2,#8c2,#6c2,#9c2,#cc2,#cc2,#9c2,#8c2,#9c2,#9c2,#db2,#dc2,#ea2,#e82,#e92,#dc2,#cc2,#ac2,#9c2,#7c2,#7c2,#7c2,#bc2,#ea2,#ea2,#bc2,#8c2,#9c2,#bc2,#ac2,#9c2,#bc2,#dc2,#ec2,#cc2,#9c2,#ac2,#9c2,#5b2,#6c2,#ac2,#ac2,#7c2,#4b4,#5b4,#ac2,#cc2,#9c2,#7c2,#6b3,#4a5,#5b3)"></i>
<i style="top:192.82px;height:3.51px;background:linear-gradient(90deg,#4b3,#4b3,#4b3,#4b3,#4a4,#388,#389,#4a5,#6c2,#9c2,#cc2,#ac2,#8c2,#8c2,#7b3,#396,#6b3,#6c2,#4b3,#7c3,#dc2,#cc2,#dc2,#e92,#da2,#bc2,#8c2,#9c2,#dc2,#dc2,#bc2,#bc2,#bc2,#cc2,#cc2,#ac2,#bc2,#cc2,#bc2,#bc2,#bc2,#9c2,#bc2,#dc2,#dc2,#dc2,#7c2,#9c2,#ac2,#8c2,#9c2,#6c2,#6c2,#9c2,#ac2,#bc2,#cc2,#ac2,#6c2,#5b3,#8c2,#ac2,#6c2,#6c2,#bc2,#cc2,#8c2,#5b3,#7c2,#8c2,#5b3,#4a5,#5b3,#bc2,#bb2,#5a4,#6b3,#6c2,#6c2,#8c2,#7c2,#5b3,#9c2,#cc2,#bc2,#7c2,#7c2,#5b2,#5c2,#396,#397,#6b3,#ac2,#bc2,#bc2,#9c2,#6c2,#6c2,#7c2,#7c2,#ac2,#ac2,#7c2,#5b3,#9c2,#ac2,#bc2,#bc2,#8c2,#7c2,#5b4,#396,#7c3,#bc2,#8c2,#6c2,#ac2,#cc2,#cc2,#9c2,#7c2,#8c2,#ac2,#db2,#dc2,#ea2,#e82,#e92,#dc2,#cc2,#ac2,#9c2,#8c2,#7c2,#7c2,#bc2,#e92,#ea2,#dc2,#bc2,#ac2,#ac2,#ac2,#8c2,#bc2,#dc2,#dc2,#bc2,#9c2,#ac2,#8c2,#5c2,#7c2,#bc2,#bc2,#8c2,#5b2,#7c2,#cc2,#eb2,#ac2,#7c2,#5b3,#495,#5b3)"></i>
<i style="top:195.83px;height:3.51px;background:linear-gradient(90deg,#4b3,#4b3,#4b3,#4b4,#396,#289,#389,#4a5,#6c2,#9c2,#bc2,#9c2,#8c2,#8c2,#7b3,#4a5,#6b3,#6c2,#5b3,#8c2,#dc2,#cc2,#dc2,#e92,#db2,#ac2,#8c2,#9c2,#db2,#dc2,#bc2,#bc2,#bc2,#cc2,#cc2,#ac2,#bc2,#bc2,#9c2,#9c2,#ac2,#9c2,#bc2,#dc2,#dc2,#dc2,#bc2,#bc2,#ac2,#8c2,#9c2,#6c2,#6c2,#9c2,#ac2,#ac2,#ac2,#6c2,#5b2,#5c2,#9c2,#ac2,#6c2,#6c2,#bc2,#dc2,#8c2,#5b3,#7c2,#8c2,#5b3,#4a5,#5b3,#bc2,#bc2,#4a5,#6b3,#5b2,#5b2,#8c2,#7c2,#5b3,#9c2,#cc2,#bc2,#8c2,#8c2,#7c2,#6c2,#396,#387,#5b3,#9c2,#bc2,#bc2,#ac2,#7c2,#6c2,#7c2,#7c2,#bc2,#bc2,#7c2,#5b3,#7c2,#ac2,#bc2,#bc2,#9c2,#7c2,#4a4,#396,#7c3,#bc2,#8c2,#6c2,#ac2,#cc2,#cc2,#9c2,#6c2,#7c2,#ac2,#eb2,#dc2,#eb2,#e82,#ea2,#dc2,#cc2,#ac2,#9c2,#7c2,#7c2,#8c2,#dc2,#e82,#ea2,#dc2,#cc2,#ac2,#ac2,#9c2,#8c2,#bc2,#dc2,#dc2,#bc2,#9c2,#ac2,#7c2,#5c2,#7c2,#bc2,#cc2,#ac2,#8c2,#ac2,#eb2,#ea2,#ac2,#7c2,#5b4,#495,#5b3)"></i>
<i style="top:198.85px;height:3.51px;background:linear-gradient(90deg,#4b3,#4b3,#4b3,#4b4,#388,#27a,#388,#4a4,#6c2,#9c2,#9c2,#8c2,#7c2,#9c2,#7b3,#4a5,#7c2,#6c2,#5b2,#8c2,#dc2,#cc2,#dc2,#e92,#db2,#ac2,#8c2,#ac2,#ea2,#db2,#bc2,#bc2,#bc2,#dc2,#bc2,#ac2,#bc2,#bc2,#8c2,#8c2,#8c2,#8c2,#bc2,#dc2,#dc2,#dc2,#cc2,#cc2,#ac2,#9c2,#9c2,#6c2,#7c2,#9c2,#9c2,#9c2,#8c2,#5b3,#5b3,#8c2,#bc2,#ac2,#6c2,#6c2,#bc2,#cc2,#8c2,#5b3,#7c2,#8c2,#5b3,#4a5,#5b3,#ac2,#9c3,#4a6,#6b3,#5b3,#5b3,#8c2,#7c2,#5b3,#ac2,#cc2,#cc2,#ac2,#ac2,#9c2,#8c2,#396,#387,#5b3,#9c2,#bc2,#bc2,#bc2,#8c2,#7c2,#8c2,#7c2,#bc2,#bc2,#7c2,#5b3,#7c2,#9c2,#ac2,#bc2,#9c2,#7c2,#4a4,#396,#7c3,#ac2,#7c2,#7c2,#ac2,#dc2,#dc2,#9c2,#6c2,#7c2,#bc2,#eb2,#dc2,#dc2,#ea2,#ea2,#cc2,#cc2,#ac2,#8c2,#7c2,#8c2,#9c2,#db2,#e82,#ea2,#ec2,#cc2,#ac2,#ac2,#9c2,#8c2,#ac2,#cc2,#dc2,#bc2,#9c2,#ac2,#7c2,#5b2,#7c2,#cc2,#dc2,#dc2,#bc2,#bc2,#ea2,#e92,#9c2,#7c2,#5b4,#495,#5b3)"></i>
<i style="top:201.86px;height:3.51px;background:linear-gradient(90deg,#4b3,#4b3,#4b3,#4a4,#388,#289,#388,#4a4,#6c2,#9c2,#9c2,#8c2,#7c2,#8c2,#7c3,#4a4,#7c2,#7c2,#6c2,#ac2,#dc2,#dc2,#dc2,#ea2,#db2,#ac2,#8c2,#ac2,#ea2,#db2,#bc2,#bc2,#cc2,#dc2,#bc2,#ac2,#bc2,#bc2,#8c2,#8c2,#7c2,#8c2,#cc2,#dc2,#dc2,#dc2,#cc2,#cc2,#ac2,#9c2,#9c2,#7c2,#7c2,#ac2,#9c2,#9c2,#8c2,#4a4,#5b3,#ac2,#dc2,#9c2,#5b3,#6c2,#bc2,#cc2,#8c2,#5b3,#7c2,#8c2,#5b3,#4a4,#5b3,#9c2,#7b3,#396,#6c2,#5b3,#5b3,#8c2,#7c2,#5b3,#ac2,#cc2,#dc2,#cc2,#bc2,#ac2,#8c2,#396,#387,#4a4,#7c2,#bc2,#bc2,#cc2,#9c2,#7c2,#8c2,#8c2,#bc2,#bc2,#7c2,#5b3,#7c2,#8c2,#9c2,#ac2,#9c2,#7c2,#4a4,#396,#6c2,#9c2,#7c2,#7c2,#bc2,#dc2,#dc2,#ac2,#6c2,#7c2,#bc2,#eb2,#dc2,#cc2,#db2,#eb2,#cc2,#bc2,#ac2,#7c2,#7c2,#9c2,#ac2,#db2,#e82,#ea2,#ec2,#cc2,#ac2,#ac2,#9c2,#8c2,#8c2,#ac2,#cc2,#9c2,#8c2,#ac2,#7c2,#5b3,#7c3,#dc2,#dc2,#dc2,#bc2,#bc2,#ea2,#e92,#9c2,#8c2,#5b3,#4a5,#5b3)"></i>
<i style="top:204.87px;height:3.51px;background:linear-gradient(90deg,#4b3,#4b3,#4b3,#4a4,#387,#387,#396,#4a4,#6c2,#9c2,#8c2,#7c2,#7c2,#8c2,#7c3,#4a4,#8c2,#9c2,#9c2,#cc2,#dc2,#dc2,#dc2,#ea2,#db2,#ac2,#8c2,#ac2,#ea2,#dc2,#bc2,#bc2,#cc2,#db2,#ac2,#9c2,#bc2,#ac2,#8c2,#8c2,#7c2,#8c2,#cc2,#dc2,#dc2,#dc2,#cc2,#cc2,#ac2,#9c2,#ac2,#8c2,#9c2,#bc2,#9c2,#8c2,#8c2,#4a4,#5b3,#bc2,#dc2,#8b3,#4a5,#6c2,#cc2,#cc2,#7c2,#5b3,#7c2,#8c2,#5b3,#4b3,#6b2,#8c2,#6b3,#396,#7c2,#5b3,#5b3,#8c2,#7c2,#5b3,#9c2,#cc2,#dc2,#dc2,#bc2,#ac2,#8c2,#4a5,#396,#4a4,#7c2,#bc2,#cc2,#cc2,#9c2,#8c2,#8c2,#8c2,#bc2,#ac2,#7c2,#5b3,#7c2,#8c2,#8c2,#ac2,#9c2,#7c2,#4a5,#396,#6c2,#9c2,#6c2,#7c2,#bc2,#dc2,#dc2,#ac2,#7c2,#8c2,#cc2,#dc2,#cc2,#cc2,#dc2,#dc2,#bc2,#9c2,#9c2,#7c2,#8c2,#bc2,#cc2,#eb2,#ea2,#dc2,#dc2,#cc2,#ac2,#ac2,#9c2,#8c2,#7c2,#ac2,#bc2,#6c2,#8c2,#ac2,#7c2,#5b3,#7b3,#dc2,#dc2,#dc2,#bc2,#cc2,#ea2,#e92,#ac2,#8c2,#6c2,#4b3,#5b2)"></i>
<i style="top:207.89px;height:3.51px;background:linear-gradient(90deg,#4b3,#4b3,#4b3,#4a4,#387,#4a5,#4a5,#4a4,#6c2,#9c2,#8c2,#8c2,#7c2,#8c2,#8c2,#5b4,#9c2,#ac2,#db2,#db2,#cc2,#dc2,#cc2,#ea2,#cb2,#9c2,#8c2,#ac2,#ea2,#cc2,#bc2,#cc2,#dc2,#db2,#ac2,#9c2,#bc2,#ac2,#8c2,#8c2,#7c2,#ac2,#cc2,#cc2,#dc2,#ec2,#cc2,#cc2,#ac2,#ac2,#ac2,#8c2,#9c2,#bc2,#9c2,#9c2,#8c2,#4a4,#6b3,#bc2,#dc2,#7b3,#396,#6c2,#bc2,#cc2,#7c2,#5b3,#7c2,#9c2,#6c2,#5b3,#6c2,#8c2,#6b4,#496,#8c2,#6b3,#5b2,#8c2,#7c2,#5b3,#8c2,#ac2,#dc2,#dc2,#bc2,#ac2,#9c2,#6c2,#4b4,#4a4,#7c2,#bc2,#cc2,#cc2,#bc2,#ac2,#8c2,#8c2,#bc2,#ac2,#6c2,#5b3,#6c2,#7c2,#7c2,#ac2,#9c2,#7c2,#396,#396,#6c2,#8c2,#6c2,#7c2,#ac2,#cc2,#dc2,#ac2,#8c2,#9c2,#cc2,#cc2,#cc2,#cc2,#cc2,#cc2,#ac2,#6c2,#8c2,#7c2,#9c2,#cc2,#cc2,#dc2,#bc2,#ac2,#cc2,#cc2,#ac2,#ac2,#9c2,#8c2,#8c2,#ac2,#ac2,#6c2,#8c2,#ac2,#7c2,#5b3,#7c2,#dc2,#dc2,#ec2,#cc2,#cc2,#e92,#e92,#ac2,#ac2,#ac2,#7c2,#6c2)"></i>
<i style="top:210.90px;height:3.51px;background:linear-gradient(90deg,#4b3,#4b3,#4a4,#495,#387,#4a4,#4a5,#4b4,#7c2,#9c2,#8c2,#8c2,#7c2,#9c2,#8c2,#5b3,#ac2,#bc2,#d92,#da2,#cc2,#dc2,#cc2,#e92,#db2,#9c2,#7c2,#ac2,#ea2,#dc2,#bc2,#cc2,#dc2,#db2,#ac2,#9c2,#bc2,#ac2,#8c2,#8c2,#7c2,#ac2,#ac2,#ac2,#cc2,#ec2,#cc2,#cc2,#ac2,#ac2,#ac2,#8c2,#9c2,#bc2,#9c2,#9c2,#8c2,#4a4,#6b3,#bc2,#bc2,#6b4,#396,#6b3,#bc2,#cc2,#8c2,#5b3,#6c2,#8c2,#8c2,#5b2,#6c2,#9c2,#6b3,#4a5,#ac2,#6c2,#6c2,#9c2,#8c2,#4b3,#6c2,#8c2,#cc2,#dc2,#bc2,#ac2,#9c2,#ac2,#6b3,#4a4,#7c2,#ac2,#cc2,#dc2,#dc2,#bc2,#9c2,#9c2,#bc2,#9c2,#6c2,#5b3,#6c2,#7c2,#7c2,#9c2,#9c2,#6c2,#4a5,#4a4,#6c2,#8c2,#6c2,#7c2,#ac2,#bc2,#dc2,#ac2,#8c2,#ac2,#cc2,#cc2,#dc2,#cc2,#bc2,#bc2,#9c2,#5c2,#6c2,#6c2,#9c2,#cc2,#dc2,#dc2,#ac2,#9c2,#cc2,#cc2,#ac2,#bc2,#9c2,#9c2,#8c2,#ac2,#ac2,#6c2,#7c2,#ac2,#8c2,#5c2,#8c2,#db2,#eb2,#eb2,#cc2,#cc2,#ea2,#ea2,#ac2,#bc2,#dc2,#ac2,#7c2)"></i>
<i style="top:213.91px;height:3.51px;background:linear-gradient(90deg,#5b3,#4b3,#4a5,#396,#387,#4b4,#4a5,#5b3,#9c2,#9c2,#9c2,#8c2,#7c2,#9c2,#8c2,#5b3,#bc2,#cc2,#e92,#d92,#cc2,#cc2,#cc2,#e92,#db2,#8c2,#6c2,#ac2,#eb2,#dc2,#bc2,#cc2,#dc2,#db2,#9c2,#9c2,#bc2,#ac2,#8c2,#8c2,#7c2,#ac2,#7c2,#7c2,#cc2,#ec2,#cc2,#cc2,#ac2,#ac2,#ac2,#8c2,#9c2,#bc2,#9c2,#9c2,#8c2,#4b4,#6c2,#cc2,#ac2,#5a4,#396,#5b3,#9c2,#cc2,#8c2,#5b2,#5c2,#6c2,#8c2,#6c2,#6c2,#9c2,#6b3,#5b4,#bc2,#7c2,#6c2,#9c2,#8c2,#5b3,#6c2,#8c2,#cc2,#dc2,#bc2,#ac2,#ac2,#bc2,#7b3,#4b4,#6c2,#8c2,#cc2,#dc2,#dc2,#cc2,#ac2,#ac2,#bc2,#8c2,#6c2,#5b2,#6c2,#7c2,#6c2,#7c2,#8c2,#6c2,#4b3,#6c2,#7c2,#8c2,#6c2,#8c2,#ac2,#ac2,#dc2,#ac2,#9c2,#bc2,#dc2,#dc2,#dc2,#dc2,#bc2,#bc2,#ac2,#5b2,#5c2,#6c2,#ac2,#cc2,#dc2,#dc2,#ac2,#9c2,#cc2,#dc2,#bc2,#bc2,#ac2,#9c2,#9c2,#bc2,#ac2,#6c2,#8c2,#ac2,#ac2,#7c2,#8c2,#db2,#eb2,#eb2,#bc2,#bc2,#eb2,#db2,#bc2,#cc2,#eb2,#ac2,#7c2)"></i>
<i style="top:216.92px;height:3.51px;background:linear-gradient(90deg,#5b2,#5b3,#4a5,#396,#396,#4b4,#4a5,#7b3,#bc2,#ac2,#9c2,#8c2,#7c2,#9c2,#8c2,#5b3,#bc2,#dc2,#e82,#d92,#bc2,#cc2,#cc2,#e92,#db2,#8c2,#5b3,#ac2,#eb2,#dc2,#cc2,#cc2,#dc2,#db2,#9c2,#9c2,#ac2,#9c2,#9c2,#9c2,#8c2,#ac2,#7c3,#6c2,#cc2,#ec2,#cc2,#ac2,#9c2,#ac2,#ac2,#8c2,#9c2,#bc2,#9c2,#9c2,#8c2,#5b3,#8c2,#cc2,#9c2,#4a5,#397,#5b3,#9c2,#cc2,#8c2,#5c2,#5c2,#6c2,#8c2,#6c2,#6c2,#9c2,#7c2,#7c2,#cc2,#7c2,#5c2,#9c2,#9c2,#7c2,#6c2,#8c2,#cc2,#dc2,#ac2,#9c2,#ac2,#cc2,#7c2,#4b3,#5c2,#8c2,#cc2,#dc2,#dc2,#cc2,#ac2,#ac2,#ac2,#8c2,#6c2,#5c2,#6c2,#6c2,#6c2,#6c2,#8c2,#6c2,#5b3,#7c2,#6c2,#8c2,#6c2,#8c2,#ac2,#ac2,#dc2,#ac2,#bc2,#dc2,#dc2,#dc2,#dc2,#dc2,#cc2,#bc2,#ac2,#5c2,#5c2,#7c2,#bc2,#dc2,#cc2,#cc2,#ac2,#9c2,#db2,#dc2,#bc2,#cc2,#ac2,#ac2,#9c2,#bc2,#bc2,#6c2,#8c2,#bc2,#cc2,#9c2,#8c2,#cc2,#eb2,#db2,#9c2,#9c2,#db2,#eb2,#cc2,#dc2,#eb2,#cc2,#ac2)"></i>
<i style="top:219.94px;height:3.51px;background:linear-gradient(90deg,#5b2,#5b3,#4a5,#495,#4a5,#4b3,#396,#7b4,#dc2,#cc2,#9c2,#8c2,#7c2,#9c2,#7c3,#5b4,#bc2,#dc2,#e92,#da2,#bc2,#cc2,#cc2,#e92,#db2,#7b3,#6b3,#bc2,#cc2,#dc2,#cc2,#cc2,#dc2,#db2,#9c2,#8c2,#9c2,#ac2,#bc2,#cc2,#9c2,#ac2,#6b3,#6b3,#cc2,#dc2,#cc2,#ac2,#9c2,#ac2,#ac2,#8c2,#9c2,#bc2,#9c2,#9c2,#8c2,#5c2,#9c2,#cc2,#8c2,#4a5,#387,#5b3,#9c2,#cc2,#8c2,#5c2,#6c2,#6c2,#8c2,#6c2,#6c2,#9c2,#8c2,#9c2,#cc2,#8c2,#6c2,#9c2,#ac2,#8c2,#7c2,#8c2,#cc2,#cc2,#8c2,#6c2,#9c2,#cc2,#8c2,#4b3,#5c2,#8c2,#cc2,#bc2,#dc2,#cc2,#ac2,#bc2,#ac2,#8c2,#6c2,#5c2,#6c2,#6c2,#5b2,#6c2,#7c2,#6c2,#5b3,#7c2,#4b4,#7c2,#6c2,#8c2,#ac2,#ac2,#dc2,#bc2,#cc2,#dc2,#dc2,#dc2,#ec2,#dc2,#cc2,#bc2,#9c2,#5c2,#6c2,#9c2,#bc2,#dc2,#cc2,#bc2,#ac2,#ac2,#db2,#db2,#cc2,#cc2,#9c2,#9c2,#9c2,#bc2,#bc2,#8c2,#9c2,#cc2,#dc2,#bc2,#8c2,#bc2,#eb2,#dc2,#9c2,#9c2,#db2,#ea2,#dc2,#db2,#ea2,#dc2,#cc2)"></i>
<i style="top:222.95px;height:3.51px;background:linear-gradient(90deg,#5b2,#5b3,#4a5,#4a5,#4b3,#5b3,#396,#7b4,#dc2,#dc2,#ac2,#8c2,#7c2,#8c2,#7b3,#5b4,#ac2,#cc2,#e92,#da2,#ac2,#cc2,#cc2,#e92,#db2,#7b3,#6b3,#bc2,#9c2,#cc2,#cc2,#bc2,#cc2,#dc2,#9c2,#8c2,#9c2,#ac2,#dc2,#db2,#bc2,#bc2,#6b3,#6b3,#bc2,#dc2,#cc2,#9c2,#8c2,#ac2,#ac2,#8c2,#9c2,#bc2,#8c2,#8c2,#8c2,#6c2,#9c2,#ac2,#8c2,#4a5,#387,#5b3,#9c2,#cc2,#8c2,#5c2,#6c2,#6c2,#8c2,#6c2,#7c2,#ac2,#9c2,#9c2,#dc2,#ac2,#6c2,#9c2,#ac2,#9c2,#7c2,#8c2,#bc2,#bc2,#7b3,#4b4,#8c2,#cc2,#8c2,#5b3,#6c2,#8c2,#bc2,#ac2,#cc2,#cc2,#bc2,#bc2,#bc2,#9c2,#6c2,#5c2,#6c2,#5b2,#4a4,#5b2,#7c2,#6c2,#5b3,#6b3,#388,#5b4,#6c2,#8c2,#ac2,#ac2,#bc2,#ac2,#dc2,#dc2,#cc2,#dc2,#eb2,#dc2,#cc2,#ac2,#8c2,#6c2,#7c2,#ac2,#cc2,#dc2,#cc2,#bc2,#ac2,#ac2,#db2,#db2,#cc2,#bc2,#8c2,#9c2,#9c2,#bc2,#cc2,#ac2,#ac2,#cc2,#dc2,#cc2,#9c2,#bc2,#eb2,#cc2,#9c2,#ac2,#db2,#ea2,#dc2,#eb2,#ea2,#db2,#cc2)"></i>
<i style="top:225.96px;height:3.51px;background:linear-gradient(90deg,#5b2,#5b3,#4a5,#4a5,#4b3,#5b3,#397,#7b4,#dc2,#dc2,#ac2,#8c2,#6c2,#7c2,#6b3,#5b4,#9c2,#cc2,#ea2,#cb2,#9c2,#bc2,#eb2,#e82,#db2,#6b3,#6b4,#bc2,#8c2,#bc2,#bc2,#ac2,#bc2,#cc2,#9c2,#8c2,#8c2,#ac2,#dc2,#eb2,#dc2,#bc2,#6b3,#6b3,#bc2,#dc2,#cc2,#9c2,#8c2,#9c2,#ac2,#9c2,#9c2,#bc2,#7c2,#7c2,#8c2,#6c2,#8c2,#7c2,#6c2,#4a5,#387,#5b3,#9c2,#cc2,#8c2,#5c2,#5c2,#6c2,#8c2,#6c2,#7c2,#ac2,#ac2,#ac2,#dc2,#ac2,#7c2,#9c2,#ac2,#9c2,#7c2,#7c2,#8c2,#8c2,#6b3,#4a4,#8c2,#cc2,#8c2,#5b2,#6c2,#8c2,#cc2,#ac2,#cc2,#dc2,#bc2,#bc2,#bc2,#9c2,#7c2,#5c2,#6c2,#5a4,#289,#5b4,#6c2,#5b2,#5b3,#6b4,#27a,#4a5,#7c2,#9c2,#ac2,#ac2,#bc2,#ac2,#dc2,#cc2,#cc2,#ec2,#eb2,#dc2,#cc2,#bc2,#8c2,#7c2,#8c2,#bc2,#bc2,#bc2,#cc2,#bc2,#9c2,#ac2,#db2,#db2,#cc2,#bc2,#7c2,#9c2,#9c2,#bc2,#eb2,#dc2,#bc2,#dc2,#dc2,#cc2,#ac2,#bc2,#eb2,#dc2,#9c2,#ac2,#db2,#ea2,#dc2,#eb2,#ea2,#eb2,#cc2)"></i>
<i style="top:228.98px;height:3.51px;background:linear-gradient(90deg,#5b2,#5b3,#4a5,#4a5,#4b3,#4b3,#397,#7b4,#dc2,#db2,#ac2,#8c2,#5b2,#6c2,#6c2,#5b3,#8c2,#bc2,#db2,#bc2,#7c2,#ac2,#eb2,#e92,#cb2,#6b3,#6b4,#ac2,#7c2,#bc2,#bc2,#ac2,#8c2,#9c2,#8c2,#7c2,#8c2,#ac2,#dc2,#ea2,#dc2,#cc2,#6b3,#6b3,#bc2,#dc2,#cc2,#9c2,#6c2,#8c2,#ac2,#9c2,#ac2,#bc2,#6c2,#7c2,#8c2,#6c2,#8c2,#6c2,#5c2,#4a4,#396,#5b3,#9c2,#cc2,#8c2,#5c2,#5c2,#6c2,#9c2,#6c2,#7c2,#bc2,#ac2,#9c2,#dc2,#ac2,#7c2,#8c2,#ac2,#9c2,#7c2,#7c2,#7c2,#8c2,#6b3,#4a4,#8c2,#bc2,#8c2,#5c2,#7c2,#8c2,#cc2,#ac2,#cc2,#dc2,#bc2,#bc2,#bc2,#9c2,#7c2,#5c2,#6c2,#4a5,#27b,#4a4,#6c2,#5c2,#6b3,#6b4,#27b,#4a5,#ac2,#cc2,#ac2,#ac2,#bc2,#ac2,#dc2,#cc2,#cc2,#ea2,#eb2,#dc2,#dc2,#cc2,#ac2,#ac2,#ac2,#cc2,#bc2,#bc2,#cc2,#bc2,#7c2,#ac2,#eb2,#db2,#cc2,#cc2,#7c2,#9c2,#9c2,#bc2,#eb2,#dc2,#cc2,#dc2,#ec2,#cc2,#ac2,#bc2,#eb2,#dc2,#9c2,#ac2,#eb2,#e92,#dc2,#ec2,#ea2,#db2,#cc2)"></i>
<i style="top:231.99px;height:3.51px;background:linear-gradient(90deg,#5c2,#5b3,#4a5,#4a5,#4b3,#4b4,#388,#7b4,#dc2,#db2,#ac2,#8c2,#5b3,#5b3,#6c2,#5b2,#7c2,#9c2,#cc2,#ac2,#6c2,#8c2,#db2,#e92,#cb2,#6b4,#6a4,#ac2,#7c2,#bc2,#bc2,#9c2,#6c2,#6c2,#8c2,#6c2,#7c2,#ac2,#dc2,#ea2,#ec2,#dc2,#7c3,#6c2,#bc2,#dc2,#cc2,#9c2,#5b2,#7c2,#9c2,#9c2,#ac2,#bc2,#6b3,#7c2,#8c2,#6c2,#8c2,#6c2,#5c2,#4b4,#396,#5b3,#9c2,#cc2,#8c2,#5c2,#5c2,#6c2,#9c2,#7c2,#7c2,#bc2,#ac2,#9c2,#cc2,#ac2,#7c2,#7c2,#8c2,#9c2,#9c2,#7c2,#7c2,#8c2,#6b3,#4a4,#7c2,#9c2,#6c2,#5c2,#7c2,#9c2,#cc2,#ac2,#cc2,#dc2,#bc2,#bc2,#bc2,#9c2,#7c2,#6c2,#6c2,#4a5,#27b,#4a5,#6c2,#5c2,#5b2,#6b4,#27b,#4a5,#bc2,#dc2,#bc2,#bc2,#cc2,#cc2,#dc2,#cc2,#cc2,#ea2,#eb2,#dc2,#ec2,#cc2,#bc2,#cc2,#cc2,#dc2,#bc2,#cc2,#dc2,#bc2,#7c2,#bc2,#eb2,#eb2,#dc2,#cc2,#8c2,#9c2,#9c2,#bc2,#eb2,#eb2,#ec2,#ec2,#ec2,#cc2,#ac2,#bc2,#eb2,#dc2,#bc2,#bc2,#ea2,#e72,#db2,#dc2,#eb2,#eb2,#cc2)"></i>
<i style="top:235.00px;height:3.51px;background:linear-gradient(90deg,#5c2,#5b3,#4a5,#4a5,#4b4,#4a5,#388,#7b4,#dc2,#db2,#bc2,#9c2,#5b3,#5b3,#6c2,#5b3,#5c2,#8c2,#8c2,#8c2,#7c2,#7c2,#db2,#ea2,#cc2,#6b4,#6a4,#ac2,#7c2,#ac2,#bc2,#9c2,#6c2,#6b2,#8c2,#6c2,#6c2,#ac2,#cc2,#ea2,#ec2,#dc2,#8c2,#6c2,#ac2,#dc2,#dc2,#9c2,#5b3,#6b3,#9c2,#9c2,#ac2,#bc2,#6b3,#7c2,#8c2,#6c2,#8c2,#6c2,#5c2,#4b4,#396,#5b3,#8c2,#bc2,#9c2,#7c2,#6c2,#6c2,#9c2,#7c2,#7c2,#bc2,#bc2,#9c2,#bc2,#ac2,#6c2,#6c2,#6c2,#9c2,#ac2,#7c2,#7c2,#8c2,#7b3,#4a4,#7c2,#6c2,#5c2,#5c2,#7c2,#ac2,#cc2,#ac2,#cc2,#dc2,#cc2,#cc2,#cc2,#8c2,#7c2,#6c2,#5c2,#4a5,#27b,#5a4,#7c2,#5c2,#5b3,#5a4,#27b,#4a6,#bc2,#dc2,#cc2,#cc2,#cc2,#dc2,#ec2,#bc2,#bc2,#ea2,#eb2,#dc2,#eb2,#cc2,#cc2,#dc2,#dc2,#ec2,#cc2,#cc2,#dc2,#bc2,#7c2,#ac2,#dc2,#dc2,#ec2,#cc2,#8c2,#9c2,#9c2,#bc2,#eb2,#eb2,#eb2,#ec2,#dc2,#cc2,#ac2,#cc2,#eb2,#ec2,#dc2,#dc2,#e92,#f61,#db2,#cc2,#eb2,#eb2,#dc2)"></i>
<i style="top:238.01px;height:3.51px;background:linear-gradient(90deg,#5c2,#5b2,#4b4,#4a5,#4a4,#396,#289,#6a5,#dc2,#dc2,#bc2,#9c2,#6b3,#5b3,#6c2,#4b3,#5b3,#7c2,#7c2,#7c2,#7c2,#7c2,#db2,#eb2,#cc2,#6b3,#6b4,#ac2,#6c2,#9c2,#ac2,#9c2,#6c2,#5b3,#8c2,#6c2,#6c2,#9c2,#cc2,#ea2,#ec2,#ec2,#9c2,#5c2,#9c2,#dc2,#dc2,#9c2,#5b3,#5b3,#8c2,#9c2,#ac2,#bc2,#6c2,#6c2,#8c2,#6c2,#7c2,#6c2,#5c2,#4b3,#396,#4a4,#6c2,#9c2,#cc2,#ac2,#6c2,#6c2,#9c2,#7c2,#7c2,#bc2,#ac2,#9c2,#bc2,#9c2,#6c2,#5c2,#6c2,#8c2,#ac2,#8c2,#7c2,#8c2,#7b3,#4a4,#7c2,#6c2,#5c2,#6c2,#9c2,#cc2,#dc2,#ac2,#cc2,#dc2,#cc2,#ec2,#cc2,#9c2,#8c2,#7c2,#5c2,#4a5,#27b,#6b4,#8c2,#5c2,#4b3,#4a5,#17c,#4a6,#bc2,#ec2,#dc2,#dc2,#cc2,#eb2,#dc2,#ac2,#bc2,#ea2,#eb2,#dc2,#eb2,#dc2,#cc2,#ec2,#eb2,#eb2,#dc2,#dc2,#dc2,#bc2,#7c2,#ac2,#cc2,#cc2,#ec2,#dc2,#9c2,#9c2,#9c2,#bc2,#ec2,#ec2,#eb2,#dc2,#cc2,#cc2,#cc2,#db2,#ea2,#dc2,#db2,#eb2,#e92,#f51,#ea2,#dc2,#db2,#ea2,#eb2)"></i>
<i style="top:241.03px;height:3.51px;background:linear-gradient(90deg,#4b3,#5b3,#5b3,#4a5,#4a5,#396,#27a,#5a5,#bc2,#dc2,#ac2,#9c2,#6b4,#5b3,#6c2,#4b3,#5b3,#8c2,#7c2,#6c2,#7c2,#7c2,#dc2,#eb2,#cc2,#8c2,#7c2,#ac2,#6c2,#8c2,#9c2,#8c2,#6c2,#5b3,#7c2,#5c2,#6c2,#9c2,#cc2,#eb2,#ec2,#ec2,#ac2,#5c2,#7c2,#cc2,#dc2,#ac2,#5b3,#5b3,#8c2,#8c2,#ac2,#bc2,#6c2,#6c2,#9c2,#7c2,#7c2,#6c2,#5c2,#5b3,#396,#4a4,#5b2,#8c2,#cc2,#cc2,#7c2,#6c2,#9c2,#7c2,#7c2,#bc2,#ac2,#8c2,#ac2,#9c2,#6c2,#5c2,#5b3,#6c2,#9c2,#7c2,#6c2,#8c2,#7c2,#4b3,#7c2,#6c2,#6c2,#7c2,#9c2,#dc2,#dc2,#ac2,#cc2,#dc2,#dc2,#eb2,#dc2,#9c2,#8c2,#7c2,#5c2,#4a5,#27b,#6b4,#8c2,#6c2,#4b3,#4a5,#27b,#4a5,#bc2,#eb2,#ec2,#dc2,#dc2,#eb2,#bc2,#9c2,#bc2,#ea2,#ec2,#dc2,#eb2,#dc2,#dc2,#eb2,#eb2,#ec2,#dc2,#dc2,#dc2,#bc2,#7c2,#ac2,#cc2,#cc2,#eb2,#db2,#bc2,#ac2,#ac2,#cc2,#ec2,#dc2,#ec2,#dc2,#cc2,#cc2,#db2,#e92,#ea2,#dc2,#db2,#ea2,#e82,#f41,#e82,#dc2,#eb2,#ea2,#e92)"></i>
<i style="top:244.04px;height:3.51px;background:linear-gradient(90deg,#389,#397,#5b3,#495,#396,#387,#27a,#397,#8c2,#cc2,#ac2,#9c2,#6b4,#5b4,#6c2,#4b3,#5b3,#ac2,#8c2,#6c2,#6c2,#6c2,#cc2,#ec2,#cc2,#ac2,#bc2,#ac2,#6c2,#5c2,#7c2,#8c2,#6c2,#5b3,#7c2,#5b2,#6c2,#8c2,#bc2,#dc2,#dc2,#ec2,#ac2,#5c2,#6c2,#bc2,#dc2,#ac2,#6b3,#5b3,#8c2,#8c2,#9c2,#bc2,#7c2,#6c2,#9c2,#ac2,#8c2,#6c2,#5c2,#5b3,#396,#4a5,#5b3,#7c2,#cc2,#dc2,#8c2,#6c2,#9c2,#7c2,#9c2,#cc2,#ac2,#8c2,#ac2,#9c2,#6c2,#5c2,#4b3,#5b3,#9c2,#7c2,#7c2,#8c2,#8c2,#5b3,#8c2,#7c2,#7c2,#8c2,#9c2,#dc2,#dc2,#ac2,#cc2,#dc2,#dc2,#eb2,#dc2,#9c2,#9c2,#7c2,#5c2,#4a5,#27a,#6b4,#8c2,#5c2,#5b3,#4a4,#387,#5b4,#bc2,#ea2,#eb2,#ec2,#ec2,#eb2,#bc2,#9c2,#dc2,#ea2,#dc2,#cc2,#dc2,#ea2,#ea2,#eb2,#eb2,#cc2,#cc2,#dc2,#dc2,#bc2,#8c2,#bc2,#cc2,#cc2,#eb2,#ea2,#dc2,#bc2,#cc2,#cc2,#dc2,#dc2,#ec2,#dc2,#cc2,#dc2,#ea2,#e82,#e92,#dc2,#db2,#ea2,#e82,#f41,#e82,#dc2,#db2,#ea2,#e92)"></i>
<i style="top:247.05px;height:3.51px;background:linear-gradient(90deg,#27c,#389,#4b3,#396,#389,#388,#27b,#388,#6b3,#ac2,#ac2,#9c2,#6b4,#5b4,#6c2,#4b3,#5b3,#ac2,#9c2,#6c2,#6c2,#6c2,#cc2,#dc2,#cc2,#bc2,#bc2,#9c2,#7c2,#5c2,#6c2,#8c2,#6c2,#5b3,#7c2,#5b2,#5c2,#8c2,#8c2,#8c2,#cc2,#dc2,#ac2,#5c2,#5b3,#9c2,#dc2,#bc2,#6b3,#5b3,#8c2,#8c2,#9c2,#bc2,#7c2,#6c2,#ac2,#eb2,#ac2,#6c2,#5c2,#5b3,#396,#4a5,#5b3,#7c2,#cc2,#dc2,#9c2,#6c2,#9c2,#8c2,#ac2,#dc2,#ac2,#7c2,#ac2,#9c2,#6c2,#5b2,#4b4,#5b4,#9c2,#8c2,#8c2,#ac2,#8c2,#6c2,#9c2,#7c2,#8c2,#8c2,#9c2,#dc2,#cc2,#ac2,#cc2,#dc2,#dc2,#eb2,#dc2,#ac2,#9c2,#7c2,#5b2,#4a5,#27a,#7b4,#7c2,#5b2,#5b3,#4b3,#4a5,#8c2,#dc2,#ea2,#eb2,#ec2,#eb2,#ea2,#bc2,#9c2,#dc2,#eb2,#dc2,#cc2,#dc2,#ea2,#e92,#ea2,#eb2,#cc2,#cc2,#ec2,#dc2,#cc2,#9c2,#bc2,#dc2,#cc2,#ea2,#e92,#eb2,#cc2,#cc2,#cc2,#bc2,#dc2,#ec2,#dc2,#cc2,#dc2,#e92,#e82,#e92,#dc2,#db2,#ea2,#e92,#f41,#e82,#dc2,#dc2,#eb2,#e92)"></i>
<i style="top:250.07px;height:3.51px;background:linear-gradient(90deg,#16d,#28a,#4b3,#397,#27c,#27a,#27b,#28a,#5b4,#8c2,#9c2,#9c2,#6b3,#5b4,#7c2,#4b3,#5b3,#ac2,#9c2,#6c2,#6c2,#5c2,#ac2,#cc2,#cc2,#bc2,#bc2,#8c2,#7c2,#5c2,#6c2,#8c2,#6c2,#5b3,#7c2,#5b2,#5c2,#7c2,#6c2,#5b3,#ac2,#dc2,#ac2,#5c2,#5b3,#8c2,#dc2,#bc2,#6c2,#5b3,#7c2,#8c2,#9c2,#bc2,#8c2,#7c2,#ab2,#e92,#ac2,#7c2,#6c2,#5b3,#396,#4a5,#5b3,#7c2,#bc2,#dc2,#9c2,#6c2,#9c2,#8c2,#ac2,#dc2,#9c2,#7c2,#ac2,#9c2,#6c2,#5b2,#4b4,#4b4,#9c2,#8c2,#9c2,#bc2,#9c2,#6c2,#9c2,#8c2,#8c2,#8c2,#7c2,#dc2,#bc2,#9c2,#cc2,#ec2,#ec2,#eb2,#db2,#ac2,#9c2,#8c2,#5b3,#396,#289,#7b4,#7c2,#5b3,#5c2,#5b3,#4b4,#ac2,#eb2,#eb2,#ea2,#eb2,#ea2,#ea2,#bc2,#9c2,#dc2,#dc2,#dc2,#cc2,#cc2,#db2,#e92,#ea2,#ea2,#cc2,#cc2,#ec2,#dc2,#cc2,#bc2,#db2,#db2,#dc2,#ea2,#e92,#ea2,#dc2,#dc2,#cc2,#bc2,#dc2,#dc2,#dc2,#cc2,#db2,#e92,#e82,#e92,#dc2,#db2,#ea2,#ea2,#f61,#e82,#dc2,#bc2,#cc2,#ea2)"></i>
<i style="top:253.08px;height:3.51px;background:linear-gradient(90deg,#16d,#27a,#4b4,#388,#16d,#27b,#27c,#27a,#4a4,#7c2,#9c2,#9c2,#6b3,#6b3,#9c2,#5b3,#5b3,#ac2,#9c2,#6c2,#6c2,#5c2,#7c2,#bc2,#cc2,#bc2,#bc2,#8c2,#7c2,#6c2,#6c2,#9c2,#6c2,#5b3,#7c2,#5c2,#5c2,#7c2,#6c2,#4b3,#8c2,#dc2,#ac2,#5b2,#4b3,#7c2,#dc2,#bc2,#7c2,#6c2,#7c2,#8c2,#ac2,#bc2,#9c2,#8c2,#ab2,#e92,#ab2,#7c2,#7c2,#5b3,#396,#4a5,#5b3,#7c2,#bc2,#dc2,#9c2,#6c2,#9c2,#8c2,#ac2,#dc2,#8c2,#7c2,#ac2,#9c2,#6c2,#5b2,#4b3,#4b4,#8c2,#8c2,#ac2,#cc2,#ac2,#7c2,#9c2,#9c2,#9c2,#8c2,#7c2,#dc2,#bc2,#9c2,#bc2,#eb2,#eb2,#ea2,#eb2,#bc2,#ac2,#9c2,#5b3,#396,#389,#7b4,#7c2,#5b3,#6c2,#5c2,#4b4,#ab2,#dc2,#cc2,#ea2,#e92,#ea2,#ea2,#cc2,#ac2,#cc2,#cc2,#cc2,#cc2,#bc2,#cc2,#e92,#e92,#ea2,#cc2,#bc2,#dc2,#dc2,#cc2,#cc2,#ea2,#ea2,#cc2,#db2,#e92,#e92,#ea2,#eb2,#cc2,#ac2,#dc2,#dc2,#dc2,#dc2,#eb2,#e92,#e82,#e82,#db2,#dc2,#eb2,#eb2,#e92,#e92,#dc2,#ac2,#bc2,#ea2)"></i>
<i style="top:256.09px;height:3.51px;background:linear-gradient(90deg,#16d,#27a,#4a4,#388,#16d,#27c,#27c,#27a,#4a4,#7c2,#9c2,#9c2,#6c2,#7c2,#ac2,#6b3,#4b3,#ac2,#9c2,#6c2,#7c2,#6c2,#6c2,#ac2,#bc2,#bc2,#bc2,#7c2,#7c2,#6c2,#7c2,#ac2,#7c2,#5c2,#7c2,#6c2,#6c2,#7c2,#6c2,#4b4,#8c2,#cc2,#bc2,#6c2,#4b3,#7c2,#cc2,#bc2,#9c2,#8c2,#7c2,#6c2,#ac2,#ac2,#9c2,#8c2,#ac2,#e92,#bb2,#7c2,#7c2,#5b3,#387,#4a5,#5b3,#6c2,#bc2,#dc2,#9c2,#6c2,#8c2,#9c2,#ac2,#dc2,#8c2,#7c2,#ac2,#ac2,#6c2,#6c2,#6c2,#4b3,#7c2,#9c2,#bc2,#cc2,#ac2,#7c2,#ac2,#9c2,#9c2,#9c2,#7c2,#dc2,#cc2,#ac2,#bc2,#dc2,#ea2,#ea2,#eb2,#cc2,#bc2,#9c2,#6c2,#4a5,#388,#7b4,#8c2,#5b2,#7c2,#6c2,#4b3,#ab2,#db2,#cc2,#e92,#e72,#e82,#ea2,#cc2,#ac2,#cc2,#cc2,#cc2,#cc2,#ac2,#bc2,#ea2,#e92,#e92,#cb2,#ac2,#dc2,#dc2,#cc2,#cc2,#ea2,#e92,#cc2,#cc2,#e92,#e92,#e92,#ea2,#cc2,#ac2,#dc2,#dc2,#dc2,#ea2,#e82,#e82,#e82,#e82,#db2,#dc2,#eb2,#dc2,#eb2,#ea2,#dc2,#ac2,#bc2,#eb2)"></i>
<i style="top:259.10px;height:3.51px;background:linear-gradient(90deg,#16d,#27b,#4a4,#397,#16d,#17c,#17c,#27b,#4a5,#7c2,#9c2,#9c2,#7c2,#7c2,#bc2,#6c2,#4b3,#ac2,#ac2,#7c2,#8c2,#8c2,#6c2,#9c2,#bc2,#ac2,#ac2,#7c2,#7c2,#5c2,#7c2,#ac2,#7c2,#6c2,#7c2,#7c2,#6c2,#7c2,#6c2,#4b4,#7c2,#bc2,#bc2,#6c2,#5b3,#7c2,#cc2,#bc2,#9c2,#9c2,#8c2,#6c2,#9c2,#ac2,#8c2,#8c2,#ac2,#e92,#bb2,#7c2,#7c2,#5b3,#397,#495,#5b3,#6c2,#ac2,#dc2,#9c2,#6c2,#8c2,#9c2,#ac2,#dc2,#8c2,#7c2,#bc2,#ac2,#6c2,#7c2,#8c2,#5b3,#5c2,#9c2,#cc2,#dc2,#ac2,#7c2,#ac2,#9c2,#ac2,#ac2,#8c2,#cc2,#cc2,#ac2,#ac2,#cc2,#eb2,#dc2,#dc2,#cc2,#cc2,#bc2,#6c2,#4a4,#387,#7b4,#8c2,#5c2,#7c2,#7c2,#5b3,#ab2,#db2,#cc2,#e82,#f51,#e72,#e92,#dc2,#bc2,#dc2,#cc2,#cc2,#cc2,#ac2,#bc2,#ea2,#ea2,#ea2,#bb2,#9c2,#cc2,#cc2,#bc2,#cc2,#ea2,#e92,#dc2,#cc2,#ea2,#e92,#e92,#ea2,#cc2,#ac2,#dc2,#dc2,#dc2,#e82,#f61,#e82,#e92,#e92,#db2,#cc2,#eb2,#dc2,#dc2,#ec2,#cc2,#ac2,#bc2,#dc2)"></i>
<i style="top:262.12px;height:3.51px;background:linear-gradient(90deg,#16e,#27b,#4a4,#396,#16c,#16d,#16d,#27b,#4a5,#6c2,#9c2,#8c2,#6c2,#7c2,#bc2,#6c2,#4b3,#9c2,#bc2,#9c2,#9c2,#8c2,#6c2,#7c2,#ac2,#ac2,#ac2,#7c2,#7c2,#5c2,#7c2,#ac2,#7c2,#6c2,#7c2,#7c2,#7c2,#7c2,#6c2,#4b4,#7c2,#bc2,#bc2,#9c2,#7c2,#7c2,#cc2,#cc2,#9c2,#ac2,#9c2,#6c2,#9c2,#ac2,#8c2,#8c2,#9c2,#e92,#bb2,#7c2,#8c2,#7c3,#396,#4a5,#5c2,#6c2,#9c2,#bc2,#9c2,#6c2,#8c2,#9c2,#ac2,#dc2,#9c2,#7c2,#bc2,#bc2,#6c2,#7c2,#9c2,#6c2,#5c2,#9c2,#dc2,#dc2,#bc2,#7c2,#ac2,#ac2,#ac2,#bc2,#8c2,#bc2,#cc2,#bc2,#ac2,#cc2,#eb2,#cc2,#cc2,#cc2,#dc2,#cc2,#6c2,#4b4,#396,#7b3,#9c2,#6c2,#8c2,#8c2,#5b2,#ab2,#db2,#db2,#f71,#f41,#f61,#e82,#db2,#cc2,#dc2,#cc2,#cc2,#bc2,#ac2,#ac2,#db2,#eb2,#ea2,#bc2,#9c2,#bc2,#bc2,#bc2,#cc2,#da2,#e92,#dc2,#cc2,#ea2,#ea2,#ea2,#ea2,#cc2,#ac2,#dc2,#dc2,#dc2,#e82,#f51,#e92,#eb2,#e92,#db2,#cc2,#eb2,#dc2,#dc2,#dc2,#bc2,#ac2,#ac2,#dc2)"></i>
<i style="top:265.13px;height:3.51px;background:linear-gradient(90deg,#16e,#17b,#4a4,#4a5,#27b,#16d,#16d,#27b,#495,#6c2,#9c2,#8c2,#6c2,#7c2,#ac2,#7c2,#4a4,#8c3,#bc2,#9c2,#ac2,#9c2,#6c2,#5b3,#7c2,#9c2,#ac2,#7c2,#6c2,#6c2,#7c2,#ac2,#8c2,#6c2,#7c2,#7c2,#7c2,#7c2,#6c2,#4b3,#7c2,#bc2,#dc2,#dc2,#ac2,#8c2,#cc2,#cc2,#9c2,#ac2,#9c2,#6c2,#9c2,#ac2,#8c2,#7c2,#9c2,#ea2,#ab2,#6c2,#9c2,#8c2,#495,#4b4,#6c2,#6c2,#8c2,#ac2,#9c2,#6c2,#8c2,#9c2,#ac2,#dc2,#9c2,#7c2,#bc2,#bc2,#6c2,#6c2,#ac2,#8c2,#7c2,#9c2,#dc2,#dc2,#bc2,#7c2,#9c2,#ac2,#ac2,#cc2,#8c2,#bc2,#cc2,#bc2,#bc2,#cc2,#eb2,#cc2,#cc2,#cc2,#dc2,#cc2,#6b3,#4b3,#4a5,#7b3,#ac2,#6c2,#8c2,#9c2,#7c2,#ab2,#eb2,#db2,#f61,#f31,#f51,#e72,#ea2,#cc2,#cc2,#cc2,#bc2,#bc2,#ac2,#9c2,#bc2,#dc2,#eb2,#cc2,#ac2,#bc2,#ac2,#ac2,#bc2,#db2,#e92,#dc2,#cc2,#eb2,#cc2,#db2,#da2,#bc2,#bc2,#dc2,#cc2,#dc2,#e82,#f51,#eb2,#ec2,#ea2,#db2,#cc2,#eb2,#cc2,#dc2,#dc2,#bc2,#bc2,#ac2,#dc2)"></i>
<i style="top:268.14px;height:3.51px;background:linear-gradient(90deg,#16d,#27b,#4a4,#5b3,#28a,#16e,#16e,#27c,#396,#6c2,#8c2,#7c2,#6c2,#7c2,#ac2,#7c2,#4a4,#7b3,#ac2,#9c2,#ac2,#9c2,#6c2,#4a4,#5b3,#ac2,#ac2,#7c2,#6c2,#6c2,#8c2,#ac2,#8c2,#6c2,#7c2,#7c2,#8c2,#9c2,#7c2,#4b3,#7c2,#ac2,#dc2,#eb2,#cc2,#9c2,#cc2,#bc2,#8c2,#ac2,#9c2,#6c2,#8c2,#ac2,#8c2,#7c2,#8c2,#da2,#ab2,#6c2,#9c2,#9c2,#4a5,#6b3,#7c2,#7c2,#7c2,#ac2,#ac2,#6c2,#7c2,#9c2,#ac2,#dc2,#9c2,#8c2,#bc2,#bc2,#6b2,#6b3,#ac2,#bc2,#8c2,#9c2,#cc2,#cc2,#9c2,#6c2,#9c2,#ac2,#ac2,#dc2,#9c2,#bc2,#cc2,#cc2,#dc2,#cc2,#ea2,#dc2,#cc2,#cc2,#dc2,#cc2,#6b3,#5b3,#4b3,#8c2,#bc2,#7c2,#9c2,#ac2,#ac2,#cc2,#db2,#db2,#f61,#f21,#f41,#f71,#e92,#cc2,#cc2,#cc2,#bc2,#bc2,#bc2,#9c2,#9c2,#cc2,#eb2,#dc2,#bc2,#bc2,#7c2,#8c2,#bc2,#db2,#e92,#dc2,#bc2,#db2,#cc2,#cc2,#db2,#bc2,#dc2,#dc2,#cc2,#dc2,#e92,#f51,#ea2,#ec2,#ea2,#db2,#cc2,#eb2,#cc2,#dc2,#dc2,#cc2,#bc2,#bc2,#cc2)"></i>
<i style="top:271.16px;height:3.51px;background:linear-gradient(90deg,#27b,#289,#4a4,#5c2,#289,#16e,#16e,#17c,#397,#5b3,#8c2,#7c2,#5c2,#6c2,#ac2,#7c2,#4a4,#5b3,#7c2,#9c2,#ac2,#9c2,#6c2,#4a5,#5a4,#ac2,#9c2,#7c2,#6c2,#7c2,#9c2,#ac2,#8c2,#6c2,#7c2,#7c2,#8c2,#ac2,#8c2,#5b2,#7c2,#ac2,#dc2,#eb2,#dc2,#ac2,#cc2,#bc2,#8c2,#9c2,#9c2,#6c2,#8c2,#ac2,#8c2,#7c2,#8c2,#bc2,#8c2,#5c2,#8c2,#9c2,#4a4,#7b3,#8c2,#7c2,#7c2,#ac2,#ac2,#6c2,#7c2,#9c2,#ac2,#dc2,#ac2,#7c2,#bc2,#bc2,#5b3,#5b3,#ac2,#bc2,#9c2,#9c2,#cc2,#cc2,#8c2,#5c2,#9c2,#ac2,#ac2,#dc2,#bc2,#bc2,#cc2,#dc2,#dc2,#dc2,#ea2,#dc2,#cc2,#cc2,#dc2,#db2,#7c2,#5b3,#6c2,#ac2,#dc2,#ac2,#ac2,#ac2,#bc2,#bc2,#cc2,#db2,#f61,#f20,#f41,#f61,#e92,#dc2,#cc2,#cc2,#bc2,#bc2,#bc2,#9c2,#8c2,#bc2,#ec2,#dc2,#cc2,#cc2,#6b3,#7c2,#bc2,#dc2,#ea2,#dc2,#bc2,#db2,#bc2,#bc2,#db2,#bc2,#db2,#dc2,#bc2,#cc2,#ea2,#f51,#ea2,#ec2,#ea2,#db2,#cc2,#ec2,#cc2,#dc2,#dc2,#cc2,#cc2,#bc2,#cc2)"></i>
<i style="top:274.17px;height:3.51px;background:linear-gradient(90deg,#388,#387,#4a4,#5c2,#388,#16e,#16e,#27b,#388,#4a5,#6b3,#7c2,#5c2,#6c2,#9c2,#7c2,#4a4,#4a4,#6c2,#8c2,#9c2,#9c2,#6c2,#4a5,#5a5,#ac2,#9c2,#7c2,#5b2,#6c2,#9c2,#ac2,#7c2,#5c2,#6c2,#7c2,#8c2,#ac2,#9c2,#6c2,#7c2,#ac2,#cc2,#eb2,#dc2,#bc2,#db2,#cb2,#8c2,#9c2,#9c2,#6c2,#8c2,#ac2,#8c2,#7c2,#7c2,#9c2,#7c2,#5b2,#9c2,#9c2,#5b4,#7b3,#8c2,#7c2,#7c2,#9c2,#ac2,#7c2,#7c2,#9c2,#9c2,#dc2,#ac2,#7c2,#bc2,#bc2,#6b3,#5b3,#ac2,#bc2,#9c2,#9c2,#cc2,#cc2,#8c2,#5c2,#8c2,#bc2,#ac2,#dc2,#dc2,#cc2,#dc2,#eb2,#eb2,#dc2,#eb2,#dc2,#dc2,#dc2,#dc2,#db2,#8c2,#5b2,#7c2,#bc2,#eb2,#bc2,#ac2,#ac2,#bc2,#bc2,#bc2,#db2,#f61,#f20,#f31,#f61,#e82,#dc2,#cc2,#cc2,#bc2,#ac2,#bc2,#ac2,#8c2,#bc2,#dc2,#cc2,#bc2,#cc2,#7b3,#6b3,#bc2,#dc2,#eb2,#dc2,#bc2,#dc2,#bc2,#ac2,#dc2,#bc2,#db2,#dc2,#ac2,#9c2,#cb2,#f61,#e92,#ec2,#eb2,#db2,#cc2,#cc2,#bc2,#cc2,#dc2,#dc2,#ec2,#cc2,#cc2)"></i>
<i style="top:277.18px;height:3.51px;background:linear-gradient(90deg,#387,#387,#4a4,#5c2,#397,#16e,#16d,#27a,#388,#289,#4a5,#6c2,#5c2,#5c2,#8c2,#7c2,#4a5,#4a5,#5c2,#8c2,#9c2,#9c2,#6b3,#396,#4a5,#ac2,#9c2,#7c2,#5b3,#5b3,#9c2,#ac2,#6b2,#5b3,#6c2,#6c2,#8c2,#ac2,#9c2,#7c2,#8c2,#9c2,#cc2,#eb2,#dc2,#cc2,#db2,#cb2,#8c2,#9c2,#9c2,#7c2,#8c2,#ac2,#8c2,#8c2,#7c2,#8c2,#7c2,#5b2,#9c2,#ac2,#6b3,#7c2,#9c2,#7c2,#7c2,#9c2,#ac2,#7c2,#7c2,#9c2,#9c2,#dc2,#ac2,#7c2,#bc2,#bc2,#6b3,#5b3,#9c2,#cc2,#ac2,#9c2,#cc2,#cc2,#9c2,#5c2,#8c2,#bc2,#ac2,#dc2,#eb2,#dc2,#dc2,#eb2,#eb2,#dc2,#dc2,#dc2,#dc2,#dc2,#dc2,#eb2,#9c2,#6c2,#8c2,#cc2,#ea2,#cc2,#ac2,#bc2,#cc2,#bc2,#bc2,#db2,#f61,#f31,#f51,#f51,#e71,#db2,#cc2,#cc2,#bc2,#ac2,#bc2,#bc2,#8c2,#ac2,#cc2,#bc2,#bc2,#cc2,#7b3,#6b3,#bc2,#dc2,#eb2,#dc2,#bc2,#bc2,#ac2,#9c2,#dc2,#bc2,#cb2,#db2,#ac2,#8c2,#bc2,#e92,#ea2,#ec2,#eb2,#eb2,#bc2,#8c2,#7c2,#ac2,#dc2,#dc2,#eb2,#cc2,#cc2)"></i>
<i style="top:280.19px;height:3.51px;background:linear-gradient(90deg,#387,#387,#4a5,#5c2,#397,#16e,#16e,#27a,#388,#27a,#397,#5b3,#5c2,#5c2,#7c2,#5b3,#4a5,#4a5,#5b2,#7c2,#9c2,#8c2,#5b3,#387,#496,#9c2,#9c2,#7c2,#5b3,#5b3,#8c2,#9c2,#5b4,#4a4,#5c2,#5c2,#7c2,#ac2,#9c2,#7c2,#7c2,#9c2,#cc2,#eb2,#dc2,#bc2,#dc2,#cb2,#8c2,#9c2,#9c2,#9c2,#9c2,#9c2,#8c2,#8c2,#7c2,#8c2,#7c2,#5b2,#9c2,#bc2,#9c2,#8c2,#9c2,#7c2,#7c2,#9c2,#ac2,#7c2,#7c2,#9c2,#9c2,#db2,#ac2,#7c2,#ac2,#bc2,#6c2,#4b3,#9c2,#cc2,#ac2,#9c2,#cc2,#cc2,#ac2,#6c2,#8c2,#cc2,#cc2,#dc2,#eb2,#dc2,#dc2,#eb2,#ea2,#dc2,#dc2,#dc2,#dc2,#dc2,#dc2,#eb2,#ac2,#7c2,#9c2,#dc2,#ea2,#dc2,#bc2,#bc2,#cc2,#bc2,#bc2,#dc2,#e71,#f51,#f61,#f61,#f71,#db2,#cc2,#cc2,#bc2,#ac2,#ac2,#bc2,#8c2,#ac2,#cc2,#bc2,#bc2,#cc2,#7b3,#6b3,#bc2,#dc2,#ec2,#dc2,#bc2,#ac2,#8c2,#8c2,#dc2,#bc2,#cc2,#db2,#ac2,#8c2,#bc2,#ea2,#ea2,#dc2,#dc2,#eb2,#cc2,#7c2,#5c2,#9c2,#dc2,#dc2,#eb2,#cc2,#bc2)"></i>
<i style="top:283.21px;height:3.51px;background:linear-gradient(90deg,#387,#387,#495,#5b2,#397,#16d,#16e,#27a,#389,#27b,#289,#4a4,#5b2,#6c2,#6c2,#4a4,#388,#396,#5b3,#6c2,#8c2,#8c2,#5b3,#388,#397,#9c2,#9c2,#7c2,#5b3,#4b4,#7c2,#7c2,#4a5,#4a5,#4b3,#4b3,#6c2,#9c2,#9c2,#7c2,#7c2,#9c2,#cc2,#ec2,#dc2,#bc2,#cc2,#db2,#8c2,#8c2,#9c2,#ac2,#ac2,#9c2,#8c2,#8c2,#7c2,#8c2,#7c2,#5b2,#9c2,#bc2,#ac2,#9c2,#9c2,#8c2,#7c2,#8c2,#9c2,#7c2,#6c2,#9c2,#9c2,#db2,#bc2,#7c2,#9c2,#bc2,#6c2,#4b3,#9c2,#cc2,#bc2,#9c2,#bc2,#cc2,#ac2,#6c2,#8c2,#cc2,#dc2,#dc2,#eb2,#dc2,#dc2,#eb2,#ea2,#eb2,#ec2,#dc2,#cc2,#eb2,#cc2,#dc2,#bc2,#8c2,#ac2,#dc2,#ea2,#db2,#bc2,#cc2,#dc2,#cc2,#bc2,#dc2,#ea2,#e72,#f71,#f61,#f71,#ea2,#cc2,#cc2,#bc2,#ac2,#ac2,#ac2,#8c2,#ac2,#cc2,#bc2,#bc2,#dc2,#8b3,#6b3,#bc2,#dc2,#dc2,#dc2,#bc2,#9c2,#8c2,#9c2,#dc2,#bc2,#cc2,#eb2,#bc2,#8c2,#bc2,#ea2,#e82,#eb2,#dc2,#eb2,#cc2,#7c2,#5c2,#9c2,#dc2,#dc2,#eb2,#cc2,#bc2)"></i>
<i style="top:286.22px;height:3.51px;background:linear-gradient(90deg,#387,#387,#396,#5b3,#396,#16d,#16e,#27b,#389,#27b,#27a,#4a5,#5b3,#7c2,#7c2,#396,#27b,#397,#4b3,#5b3,#6c2,#7c2,#5b3,#388,#397,#8c3,#9c2,#7c2,#5b3,#4a4,#7c2,#6c2,#4a5,#4a5,#4b3,#4a4,#5b3,#9c2,#9c2,#7c2,#7c2,#9c2,#cc2,#ec2,#dc2,#bc2,#cc2,#db2,#8c2,#8c2,#8c2,#ac2,#bc2,#9c2,#8c2,#8c2,#7c2,#8c2,#8c2,#5b2,#8c2,#ac2,#ac2,#9c2,#ac2,#ac2,#8c2,#6c2,#8c2,#7c2,#6b2,#9c2,#9c2,#cb2,#bc2,#7c2,#9c2,#bc2,#7c2,#4b3,#9c2,#cc2,#bc2,#9c2,#bc2,#cc2,#bc2,#7c2,#7c2,#cc2,#dc2,#dc2,#ec2,#ec2,#eb2,#eb2,#e92,#eb2,#eb2,#dc2,#bc2,#eb2,#dc2,#dc2,#cc2,#9c2,#ac2,#db2,#e92,#eb2,#cc2,#cc2,#dc2,#cc2,#bc2,#cc2,#cc2,#db2,#e82,#e72,#f71,#ea2,#dc2,#dc2,#bc2,#bc2,#bc2,#bc2,#9c2,#ac2,#cc2,#bc2,#cc2,#dc2,#9c2,#6c2,#bc2,#dc2,#dc2,#dc2,#bc2,#9c2,#8c2,#ac2,#dc2,#cc2,#cc2,#ec2,#cc2,#9c2,#bc2,#ea2,#e72,#e92,#dc2,#eb2,#dc2,#8c2,#5c2,#8c2,#cc2,#dc2,#eb2,#dc2,#bc2)"></i>
<i style="top:289.23px;height:3.51px;background:linear-gradient(90deg,#387,#387,#397,#4b4,#396,#16d,#16e,#27b,#289,#27b,#27b,#396,#4a5,#7c2,#7c2,#396,#27c,#388,#4a4,#396,#4a4,#6c2,#5b3,#387,#387,#8b3,#9c2,#6c2,#5b3,#4a5,#6c2,#6c2,#4a5,#496,#4b4,#4a5,#5b3,#8c2,#9c2,#7c2,#7c2,#8c2,#cc2,#dc2,#cc2,#ac2,#cc2,#dc2,#8c2,#8c2,#8c2,#9c2,#bc2,#9c2,#8c2,#8c2,#7c2,#8c2,#8c2,#5b2,#7c2,#9c2,#9c2,#8c2,#9c2,#cc2,#ac2,#5b3,#6b3,#6c2,#5b3,#9c2,#9c2,#cc2,#bc2,#8c2,#ac2,#bc2,#7c2,#5b3,#9c2,#bc2,#9c2,#9c2,#bc2,#cc2,#cc2,#7c2,#7c2,#cc2,#dc2,#cc2,#dc2,#ec2,#eb2,#eb2,#e82,#ea2,#eb2,#db2,#bc2,#eb2,#dc2,#dc2,#dc2,#bc2,#bc2,#dc2,#e92,#eb2,#cc2,#cc2,#dc2,#ac2,#9c2,#bc2,#bc2,#cc2,#e92,#e82,#e72,#ea2,#ea2,#ea2,#cc2,#bc2,#cc2,#bc2,#ac2,#ac2,#cc2,#bc2,#dc2,#dc2,#bc2,#9c2,#bc2,#dc2,#dc2,#dc2,#bc2,#9c2,#8c2,#ac2,#dc2,#cc2,#bc2,#dc2,#cc2,#9c2,#ac2,#da2,#e72,#e92,#dc2,#dc2,#dc2,#8c2,#5c2,#8c2,#cc2,#dc2,#db2,#db2,#bc2)"></i>
<i style="top:292.25px;height:3.51px;background:linear-gradient(90deg,#397,#387,#388,#496,#397,#16d,#16d,#27b,#389,#27a,#27b,#387,#387,#6b3,#7c2,#496,#17c,#388,#4a4,#387,#396,#5c2,#6b3,#396,#495,#7c2,#8c2,#6c2,#5b3,#4a5,#5b3,#5c2,#4a5,#396,#4b4,#4a5,#4b3,#7c2,#8c2,#6c2,#6c2,#8c2,#bc2,#cc2,#bc2,#ac2,#bc2,#dc2,#9c2,#8c2,#8c2,#9c2,#bc2,#9c2,#8c2,#7c2,#7c2,#7c2,#7c2,#5b3,#7c2,#8c2,#8c2,#7c2,#6c2,#bc2,#ac2,#5b4,#4a4,#5b3,#4a4,#8c2,#8c2,#bc2,#bc2,#8c2,#bc2,#bc2,#7c2,#5c2,#8c2,#bc2,#8c2,#8c2,#bc2,#cc2,#cc2,#8c2,#7c2,#bc2,#dc2,#cc2,#cc2,#ec2,#eb2,#ea2,#e71,#e92,#eb2,#db2,#cc2,#ea2,#db2,#dc2,#dc2,#bc2,#cc2,#dc2,#ea2,#eb2,#cc2,#cc2,#dc2,#9c2,#8c2,#bc2,#ac2,#bc2,#ea2,#e92,#e82,#ea2,#ea2,#e92,#cc2,#bc2,#cc2,#bc2,#ac2,#ac2,#bc2,#bc2,#dc2,#dc2,#cc2,#cc2,#cc2,#dc2,#bc2,#bc2,#bc2,#9c2,#8c2,#ac2,#dc2,#cc2,#ac2,#cc2,#dc2,#ac2,#ac2,#db2,#e82,#e82,#cc2,#dc2,#dc2,#9c2,#5c2,#8c2,#cc2,#dc2,#ea2,#ea2,#bc2)"></i>
<i style="top:295.26px;height:3.51px;background:linear-gradient(90deg,#396,#396,#289,#27a,#27a,#16d,#16d,#27b,#388,#289,#27c,#388,#388,#6b4,#7c2,#4a6,#16c,#289,#4a5,#388,#388,#5b3,#6c2,#396,#4a5,#6c2,#7c2,#5c2,#5b3,#396,#496,#4b3,#4a5,#396,#4a4,#495,#4a4,#6c2,#7c2,#6c2,#6c2,#8c2,#bc2,#cc2,#ac2,#ac2,#ac2,#cc2,#ac2,#9c2,#8c2,#9c2,#bc2,#9c2,#8c2,#8c2,#7c2,#6c2,#6c2,#5b3,#6c2,#8c2,#8c2,#7c2,#5b3,#ac2,#bc2,#6b4,#4a5,#4b3,#4a4,#7c2,#8c2,#ac2,#bc2,#7c2,#ac2,#bc2,#8c2,#5c2,#8c2,#bc2,#8c2,#8c2,#ac2,#dc2,#dc2,#9c2,#7c2,#bc2,#dc2,#cc2,#bc2,#dc2,#eb2,#e92,#f61,#e81,#ea2,#ea2,#cc2,#da2,#db2,#dc2,#dc2,#cc2,#dc2,#cc2,#db2,#db2,#bc2,#cc2,#dc2,#9c2,#7c2,#9c2,#9c2,#9c2,#db2,#ea2,#e92,#ea2,#eb2,#e92,#cc2,#bc2,#cc2,#ac2,#8c2,#9c2,#9c2,#9c2,#cc2,#dc2,#cc2,#dc2,#cc2,#dc2,#9c2,#8c2,#bc2,#ac2,#9c2,#ac2,#dc2,#dc2,#ac2,#cc2,#dc2,#cc2,#cc2,#eb2,#e92,#e92,#cc2,#cc2,#dc2,#ac2,#7c2,#9c2,#dc2,#dc2,#e92,#e81,#cc2)"></i>
<i style="top:298.27px;height:3.51px;background:linear-gradient(90deg,#4a5,#4a4,#388,#16c,#27c,#16d,#16d,#27b,#396,#396,#27b,#388,#389,#5a4,#7c2,#4a5,#16c,#27a,#4a5,#388,#388,#5b3,#5c2,#396,#4a5,#5b2,#5b3,#5b3,#5c2,#396,#27a,#396,#4a5,#397,#4a4,#495,#4a4,#6c2,#6c2,#6c2,#7c2,#7c2,#ac2,#bc2,#ac2,#ac2,#ac2,#9c2,#9c2,#9c2,#8c2,#8c2,#bc2,#ac2,#9c2,#8c2,#7c2,#5b2,#5c2,#4b3,#6b3,#8c2,#7c2,#7c2,#4b4,#9c2,#bc2,#6b3,#495,#4b4,#4a5,#7c3,#7c2,#8c2,#9c2,#5b3,#9c2,#bc2,#9c2,#5c2,#7c2,#bc2,#8c2,#8c2,#ac2,#dc2,#eb2,#ac2,#7c2,#ac2,#dc2,#cc2,#bc2,#bc2,#db2,#e82,#f51,#f71,#e92,#e82,#cb2,#da2,#db2,#dc2,#dc2,#cc2,#dc2,#cc2,#dc2,#db2,#bc2,#bc2,#dc2,#9c2,#7c2,#8c2,#8c2,#8c2,#cc2,#eb2,#eb2,#dc2,#eb2,#e92,#cc2,#bc2,#cc2,#ac2,#8c2,#9c2,#8c2,#8c2,#bc2,#dc2,#cc2,#dc2,#cc2,#dc2,#9c2,#7c2,#cc2,#cc2,#bc2,#bc2,#dc2,#db2,#ac2,#bc2,#dc2,#cc2,#dc2,#ec2,#db2,#ea2,#cc2,#bc2,#dc2,#dc2,#bc2,#dc2,#ec2,#dc2,#ea2,#e71,#cb2)"></i>
<i style="top:301.28px;height:3.51px;background:linear-gradient(90deg,#4b4,#5b3,#4a6,#16d,#17c,#16d,#16d,#27b,#4a5,#5b3,#389,#388,#289,#5a5,#7c2,#4a5,#17c,#27b,#396,#397,#289,#4b4,#5c2,#4a5,#4a5,#5b3,#5b3,#5b4,#8c2,#4a6,#27b,#397,#4a4,#396,#4a4,#4a5,#4a4,#5c2,#6c2,#5b3,#8c2,#7c2,#9c2,#bc2,#ac2,#9c2,#ac2,#7c2,#7c2,#9c2,#8c2,#8c2,#bc2,#ac2,#9c2,#9c2,#8c2,#5b3,#5b3,#4b3,#5b3,#7c2,#7c2,#6c2,#4a4,#9c2,#bc2,#6b3,#396,#4a4,#4a5,#6b3,#7c2,#7c2,#9c2,#4a5,#8c3,#bc2,#9c2,#5c2,#7c2,#bc2,#8c2,#8c2,#9c2,#cc2,#eb2,#bc2,#7c2,#ac2,#dc2,#cc2,#bc2,#bc2,#db2,#e82,#f51,#f61,#e92,#f51,#da2,#db2,#db2,#cc2,#dc2,#cc2,#dc2,#cc2,#cc2,#dc2,#ac2,#bc2,#dc2,#9c2,#7c2,#7c2,#8c2,#7c2,#bc2,#dc2,#dc2,#bc2,#dc2,#ea2,#cb2,#bc2,#cc2,#ac2,#7c2,#9c2,#8c2,#8c2,#bc2,#dc2,#cc2,#dc2,#dc2,#dc2,#ac2,#6c2,#cc2,#cc2,#dc2,#dc2,#dc2,#db2,#ac2,#bc2,#dc2,#cc2,#dc2,#dc2,#cc2,#ea2,#db2,#cc2,#db2,#ea2,#dc2,#dc2,#eb2,#ec2,#ea2,#f71,#db2)"></i>
<i style="top:304.30px;height:3.51px;background:linear-gradient(90deg,#4a4,#5b3,#5a5,#16c,#17c,#27b,#27b,#27a,#4b4,#5c2,#496,#387,#289,#4a6,#7c2,#5b4,#27b,#27b,#396,#397,#289,#4a4,#5c2,#4a4,#4a5,#4b3,#4b3,#4a4,#9c2,#5a5,#27b,#388,#4a4,#495,#4a4,#4a4,#4b3,#6c2,#6c2,#5b3,#8c2,#6b4,#7b3,#bc2,#ac2,#9c2,#ac2,#7c2,#6c2,#9c2,#8c2,#7c2,#ac2,#ac2,#8c2,#8c2,#ac2,#5b3,#5b3,#4b3,#4b3,#6c2,#6c2,#5c2,#4a5,#8c3,#bc2,#7b3,#396,#4a4,#4a5,#6b3,#6b3,#5a5,#8c2,#496,#7b4,#cc2,#ac2,#6c2,#6c2,#ac2,#9c2,#8c2,#7c2,#9c2,#db2,#bc2,#7c2,#9c2,#cc2,#cc2,#bc2,#bc2,#db2,#e82,#f61,#f61,#e92,#f51,#e92,#db2,#db2,#bc2,#dc2,#cc2,#dc2,#cc2,#bc2,#dc2,#ac2,#ac2,#bc2,#8c2,#6c2,#7c2,#7c2,#8c2,#bc2,#dc2,#dc2,#ac2,#dc2,#ea2,#cb2,#ac2,#cc2,#bc2,#8c2,#9c2,#9c2,#7c2,#ac2,#dc2,#cc2,#dc2,#ec2,#eb2,#ac2,#6c2,#cc2,#dc2,#dc2,#dc2,#dc2,#eb2,#bc2,#bc2,#cc2,#cc2,#cc2,#dc2,#cc2,#da2,#ea2,#cc2,#db2,#e82,#db2,#dc2,#eb2,#eb2,#ea2,#f71,#da2)"></i>
<i style="top:307.31px;height:3.51px;background:linear-gradient(90deg,#4a4,#5b3,#5b4,#17b,#16c,#27a,#27a,#27a,#4b4,#6c2,#4a4,#396,#289,#496,#7c2,#5b3,#28a,#27c,#397,#396,#27a,#4a5,#6c2,#5b3,#4b4,#4b3,#4b3,#4a4,#9c2,#6a4,#27b,#289,#4a4,#4a5,#4a5,#5b3,#7c2,#8c2,#7c2,#5b3,#8c2,#6a4,#5a5,#ac2,#ac2,#9c2,#9c2,#7c2,#6c2,#8c2,#7c2,#6c2,#8c2,#9c2,#8c2,#7c2,#ac2,#6b3,#5b3,#4b3,#4b4,#6c2,#6c2,#5b3,#4a5,#7b3,#bc2,#7c2,#396,#4a4,#4a4,#7b3,#9b3,#4a6,#8c2,#496,#7b4,#dc2,#cc2,#6c2,#6c2,#ac2,#9c2,#8c2,#6b3,#5b4,#cb2,#cc2,#7c2,#9c2,#cc2,#cc2,#cc2,#bc2,#dc2,#e92,#f71,#f61,#e92,#f51,#e71,#eb2,#dc2,#ac2,#dc2,#dc2,#dc2,#bc2,#bc2,#dc2,#ac2,#9c2,#ac2,#7c2,#6c2,#7c2,#8c2,#cc2,#dc2,#cc2,#cc2,#ac2,#cc2,#ea2,#cb2,#ac2,#cc2,#cc2,#8c2,#9c2,#9c2,#7c2,#9c2,#dc2,#cc2,#dc2,#ec2,#eb2,#bc2,#6b3,#bc2,#dc2,#dc2,#eb2,#dc2,#eb2,#cc2,#cc2,#dc2,#cc2,#cc2,#dc2,#cc2,#da2,#ea2,#cc2,#dc2,#e82,#eb2,#dc2,#eb2,#eb2,#ea2,#f71,#e92)"></i>
<i style="top:310.32px;height:3.51px;background:linear-gradient(90deg,#4a5,#5b4,#6b3,#27b,#16d,#27a,#289,#27a,#4a4,#6c2,#5b4,#396,#389,#397,#7c2,#6c2,#388,#27b,#397,#396,#289,#4a5,#6c2,#6c2,#4b3,#4b3,#4b3,#4a4,#8c2,#7b4,#27a,#27a,#4a5,#4a5,#396,#6b4,#bc2,#bc2,#8c2,#5b3,#7c2,#6b4,#496,#8c2,#9c2,#9c2,#9c2,#7c2,#6c2,#8c2,#7c2,#5b2,#7c2,#9c2,#8c2,#6c2,#9c2,#6b3,#4b3,#4b3,#4b4,#6c2,#6c2,#5b3,#4a5,#6b3,#bc2,#8c2,#495,#4a4,#4b3,#8c2,#ac2,#4a6,#8c2,#5a6,#6a5,#cc2,#db2,#7c2,#5c2,#ac2,#ac2,#8c2,#7b3,#4a5,#bb2,#cb2,#8c2,#8c2,#cc2,#cc2,#dc2,#bc2,#cc2,#e92,#e72,#f71,#ea2,#f71,#f61,#ea2,#dc2,#ac2,#cc2,#ec2,#dc2,#bc2,#ac2,#cc2,#ac2,#9c2,#9c2,#7c2,#6c2,#7c2,#8c2,#ca2,#ea2,#cc2,#bc2,#9c2,#cc2,#eb2,#dc2,#ac2,#cc2,#eb2,#ac2,#9c2,#ac2,#7c2,#9c2,#db2,#dc2,#cc2,#dc2,#eb2,#cc2,#6b3,#ac2,#dc2,#dc2,#eb2,#dc2,#eb2,#cc2,#dc2,#db2,#bc2,#bc2,#dc2,#cc2,#db2,#e92,#cc2,#cc2,#e92,#ea2,#dc2,#eb2,#eb2,#eb2,#e82,#e82)"></i>
<i style="top:313.34px;height:3.51px;background:linear-gradient(90deg,#4a5,#4a4,#6c2,#28a,#16d,#27a,#289,#27b,#4a5,#6c2,#5b3,#396,#389,#389,#6b3,#6c2,#396,#27b,#388,#495,#388,#396,#6b2,#6c2,#4b3,#4b3,#4b3,#4a4,#8b3,#8b3,#27a,#27b,#4a5,#4a4,#397,#6a5,#cc2,#dc2,#8c2,#5b3,#7c3,#7b4,#397,#6b3,#8c2,#8c2,#9c2,#8c2,#5c2,#7c2,#6c2,#5b3,#6b2,#8c2,#8c2,#6c2,#9c2,#7c2,#4b3,#4b3,#4b4,#6c2,#6c2,#5b2,#4a5,#6b4,#bc2,#8c2,#4a5,#4a4,#5c2,#8c2,#bc2,#496,#7b3,#5a5,#496,#bc2,#dc2,#8c2,#5b3,#9c2,#bc2,#ac2,#8c2,#4a5,#ab3,#db2,#8c2,#7c2,#cc2,#dc2,#eb2,#cc2,#cc2,#ea2,#e82,#e82,#ea2,#e82,#f61,#ea2,#dc2,#9c2,#cc2,#eb2,#dc2,#cc2,#ac2,#cc2,#ac2,#9c2,#9c2,#7c2,#6c2,#7c2,#7c2,#ca2,#e92,#cc2,#ac2,#9c2,#bc2,#ec2,#dc2,#ac2,#cc2,#ea2,#bb2,#9c2,#ac2,#7c2,#8c2,#db2,#db2,#ac2,#bc2,#eb2,#db2,#6b4,#8b3,#dc2,#cc2,#eb2,#dc2,#dc2,#cc2,#cc2,#ea2,#bc2,#bc2,#dc2,#cc2,#cb2,#e92,#dc2,#dc2,#e92,#e92,#dc2,#ec2,#eb2,#eb2,#eb2,#eb2)"></i>
<i style="top:316.35px;height:3.51px;background:linear-gradient(90deg,#396,#4a5,#6c2,#389,#16d,#27a,#289,#27c,#4a6,#6c2,#5b3,#495,#289,#27b,#5b4,#6c2,#4a5,#27a,#289,#4a5,#396,#396,#5b3,#6c2,#5b3,#4b3,#4b3,#4a5,#7b3,#8c3,#289,#27b,#496,#4a4,#396,#5a5,#cc2,#dc2,#9c2,#5b3,#6b3,#7b3,#387,#5b4,#7c2,#8c2,#8c2,#8c2,#5c2,#6c2,#6c2,#5b3,#5b3,#8c2,#8c2,#6c2,#8c2,#8c2,#4b3,#5b3,#4b3,#5c2,#6c2,#5b2,#4a4,#5b4,#ac2,#8c2,#4a5,#5a4,#7c2,#8c2,#cc2,#596,#6b4,#6a5,#397,#8c2,#dc2,#8c2,#4b4,#8c2,#cc2,#bc2,#8c2,#4a5,#9b3,#db2,#8c2,#6c2,#bc2,#dc2,#eb2,#db2,#cc2,#ea2,#e92,#e92,#eb2,#ea2,#f71,#ea2,#cc2,#9c2,#bc2,#ec2,#dc2,#dc2,#bc2,#cc2,#cc2,#ac2,#9c2,#8c2,#6c2,#6c2,#7c2,#cb2,#e82,#cc2,#ac2,#9c2,#bc2,#ec2,#dc2,#bc2,#bc2,#ea2,#cb2,#ac2,#ac2,#7c2,#7c2,#cb2,#db2,#ac2,#ac2,#dc2,#dc2,#6a5,#6a5,#cc2,#dc2,#ec2,#dc2,#dc2,#cc2,#cc2,#ea2,#bc2,#ac2,#cc2,#dc2,#db2,#e92,#db2,#dc2,#e92,#e92,#dc2,#cc2,#eb2,#eb2,#dc2,#dc2)"></i>
<i style="top:319.36px;height:3.51px;background:linear-gradient(90deg,#397,#495,#6c2,#497,#17c,#27a,#389,#17c,#397,#6c2,#5b3,#4a5,#389,#16c,#4a5,#6c2,#4a4,#27a,#27a,#4a5,#4a5,#396,#5b4,#6c2,#5b3,#5b3,#5b3,#4a5,#6b4,#8c2,#398,#27a,#495,#4a4,#396,#495,#bc2,#dc2,#9c2,#4b3,#6b3,#7c2,#397,#4a4,#7c2,#7c2,#7c2,#7c2,#5c2,#5c2,#6c2,#5b3,#5b3,#7c2,#8c2,#6c2,#7c2,#8c2,#5c2,#5b2,#5b3,#5c2,#6c2,#5b2,#4a4,#5b4,#ac2,#8c2,#4a4,#5a4,#8c2,#8c2,#cc2,#6a6,#4a6,#5a4,#388,#7b3,#dc2,#7b3,#396,#7b3,#cc2,#bc2,#9c2,#4a5,#8b4,#dc2,#8c2,#5b3,#ac2,#dc2,#eb2,#eb2,#dc2,#eb2,#ea2,#ea2,#db2,#db2,#e82,#eb2,#cc2,#9c2,#ac2,#ec2,#dc2,#dc2,#dc2,#dc2,#dc2,#bc2,#8c2,#8c2,#6c2,#6c2,#9c2,#db2,#e82,#cb2,#ac2,#9c2,#ac2,#dc2,#ec2,#dc2,#cc2,#db2,#da2,#bc2,#ac2,#7c2,#5c2,#ac2,#db2,#bc2,#ac2,#dc2,#dc2,#7a5,#496,#bc2,#dc2,#ec2,#dc2,#cc2,#bc2,#cc2,#ea2,#bc2,#9c2,#cc2,#dc2,#eb2,#e92,#db2,#cc2,#ea2,#ea2,#cc2,#9c2,#cb2,#eb2,#dc2,#cc2)"></i>
<i style="top:322.37px;height:3.51px;background:linear-gradient(90deg,#388,#387,#6b3,#5b4,#388,#389,#388,#17c,#398,#5c2,#5b3,#4a5,#388,#16d,#497,#6c2,#5b4,#289,#27b,#4a5,#4a4,#396,#4a4,#6c2,#5b2,#5b3,#4b3,#4a5,#5a4,#8c2,#397,#388,#4a4,#4b4,#495,#496,#ac2,#dc2,#8b3,#4a4,#5b3,#7c2,#397,#4a5,#6c2,#7c2,#6c2,#6c2,#5c2,#5c2,#6c2,#5b3,#5b3,#7c2,#9c2,#6c2,#6c2,#ac2,#9c2,#6c2,#5b2,#5c2,#6c2,#5c2,#4b3,#4b4,#9c2,#9c2,#5a4,#4a5,#8c2,#8c2,#cc2,#7a5,#396,#4a4,#388,#6b3,#cc2,#8b3,#396,#6b3,#bc2,#cc2,#ac2,#5a4,#6a4,#cc2,#8c2,#5b3,#9c2,#cc2,#db2,#ea2,#dc2,#eb2,#eb2,#eb2,#dc2,#cc2,#eb2,#eb2,#cc2,#9c2,#9c2,#dc2,#dc2,#dc2,#dc2,#dc2,#dc2,#bc2,#7c2,#7c2,#7c2,#6c2,#9c2,#db2,#e82,#cb2,#9c2,#ac2,#cc2,#dc2,#ec2,#ec2,#cc2,#db2,#ea2,#cc2,#bc2,#7c2,#5b3,#9c2,#db2,#bc2,#ac2,#cc2,#ec2,#8b4,#397,#7c2,#bc2,#dc2,#dc2,#cc2,#bc2,#bc2,#ea2,#cb2,#9c2,#bc2,#dc2,#eb2,#e92,#bb2,#ac2,#dc2,#dc2,#cc2,#8c2,#bc2,#eb2,#dc2,#cc2)"></i>
<i style="top:325.39px;height:3.51px;background:linear-gradient(90deg,#27a,#289,#5a4,#6c2,#4a5,#387,#387,#27b,#389,#5b3,#4b3,#4a5,#387,#16c,#388,#6c2,#5b3,#389,#27b,#4a5,#4b3,#396,#4a4,#6c2,#5c2,#5b3,#4b3,#4a5,#4a5,#6c2,#4a5,#396,#4b3,#4b3,#4a5,#396,#9c2,#dc2,#9b3,#4a4,#6c2,#7c2,#397,#496,#6c2,#7c2,#5b3,#4a4,#5b2,#6c2,#5c2,#5b3,#4b3,#7c2,#9c2,#7c2,#5b3,#8c2,#bc2,#8c2,#5c2,#6c2,#7c2,#5c2,#5b3,#4b3,#9c2,#ac2,#5b3,#4a5,#8c2,#8c2,#bc2,#9b3,#4a4,#4b4,#387,#5a4,#bc2,#9b3,#397,#5b4,#bc2,#cc2,#bc2,#6b3,#5a4,#bc2,#9c2,#5b3,#8c2,#cc2,#dc2,#ea2,#dc2,#eb2,#eb2,#ec2,#dc2,#bc2,#dc2,#dc2,#cc2,#ac2,#9c2,#dc2,#dc2,#dc2,#dc2,#dc2,#cc2,#bc2,#7c2,#8c2,#8c2,#7c2,#8c2,#db2,#e82,#cb2,#9c2,#bc2,#cc2,#dc2,#ec2,#ec2,#dc2,#dc2,#ea2,#cc2,#bc2,#8c2,#5b3,#8c2,#dc2,#cc2,#ac2,#bc2,#dc2,#ac3,#387,#5b4,#ac2,#dc2,#cc2,#bc2,#bc2,#bc2,#db2,#cb2,#9c2,#bc2,#dc2,#eb2,#eb2,#bc2,#9c2,#dc2,#dc2,#cc2,#9c2,#ac2,#eb2,#dc2,#cc2)"></i>
</div>
<div class="cb" style="left:441.4px;top:392.9px;width:27.5px;height:330.2px;background:linear-gradient(180deg,#ff1000 0.00%,#ff2008 5.00%,#ff4a10 10.00%,#f87018 15.00%,#f09020 20.00%,#eeb020 25.00%,#e6d01e 30.00%,#c8d420 35.00%,#a8d020 40.00%,#80cc20 45.00%,#58c820 50.00%,#48b838 55.00%,#40a850 57.50%,#389868 60.00%,#308880 62.50%,#2880a0 65.00%,#2078b8 67.50%,#1870d0 70.00%,#1068e0 72.50%,#0860f0 75.00%,#0850d8 77.50%,#0840b8 80.00%,#083498 82.50%,#082880 85.00%,#082068 87.50%,#081858 90.00%,#081048 95.00%,#080838 100.00%)"></div>
<div class="hm" style="left:88.3px;top:766.6px;width:328.2px;height:328.3px">
<i style="top:0.00px;height:3.51px;background:linear-gradient(90deg,#4a4,#4a5,#289,#389,#4a5,#4a5,#388,#388,#388,#397,#4a5,#5b2,#5c2,#5b2,#5b2,#4a5,#388,#388,#5b4,#7c2,#6c2,#5c2,#5b3,#4b4,#4b3,#4b4,#6c2,#5b3,#4a5,#6c2,#8c2,#9c2,#6c2,#6c2,#6c2,#6c2,#8c2,#6b3,#4b4,#6c2,#7c2,#7c2,#8c2,#9c2,#ac2,#cc2,#dc2,#bc2,#6c2,#7c2,#7c2,#5c2,#5b2,#6c2,#8c2,#ac2,#9c2,#7c2,#7c2,#6c2,#7c2,#7c2,#5c2,#4a4,#387,#495,#4b3,#4a4,#4b3,#5c2,#7c2,#8c2,#7c2,#7c2,#9c2,#8c2,#6c2,#5c2,#8c2,#ac2,#7c2,#9c2,#bc2,#9c2,#8c2,#ac2,#ac2,#8c2,#4a4,#397,#4a5,#5c2,#5c2,#6c2,#7c2,#5b3,#4a5,#5b3,#5c2,#6c2,#4a5,#396,#4b3,#5b2,#6c2,#6c2,#5c2,#5b3,#4b3,#6c2,#8c2,#7c2,#5b3,#4a4,#396,#387,#4a4,#4b4,#5b3,#6c2,#6c2,#5b2,#5b2,#5b2,#6c2,#7c2,#5b2,#4a4,#4a4,#5b3,#5b2,#7c2,#8c2,#8c2,#6c2,#5b3,#4a5,#4a5,#6b2,#8c2,#9c2,#ac2,#7c2,#5b3,#5c2,#8c2,#bc2,#bc2,#7c2,#5b3,#4a5,#4b4,#6c2,#7c2,#7c2,#ac2,#cc2,#bc2,#ac2,#8c2,#7c2,#6c2,#6c2,#5c2,#5c2)"></i>
<i style="top:3.01px;height:3.51px;background:linear-gradient(90deg,#4a4,#396,#27a,#388,#4a5,#396,#289,#289,#388,#396,#4a4,#6c2,#5b2,#5b2,#4b3,#396,#389,#388,#5b3,#7c2,#6c2,#5c2,#5b3,#4b3,#4b3,#5b3,#7c2,#4a4,#4a4,#6c2,#9c2,#8c2,#6c2,#6c2,#6c2,#6c2,#7c2,#5b4,#5b3,#6c2,#7c2,#7c2,#8c2,#9c2,#bc2,#cc2,#dc2,#9c2,#6c2,#8c2,#6c2,#5b2,#5b3,#6c2,#9c2,#ac2,#9c2,#7c2,#7c2,#6c2,#7c2,#6c2,#5b3,#4a5,#387,#4a4,#4b3,#4a4,#5b3,#6c2,#7c2,#8c2,#7c2,#8c2,#9c2,#7c2,#6c2,#6c2,#ac2,#9c2,#7c2,#ac2,#bc2,#9c2,#9c2,#ac2,#ac2,#7c2,#4a5,#396,#4b4,#5c2,#5c2,#7c2,#7c2,#4a4,#4a4,#5c2,#6c2,#5b2,#396,#4a5,#5b3,#5c2,#6c2,#6c2,#5c2,#5b3,#4b3,#6c2,#8c2,#6c2,#4b4,#4a4,#397,#396,#4b3,#4b3,#6c2,#6c2,#5c2,#5b2,#5b2,#5b2,#6c2,#6c2,#5b3,#4a5,#4a4,#5b3,#6c2,#8c2,#8c2,#8c2,#6c2,#4a4,#396,#4b4,#6c2,#8c2,#9c2,#9c2,#6c2,#5b3,#6c2,#9c2,#cc2,#ac2,#6c2,#4b3,#4a4,#5b3,#7c2,#7c2,#8c2,#bc2,#cc2,#bc2,#9c2,#7c2,#6c2,#6c2,#6c2,#5c2,#5b2)"></i>
<i style="top:6.02px;height:3.51px;background:linear-gradient(90deg,#4a5,#397,#27a,#387,#495,#388,#27a,#289,#388,#495,#5b3,#6c2,#5b3,#5b3,#4a4,#397,#289,#396,#6c2,#7c2,#6c2,#5c2,#4b3,#4b3,#4b4,#6b3,#6c2,#4a5,#5b3,#7c2,#9c2,#7c2,#6c2,#7c2,#6c2,#7c2,#6c2,#4a4,#5b3,#6c2,#6c2,#6c2,#8c2,#ac2,#cc2,#dc2,#cc2,#8c2,#6c2,#8c2,#5c2,#4b3,#5b3,#7c2,#ac2,#ac2,#9c2,#7c2,#7c2,#7c2,#7c2,#5c2,#4b3,#396,#397,#4b4,#4b3,#4b4,#5c2,#6c2,#8c2,#8c2,#7c2,#9c2,#9c2,#7c2,#6c2,#7c2,#ac2,#7c2,#7c2,#bc2,#ac2,#9c2,#9c2,#bc2,#9c2,#5b3,#396,#495,#5b3,#5c2,#5c2,#7c2,#6b2,#4a5,#5b3,#5c2,#6c2,#5b4,#397,#4a4,#5b2,#5c2,#6c2,#6c2,#6c2,#4b3,#4b3,#6c2,#7c2,#5b3,#4a4,#4a5,#397,#4a5,#5b3,#5b2,#7c2,#6c2,#5b2,#5b3,#5b3,#5b2,#6c2,#5c2,#4b4,#4a5,#4b4,#5b2,#7c2,#9c2,#8c2,#8c2,#6c2,#4a5,#4a5,#5b3,#7c2,#7c2,#8c2,#8c2,#5c2,#5c2,#7c2,#ac2,#cc2,#8c2,#5c2,#4b3,#4b4,#6c2,#8c2,#8c2,#ac2,#cc2,#cc2,#ac2,#9c2,#7c2,#6c2,#6c2,#6c2,#5c2,#5b3)"></i>
<i style="top:9.04px;height:3.51px;background:linear-gradient(90deg,#397,#389,#27a,#397,#396,#27a,#27a,#27a,#387,#4a4,#5b2,#6c2,#5b3,#5b3,#4a5,#387,#289,#4a5,#7c2,#7c2,#5c2,#5b2,#4b3,#4b3,#4b4,#7c2,#6b3,#4a5,#5c2,#8c2,#9c2,#7c2,#8c2,#7c2,#6c2,#7c2,#6b3,#4a4,#5c2,#6c2,#6c2,#6c2,#8c2,#bc2,#cc2,#dc2,#bc2,#6c2,#7c2,#7c2,#5b3,#4b3,#5b2,#8c2,#bc2,#ac2,#8c2,#7c2,#7c2,#7c2,#6c2,#5c2,#4a4,#387,#396,#4b3,#4b3,#4b3,#5c2,#7c2,#8c2,#8c2,#8c2,#9c2,#8c2,#6c2,#6c2,#9c2,#ac2,#6c2,#9c2,#bc2,#9c2,#9c2,#ac2,#bc2,#8c2,#4b4,#396,#4a4,#5b2,#5b2,#6c2,#7c2,#5b3,#4a5,#5b2,#6c2,#6c2,#4a5,#397,#4b3,#5c2,#6c2,#6c2,#6c2,#5b2,#4a4,#4b4,#6c2,#6c2,#4a4,#4a4,#4a5,#396,#4b3,#5b2,#6c2,#7c2,#6c2,#5b3,#5b3,#4b3,#5c2,#6c2,#5b3,#4a4,#4a5,#4b3,#6c2,#8c2,#9c2,#9c2,#8c2,#5b3,#396,#4a4,#6c2,#7c2,#7c2,#8c2,#7c2,#5c2,#6c2,#8c2,#bc2,#bc2,#7c2,#5b2,#4b3,#5b3,#7c2,#8c2,#8c2,#bc2,#dc2,#cc2,#ac2,#8c2,#6c2,#6c2,#6c2,#6c2,#5b3,#5b3)"></i>
<i style="top:12.05px;height:3.51px;background:linear-gradient(90deg,#289,#27a,#27a,#387,#388,#27b,#27b,#279,#396,#4b4,#6c2,#5c2,#4b3,#4b3,#495,#388,#389,#5b4,#8c2,#7c2,#5c2,#5b3,#4b3,#4b4,#5b3,#7c2,#5a4,#4a4,#6c2,#8c2,#8c2,#7c2,#9c2,#7c2,#6c2,#7c2,#5b4,#4a4,#6c2,#6c2,#6c2,#7c2,#9c2,#cc2,#dc2,#cc2,#ac2,#6c2,#8c2,#6c2,#4b3,#4b3,#6c2,#9c2,#bc2,#ac2,#8c2,#8c2,#8c2,#8c2,#6c2,#5c2,#4a5,#397,#4a4,#5b3,#4b3,#5b3,#6c2,#8c2,#8c2,#8c2,#8c2,#9c2,#7c2,#6c2,#6c2,#ac2,#8c2,#6c2,#ac2,#bc2,#9c2,#9c2,#bc2,#bc2,#7c2,#4a4,#495,#4b3,#5b2,#5b3,#6c2,#7c2,#4a4,#4a4,#5c2,#6c2,#5b3,#397,#396,#5b3,#5c2,#6c2,#6c2,#6c2,#5b3,#4a5,#4b4,#6c2,#5b3,#4a5,#4a4,#396,#4a5,#5b2,#6c2,#8c2,#7c2,#5b2,#5b3,#4b3,#4b3,#6c2,#5c2,#4b3,#4a5,#4a5,#5b3,#7c2,#9c2,#9c2,#9c2,#7c2,#4a4,#396,#4b3,#6c2,#6c2,#7c2,#7c2,#6c2,#5c2,#6c2,#8c2,#cc2,#ac2,#6c2,#5b3,#4b3,#5b2,#8c2,#9c2,#ac2,#cc2,#dc2,#cc2,#ac2,#7c2,#6c2,#6c2,#6c2,#5c2,#5b3,#5c2)"></i>
<i style="top:15.06px;height:3.51px;background:linear-gradient(90deg,#27b,#27b,#27a,#387,#27a,#17c,#27b,#289,#4a5,#5b3,#6c2,#5b3,#4b3,#4a4,#396,#389,#397,#6b3,#8c2,#6c2,#5c2,#5b3,#4b3,#4a4,#6b3,#7c2,#4a4,#5b3,#7c2,#8c2,#8c2,#8c2,#9c2,#6c2,#6c2,#7c2,#4a4,#5b3,#6c2,#6c2,#6c2,#7c2,#ac2,#cc2,#cc2,#cc2,#8c2,#7c2,#8c2,#5b2,#4b4,#5b3,#6c2,#ac2,#cc2,#ac2,#8c2,#8c2,#8c2,#8c2,#6c2,#5b3,#4a5,#396,#4b3,#5b3,#4b3,#5c2,#7c2,#8c2,#8c2,#8c2,#9c2,#9c2,#7c2,#6c2,#8c2,#ac2,#7c2,#7c2,#bc2,#ac2,#9c2,#ac2,#bc2,#ac2,#6b3,#4a5,#4a5,#5b3,#5b3,#5b3,#7c2,#5b3,#4a5,#5b3,#5c2,#6c2,#4a4,#387,#4a5,#5b2,#6c2,#6c2,#7c2,#6c2,#4b3,#4a5,#4b3,#6c2,#4a4,#4a5,#4a4,#396,#4b3,#5c2,#7c2,#9c2,#6c2,#5b3,#4b3,#4a4,#4b3,#5c2,#5b3,#4b4,#396,#4a4,#5c2,#8c2,#9c2,#9c2,#9c2,#6c2,#4a5,#4a5,#5b3,#6c2,#6c2,#6c2,#6c2,#5c2,#5c2,#6c2,#ac2,#cc2,#8c2,#5c2,#5b2,#5b3,#6c2,#9c2,#9c2,#bc2,#dc2,#dc2,#bc2,#9c2,#7c2,#6c2,#6c2,#6c2,#5b2,#5b3,#7c2)"></i>
<i style="top:18.07px;height:3.51px;background:linear-gradient(90deg,#27c,#27c,#27a,#388,#27c,#16d,#27b,#388,#4a4,#5b3,#5c2,#4b3,#4b3,#4a4,#396,#289,#396,#7c2,#8c2,#6c2,#5b2,#4b3,#4b4,#4a4,#6c2,#6b3,#4a5,#5b3,#7c2,#8c2,#8c2,#9c2,#8c2,#6c2,#7c2,#6b3,#4a4,#5b2,#6c2,#6c2,#6c2,#7c2,#bc2,#dc2,#cc2,#bc2,#7c2,#8c2,#8c2,#5b3,#4a4,#5b3,#7c2,#bc2,#cc2,#ac2,#8c2,#8c2,#9c2,#7c2,#6c2,#5b3,#4a5,#4a4,#5b3,#5b3,#5b3,#6c2,#7c2,#9c2,#8c2,#8c2,#9c2,#8c2,#7c2,#6c2,#9c2,#9c2,#6c2,#8c2,#bc2,#ac2,#9c2,#ac2,#bc2,#8c2,#5b3,#4a5,#4a4,#5b3,#4b3,#5b3,#7c2,#4b4,#4a5,#5b3,#5c2,#5c2,#495,#387,#4b4,#5c2,#6c2,#6c2,#7c2,#6c2,#4a4,#495,#5b3,#5b2,#4a5,#4a4,#4a5,#4a5,#5b2,#6c2,#8c2,#9c2,#6c2,#4b3,#4b4,#4a5,#5b3,#5c2,#4b3,#4a4,#396,#4b3,#6c2,#9c2,#9c2,#9c2,#9c2,#5b3,#4a5,#4a4,#5c2,#6c2,#5c2,#6c2,#6c2,#5c2,#5c2,#7c2,#bc2,#bc2,#7c2,#5c2,#5b2,#5c2,#8c2,#ac2,#ac2,#cc2,#dc2,#dc2,#bc2,#9c2,#6c2,#6c2,#6c2,#6c2,#5b3,#6c2,#9c2)"></i>
<i style="top:21.08px;height:3.51px;background:linear-gradient(90deg,#16d,#17c,#27a,#27a,#16d,#16d,#27b,#397,#4b4,#5b2,#5c2,#4b4,#4a4,#4a5,#397,#289,#4a4,#7c2,#7c2,#5c2,#5b3,#4b3,#4a4,#4b4,#7c2,#5b4,#4a4,#6c2,#7c2,#8c2,#8c2,#ac2,#8c2,#6c2,#7c2,#5b3,#4b4,#6c2,#6c2,#6c2,#6c2,#8c2,#cc2,#dc2,#bc2,#ac2,#7c2,#8c2,#7c2,#4b4,#4b4,#6c2,#8c2,#cc2,#cc2,#ac2,#8c2,#9c2,#9c2,#7c2,#6c2,#4b3,#4a4,#4b3,#5c2,#5b3,#5b2,#7c2,#8c2,#9c2,#8c2,#9c2,#9c2,#7c2,#7c2,#7c2,#ac2,#8c2,#6c2,#9c2,#bc2,#ac2,#9c2,#bc2,#bc2,#7c2,#4b3,#4a4,#4b3,#5b3,#4b3,#6c2,#6c2,#4a5,#4a5,#5c2,#5c2,#5b3,#397,#396,#5b3,#5c2,#6c2,#6c2,#7c2,#5c2,#4a5,#4a5,#5b3,#5b3,#495,#4a4,#4a5,#4b4,#6c2,#7c2,#9c2,#8c2,#5b3,#4b3,#4a5,#4a5,#5b3,#5b3,#4b3,#4a5,#495,#5b3,#7c2,#9c2,#9c2,#ac2,#8c2,#5b3,#4a5,#4b4,#6c2,#5c2,#5b2,#5c2,#6c2,#5c2,#5c2,#7c2,#cc2,#ac2,#6c2,#5c2,#5c2,#6c2,#9c2,#ac2,#bc2,#dc2,#dc2,#cc2,#ac2,#8c2,#6c2,#6c2,#6c2,#5c2,#5b3,#7c2,#bc2)"></i>
<i style="top:24.10px;height:3.51px;background:linear-gradient(90deg,#16d,#16c,#27a,#27b,#16e,#16c,#27a,#396,#4b3,#5b2,#5b3,#4a4,#4a4,#4a5,#388,#388,#5b3,#8c2,#7c2,#5c2,#5b3,#4b3,#4a4,#5b3,#7c2,#4a4,#4b4,#6c2,#7c2,#8c2,#9c2,#ac2,#7c2,#6c2,#6c2,#4b3,#5b3,#6c2,#7c2,#6c2,#6c2,#ac2,#dc2,#cc2,#bc2,#9c2,#7c2,#9c2,#6c2,#4a4,#5b3,#7c2,#ac2,#dc2,#cc2,#9c2,#8c2,#9c2,#9c2,#7c2,#6c2,#4b3,#4b3,#5b3,#5c2,#5b3,#5c2,#7c2,#8c2,#9c2,#8c2,#9c2,#9c2,#7c2,#7c2,#8c2,#ac2,#7c2,#6c2,#ac2,#bc2,#ac2,#ac2,#bc2,#ac2,#6c2,#4b4,#4a4,#4b3,#4b3,#4b3,#6c2,#5b3,#396,#4a4,#5c2,#5c2,#4a4,#387,#4a5,#5b2,#6c2,#6c2,#6c2,#7c2,#5b3,#495,#4a5,#5c2,#4a4,#4a5,#4a5,#4a5,#5b3,#6c2,#8c2,#ac2,#6c2,#4b3,#4b4,#396,#4a5,#5b3,#4b3,#4b3,#396,#4a4,#6c2,#8c2,#9c2,#9c2,#ac2,#7c2,#4a4,#4a5,#4b3,#6c2,#5b2,#5b3,#5c2,#5c2,#5c2,#5c2,#9c2,#cc2,#8c2,#6c2,#5c2,#5c2,#7c2,#ac2,#ac2,#cc2,#dc2,#dc2,#cc2,#ac2,#7c2,#6c2,#6c2,#6c2,#5b2,#5b2,#9c2,#bc2)"></i>
<i style="top:27.11px;height:3.51px;background:linear-gradient(90deg,#16d,#17c,#27a,#17c,#16e,#17c,#389,#4a4,#4b3,#5b2,#4b3,#4a5,#4a5,#495,#388,#397,#6c2,#8c2,#6c2,#5c2,#5b3,#4b3,#4a4,#6c2,#6c2,#4a4,#5b3,#7c2,#8c2,#9c2,#ac2,#ac2,#7c2,#6c2,#6c2,#4b3,#5c2,#7c2,#7c2,#7c2,#7c2,#bc2,#dc2,#cc2,#bc2,#9c2,#8c2,#9c2,#5b3,#4b3,#6c2,#8c2,#cc2,#dc2,#cc2,#9c2,#9c2,#ac2,#9c2,#7c2,#6c2,#4b3,#5b3,#5b2,#5b2,#4b3,#6c2,#7c2,#8c2,#8c2,#8c2,#9c2,#7c2,#6c2,#6c2,#9c2,#9c2,#6c2,#7c2,#bc2,#bc2,#9c2,#ac2,#bc2,#8c2,#5b3,#4b4,#4b4,#4b3,#4a4,#4b3,#6c2,#4a4,#396,#5b3,#5b2,#5b3,#495,#397,#4b4,#5c2,#6c2,#6c2,#6c2,#6c2,#4b3,#396,#4a4,#5b3,#4a5,#4a5,#4a5,#4a4,#5c2,#7c2,#9c2,#9c2,#5b3,#4b3,#4a5,#396,#4a5,#5b3,#4b3,#4a4,#396,#4b3,#7c2,#8c2,#8c2,#ac2,#9c2,#6c2,#4a4,#4a5,#5b3,#5c2,#4b3,#4b3,#5c2,#5c2,#5b2,#6c2,#ac2,#bc2,#7c2,#6c2,#6c2,#5c2,#8c2,#ac2,#bc2,#cc2,#dc2,#cc2,#bc2,#9c2,#7c2,#6c2,#6c2,#6c2,#5b2,#6c2,#ac2,#ac2)"></i>
<i style="top:30.12px;height:3.51px;background:linear-gradient(90deg,#16d,#17c,#27b,#16d,#16d,#27b,#387,#4b4,#4b3,#5b3,#4a4,#4a5,#4a5,#396,#388,#4a5,#7c2,#8c2,#6c2,#5c2,#5b3,#4b4,#4b4,#7c2,#6b3,#4a4,#6c2,#8c2,#8c2,#ac2,#bc2,#9c2,#7c2,#7c2,#6c2,#5b3,#6c2,#7c2,#8c2,#7c2,#8c2,#cc2,#dc2,#bc2,#ac2,#8c2,#9c2,#9c2,#5b3,#5b3,#7c2,#ac2,#dc2,#dc2,#cc2,#9c2,#9c2,#ac2,#8c2,#7c2,#6c2,#5b3,#5b2,#5c2,#5b3,#4b3,#6c2,#8c2,#8c2,#7c2,#8c2,#8c2,#6c2,#6c2,#7c2,#9c2,#8c2,#5c2,#8c2,#bc2,#ac2,#9c2,#ac2,#ac2,#7c2,#4b3,#4b4,#4b4,#4b4,#4a4,#5b3,#5b2,#496,#396,#5b3,#5b3,#4b4,#396,#396,#5b3,#5c2,#5c2,#5c2,#7c2,#6c2,#4a4,#396,#4b3,#4b3,#4a5,#4a5,#495,#4b3,#6c2,#8c2,#ac2,#8c2,#5b3,#4b4,#396,#387,#4a4,#4b3,#4b3,#4a5,#495,#5b3,#7c2,#8c2,#8c2,#ac2,#7c2,#5b3,#4a4,#4a4,#5c2,#5b2,#4a4,#4b4,#5c2,#5c2,#5b3,#7c2,#bc2,#ac2,#6c2,#6c2,#6c2,#6c2,#ac2,#ac2,#bc2,#cc2,#dc2,#cc2,#ac2,#9c2,#6c2,#6c2,#6c2,#6c2,#5c2,#7c2,#ac2,#9c2)"></i>
<i style="top:33.13px;height:3.51px;background:linear-gradient(90deg,#16d,#17c,#27b,#16d,#16d,#27a,#396,#4b3,#4b3,#4b3,#4a5,#4a5,#4a5,#396,#388,#5b4,#8c2,#8c2,#5c2,#5c2,#5b3,#4b4,#5b3,#7c2,#5b3,#5b3,#7c2,#8c2,#9c2,#bc2,#bc2,#9c2,#7c2,#7c2,#5b2,#5b2,#7c2,#8c2,#9c2,#8c2,#ac2,#dc2,#dc2,#bc2,#ac2,#9c2,#ac2,#8c2,#5b2,#6c2,#9c2,#bc2,#eb2,#dc2,#bc2,#ac2,#ac2,#ac2,#8c2,#8c2,#5c2,#5c2,#5c2,#5c2,#4b3,#5b3,#7c2,#8c2,#7c2,#7c2,#8c2,#7c2,#6c2,#6c2,#7c2,#9c2,#6c2,#5c2,#9c2,#bc2,#ac2,#9c2,#ac2,#9c2,#6c2,#4b3,#4b3,#4a4,#4a4,#4a5,#5b3,#5b3,#397,#4a5,#5b3,#4b3,#4a5,#397,#4a4,#5b2,#5c2,#5c2,#5c2,#6c2,#6c2,#4a5,#396,#5b3,#4a4,#4a5,#495,#4a5,#5b2,#6c2,#9c2,#ac2,#6c2,#4b3,#4a4,#397,#397,#4b4,#4b3,#5b3,#4a5,#4a4,#6c2,#8c2,#8c2,#9c2,#9c2,#6c2,#5b3,#4a5,#4a4,#5c2,#5b3,#4a5,#4b3,#6c2,#5c2,#5b3,#8c2,#bc2,#8c2,#6c2,#7c2,#6c2,#7c2,#ac2,#ac2,#cc2,#cc2,#cc2,#bc2,#ac2,#8c2,#6c2,#6c2,#6c2,#5c2,#6c2,#8c2,#9c2,#7c2)"></i>
<i style="top:36.14px;height:3.51px;background:linear-gradient(90deg,#16d,#17c,#27c,#16e,#16d,#289,#4a5,#4b3,#4b4,#4a4,#495,#4a5,#4a5,#397,#397,#5b3,#8c2,#7c2,#5c2,#5c2,#5b3,#4b4,#6b3,#7c2,#4b3,#6b3,#8c2,#9c2,#ac2,#bc2,#bc2,#8c2,#7c2,#7c2,#5c2,#6c2,#8c2,#9c2,#9c2,#8c2,#bc2,#ec2,#cc2,#bc2,#ac2,#9c2,#bc2,#7c2,#5c2,#7c2,#ac2,#dc2,#eb2,#dc2,#bc2,#ac2,#bc2,#ac2,#9c2,#8c2,#5c2,#6c2,#5c2,#5b2,#4a4,#5b3,#7c2,#8c2,#6c2,#6c2,#7c2,#6c2,#5c2,#5c2,#7c2,#8c2,#5b2,#6c2,#ac2,#bc2,#9c2,#9c2,#ac2,#8c2,#5b3,#4b3,#4b3,#4a4,#4a5,#4a5,#5b2,#4a5,#387,#4a4,#4b3,#4a4,#396,#396,#4b3,#5b2,#5c2,#5c2,#5c2,#6c2,#5b3,#396,#4a5,#5b3,#4a4,#4a5,#396,#4a4,#5c2,#7c2,#9c2,#9c2,#5b3,#4b4,#4a5,#387,#396,#4b3,#5b3,#4b3,#4a5,#4b3,#7c2,#8c2,#8c2,#9c2,#8c2,#5c2,#4b4,#396,#4b4,#5c2,#4a4,#396,#5b3,#6c2,#5b2,#5b2,#ac2,#bc2,#7c2,#7c2,#7c2,#6c2,#9c2,#bc2,#bc2,#cc2,#cc2,#bc2,#ac2,#9c2,#7c2,#6c2,#5c2,#6c2,#5c2,#6c2,#9c2,#8c2,#6c2)"></i>
<i style="top:39.16px;height:3.51px;background:linear-gradient(90deg,#16c,#17c,#16c,#16e,#27c,#388,#4a4,#4a4,#4a4,#4a5,#396,#4a5,#4a5,#387,#4a5,#6c2,#8c2,#7c2,#5c2,#5c2,#4b3,#4b4,#6c2,#7c2,#4b3,#7c2,#8c2,#9c2,#bc2,#cc2,#ac2,#8c2,#7c2,#7c2,#5c2,#7c2,#8c2,#ac2,#ac2,#9c2,#cc2,#eb2,#cc2,#bc2,#ac2,#ac2,#bc2,#7c2,#6c2,#9c2,#cc2,#eb2,#ea2,#db2,#bc2,#bc2,#cc2,#ac2,#9c2,#8c2,#6c2,#6c2,#5c2,#5b3,#4a4,#6c2,#8c2,#7c2,#6c2,#6c2,#6c2,#5c2,#5c2,#5c2,#8c2,#7c2,#5b3,#6c2,#ac2,#ac2,#8c2,#9c2,#9c2,#6c2,#4b3,#4b3,#4b3,#4a4,#495,#4a4,#5b3,#396,#387,#4a4,#4a4,#495,#397,#4a5,#5b3,#5b2,#5b2,#5b2,#5c2,#6c2,#4b4,#396,#4a4,#5b3,#4a4,#4a5,#396,#4b3,#5c2,#7c2,#9c2,#7c2,#4b3,#4a4,#495,#388,#495,#4b3,#5b3,#4b3,#4a5,#5b3,#7c2,#7c2,#8c2,#8c2,#6c2,#5b2,#4a4,#396,#5b3,#5b3,#396,#495,#5b2,#6c2,#5b2,#6c2,#bc2,#ac2,#7c2,#7c2,#7c2,#6c2,#ac2,#bc2,#bc2,#cc2,#bc2,#ac2,#9c2,#9c2,#7c2,#5c2,#5c2,#5c2,#5c2,#7c2,#8c2,#7c2,#5b2)"></i>
<i style="top:42.17px;height:3.51px;background:linear-gradient(90deg,#17c,#27c,#16d,#16d,#27b,#397,#4a4,#4a5,#4a5,#396,#396,#4a5,#396,#387,#4a4,#7c2,#8c2,#6c2,#5c2,#5b2,#4b4,#4b4,#7c2,#6b3,#4b3,#7c2,#9c2,#ac2,#bc2,#cc2,#9c2,#7c2,#7c2,#6c2,#6c2,#8c2,#9c2,#bc2,#ac2,#ac2,#dc2,#dc2,#cc2,#bc2,#ac2,#bc2,#ac2,#7c2,#7c2,#bc2,#dc2,#ea2,#e92,#db2,#bc2,#bc2,#cc2,#ac2,#9c2,#8c2,#7c2,#7c2,#5c2,#4b3,#4a4,#7c2,#8c2,#7c2,#5c2,#6c2,#6c2,#5b2,#5c2,#6c2,#8c2,#6c2,#5b3,#7c2,#ac2,#ac2,#8c2,#9c2,#8c2,#5c2,#4b3,#5b3,#4b3,#4a5,#495,#4b3,#4b3,#387,#397,#4b4,#4a5,#396,#396,#4b4,#5b2,#5b2,#5b3,#5b2,#5c2,#5c2,#4a5,#396,#4b3,#4b3,#4a4,#4a5,#4a5,#5b3,#6c2,#8c2,#9c2,#6c2,#4b4,#4a4,#396,#387,#4a4,#5b3,#5b2,#4b4,#4a4,#6c2,#7c2,#7c2,#8c2,#7c2,#5c2,#5b3,#495,#396,#5b2,#4a4,#387,#4a5,#6c2,#6c2,#5b2,#8c2,#bc2,#9c2,#7c2,#8c2,#7c2,#7c2,#bc2,#ac2,#bc2,#cc2,#ac2,#9c2,#9c2,#9c2,#6c2,#5c2,#5c2,#5c2,#6c2,#7c2,#8c2,#6c2,#5b3)"></i>
<i style="top:45.18px;height:3.51px;background:linear-gradient(90deg,#17c,#27c,#16d,#16d,#27a,#396,#4a4,#495,#396,#396,#396,#4a5,#396,#397,#5b3,#8c2,#8c2,#6c2,#5c2,#5b3,#4a5,#5b3,#7c2,#5b3,#5b3,#8c2,#9c2,#ac2,#cc2,#bc2,#8c2,#7c2,#7c2,#6c2,#7c2,#8c2,#9c2,#bc2,#9c2,#bc2,#ec2,#dc2,#bc2,#bc2,#9c2,#bc2,#ac2,#7c2,#9c2,#cc2,#eb2,#e92,#e92,#db2,#cc2,#cc2,#cc2,#ac2,#ac2,#8c2,#8c2,#7c2,#5c2,#4a4,#5b4,#8c2,#9c2,#6c2,#5c2,#6c2,#5c2,#5b3,#5c2,#6c2,#7c2,#5b2,#5b2,#8c2,#bc2,#9c2,#8c2,#9c2,#7c2,#5b2,#4b3,#5b3,#4b3,#4a5,#4a5,#5b3,#4a4,#388,#396,#4b4,#396,#396,#495,#5b3,#5b2,#5b3,#5b3,#5b3,#5c2,#5b3,#396,#495,#5b3,#4b3,#4b4,#495,#4a4,#5c2,#6c2,#8c2,#8c2,#5b3,#4b4,#4a4,#396,#397,#4b4,#5b2,#5c2,#4b3,#4b3,#6c2,#7c2,#7c2,#7c2,#6c2,#5b2,#4b3,#396,#4a5,#5b2,#496,#387,#4a4,#6c2,#6c2,#5c2,#9c2,#bc2,#8c2,#8c2,#8c2,#6c2,#9c2,#bc2,#bc2,#cc2,#bc2,#9c2,#8c2,#9c2,#8c2,#6c2,#5b2,#5c2,#5c2,#7c2,#7c2,#7c2,#5b3,#4b3)"></i>
<i style="top:48.19px;height:3.51px;background:linear-gradient(90deg,#27c,#27c,#16d,#17c,#388,#4a5,#4a4,#396,#397,#396,#396,#4a5,#397,#496,#6c2,#8c2,#7c2,#5c2,#5b2,#4b4,#4a5,#5b3,#6c2,#4b4,#6b3,#9c2,#9c2,#bc2,#cc2,#ac2,#8c2,#6c2,#7c2,#6c2,#7c2,#9c2,#ac2,#bc2,#9c2,#cc2,#ec2,#cc2,#bc2,#ac2,#ac2,#cc2,#9c2,#7c2,#bc2,#dc2,#ea2,#e82,#e92,#db2,#cc2,#dc2,#cc2,#bc2,#ac2,#8c2,#8c2,#7c2,#5c2,#4a4,#6b3,#ac2,#8c2,#6c2,#5c2,#6c2,#5b2,#5b3,#5c2,#6c2,#7c2,#5b2,#6c2,#9c2,#bc2,#9c2,#7c2,#8c2,#6c2,#5b3,#5b3,#5b2,#4b3,#4a5,#4a5,#5b3,#495,#388,#4a5,#4a4,#396,#396,#4a4,#5c2,#5b3,#5b3,#5b3,#5b3,#5b2,#4b4,#397,#4a4,#5b3,#4b3,#4b4,#495,#4b3,#5c2,#6c2,#8c2,#7c2,#4b3,#4b4,#4a4,#396,#396,#5b3,#5c2,#5c2,#4b3,#5b3,#6c2,#7c2,#7c2,#7c2,#5b3,#5b3,#4a4,#387,#4a4,#5b3,#387,#397,#5b3,#7c2,#6c2,#7c2,#ac2,#9c2,#7c2,#8c2,#8c2,#7c2,#ac2,#ac2,#bc2,#cc2,#ac2,#7c2,#7c2,#9c2,#8c2,#5c2,#5b3,#5c2,#6c2,#7c2,#7c2,#6c2,#4b3,#4b3)"></i>
<i style="top:51.20px;height:3.51px;background:linear-gradient(90deg,#27b,#27c,#16d,#27b,#387,#4a4,#4a5,#387,#387,#396,#4a5,#4a5,#387,#4a4,#7c2,#8c2,#6c2,#5c2,#5b3,#4a5,#396,#5b3,#6c2,#4a4,#7c2,#9c2,#ac2,#cc2,#cc2,#9c2,#7c2,#6c2,#7c2,#7c2,#8c2,#9c2,#bc2,#bc2,#ac2,#cc2,#dc2,#cc2,#bc2,#ac2,#ac2,#cc2,#9c2,#9c2,#cc2,#eb2,#e82,#e72,#e82,#eb2,#dc2,#dc2,#cc2,#bc2,#ac2,#9c2,#9c2,#7c2,#5b3,#4a4,#7c2,#ac2,#8c2,#6c2,#5c2,#5c2,#5b3,#5b3,#5c2,#7c2,#6c2,#5b2,#6c2,#9c2,#ac2,#8c2,#7c2,#7c2,#5c2,#5b3,#5b2,#5b2,#4b3,#4a5,#4a4,#4b3,#396,#387,#4a4,#4a5,#397,#396,#5b3,#5c2,#5b3,#4b3,#4b3,#4b3,#5b3,#4a5,#397,#4b3,#5b3,#5b3,#4a4,#4a5,#5b3,#5b2,#6c2,#8c2,#6c2,#4b3,#4b4,#4a4,#396,#4a5,#5b2,#6c2,#5c2,#4b3,#5b2,#6c2,#7c2,#7c2,#6c2,#4b3,#5b3,#495,#397,#4b3,#4a4,#389,#396,#6c2,#7c2,#6c2,#8c2,#ac2,#8c2,#7c2,#9c2,#8c2,#7c2,#ac2,#ac2,#cc2,#cc2,#9c2,#6c2,#7c2,#9c2,#7c2,#5b3,#5b3,#5c2,#7c2,#7c2,#6c2,#5b3,#4b4,#4a4)"></i>
<i style="top:54.21px;height:3.51px;background:linear-gradient(90deg,#27b,#27c,#16c,#27a,#396,#4a4,#396,#388,#388,#396,#4a5,#495,#387,#5b3,#8c2,#8c2,#6c2,#5c2,#5b3,#396,#396,#6c2,#5b3,#4a4,#7c2,#9c2,#ac2,#cc2,#bc2,#8c2,#6c2,#6c2,#7c2,#7c2,#9c2,#ac2,#bc2,#bc2,#ac2,#dc2,#dc2,#cc2,#bc2,#ac2,#bc2,#cc2,#9c2,#ac2,#db2,#e92,#e72,#f61,#e82,#eb2,#dc2,#dc2,#cc2,#bc2,#ac2,#ac2,#9c2,#7c2,#5b3,#4a4,#9c2,#bc2,#7c2,#5c2,#5c2,#5c2,#5b3,#5b3,#5c2,#6c2,#5c2,#5b2,#7c2,#ac2,#ac2,#7c2,#7c2,#7c2,#5b2,#5b3,#5c2,#5b2,#4b4,#4a5,#4b3,#4b4,#397,#397,#4a4,#396,#397,#4a5,#5b2,#5b2,#4b3,#4b3,#4b3,#4b3,#4b3,#396,#396,#5b3,#5b2,#5b3,#4a4,#4a4,#5b2,#5b2,#6c2,#8c2,#6c2,#4b3,#4b3,#4a4,#396,#4b4,#5c2,#6c2,#5c2,#5b3,#5c2,#6c2,#6c2,#6c2,#5b3,#4b3,#4b3,#396,#396,#5b3,#396,#389,#4a5,#7c2,#7c2,#6c2,#9c2,#ac2,#7c2,#8c2,#9c2,#7c2,#8c2,#ac2,#ac2,#cc2,#bc2,#7c2,#5c2,#8c2,#9c2,#6c2,#5b3,#5b3,#6c2,#7c2,#6c2,#6c2,#4b3,#4a4,#4b4)"></i>
<i style="top:57.23px;height:3.51px;background:linear-gradient(90deg,#27b,#27b,#27c,#389,#4a5,#4a4,#397,#388,#387,#396,#4a4,#396,#396,#6b3,#8c2,#8c2,#6c2,#5c2,#4b4,#397,#4a5,#6c2,#5b3,#4b4,#8c2,#ac2,#bc2,#cc2,#ac2,#7c2,#6c2,#6c2,#7c2,#8c2,#9c2,#ac2,#cc2,#bc2,#bc2,#dc2,#dc2,#cc2,#bc2,#ac2,#bc2,#bc2,#9c2,#bc2,#ea2,#e82,#f61,#f61,#e82,#eb2,#dc2,#dc2,#cc2,#bc2,#ac2,#ac2,#8c2,#7c2,#4b4,#5b4,#ac2,#ac2,#7c2,#5c2,#5c2,#5b2,#4b3,#5b3,#5c2,#6c2,#5b2,#5c2,#7c2,#ac2,#9c2,#7c2,#7c2,#6c2,#5b3,#5b3,#5c2,#5b2,#4a4,#4a5,#5b3,#4a4,#387,#396,#4a4,#397,#396,#4a4,#5c2,#5b3,#4b3,#4b3,#4b4,#4a4,#4a4,#387,#4a5,#5b2,#5b2,#5b3,#4a4,#4b3,#5b2,#5b2,#7c2,#7c2,#5b3,#4b3,#4b3,#4a4,#396,#5b3,#6c2,#6c2,#5c2,#5b3,#6c2,#6c2,#6c2,#6c2,#4b3,#4b3,#4a4,#387,#4a5,#4b3,#388,#388,#5b3,#8c2,#8c2,#8c2,#ac2,#9c2,#7c2,#9c2,#9c2,#7c2,#9c2,#ac2,#bc2,#cc2,#ac2,#6c2,#5c2,#8c2,#9c2,#6c2,#4b3,#5b2,#6c2,#7c2,#6c2,#5b2,#4b4,#4a4,#5b3)"></i>
<i style="top:60.24px;height:3.51px;background:linear-gradient(90deg,#27b,#27b,#27a,#387,#4a4,#4a4,#387,#389,#387,#4a5,#4a4,#396,#495,#6c2,#8c2,#7c2,#6c2,#5c2,#4a4,#387,#4a4,#6c2,#4b4,#5b3,#9c2,#ac2,#cc2,#cc2,#8c2,#6c2,#6c2,#7c2,#8c2,#8c2,#ac2,#bc2,#cc2,#bc2,#cc2,#dc2,#cc2,#cc2,#bc2,#ac2,#cc2,#bc2,#ac2,#dc2,#e92,#f71,#f51,#f51,#e82,#eb2,#ec2,#dc2,#cc2,#bc2,#ac2,#ac2,#8c2,#7c2,#4a4,#6b3,#bc2,#ac2,#6c2,#5b2,#5b2,#5b3,#4b3,#5b3,#5c2,#5c2,#5b3,#5c2,#7c2,#ac2,#8c2,#6c2,#6c2,#5c2,#5b3,#5b3,#5c2,#5b2,#4a4,#4a4,#5b3,#4a5,#387,#4a5,#4a5,#387,#396,#5b3,#6c2,#5b3,#4b3,#4b3,#4a4,#4a5,#396,#387,#4b4,#5c2,#5c2,#5b2,#4b4,#5b3,#5b3,#5b2,#7c2,#7c2,#5b3,#4b3,#4b3,#4a5,#4a5,#5b3,#6c2,#6c2,#5b2,#5b3,#6c2,#6c2,#6c2,#5b2,#4b4,#4b3,#4a4,#397,#4a4,#4a4,#289,#397,#6b3,#9c2,#8c2,#9c2,#ac2,#7c2,#7c2,#9c2,#8c2,#8c2,#ac2,#ac2,#cc2,#cc2,#8c2,#5c2,#6c2,#9c2,#8c2,#5b2,#5b3,#5c2,#7c2,#6c2,#5c2,#5b3,#4a4,#4a4,#6c2)"></i>
<i style="top:63.25px;height:3.51px;background:linear-gradient(90deg,#27a,#27a,#289,#396,#4b4,#4a5,#388,#389,#397,#4a4,#4a4,#397,#4a4,#7c2,#8c2,#7c2,#6c2,#5b2,#4a5,#387,#4b4,#6c2,#4a4,#6b3,#9c2,#ac2,#cc2,#bc2,#7c2,#5c2,#6c2,#7c2,#8c2,#9c2,#ac2,#bc2,#cc2,#bc2,#cc2,#dc2,#cc2,#cc2,#bc2,#ac2,#cc2,#bc2,#bc2,#db2,#e82,#f51,#f41,#f51,#e82,#eb2,#ec2,#dc2,#cc2,#bc2,#ac2,#9c2,#8c2,#6c2,#4a4,#8c2,#cc2,#9c2,#6c2,#5b2,#5b3,#4b3,#4b3,#4b3,#5c2,#5b2,#5b3,#5c2,#7c2,#9c2,#7c2,#6c2,#6c2,#5b3,#4b3,#5b3,#6c2,#5b2,#4a4,#4b4,#4b3,#396,#387,#4a5,#396,#397,#4a5,#5b3,#5c2,#4b3,#4b3,#4b3,#4a5,#4a5,#397,#397,#5b3,#5c2,#5c2,#5b2,#4b3,#5b2,#5b3,#5b2,#7c2,#6c2,#5b3,#4b3,#5b3,#4a5,#4a5,#5c2,#6c2,#6c2,#5b3,#5b3,#6c2,#6c2,#6c2,#5b3,#4b4,#5b3,#4a5,#396,#4b3,#4a5,#289,#4a5,#7c2,#9c2,#8c2,#9c2,#9c2,#6c2,#7c2,#9c2,#8c2,#8c2,#ac2,#ac2,#cc2,#cc2,#7c2,#5b2,#7c2,#9c2,#7c2,#5b3,#5b3,#6c2,#7c2,#6c2,#5c2,#4b3,#4a5,#5b4,#8c2)"></i>
<i style="top:66.26px;height:3.51px;background:linear-gradient(90deg,#27a,#27a,#388,#4a5,#4b3,#4a5,#388,#388,#396,#4a4,#4a4,#397,#5b3,#8c2,#8c2,#7c2,#6c2,#5b3,#396,#397,#5b3,#6c2,#4a4,#7c2,#ac2,#bc2,#cc2,#ac2,#6c2,#5c2,#6c2,#8c2,#8c2,#9c2,#ac2,#cc2,#cc2,#bc2,#cc2,#dc2,#cc2,#cc2,#bc2,#bc2,#dc2,#bc2,#cc2,#ea2,#e72,#f41,#f31,#f51,#e82,#eb2,#ec2,#dc2,#cc2,#bc2,#ac2,#9c2,#8c2,#5b3,#4a4,#9c2,#cc2,#8c2,#6c2,#5b3,#5b3,#4b3,#4b4,#4b3,#5b2,#5b3,#5b3,#5c2,#7c2,#8c2,#6c2,#5c2,#5c2,#5b3,#4b3,#5b2,#6c2,#5b3,#4a4,#4b3,#4b3,#396,#396,#4a5,#397,#396,#4a4,#5c2,#5b2,#4b3,#4b3,#4a4,#396,#396,#388,#4a5,#5c2,#5c2,#5c2,#5b2,#5b3,#5b2,#4b3,#5c2,#7c2,#6c2,#5b3,#5b3,#5b3,#4a5,#4a4,#5c2,#6c2,#6c2,#5b3,#5b3,#6c2,#6c2,#6c2,#4b3,#4b3,#5b3,#4a5,#4a5,#5b3,#397,#389,#4a4,#8c2,#9c2,#9c2,#ac2,#8c2,#6c2,#8c2,#9c2,#8c2,#9c2,#ac2,#bc2,#dc2,#ac2,#6c2,#5b2,#8c2,#ac2,#6c2,#5b3,#5b2,#6c2,#7c2,#5c2,#5b2,#4a4,#4a5,#6b3,#8c2)"></i>
<i style="top:69.27px;height:3.51px;background:linear-gradient(90deg,#389,#388,#397,#4a4,#5b3,#495,#388,#388,#4a5,#4b3,#4a5,#396,#6b3,#8c2,#8c2,#7c2,#6c2,#4b3,#397,#396,#5b2,#5b3,#4a4,#8c2,#ac2,#bc2,#cc2,#9c2,#5c2,#5c2,#6c2,#8c2,#9c2,#9c2,#bc2,#cc2,#cc2,#bc2,#dc2,#dc2,#cc2,#cc2,#bc2,#cc2,#cc2,#bc2,#cc2,#e92,#f61,#f31,#f21,#f51,#e92,#eb2,#eb2,#dc2,#cc2,#bc2,#ac2,#8c2,#7c2,#5b3,#5b4,#bc2,#bc2,#8c2,#5c2,#5b3,#4b3,#4b4,#4a4,#4b4,#5b3,#4b3,#5b3,#5c2,#7c2,#7c2,#5b2,#5c2,#5b3,#4b3,#4b3,#5b2,#6c2,#5b3,#4a4,#5b3,#4a4,#396,#396,#4a5,#387,#495,#4b4,#5c2,#5b3,#4b3,#4b3,#4a5,#397,#397,#388,#4a4,#5c2,#5c2,#5c2,#5b2,#5b3,#5b2,#4b3,#6c2,#7c2,#6c2,#5b3,#5b2,#5b3,#4a5,#4b4,#5c2,#6c2,#6c2,#4b3,#5b3,#5c2,#6c2,#5b2,#4b3,#5b3,#4b3,#4a5,#4a4,#4b3,#388,#387,#5b3,#9c2,#ac2,#ac2,#9c2,#6c2,#6c2,#8c2,#8c2,#8c2,#ac2,#ac2,#cc2,#dc2,#9c2,#5c2,#5c2,#9c2,#9c2,#6c2,#5b3,#5b2,#7c2,#6c2,#5c2,#5b3,#4a4,#4a4,#7c2,#8c2)"></i>
<i style="top:72.29px;height:3.51px;background:linear-gradient(90deg,#388,#387,#396,#4b3,#5b3,#396,#388,#387,#4a4,#5b3,#4a5,#4a5,#6c2,#8c2,#7c2,#7c2,#6c2,#4b4,#387,#4a5,#6c2,#5b3,#5b4,#8c2,#ac2,#bc2,#cc2,#7c2,#5b2,#5c2,#7c2,#9c2,#9c2,#ac2,#bc2,#cc2,#cc2,#cc2,#cc2,#dc2,#dc2,#cc2,#bc2,#cc2,#cc2,#bc2,#db2,#e82,#f51,#f21,#f21,#f51,#e92,#eb2,#eb2,#dc2,#cc2,#bc2,#9c2,#8c2,#7c2,#4b4,#6b3,#cc2,#bc2,#7c2,#5b2,#5b3,#4b3,#4a4,#4a5,#4b4,#5b3,#4b3,#5b3,#5c2,#7c2,#6c2,#5b3,#5c2,#5b3,#4b4,#4b4,#5c2,#6c2,#5b3,#4b4,#5b3,#4a4,#396,#4a5,#495,#397,#4a5,#4b3,#5c2,#5b3,#4b3,#4b3,#396,#387,#387,#397,#4b3,#5c2,#5c2,#5c2,#5b2,#5b2,#5b3,#4b3,#6c2,#7c2,#6c2,#5b2,#5c2,#5b3,#495,#4b3,#5c2,#6c2,#5b2,#4b3,#5b3,#5c2,#6c2,#5b3,#4b3,#5b3,#4b3,#4a4,#4b3,#4a4,#388,#396,#7c2,#ac2,#ac2,#ac2,#8c2,#5c2,#6c2,#8c2,#8c2,#9c2,#ac2,#ac2,#cc2,#dc2,#8c2,#5c2,#7c2,#ac2,#8c2,#5c2,#5b2,#5c2,#7c2,#6c2,#5c2,#4b3,#4a5,#4b4,#7c2,#7c2)"></i>
<i style="top:75.30px;height:3.51px;background:linear-gradient(90deg,#387,#397,#4a5,#5b3,#5b3,#396,#388,#396,#4b4,#5b2,#4a5,#4a4,#7c2,#8c2,#7c2,#7c2,#6c2,#4a4,#387,#4a4,#6c2,#5b3,#5b3,#9c2,#bc2,#cc2,#bc2,#7c2,#5b2,#5c2,#7c2,#9c2,#9c2,#ac2,#bc2,#cc2,#cc2,#cc2,#cc2,#dc2,#dc2,#cc2,#bc2,#dc2,#cc2,#cc2,#eb2,#e72,#f41,#f20,#f21,#f61,#e92,#eb2,#eb2,#dc2,#cc2,#ac2,#8c2,#7c2,#7c2,#4b4,#8c2,#cc2,#ac2,#7c2,#5b2,#5b3,#4b3,#4a4,#4a5,#4b3,#4b3,#4b4,#5b2,#5c2,#6c2,#5b3,#4b3,#5b2,#4b3,#4a4,#4a4,#5c2,#6c2,#4b3,#4b3,#5b3,#4a4,#396,#4a5,#396,#396,#4a4,#5b3,#5c2,#4b3,#4b3,#4b4,#397,#387,#388,#396,#5b2,#5c2,#5c2,#6c2,#5c2,#5b2,#4b3,#4b3,#6c2,#7c2,#6c2,#5c2,#6c2,#4b4,#4a5,#5b3,#6c2,#6c2,#5b3,#4b3,#5b3,#5c2,#5c2,#5b3,#4b3,#5b2,#4b3,#4a4,#5b3,#4a5,#388,#4a4,#8c2,#ac2,#ac2,#ac2,#7c2,#5c2,#6c2,#8c2,#8c2,#9c2,#9c2,#ac2,#dc2,#cc2,#7c2,#5c2,#8c2,#ac2,#7c2,#5c2,#5b2,#6c2,#7c2,#6c2,#5b2,#4b3,#4a4,#5b3,#8c2,#7c2)"></i>
<i style="top:78.31px;height:3.51px;background:linear-gradient(90deg,#396,#396,#4a4,#5b2,#4b3,#396,#388,#396,#5b3,#5b2,#4a5,#5b3,#7c2,#8c2,#7c2,#8c2,#6c2,#4a5,#397,#5b3,#6c2,#4b3,#6b3,#ac2,#bc2,#cc2,#ac2,#6c2,#5b2,#6c2,#8c2,#9c2,#9c2,#bc2,#bc2,#cc2,#cc2,#cc2,#cc2,#dc2,#dc2,#cc2,#bc2,#dc2,#cc2,#cc2,#ea2,#e71,#f31,#f20,#f31,#f61,#ea2,#ec2,#eb2,#cc2,#bc2,#ac2,#8c2,#7c2,#6c2,#4b3,#9c2,#cc2,#ac2,#7c2,#5b3,#5b3,#4b3,#4a4,#4a5,#4b3,#4b3,#4b3,#5b2,#5c2,#5c2,#4b3,#4b3,#5b3,#4b3,#4a4,#4a4,#6c2,#6c2,#4b3,#5b3,#5b3,#4a5,#495,#4a5,#396,#4a5,#4b4,#5b3,#5b2,#5b3,#4b3,#4a4,#387,#387,#387,#4a4,#5c2,#5c2,#5c2,#5c2,#5c2,#5b2,#4b4,#4b3,#6c2,#7c2,#6c2,#5c2,#6c2,#4a4,#4a5,#5b2,#6c2,#6c2,#5b3,#4b4,#4b3,#5b2,#5c2,#4b3,#5b3,#5b2,#4b3,#4b4,#5b3,#495,#397,#5b3,#9c2,#bc2,#bc2,#9c2,#6c2,#5c2,#7c2,#8c2,#8c2,#ac2,#9c2,#ac2,#dc2,#bc2,#7c2,#6c2,#9c2,#ac2,#6c2,#5c2,#5b2,#6c2,#7c2,#5c2,#5b2,#4b3,#4a4,#6c2,#8c2,#7c2)"></i>
<i style="top:81.32px;height:3.51px;background:linear-gradient(90deg,#495,#4a5,#4b3,#5c2,#4b3,#396,#387,#4a5,#5b3,#5b3,#4a4,#5b3,#7c2,#8c2,#8c2,#8c2,#6c2,#4a5,#396,#5b3,#6c2,#4b3,#7c2,#ac2,#bc2,#cc2,#9c2,#5c2,#5c2,#6c2,#9c2,#ac2,#ac2,#bc2,#bc2,#cc2,#cc2,#dc2,#cc2,#dc2,#dc2,#cc2,#cc2,#dc2,#cc2,#dc2,#e92,#f61,#f31,#f20,#f31,#e72,#ea2,#ec2,#eb2,#cc2,#bc2,#9c2,#7c2,#7c2,#6b2,#5b3,#ac2,#cc2,#9c2,#6c2,#5b2,#5b2,#4b3,#4a4,#4a4,#5b3,#4b4,#4b3,#5b2,#5b2,#5b2,#4a4,#5b3,#5b3,#4a4,#4a5,#4b4,#6c2,#5c2,#4b3,#5b2,#5b3,#4a5,#4a5,#4a5,#396,#4a4,#4b4,#5b2,#5b2,#5b3,#4b3,#4a5,#388,#387,#396,#4b3,#5c2,#5c2,#5c2,#5c2,#5c2,#5b3,#4a4,#4b4,#6c2,#7c2,#6c2,#6c2,#6c2,#4a4,#4a4,#5c2,#6c2,#6c2,#4b3,#4a4,#4b3,#5b2,#5b3,#4b3,#5b3,#5b2,#4b3,#4b4,#5b3,#396,#396,#6c2,#ac2,#bc2,#bc2,#8c2,#5c2,#5c2,#7c2,#8c2,#9c2,#ac2,#8c2,#bc2,#dc2,#ac2,#7c2,#7c2,#ac2,#9c2,#6c2,#5c2,#5c2,#7c2,#6c2,#5c2,#5b2,#4b3,#5b3,#7c2,#8c2,#7c2)"></i>
<i style="top:84.33px;height:3.51px;background:linear-gradient(90deg,#4a5,#4a4,#5b3,#5c2,#4b4,#396,#397,#4a4,#6c2,#5b3,#4a4,#6c2,#8c2,#8c2,#8c2,#9c2,#6c2,#4a5,#4a5,#6c2,#6c2,#5b3,#8c2,#ac2,#bc2,#bc2,#8c2,#5c2,#5c2,#7c2,#9c2,#ac2,#ac2,#bc2,#cc2,#cc2,#dc2,#dc2,#dc2,#dc2,#ec2,#cc2,#cc2,#dc2,#cc2,#dc2,#e92,#f61,#f31,#f20,#f41,#e82,#eb2,#ec2,#dc2,#cc2,#bc2,#8c2,#6c2,#7c2,#5b3,#6b3,#bc2,#bc2,#9c2,#6c2,#5b2,#5b2,#4b3,#4a5,#4a4,#5b3,#4a4,#5b3,#5b2,#5b3,#4b3,#4a5,#5b3,#4b3,#4a4,#495,#4b3,#6c2,#5b2,#5b3,#5c2,#4b3,#4a5,#4a5,#495,#396,#4b4,#4b4,#5b2,#5b2,#5b3,#4b3,#396,#388,#387,#495,#5b3,#5c2,#5b2,#5c2,#5c2,#5c2,#5b3,#4a5,#4a4,#6c2,#7c2,#6c2,#7c2,#6c2,#4a5,#4a4,#6c2,#6c2,#6c2,#4a4,#4a4,#4b4,#5b3,#5b3,#4b3,#5b2,#5b2,#4b3,#4b3,#4b3,#396,#4a4,#7c2,#ac2,#bc2,#bc2,#7c2,#5b2,#5c2,#7c2,#8c2,#9c2,#9c2,#8c2,#cc2,#dc2,#9c2,#7c2,#8c2,#ac2,#7c2,#6c2,#5c2,#5c2,#7c2,#6c2,#5c2,#5b2,#4b3,#5b3,#8c2,#8c2,#7c2)"></i>
<i style="top:87.35px;height:3.51px;background:linear-gradient(90deg,#4a4,#4b4,#5b2,#5c2,#4a4,#396,#396,#4b4,#7c2,#5b3,#4b3,#6c2,#8c2,#8c2,#9c2,#9c2,#6b2,#4a5,#4b4,#6c2,#6c2,#5b3,#8c2,#bc2,#bc2,#bc2,#8c2,#5c2,#6c2,#8c2,#ac2,#ac2,#ac2,#bc2,#cc2,#dc2,#dc2,#dc2,#dc2,#ec2,#ec2,#cc2,#dc2,#dc2,#cc2,#db2,#e92,#f61,#f21,#f31,#f51,#e92,#eb2,#ec2,#dc2,#bc2,#ac2,#8c2,#6c2,#7c2,#5b3,#7c2,#bc2,#bc2,#8c2,#6c2,#5c2,#5b2,#4b4,#4a5,#4b3,#5b3,#4a4,#5b3,#5b3,#4b3,#4a4,#4a5,#5b2,#4b3,#4a5,#396,#4b3,#6c2,#5b2,#5b3,#5c2,#4b3,#4a5,#4a5,#396,#495,#4b3,#4b4,#5b2,#5b2,#5b2,#4b4,#387,#388,#387,#4a4,#5c2,#5c2,#5b2,#5c2,#6c2,#5c2,#4b3,#495,#4a4,#6c2,#7c2,#6c2,#7c2,#6b3,#4a5,#5b3,#6c2,#7c2,#5b2,#4a4,#4a5,#4a4,#5b3,#4b3,#5b3,#5b2,#5b2,#4b4,#4b3,#4b4,#495,#5b3,#8c2,#bc2,#bc2,#ac2,#6c2,#5b3,#5c2,#7c2,#8c2,#ac2,#9c2,#8c2,#cc2,#dc2,#9c2,#8c2,#9c2,#ac2,#6c2,#6c2,#5c2,#6c2,#7c2,#5c2,#5c2,#5b2,#5b3,#6c2,#9c2,#8c2,#8c2)"></i>
<i style="top:90.36px;height:3.51px;background:linear-gradient(90deg,#4b3,#4b3,#5c2,#5c2,#4a4,#396,#4a5,#5b3,#7c2,#5b3,#5b3,#6c2,#7c2,#8c2,#9c2,#9c2,#5b3,#4a5,#5b3,#7c2,#6c2,#6b2,#9c2,#bc2,#bc2,#ac2,#7c2,#5c2,#6c2,#9c2,#ac2,#ac2,#bc2,#bc2,#cc2,#dc2,#dc2,#dc2,#dc2,#ec2,#eb2,#dc2,#dc2,#dc2,#dc2,#db2,#e92,#f61,#f31,#f41,#f61,#e92,#ec2,#ec2,#cc2,#bc2,#9c2,#7c2,#6c2,#6c2,#5b2,#8c2,#bc2,#ac2,#8c2,#5c2,#5c2,#5b2,#4a4,#4a5,#4b3,#4b3,#4a4,#5b2,#4b3,#4b4,#495,#4a5,#5b2,#4a4,#396,#396,#5b3,#5c2,#5b3,#5b2,#5c2,#4b3,#4a4,#4a5,#396,#4a4,#4b3,#4b3,#5c2,#5c2,#5c2,#4a4,#388,#387,#396,#4b3,#5c2,#5c2,#5b3,#5c2,#6c2,#5c2,#4b4,#396,#4a4,#6c2,#7c2,#7c2,#7c2,#5b3,#4a5,#5b3,#6c2,#6c2,#5b3,#4a5,#396,#4a4,#5b3,#4b3,#5b3,#5b2,#5b3,#4a4,#5b3,#4a4,#4a5,#5b3,#9c2,#ac2,#bc2,#9c2,#6c2,#5b3,#6c2,#7c2,#9c2,#ac2,#8c2,#9c2,#dc2,#cc2,#9c2,#9c2,#ac2,#9c2,#6c2,#6c2,#5c2,#6c2,#7c2,#5c2,#5c2,#5c2,#5b2,#7c2,#9c2,#8c2,#8c2)"></i>
<i style="top:93.37px;height:3.51px;background:linear-gradient(90deg,#4b3,#5b3,#6c2,#5c2,#4b4,#495,#4a5,#5b3,#8c2,#5b3,#5b3,#6c2,#7c2,#8c2,#ac2,#8c2,#5b3,#4a4,#5b2,#7c2,#5b2,#6c2,#9c2,#ac2,#bc2,#ac2,#7c2,#5c2,#7c2,#ac2,#ac2,#ac2,#bc2,#bc2,#cc2,#dc2,#dc2,#dc2,#ec2,#eb2,#eb2,#dc2,#eb2,#dc2,#dc2,#eb2,#e92,#f61,#f31,#f51,#e72,#ea2,#dc2,#ec2,#cc2,#ac2,#9c2,#6c2,#6c2,#6c2,#5c2,#9c2,#bc2,#9c2,#7c2,#5b2,#5c2,#5b3,#4a4,#4a4,#5b3,#4b4,#4a4,#5b2,#4a4,#4a5,#397,#4a4,#5b3,#4a5,#397,#396,#5b3,#5c2,#5b3,#5c2,#5c2,#4b3,#4a4,#4a4,#396,#4b4,#4b4,#4b3,#5c2,#5c2,#5c2,#4a5,#388,#387,#495,#5b3,#5c2,#5b2,#5b3,#5c2,#6c2,#5b2,#4a4,#396,#4b4,#6c2,#7c2,#7c2,#7c2,#5b3,#4a5,#5b3,#6c2,#6c2,#4b3,#396,#396,#4a4,#4b3,#4b3,#5b2,#5b2,#4b3,#4a4,#5b3,#4a4,#4a4,#6c2,#9c2,#ac2,#bc2,#8c2,#5b2,#5b3,#6c2,#8c2,#9c2,#ac2,#7c2,#9c2,#dc2,#bc2,#9c2,#9c2,#ac2,#7c2,#6c2,#7c2,#5c2,#7c2,#6c2,#5c2,#6c2,#5c2,#6c2,#8c2,#9c2,#8c2,#8c2)"></i>
<i style="top:96.38px;height:3.51px;background:linear-gradient(90deg,#5b3,#5c2,#6c2,#5c2,#4b4,#4a5,#4a4,#6c2,#8c2,#5b3,#5c2,#6c2,#7c2,#8c2,#ac2,#8c2,#5b3,#4a4,#6c2,#7c2,#5c2,#7c2,#9c2,#ac2,#ac2,#9c2,#7c2,#6c2,#8c2,#ac2,#ac2,#ac2,#bc2,#cc2,#dc2,#dc2,#ec2,#dc2,#ec2,#eb2,#db2,#dc2,#eb2,#dc2,#dc2,#eb2,#e92,#f61,#f41,#f61,#e82,#eb2,#dc2,#dc2,#bc2,#ac2,#8c2,#6c2,#6c2,#6c2,#6c2,#ac2,#ac2,#9c2,#6c2,#5b2,#5c2,#5b3,#4a5,#4a4,#5b3,#4a4,#4b4,#5b3,#4a5,#396,#387,#4b4,#5b3,#396,#387,#396,#5b3,#5c2,#5b2,#6c2,#5c2,#4b3,#4a4,#4a4,#4a5,#4b3,#4b4,#5b3,#6c2,#6c2,#5c2,#396,#387,#397,#4a5,#5b3,#5c2,#5b3,#4b3,#5c2,#6c2,#5b2,#4a5,#397,#5b3,#7c2,#7c2,#7c2,#7c2,#4b3,#4a5,#6c2,#6c2,#6c2,#4a4,#397,#396,#4a4,#4b3,#4b3,#5b2,#5b2,#4b4,#4a4,#5b3,#4a4,#4b3,#7c2,#9c2,#ac2,#ac2,#7c2,#5b2,#5b2,#6c2,#8c2,#ac2,#9c2,#6c2,#ac2,#dc2,#bc2,#9c2,#ac2,#ac2,#6c2,#6c2,#7c2,#6c2,#8c2,#6c2,#5c2,#6c2,#5c2,#7c2,#9c2,#9c2,#8c2,#8c2)"></i>
<i style="top:99.39px;height:3.51px;background:linear-gradient(90deg,#5c2,#6c2,#7c2,#5c2,#4b4,#4a4,#4b3,#7c2,#8c2,#5b2,#5c2,#6c2,#7c2,#8c2,#ac2,#8c2,#5b3,#4b3,#6c2,#7c2,#5c2,#7c2,#9c2,#ac2,#ac2,#9c2,#7c2,#6c2,#9c2,#ac2,#ac2,#bc2,#cc2,#cc2,#dc2,#ec2,#ec2,#dc2,#eb2,#ea2,#db2,#dc2,#eb2,#dc2,#dc2,#eb2,#e92,#f61,#f51,#e72,#e92,#dc2,#dc2,#dc2,#bc2,#9c2,#7c2,#5c2,#6c2,#6c2,#6c2,#ac2,#ac2,#8c2,#6c2,#5b3,#5c2,#4b3,#4a5,#4b4,#5b3,#4a4,#4b3,#4b3,#396,#397,#388,#5b3,#4b4,#397,#388,#396,#5b3,#5c2,#5b2,#6c2,#5c2,#4b3,#4a4,#4a4,#4a4,#5b3,#4a4,#5b3,#6c2,#7c2,#5b3,#396,#387,#396,#4a4,#5b2,#5c2,#4b3,#4b3,#6c2,#6c2,#5b3,#396,#397,#5b3,#7c2,#7c2,#7c2,#6c2,#4b4,#4a4,#6c2,#6c2,#5c2,#4a5,#387,#396,#4b4,#4a4,#4b3,#5b2,#5b3,#4a4,#4b3,#5b3,#4a4,#5b3,#7c2,#9c2,#ac2,#ac2,#7c2,#5b3,#5b2,#6c2,#8c2,#ac2,#9c2,#6c2,#ac2,#dc2,#bc2,#ac2,#bc2,#9c2,#6c2,#7c2,#6c2,#7c2,#8c2,#6c2,#6c2,#6c2,#6c2,#8c2,#9c2,#ac2,#8c2,#9c2)"></i>
<i style="top:102.41px;height:3.51px;background:linear-gradient(90deg,#6c2,#6c2,#7c2,#5c2,#4b3,#4b4,#5b3,#8c2,#8c2,#5b2,#5c2,#5c2,#7c2,#8c2,#ac2,#8c2,#5b3,#5b3,#7c2,#7c2,#6c2,#7c2,#9c2,#ac2,#9c2,#9c2,#7c2,#7c2,#9c2,#ac2,#ac2,#bc2,#cc2,#cc2,#dc2,#eb2,#eb2,#ec2,#eb2,#ea2,#dc2,#db2,#eb2,#dc2,#dc2,#eb2,#e92,#f61,#f61,#e92,#ea2,#dc2,#dc2,#dc2,#ac2,#9c2,#6c2,#5c2,#6c2,#6c2,#7c2,#ac2,#9c2,#7c2,#5b3,#5b3,#6c2,#4b4,#4a5,#4b3,#5b3,#4a4,#5b3,#4a4,#387,#388,#397,#5b3,#4a5,#388,#388,#495,#5b3,#5b2,#5c2,#6c2,#5c2,#4b3,#4b4,#4a4,#4b4,#5b3,#4a4,#5c2,#7c2,#7c2,#5b3,#396,#396,#495,#4b4,#5b2,#5c2,#4b3,#4b3,#6c2,#6c2,#5b3,#397,#396,#5c2,#7c2,#7c2,#7c2,#6c2,#4a4,#4b4,#6c2,#6c2,#5b3,#396,#388,#396,#4b3,#4a4,#4b3,#5b2,#5b3,#4a4,#4b3,#4b3,#4b4,#5b2,#7c2,#8c2,#ac2,#9c2,#6c2,#5b3,#5c2,#7c2,#9c2,#ac2,#8c2,#6c2,#bc2,#dc2,#ac2,#ac2,#bc2,#8c2,#6c2,#7c2,#6c2,#8c2,#7c2,#5c2,#6c2,#7c2,#6c2,#8c2,#ac2,#9c2,#8c2,#9c2)"></i>
<i style="top:105.42px;height:3.51px;background:linear-gradient(90deg,#7c2,#7c2,#7c2,#5c2,#4b3,#4b3,#5b3,#9c2,#8c2,#5b2,#5c2,#5c2,#7c2,#9c2,#ac2,#7c2,#5b3,#5b2,#7c2,#7c2,#6c2,#8c2,#9c2,#9c2,#9c2,#9c2,#7c2,#7c2,#ac2,#ac2,#ac2,#bc2,#cc2,#dc2,#ec2,#eb2,#eb2,#eb2,#eb2,#ea2,#dc2,#eb2,#ea2,#dc2,#cc2,#ec2,#ea2,#f71,#e82,#ea2,#eb2,#cc2,#dc2,#cc2,#ac2,#8c2,#6c2,#5b2,#6c2,#6c2,#8c2,#9c2,#8c2,#6c2,#5b3,#5b3,#5c2,#4a4,#4a4,#5b3,#5b3,#4a4,#5b3,#4a5,#388,#289,#397,#5b3,#396,#388,#388,#4a5,#5b3,#5c2,#5c2,#6c2,#5b2,#4b3,#4b4,#4a4,#5b3,#4b3,#4b4,#6c2,#7c2,#8c2,#5b4,#396,#396,#4a5,#4b3,#5c2,#5c2,#4b4,#4b4,#6c2,#6c2,#4b3,#387,#4a5,#6c2,#7c2,#7c2,#6c2,#6c2,#4a4,#5b3,#7c2,#6c2,#4b3,#396,#388,#495,#4b4,#4a5,#4b3,#5b3,#4b3,#4a4,#5b3,#4b3,#4b3,#6c2,#7c2,#8c2,#9c2,#9c2,#6c2,#5b2,#5c2,#8c2,#9c2,#ac2,#7c2,#6c2,#bc2,#cc2,#bc2,#bc2,#bc2,#7c2,#6c2,#8c2,#7c2,#8c2,#7c2,#5c2,#7c2,#7c2,#7c2,#9c2,#ac2,#9c2,#8c2,#ac2)"></i>
<i style="top:108.43px;height:3.51px;background:linear-gradient(90deg,#7c2,#7c2,#6c2,#5b2,#4b3,#4b3,#6c2,#ac2,#7c2,#5b2,#5b3,#5c2,#7c2,#9c2,#ac2,#7c2,#5b3,#6c2,#8c2,#7c2,#6c2,#8c2,#9c2,#9c2,#9c2,#9c2,#7c2,#8c2,#ac2,#ac2,#ac2,#cc2,#cc2,#dc2,#eb2,#ea2,#eb2,#eb2,#ea2,#ea2,#ec2,#ea2,#ea2,#dc2,#cc2,#dc2,#ea2,#e72,#e92,#ea2,#dc2,#cc2,#cc2,#bc2,#9c2,#7c2,#6c2,#5c2,#6c2,#6c2,#8c2,#9c2,#8c2,#6c2,#4b3,#5c2,#6c2,#4a4,#4a4,#5b2,#5b3,#4b3,#5b3,#396,#389,#27a,#4a6,#5b3,#397,#389,#387,#4a5,#5b3,#5c2,#6c2,#7c2,#5b2,#4b3,#4b3,#4b3,#5b2,#4b4,#4b4,#6c2,#8c2,#8c2,#4a4,#396,#4a5,#4a5,#4b3,#6c2,#5b3,#4a4,#4b3,#7c2,#6c2,#4a4,#388,#4a4,#6c2,#7c2,#6c2,#6c2,#5c2,#4a4,#5b3,#7c2,#6c2,#4b4,#397,#388,#4a5,#4a4,#4a5,#5b3,#5b3,#4b3,#4a4,#5b2,#4b3,#5b3,#6c2,#7c2,#8c2,#9c2,#8c2,#6c2,#5b2,#6c2,#8c2,#ac2,#ac2,#6c2,#7c2,#cc2,#cc2,#bc2,#bc2,#ac2,#6c2,#7c2,#8c2,#7c2,#9c2,#7c2,#6c2,#8c2,#7c2,#8c2,#ac2,#bc2,#9c2,#8c2,#bc2)"></i>
<i style="top:111.44px;height:3.51px;background:linear-gradient(90deg,#7c2,#7c2,#6c2,#5b2,#4b3,#4b3,#6c2,#ac2,#7c2,#5b3,#5b3,#5c2,#7c2,#9c2,#9c2,#7c2,#5b3,#6c2,#8c2,#7c2,#7c2,#8c2,#9c2,#8c2,#9c2,#9c2,#7c2,#8c2,#ac2,#ac2,#ac2,#cc2,#dc2,#ec2,#ea2,#ea2,#ea2,#ea2,#ea2,#ea2,#ec2,#ea2,#ea2,#dc2,#cc2,#dc2,#ea2,#e82,#ea2,#eb2,#dc2,#bc2,#cc2,#bc2,#9c2,#7c2,#5c2,#5c2,#6c2,#7c2,#9c2,#9c2,#7c2,#5c2,#4b3,#6c2,#6c2,#4b4,#4b3,#5c2,#5b3,#4b3,#5b3,#397,#289,#27a,#4a5,#5b3,#387,#388,#387,#4a5,#5b2,#5c2,#6c2,#7c2,#5b2,#4b3,#4b3,#4b3,#5b2,#4a4,#5b3,#6c2,#8c2,#7c2,#4a5,#396,#4a4,#4a4,#5b3,#6c2,#5b3,#4a4,#5b3,#7c2,#6c2,#4a5,#388,#4b4,#6c2,#7c2,#5c2,#6c2,#5b2,#4a4,#6c2,#7c2,#5c2,#4a4,#387,#387,#4b4,#4a4,#4a5,#5b3,#5b2,#4b4,#4b3,#5b2,#4b3,#5b2,#6c2,#7c2,#8c2,#9c2,#8c2,#6c2,#5c2,#7c2,#9c2,#ac2,#ac2,#6c2,#8c2,#cc2,#cc2,#bc2,#bc2,#9c2,#6c2,#7c2,#8c2,#7c2,#9c2,#6c2,#6c2,#8c2,#7c2,#9c2,#ac2,#bc2,#8c2,#9c2,#bc2)"></i>
<i style="top:114.45px;height:3.51px;background:linear-gradient(90deg,#7c2,#7c2,#5c2,#5b3,#4b3,#5b3,#7c2,#ac2,#6c2,#5b3,#4b3,#5c2,#7c2,#9c2,#9c2,#6c2,#5b2,#7c2,#8c2,#8c2,#7c2,#8c2,#8c2,#8c2,#9c2,#9c2,#7c2,#8c2,#ac2,#ac2,#bc2,#cc2,#dc2,#eb2,#ea2,#e92,#ea2,#ea2,#e92,#ea2,#eb2,#e92,#ea2,#dc2,#cc2,#dc2,#ea2,#e92,#eb2,#ec2,#cc2,#bc2,#cc2,#ac2,#8c2,#6c2,#5c2,#5c2,#7c2,#7c2,#9c2,#8c2,#7c2,#5b3,#4b3,#6c2,#6c2,#4b3,#5b3,#5c2,#5b3,#5b3,#4b3,#388,#27a,#28a,#5b4,#5b4,#388,#388,#396,#4a4,#5c2,#6c2,#7c2,#7c2,#5b2,#4b3,#5b3,#5b3,#5b2,#4a4,#5b3,#7c2,#9c2,#7c2,#4a5,#4a5,#4a4,#4a4,#5b3,#6c2,#5b3,#4a4,#5b3,#7c2,#5c2,#496,#388,#5b3,#6c2,#6c2,#5b2,#6c2,#5b3,#4b4,#6c2,#7c2,#5b3,#4a4,#387,#396,#4b3,#4a5,#4a5,#5b2,#5b2,#4b3,#5b3,#5b3,#5b3,#5c2,#6c2,#7c2,#8c2,#9c2,#8c2,#6c2,#5c2,#8c2,#ac2,#bc2,#ac2,#6c2,#8c2,#cc2,#cc2,#bc2,#bc2,#9c2,#5c2,#8c2,#7c2,#8c2,#9c2,#6c2,#7c2,#9c2,#8c2,#9c2,#bc2,#bc2,#8c2,#9c2,#bc2)"></i>
<i style="top:117.47px;height:3.51px;background:linear-gradient(90deg,#7c2,#7c2,#5c2,#4b3,#4b3,#5b3,#7c2,#ac2,#6b2,#4b3,#4b3,#5c2,#7c2,#9c2,#9c2,#6c2,#6c2,#8c2,#8c2,#8c2,#8c2,#8c2,#8c2,#8c2,#9c2,#9c2,#7c2,#8c2,#ac2,#9c2,#bc2,#dc2,#dc2,#eb2,#e92,#e92,#ea2,#ea2,#e92,#ea2,#eb2,#e92,#eb2,#cc2,#cc2,#dc2,#ea2,#e92,#eb2,#dc2,#bc2,#ac2,#cc2,#ac2,#7c2,#6c2,#5c2,#6c2,#7c2,#7c2,#9c2,#8c2,#6c2,#5b3,#5b3,#7c2,#6c2,#4b3,#5b2,#5c2,#5b3,#5b2,#4a4,#289,#27a,#289,#5b3,#4a4,#388,#387,#396,#4a4,#5c2,#6c2,#8c2,#7c2,#5b2,#5b3,#5b2,#5b2,#5b3,#4a4,#5b3,#7c2,#9c2,#6c2,#495,#4a4,#4b4,#4a4,#5c2,#6c2,#5b3,#4a4,#6b3,#7c2,#5b2,#397,#397,#5c2,#6c2,#5c2,#5b3,#5c2,#5b3,#4b3,#7c2,#6c2,#5b3,#4a5,#387,#4a5,#5b3,#495,#4a4,#5c2,#5b3,#4b3,#5c2,#5b3,#5b3,#5c2,#7c2,#6c2,#8c2,#9c2,#8c2,#6c2,#6c2,#9c2,#ac2,#bc2,#9c2,#5c2,#9c2,#dc2,#cc2,#cc2,#bc2,#8c2,#6c2,#8c2,#7c2,#8c2,#8c2,#6c2,#8c2,#9c2,#8c2,#ac2,#bc2,#bc2,#8c2,#ac2,#cc2)"></i>
<i style="top:120.48px;height:3.51px;background:linear-gradient(90deg,#7c2,#6c2,#5b2,#4b3,#4b3,#5b3,#8c2,#ac2,#5b3,#4b3,#4b4,#5c2,#6c2,#8c2,#9c2,#6c2,#6c2,#8c2,#9c2,#8c2,#8c2,#8c2,#8c2,#8c2,#ac2,#9c2,#6c2,#8c2,#ac2,#9c2,#bc2,#dc2,#ec2,#ea2,#e92,#e92,#e92,#e92,#e92,#eb2,#eb2,#e92,#eb2,#cc2,#cc2,#dc2,#ea2,#ea2,#ec2,#dc2,#ac2,#ac2,#bc2,#9c2,#7c2,#6c2,#5c2,#6c2,#7c2,#7c2,#9c2,#8c2,#6c2,#4b3,#5b3,#7c2,#6c2,#5b3,#5c2,#6c2,#5b2,#5c2,#4a5,#289,#27b,#388,#5b2,#4a5,#388,#397,#495,#4b3,#6c2,#7c2,#8c2,#7c2,#5b3,#5b2,#5c2,#5c2,#5b3,#4a4,#5b2,#8c2,#9c2,#6b3,#396,#4b4,#4b4,#4a4,#6c2,#6c2,#4b3,#4b4,#6c2,#7c2,#5b3,#397,#496,#6c2,#6c2,#5b3,#4b3,#5c2,#5b3,#5b3,#7c2,#6c2,#4b3,#4a5,#396,#4b4,#5b3,#396,#4b4,#5c2,#5b3,#4b3,#5c2,#5b3,#5c2,#6c2,#7c2,#6c2,#8c2,#9c2,#8c2,#6c2,#7c2,#ac2,#ac2,#cc2,#9c2,#6c2,#ac2,#dc2,#cc2,#cc2,#bc2,#7c2,#6c2,#8c2,#7c2,#8c2,#8c2,#6c2,#9c2,#9c2,#9c2,#ac2,#cc2,#bc2,#8c2,#bc2,#cc2)"></i>
<i style="top:123.49px;height:3.51px;background:linear-gradient(90deg,#6c2,#6c2,#5b3,#4b4,#4b3,#5b2,#9c2,#9c2,#5b3,#4a4,#4b4,#5c2,#6c2,#8c2,#8c2,#6c2,#7c2,#8c2,#9c2,#8c2,#8c2,#8c2,#8c2,#8c2,#ac2,#9c2,#6c2,#8c2,#9c2,#9c2,#bc2,#dc2,#eb2,#ea2,#e92,#e92,#e92,#e92,#e92,#eb2,#ea2,#e92,#eb2,#cc2,#cc2,#dc2,#ea2,#eb2,#dc2,#cc2,#9c2,#ac2,#bc2,#8c2,#7c2,#5c2,#5c2,#7c2,#7c2,#7c2,#9c2,#7c2,#5c2,#4b4,#5b3,#7c2,#6c2,#5b3,#5c2,#6c2,#5c2,#5c2,#496,#27a,#27b,#397,#5c2,#4a5,#387,#396,#4a5,#5b3,#6c2,#7c2,#8c2,#7c2,#5b3,#5b2,#5c2,#5c2,#4b3,#4a4,#5c2,#8c2,#9c2,#5b3,#495,#4b3,#4b4,#4b4,#6c2,#6c2,#4b3,#4b3,#6c2,#7c2,#5b3,#387,#4a5,#6c2,#6c2,#4b3,#4b3,#5c2,#5b3,#5b3,#7c2,#6c2,#4b3,#4a5,#396,#5b3,#5b3,#396,#5b3,#6c2,#5b3,#5b3,#5c2,#5b3,#5c2,#6c2,#6c2,#6c2,#9c2,#ac2,#9c2,#7c2,#8c2,#ac2,#bc2,#cc2,#8c2,#6c2,#ac2,#dc2,#cc2,#cc2,#ac2,#7c2,#7c2,#8c2,#7c2,#9c2,#7c2,#6c2,#9c2,#8c2,#9c2,#bc2,#cc2,#ac2,#9c2,#bc2,#cc2)"></i>
<i style="top:126.50px;height:3.51px;background:linear-gradient(90deg,#6c2,#5c2,#5b3,#4a4,#4b3,#5b2,#9c2,#8c2,#4b3,#4a4,#4a4,#5c2,#6c2,#8c2,#8c2,#6c2,#7c2,#9c2,#9c2,#9c2,#9c2,#9c2,#8c2,#9c2,#ac2,#8c2,#6c2,#8c2,#9c2,#9c2,#cc2,#dc2,#eb2,#ea2,#e92,#e92,#ea2,#e92,#e92,#eb2,#ea2,#e92,#eb2,#cc2,#cc2,#dc2,#eb2,#ec2,#dc2,#bc2,#8c2,#ac2,#ac2,#8c2,#6c2,#5c2,#5c2,#7c2,#7c2,#7c2,#8c2,#6c2,#5b2,#4b4,#6b3,#8c2,#6c2,#5c2,#6c2,#6c2,#5c2,#5c2,#396,#27a,#27b,#396,#5c2,#495,#397,#4a5,#4a5,#5b3,#6c2,#7c2,#8c2,#6c2,#5b3,#5c2,#5c2,#5b2,#4b4,#4a4,#6c2,#9c2,#9c2,#5b4,#4a5,#5b3,#4b4,#5b3,#7c2,#6c2,#4b3,#5b3,#7c2,#7c2,#4b4,#387,#5b4,#7c2,#6c2,#4a4,#5b3,#5c2,#5b3,#6c2,#7c2,#5b2,#4b3,#4a4,#4a5,#6c2,#5b4,#396,#5b2,#6c2,#5b3,#5b2,#5c2,#5b2,#5c2,#6c2,#6c2,#7c2,#ac2,#ac2,#9c2,#7c2,#9c2,#bc2,#bc2,#cc2,#8c2,#6c2,#bc2,#cc2,#cc2,#bc2,#ac2,#6c2,#7c2,#8c2,#7c2,#9c2,#7c2,#7c2,#9c2,#8c2,#9c2,#bc2,#cc2,#ac2,#9c2,#bc2,#cc2)"></i>
<i style="top:129.51px;height:3.51px;background:linear-gradient(90deg,#5c2,#5b2,#4b3,#4a4,#4b3,#5b2,#9c2,#8c2,#4a4,#4a5,#4b4,#5c2,#6c2,#7c2,#8c2,#7c2,#8c2,#9c2,#9c2,#9c2,#9c2,#9c2,#8c2,#9c2,#bc2,#8c2,#6c2,#8c2,#9c2,#9c2,#cc2,#dc2,#eb2,#ea2,#e92,#e92,#ea2,#e92,#e92,#ec2,#ea2,#e92,#db2,#bc2,#cc2,#dc2,#eb2,#dc2,#dc2,#ac2,#8c2,#ac2,#ac2,#7c2,#6c2,#5c2,#6c2,#7c2,#7c2,#7c2,#8c2,#6c2,#5b3,#4b4,#6c2,#8c2,#6c2,#5c2,#6c2,#6c2,#5c2,#5b3,#397,#27a,#27b,#4a5,#5b2,#495,#396,#4a5,#4a4,#5b2,#7c2,#8c2,#8c2,#6c2,#4b3,#5c2,#5c2,#5b3,#4a4,#4a4,#6c2,#9c2,#8c2,#4a4,#4a5,#5b2,#4b4,#5b3,#7c2,#6c2,#4b3,#5b3,#7c2,#6c2,#4a4,#397,#5b3,#7c2,#5b2,#4a4,#5b3,#5c2,#5b2,#6c2,#7c2,#5b3,#4b3,#4a4,#4b4,#6c2,#4a4,#4a5,#6c2,#6c2,#5b3,#5c2,#5c2,#5b2,#6c2,#6c2,#6c2,#7c2,#ac2,#bc2,#9c2,#8c2,#ac2,#cc2,#cc2,#cc2,#7c2,#7c2,#bc2,#cc2,#cc2,#bc2,#ac2,#6c2,#8c2,#7c2,#7c2,#9c2,#7c2,#8c2,#9c2,#8c2,#9c2,#bc2,#cc2,#ac2,#ac2,#bc2,#bc2)"></i>
<i style="top:132.52px;height:3.51px;background:linear-gradient(90deg,#5b2,#5b3,#4b4,#4a5,#4b3,#6c2,#9c2,#7c3,#4a5,#4a5,#4b4,#5b2,#5c2,#7c2,#8c2,#7c2,#9c2,#9c2,#9c2,#9c2,#9c2,#9c2,#8c2,#ac2,#bc2,#7c2,#6c2,#8c2,#8c2,#9c2,#cc2,#dc2,#eb2,#ea2,#e92,#ea2,#ea2,#e92,#ea2,#ec2,#ea2,#e92,#db2,#bc2,#cc2,#dc2,#ec2,#dc2,#cc2,#9c2,#7c2,#9c2,#9c2,#7c2,#6c2,#5c2,#6c2,#8c2,#7c2,#7c2,#7c2,#5c2,#4b3,#4b4,#7c2,#8c2,#6c2,#5c2,#6c2,#6c2,#5c2,#5b3,#388,#27b,#27b,#4a5,#5b3,#4a5,#4a5,#4a4,#4a4,#6c2,#7c2,#8c2,#8c2,#5b3,#4b3,#5c2,#5c2,#5b3,#4a4,#4a4,#6c2,#ac2,#8c2,#4a4,#4a4,#5b2,#4b4,#5b3,#8c2,#6c2,#5b3,#5b2,#7c2,#6c2,#4a5,#396,#6c2,#7c2,#5b3,#4a4,#5b3,#5c2,#5c2,#7c2,#7c2,#5b3,#5b3,#4b4,#5b3,#7c2,#4a5,#4a4,#7c2,#6c2,#5b3,#5c2,#5c2,#5c2,#6c2,#7c2,#6c2,#8c2,#bc2,#bc2,#9c2,#9c2,#bc2,#cc2,#cc2,#cc2,#7c2,#8c2,#cc2,#cc2,#cc2,#bc2,#9c2,#7c2,#8c2,#7c2,#7c2,#9c2,#7c2,#8c2,#9c2,#8c2,#9c2,#bc2,#cc2,#ac2,#ac2,#cc2,#bc2)"></i>
<i style="top:135.54px;height:3.51px;background:linear-gradient(90deg,#5b3,#5b3,#4a4,#4a5,#4b3,#6c2,#9c2,#6b3,#4a5,#4a5,#4b4,#5b3,#5c2,#7c2,#8c2,#8c2,#9c2,#9c2,#9c2,#9c2,#ac2,#9c2,#8c2,#ac2,#bc2,#7c2,#6c2,#8c2,#8c2,#9c2,#cc2,#dc2,#eb2,#ea2,#ea2,#ea2,#ea2,#ea2,#ea2,#dc2,#ea2,#ea2,#db2,#bc2,#cc2,#dc2,#dc2,#dc2,#cc2,#8c2,#7c2,#9c2,#9c2,#6c2,#5c2,#5c2,#6c2,#8c2,#6c2,#6c2,#6c2,#5b2,#4b3,#4b4,#7c2,#8c2,#6c2,#6c2,#6c2,#6c2,#5c2,#5b3,#388,#27b,#27b,#4a4,#5b3,#4a5,#4a4,#4b3,#4b3,#6c2,#7c2,#9c2,#8c2,#5b3,#4b3,#6c2,#5b2,#4b3,#4a4,#4b4,#7c2,#ac2,#7c2,#4a5,#4b4,#5c2,#4b4,#6c2,#8c2,#6c2,#5b3,#6c2,#7c2,#6c2,#495,#495,#7c2,#8c2,#5b3,#4a4,#5b2,#5c2,#5c2,#7c2,#6c2,#5b2,#5b2,#4b3,#6b2,#7c2,#4a5,#5b4,#8c2,#6c2,#5b3,#5c2,#5c2,#5c2,#6c2,#7c2,#6c2,#ac2,#cc2,#bc2,#ac2,#ac2,#cc2,#cc2,#cc2,#bc2,#7c2,#8c2,#cc2,#cc2,#cc2,#cc2,#9c2,#7c2,#9c2,#6c2,#7c2,#9c2,#7c2,#8c2,#9c2,#8c2,#ac2,#cc2,#cc2,#ac2,#bc2,#cc2,#bc2)"></i>
<i style="top:138.55px;height:3.51px;background:linear-gradient(90deg,#5b3,#4b3,#4a4,#4a5,#4b3,#6c2,#9c2,#6b3,#396,#4a5,#4b4,#5b3,#5b2,#6c2,#8c2,#8c2,#9c2,#9c2,#9c2,#9c2,#ac2,#9c2,#9c2,#bc2,#bc2,#7c2,#6c2,#8c2,#8c2,#9c2,#cc2,#dc2,#eb2,#ea2,#ea2,#eb2,#ea2,#ea2,#eb2,#dc2,#ea2,#ea2,#dc2,#bc2,#cc2,#dc2,#dc2,#cc2,#bc2,#7c2,#6c2,#9c2,#8c2,#6c2,#5c2,#5c2,#7c2,#8c2,#6c2,#6c2,#6c2,#5b3,#4b3,#4b3,#8c2,#8c2,#6c2,#6c2,#6c2,#5c2,#5c2,#4b4,#388,#27b,#27a,#4b3,#5b3,#4a4,#4b4,#4b3,#5b3,#6c2,#7c2,#9c2,#8c2,#4b4,#4b3,#6c2,#5b3,#4b3,#4a5,#4b3,#7c2,#ac2,#6c2,#4a5,#5b3,#5b2,#4b4,#6c2,#7c2,#5c2,#5b3,#6c2,#7c2,#6c2,#396,#4a5,#7c2,#8c2,#5b3,#4b4,#5c2,#5c2,#6c2,#8c2,#6c2,#5c2,#5c2,#5b3,#7c2,#7c2,#4a4,#6b3,#8c2,#6c2,#5b3,#5c2,#5b2,#5c2,#6c2,#6c2,#7c2,#bc2,#cc2,#cc2,#ac2,#bc2,#cc2,#cc2,#dc2,#bc2,#7c2,#9c2,#bc2,#cc2,#cc2,#cc2,#9c2,#8c2,#9c2,#6c2,#8c2,#9c2,#7c2,#8c2,#9c2,#8c2,#ac2,#cc2,#cc2,#ac2,#bc2,#cc2,#ac2)"></i>
<i style="top:141.56px;height:3.51px;background:linear-gradient(90deg,#4b3,#4b3,#4a5,#495,#4b3,#6c2,#9c2,#5a4,#396,#4a5,#4b4,#4b3,#5b3,#6c2,#8c2,#9c2,#9c2,#9c2,#9c2,#ac2,#ac2,#9c2,#9c2,#bc2,#bc2,#7c2,#6c2,#8c2,#8c2,#9c2,#cc2,#dc2,#eb2,#ea2,#eb2,#eb2,#eb2,#eb2,#eb2,#dc2,#ea2,#ea2,#dc2,#bc2,#cc2,#dc2,#dc2,#cc2,#ac2,#6c2,#6c2,#9c2,#8c2,#6c2,#5c2,#5c2,#7c2,#8c2,#6c2,#6c2,#5c2,#5b3,#4b3,#5b3,#8c2,#7c2,#6c2,#6c2,#6c2,#5c2,#5c2,#4a4,#389,#27c,#289,#5b3,#5b3,#4b4,#4b3,#5b3,#5b3,#7c2,#8c2,#ac2,#8c2,#4a4,#5b3,#6c2,#5b3,#4b3,#4a4,#5b3,#8c2,#ac2,#6b3,#4a5,#5b3,#5b2,#4b3,#6c2,#7c2,#5c2,#5b2,#6c2,#8c2,#6b3,#396,#5a4,#8c2,#8c2,#5b3,#4b3,#5c2,#6c2,#7c2,#8c2,#6c2,#5c2,#5c2,#5b2,#8c2,#7c2,#4b4,#7c2,#9c2,#5b2,#5b3,#5c2,#5b2,#5c2,#6c2,#6c2,#8c2,#cc2,#cc2,#bc2,#ac2,#bc2,#cc2,#cc2,#cc2,#bc2,#8c2,#9c2,#bc2,#cc2,#dc2,#cc2,#9c2,#8c2,#9c2,#6c2,#9c2,#9c2,#7c2,#8c2,#9c2,#9c2,#ac2,#cc2,#bc2,#bc2,#bc2,#cc2,#ac2)"></i>
<i style="top:144.57px;height:3.51px;background:linear-gradient(90deg,#4b3,#4b3,#495,#396,#4b3,#7c2,#8c2,#4a4,#396,#4a5,#4a4,#4b3,#5b3,#6c2,#8c2,#9c2,#ac2,#8c2,#8c2,#ac2,#ac2,#ac2,#ac2,#cc2,#bc2,#7c2,#6c2,#8c2,#8c2,#9c2,#bc2,#dc2,#eb2,#eb2,#eb2,#ec2,#eb2,#eb2,#dc2,#dc2,#ea2,#ea2,#dc2,#bc2,#cc2,#dc2,#cc2,#cc2,#ac2,#6c2,#6c2,#9c2,#7c2,#6c2,#5c2,#6c2,#8c2,#8c2,#5c2,#6c2,#5b2,#5b3,#5b3,#5b3,#8c2,#7c2,#7c2,#6c2,#6c2,#5c2,#5c2,#4a5,#389,#27c,#389,#5b3,#5b3,#4b3,#5b3,#5b2,#5c2,#7c2,#8c2,#ac2,#7c2,#4a5,#5b3,#6c2,#4b3,#4b4,#4a4,#5b3,#8c2,#9c2,#5b3,#4a5,#5b3,#5b3,#4b3,#6c2,#7c2,#5c2,#5c2,#7c2,#8c2,#5b3,#396,#5b3,#9c2,#8c2,#5b3,#5b3,#5c2,#6c2,#8c2,#8c2,#6c2,#6c2,#6c2,#5c2,#8c2,#7c2,#4b3,#8c2,#8c2,#5b3,#5b2,#5c2,#5b3,#5c2,#6c2,#6c2,#8c2,#cc2,#cc2,#bc2,#bc2,#cc2,#cc2,#cc2,#cc2,#ac2,#8c2,#9c2,#bc2,#cc2,#dc2,#cc2,#9c2,#9c2,#9c2,#7c2,#9c2,#9c2,#7c2,#8c2,#9c2,#9c2,#bc2,#cc2,#bc2,#bc2,#bc2,#cc2,#9c2)"></i>
<i style="top:147.58px;height:3.51px;background:linear-gradient(90deg,#4b3,#4b4,#396,#396,#4b3,#7c2,#8c2,#4a5,#396,#4a5,#4a4,#4b3,#4b3,#6c2,#9c2,#9c2,#ac2,#8c2,#8c2,#ac2,#bc2,#ac2,#bc2,#cc2,#bc2,#7c2,#6c2,#8c2,#8c2,#9c2,#bc2,#dc2,#ec2,#eb2,#ec2,#dc2,#ec2,#ec2,#dc2,#dc2,#eb2,#ea2,#cc2,#bc2,#cc2,#dc2,#cc2,#bc2,#9c2,#5c2,#7c2,#8c2,#7c2,#6c2,#5c2,#6c2,#8c2,#8c2,#5c2,#5c2,#5b3,#5b3,#5b3,#6b2,#8c2,#7c2,#7c2,#6c2,#5c2,#5c2,#5c2,#4a5,#289,#27c,#388,#5b3,#5b3,#5b3,#5c2,#5c2,#6c2,#7c2,#9c2,#ac2,#7c3,#4a5,#5b3,#5c2,#4b3,#4b4,#4a4,#5b3,#9c2,#9c2,#5b3,#4a4,#5c2,#5b3,#4b3,#6c2,#7c2,#5c2,#5c2,#7c2,#8c2,#5b3,#396,#6b3,#9c2,#8c2,#5b2,#5b2,#5c2,#7c2,#8c2,#8c2,#6c2,#7c2,#6c2,#6c2,#9c2,#7c2,#5b3,#9c2,#8c2,#5b3,#5b2,#5c2,#5b3,#5c2,#6c2,#6c2,#9c2,#dc2,#cc2,#bc2,#bc2,#cc2,#cc2,#cc2,#cc2,#ac2,#8c2,#9c2,#bc2,#cc2,#ec2,#cc2,#9c2,#ac2,#9c2,#8c2,#ac2,#8c2,#7c2,#9c2,#9c2,#9c2,#bc2,#cc2,#bc2,#bc2,#bc2,#cc2,#9c2)"></i>
<i style="top:150.60px;height:3.51px;background:linear-gradient(90deg,#4b4,#4a4,#396,#396,#4b3,#7c2,#7c2,#495,#396,#4a4,#4a4,#4b4,#4b3,#7c2,#9c2,#ac2,#9c2,#8c2,#8c2,#bc2,#bc2,#ac2,#cc2,#dc2,#bc2,#7c2,#7c2,#9c2,#8c2,#9c2,#bc2,#cc2,#ec2,#ec2,#dc2,#dc2,#dc2,#dc2,#dc2,#dc2,#eb2,#ea2,#cc2,#bc2,#dc2,#dc2,#cc2,#bc2,#8c2,#5c2,#7c2,#8c2,#7c2,#6c2,#5c2,#6c2,#9c2,#7c2,#5b2,#5c2,#5b3,#5b2,#5b2,#6c2,#8c2,#7c2,#8c2,#6c2,#5c2,#5c2,#5b2,#4a5,#289,#27c,#397,#5b3,#5b2,#5b2,#5c2,#5c2,#7c2,#8c2,#9c2,#ac2,#6b3,#396,#5b3,#5c2,#4b4,#4b4,#4a4,#5b2,#9c2,#8c2,#5b3,#4a4,#6c2,#5b3,#5b3,#6c2,#6c2,#5c2,#5c2,#7c2,#8c2,#5b4,#396,#6b3,#ac2,#8c2,#5c2,#5c2,#6c2,#7c2,#9c2,#8c2,#7c2,#8c2,#7c2,#6c2,#9c2,#7c2,#6c2,#ac2,#8c2,#5b3,#5b2,#5b2,#5b3,#5c2,#6c2,#6c2,#bc2,#dc2,#cc2,#bc2,#cc2,#cc2,#cc2,#bc2,#bc2,#ac2,#9c2,#9c2,#bc2,#dc2,#ec2,#cc2,#ac2,#ac2,#9c2,#8c2,#bc2,#8c2,#7c2,#9c2,#9c2,#9c2,#bc2,#cc2,#bc2,#bc2,#cc2,#cc2,#9c2)"></i>
<i style="top:153.61px;height:3.51px;background:linear-gradient(90deg,#4b4,#4a4,#396,#396,#4b3,#7c2,#7c2,#396,#396,#4a4,#4a5,#4a4,#4b4,#7c2,#9c2,#ac2,#9c2,#7c2,#8c2,#bc2,#bc2,#bc2,#cc2,#dc2,#bc2,#7c2,#7c2,#9c2,#8c2,#9c2,#ac2,#cc2,#dc2,#ec2,#dc2,#cc2,#dc2,#dc2,#dc2,#cc2,#eb2,#ea2,#cc2,#bc2,#dc2,#dc2,#bc2,#ac2,#7c2,#5c2,#7c2,#8c2,#7c2,#6c2,#6c2,#7c2,#9c2,#7c2,#5b2,#5c2,#5b3,#5c2,#5c2,#6c2,#8c2,#7c2,#8c2,#6c2,#5c2,#5b2,#5b3,#4a5,#289,#27b,#397,#5b3,#5c2,#5c2,#6c2,#6c2,#7c2,#8c2,#ac2,#bc2,#6b4,#396,#5b3,#5b2,#4b4,#4b3,#4b4,#6c2,#9c2,#8c2,#5b3,#4b4,#6c2,#5b3,#5b3,#6c2,#6c2,#5c2,#5c2,#7c2,#7c2,#4a4,#495,#7c2,#ac2,#8c2,#6c2,#5c2,#6c2,#8c2,#9c2,#7c2,#7c2,#8c2,#7c2,#7c2,#9c2,#7c2,#7c2,#ac2,#7c2,#5b3,#5b2,#5b3,#4b3,#5c2,#5c2,#7c2,#cc2,#dc2,#cc2,#bc2,#cc2,#cc2,#cc2,#bc2,#bc2,#ac2,#9c2,#9c2,#ac2,#dc2,#eb2,#cc2,#ac2,#ac2,#9c2,#9c2,#bc2,#8c2,#7c2,#9c2,#9c2,#ac2,#cc2,#cc2,#bc2,#bc2,#cc2,#bc2,#8c2)"></i>
<i style="top:156.62px;height:3.51px;background:linear-gradient(90deg,#4a4,#4a4,#396,#396,#4b3,#6c2,#6b3,#396,#495,#4a4,#4a5,#4a4,#4b4,#7c2,#ac2,#ac2,#9c2,#7c2,#8c2,#bc2,#bc2,#bc2,#dc2,#dc2,#bc2,#8c2,#8c2,#9c2,#8c2,#ac2,#ac2,#cc2,#dc2,#dc2,#cc2,#cc2,#cc2,#dc2,#cc2,#cc2,#eb2,#ea2,#cc2,#bc2,#dc2,#cc2,#bc2,#ac2,#6c2,#5c2,#7c2,#8c2,#7c2,#6c2,#6c2,#7c2,#ac2,#7c2,#5b3,#5b2,#4b3,#5c2,#5c2,#6c2,#7c2,#7c2,#8c2,#6c2,#5c2,#5b2,#5b3,#4a5,#289,#27a,#396,#5b3,#5c2,#5c2,#6c2,#6c2,#8c2,#8c2,#ac2,#ac2,#5a4,#397,#5b3,#5b3,#4a4,#4b3,#4b3,#6c2,#9c2,#8c2,#5b3,#4b3,#5c2,#4b3,#5b3,#6c2,#5c2,#5b2,#5c2,#7c2,#7c2,#4a5,#495,#8c2,#ac2,#8c2,#6c2,#5c2,#6c2,#9c2,#9c2,#7c2,#7c2,#9c2,#7c2,#7c2,#9c2,#7c2,#8c2,#ac2,#6c2,#5b3,#5b3,#4b3,#4b3,#5c2,#5c2,#8c2,#dc2,#dc2,#cc2,#cc2,#cc2,#cc2,#cc2,#bc2,#bc2,#ac2,#9c2,#9c2,#bc2,#db2,#eb2,#cc2,#bc2,#bc2,#9c2,#ac2,#bc2,#7c2,#7c2,#9c2,#ac2,#ac2,#cc2,#cc2,#bc2,#bc2,#cc2,#bc2,#9c2)"></i>
<i style="top:159.63px;height:3.51px;background:linear-gradient(90deg,#4a4,#4a5,#396,#396,#4b3,#6c2,#6b3,#396,#4a5,#4a4,#4a5,#4a4,#4b3,#8c2,#ac2,#ac2,#9c2,#6c2,#9c2,#bc2,#bc2,#cc2,#dc2,#dc2,#cc2,#8c2,#8c2,#9c2,#9c2,#ac2,#ac2,#cc2,#dc2,#dc2,#cc2,#cc2,#cc2,#cc2,#cc2,#cc2,#db2,#eb2,#cc2,#bc2,#dc2,#cc2,#ac2,#8c2,#5c2,#5b2,#7c2,#7c2,#7c2,#6c2,#6c2,#8c2,#ac2,#6c2,#5b3,#5b3,#4b3,#6c2,#5b2,#6c2,#6c2,#6c2,#8c2,#6c2,#5c2,#5b2,#5b3,#4a5,#388,#289,#4a5,#5b2,#5c2,#6c2,#6c2,#7c2,#8c2,#8c2,#ac2,#ac2,#5a5,#397,#5b3,#5b3,#4a4,#4b3,#4b3,#6c2,#9c2,#7c2,#5b3,#5b3,#5c2,#4b3,#5b3,#5c2,#5c2,#5b3,#5b2,#7c2,#6c2,#496,#496,#8c2,#ac2,#8c2,#6c2,#5c2,#7c2,#9c2,#9c2,#7c2,#8c2,#9c2,#7c2,#8c2,#9c2,#7c2,#9c2,#ac2,#6b2,#4b3,#5b3,#4b4,#4b4,#5c2,#5c2,#9c2,#dc2,#dc2,#cc2,#cc2,#dc2,#cc2,#bc2,#ac2,#bc2,#bc2,#9c2,#9c2,#bc2,#eb2,#eb2,#cc2,#bc2,#bc2,#9c2,#bc2,#bc2,#7c2,#7c2,#9c2,#ac2,#ac2,#cc2,#bc2,#bc2,#bc2,#cc2,#bc2,#9c2)"></i>
<i style="top:162.64px;height:3.51px;background:linear-gradient(90deg,#4a4,#4a5,#396,#495,#4b3,#6c2,#5b3,#396,#4a5,#4a5,#4a5,#4a4,#5b3,#8c2,#ac2,#bc2,#9c2,#6c2,#9c2,#cc2,#bc2,#cc2,#ec2,#ec2,#cc2,#9c2,#9c2,#ac2,#9c2,#ac2,#ac2,#cc2,#dc2,#dc2,#bc2,#cc2,#cc2,#cc2,#cc2,#bc2,#db2,#eb2,#bc2,#bc2,#cc2,#bc2,#9c2,#7c2,#5b3,#5b2,#7c2,#7c2,#7c2,#6c2,#6c2,#8c2,#9c2,#6b3,#4b3,#4b3,#4b3,#6c2,#5b2,#6c2,#6c2,#6c2,#8c2,#6c2,#5c2,#5c2,#5b3,#4a5,#388,#388,#4a4,#5c2,#6c2,#6c2,#7c2,#8c2,#8c2,#8c2,#bc2,#ac2,#4a6,#388,#5b3,#4b3,#4a4,#4b3,#4b3,#6c2,#9c2,#7c2,#5b3,#5b3,#5c2,#4b3,#4b3,#5b2,#5b3,#4b3,#5b3,#7c2,#6b2,#396,#496,#8c2,#ac2,#8c2,#6c2,#6c2,#7c2,#9c2,#8c2,#6c2,#8c2,#9c2,#6c2,#8c2,#9c2,#7c2,#9c2,#9c2,#5b3,#4b3,#4b3,#4a4,#4a4,#5c2,#6c2,#ac2,#eb2,#dc2,#cc2,#dc2,#dc2,#cc2,#bc2,#ac2,#bc2,#bc2,#9c2,#9c2,#cc2,#ea2,#eb2,#cc2,#bc2,#bc2,#ac2,#bc2,#bc2,#6c2,#7c2,#ac2,#ac2,#bc2,#cc2,#bc2,#bc2,#bc2,#cc2,#bc2,#ac2)"></i>
<i style="top:165.66px;height:3.51px;background:linear-gradient(90deg,#4a4,#4a5,#396,#4a5,#4b3,#6c2,#5b3,#396,#4a4,#4a5,#4a5,#4a4,#5b3,#9c2,#bc2,#bc2,#9c2,#6c2,#9c2,#cc2,#bc2,#dc2,#eb2,#eb2,#dc2,#9c2,#9c2,#ac2,#ac2,#ac2,#ac2,#cc2,#dc2,#cc2,#bc2,#bc2,#cc2,#cc2,#cc2,#bc2,#db2,#db2,#bc2,#bc2,#cc2,#bc2,#8c2,#6c2,#5b3,#5c2,#7c2,#7c2,#7c2,#6c2,#6c2,#8c2,#9c2,#5b3,#4b3,#4b3,#5b3,#6c2,#5b3,#5b2,#5c2,#6c2,#8c2,#6c2,#5c2,#5c2,#5b3,#4a5,#387,#397,#4b4,#5c2,#6c2,#6c2,#7c2,#8c2,#9c2,#8c2,#bc2,#9c2,#497,#388,#4b3,#4b4,#4a5,#4b3,#5b3,#6c2,#8c2,#7c2,#5b3,#5b3,#5b2,#4b3,#4b3,#5b3,#4b3,#4b4,#5b3,#7c2,#5b3,#387,#4a5,#8c2,#9c2,#8c2,#7c2,#6c2,#7c2,#ac2,#8c2,#6c2,#8c2,#8c2,#6c2,#8c2,#9c2,#8c2,#9c2,#8c2,#5b3,#4b3,#4b4,#4a5,#4a4,#5c2,#6c2,#bc2,#eb2,#dc2,#cc2,#dc2,#dc2,#cc2,#bc2,#9c2,#bc2,#bc2,#9c2,#9c2,#cc2,#ea2,#eb2,#cc2,#bc2,#bc2,#ac2,#cc2,#ac2,#6c2,#7c2,#ac2,#ac2,#bc2,#cc2,#bc2,#bc2,#bc2,#cc2,#ac2,#bc2)"></i>
<i style="top:168.67px;height:3.51px;background:linear-gradient(90deg,#4a5,#4a5,#396,#4a5,#4b3,#6c2,#5b3,#396,#4a4,#4a5,#4a5,#4b3,#5b3,#9c2,#bc2,#bc2,#8c2,#6c2,#9c2,#cc2,#cc2,#dc2,#eb2,#eb2,#dc2,#ac2,#ac2,#bc2,#ac2,#ac2,#ac2,#dc2,#dc2,#cc2,#bc2,#bc2,#bc2,#cc2,#cc2,#bc2,#dc2,#db2,#bc2,#bc2,#cc2,#ac2,#8c2,#5c2,#4b3,#5c2,#7c2,#6c2,#7c2,#6c2,#6c2,#9c2,#9c2,#5b3,#4b3,#4b4,#5b3,#6c2,#5b3,#5b3,#5b3,#6c2,#8c2,#5c2,#5b2,#5c2,#4b3,#4a4,#397,#396,#4b3,#5c2,#6c2,#6c2,#7c2,#9c2,#9c2,#9c2,#bc2,#9c2,#398,#389,#4b3,#4a4,#4a5,#5b3,#5b2,#7c2,#8c2,#7c2,#5b2,#5b3,#5b3,#4b3,#4b3,#4b3,#4b3,#4a4,#5b3,#6c2,#5b4,#388,#4a5,#8c2,#9c2,#8c2,#7c2,#6c2,#8c2,#ac2,#7c2,#6c2,#8c2,#8c2,#6c2,#8c2,#8c2,#8c2,#ac2,#7c2,#4b3,#4b3,#4a4,#4a5,#4a4,#5c2,#6c2,#bc2,#eb2,#dc2,#cc2,#dc2,#dc2,#cc2,#bc2,#9c2,#bc2,#bc2,#9c2,#ac2,#dc2,#ea2,#eb2,#cc2,#bc2,#ac2,#ac2,#cc2,#ac2,#6c2,#8c2,#ac2,#ac2,#bc2,#bc2,#bc2,#ac2,#bc2,#cc2,#ac2,#bc2)"></i>
<i style="top:171.68px;height:3.51px;background:linear-gradient(90deg,#4a5,#4a5,#396,#4a5,#4b3,#5c2,#4b4,#396,#4a4,#495,#4a4,#4b3,#6c2,#ac2,#bc2,#bc2,#8c2,#6c2,#ac2,#cc2,#cc2,#dc2,#eb2,#eb2,#dc2,#bc2,#ac2,#bc2,#ac2,#ac2,#bc2,#dc2,#dc2,#cc2,#bc2,#bc2,#bc2,#cc2,#bc2,#ac2,#dc2,#dc2,#ac2,#bc2,#cc2,#ac2,#7c2,#5b3,#4b3,#6c2,#7c2,#6c2,#7c2,#6c2,#6c2,#9c2,#9c2,#5b3,#4b3,#4b4,#5b3,#6c2,#4b3,#4b3,#4b3,#6c2,#7c2,#5c2,#5b2,#5c2,#4b3,#4a4,#396,#4a5,#5b3,#5c2,#7c2,#7c2,#7c2,#9c2,#9c2,#9c2,#bc2,#8c2,#388,#389,#4b4,#4a5,#4a5,#5b3,#5c2,#7c2,#8c2,#7c2,#5c2,#5b3,#5b3,#4b3,#4b4,#4b4,#4b4,#4a5,#5b3,#6c2,#4a4,#389,#4a5,#8c2,#8c2,#8c2,#7c2,#6c2,#8c2,#ac2,#7c2,#6c2,#8c2,#7c2,#6c2,#8c2,#9c2,#9c2,#9c2,#7c2,#4b3,#4b3,#4a4,#4a5,#4b4,#5c2,#7c2,#cc2,#eb2,#dc2,#cc2,#eb2,#dc2,#cc2,#ac2,#9c2,#bc2,#bc2,#9c2,#ac2,#dc2,#ea2,#eb2,#cc2,#bc2,#ac2,#ac2,#cc2,#9c2,#6c2,#8c2,#bc2,#ac2,#bc2,#bc2,#bc2,#ac2,#bc2,#bc2,#bc2,#cc2)"></i>
<i style="top:174.69px;height:3.51px;background:linear-gradient(90deg,#4a5,#4a5,#396,#4a5,#4b3,#5c2,#4b4,#495,#4a4,#396,#4a4,#4b3,#6c2,#ac2,#bc2,#ac2,#7c2,#6c2,#ac2,#cc2,#cc2,#dc2,#ea2,#ea2,#db2,#bc2,#bc2,#bc2,#ac2,#ac2,#bc2,#dc2,#dc2,#bc2,#bc2,#bc2,#bc2,#cc2,#bc2,#ac2,#dc2,#cc2,#ac2,#cc2,#cc2,#ac2,#6c2,#5b3,#5b3,#6c2,#7c2,#6c2,#7c2,#7c2,#7c2,#ac2,#8c2,#4b3,#4b3,#4b4,#5b3,#6c2,#4b4,#4a4,#4b4,#6c2,#7c2,#5c2,#5b2,#5b2,#4b3,#4a4,#495,#4b4,#5b2,#6c2,#7c2,#7c2,#8c2,#ac2,#9c2,#9c2,#ac2,#8c2,#289,#389,#4b4,#4a5,#4a5,#5c2,#5c2,#7c2,#8c2,#7c2,#5c2,#5b3,#5b3,#4b3,#4a4,#4a4,#4a4,#4a5,#5b3,#6c2,#4a5,#389,#5a5,#8c2,#8c2,#8c2,#7c2,#7c2,#9c2,#ac2,#6c2,#6c2,#8c2,#7c2,#6c2,#8c2,#9c2,#9c2,#9c2,#6c2,#4b3,#4b3,#4a4,#4a5,#5b3,#6c2,#8c2,#dc2,#eb2,#dc2,#cc2,#eb2,#dc2,#cc2,#ac2,#8c2,#ac2,#ac2,#8c2,#ac2,#dc2,#ea2,#dc2,#cc2,#bc2,#9c2,#ac2,#cc2,#8c2,#6c2,#8c2,#bc2,#ac2,#bc2,#bc2,#ac2,#ac2,#bc2,#bc2,#bc2,#dc2)"></i>
<i style="top:177.70px;height:3.51px;background:linear-gradient(90deg,#4a5,#4a5,#396,#4a4,#4b3,#5b2,#4a4,#4a5,#4a5,#396,#4a4,#4b3,#7c2,#ac2,#bc2,#ac2,#7c2,#6c2,#ac2,#cc2,#cc2,#db2,#ea2,#ea2,#db2,#bc2,#bc2,#bc2,#ac2,#ac2,#bc2,#dc2,#cc2,#bc2,#bc2,#bc2,#bc2,#dc2,#bc2,#ac2,#dc2,#cc2,#ac2,#cc2,#cc2,#9c2,#6c2,#5b3,#5b3,#6c2,#7c2,#6c2,#7c2,#7c2,#7c2,#ac2,#8c2,#4b3,#4b3,#4b3,#5c2,#6c2,#4a4,#4a5,#4a4,#6c2,#7c2,#5b2,#5b2,#5b2,#4b3,#4a4,#4a5,#5b3,#5b2,#6c2,#7c2,#7c2,#8c2,#ac2,#9c2,#9c2,#ac2,#7b3,#28a,#389,#4b4,#495,#4a5,#5c2,#6c2,#7c2,#8c2,#7c2,#6c2,#5b3,#5b3,#5b3,#4a4,#4a4,#4a4,#396,#5b3,#6c2,#4a6,#389,#5a4,#8c2,#8c2,#8c2,#7c2,#8c2,#ac2,#ac2,#6c2,#6c2,#8c2,#7c2,#7c2,#9c2,#9c2,#ac2,#9c2,#6b3,#4b3,#5b3,#4a4,#4a4,#5b3,#6c2,#8c2,#dc2,#eb2,#dc2,#cc2,#ec2,#dc2,#cc2,#9c2,#8c2,#ac2,#ac2,#8c2,#ac2,#dc2,#eb2,#dc2,#bc2,#ac2,#9c2,#ac2,#cc2,#8c2,#6c2,#9c2,#bc2,#ac2,#bc2,#bc2,#ac2,#ac2,#bc2,#bc2,#cc2,#dc2)"></i>
<i style="top:180.72px;height:3.51px;background:linear-gradient(90deg,#4a5,#4a5,#396,#4a4,#4b3,#5b3,#4a4,#4a5,#4a5,#396,#4a4,#5b3,#7c2,#ac2,#bc2,#ac2,#7c2,#6c2,#ac2,#bc2,#cc2,#eb2,#ea2,#ea2,#db2,#bc2,#bc2,#bc2,#ac2,#ac2,#bc2,#dc2,#cc2,#bc2,#bc2,#bc2,#cc2,#dc2,#bc2,#ac2,#dc2,#cc2,#ac2,#cc2,#dc2,#9c2,#6c2,#5b3,#5c2,#7c2,#7c2,#7c2,#7c2,#7c2,#7c2,#ac2,#8c2,#4b3,#5b3,#4b3,#6c2,#6c2,#4a5,#396,#4a5,#6c2,#6c2,#5b2,#5b2,#5b3,#4b3,#4b4,#4a4,#5b2,#5c2,#5c2,#7c2,#7c2,#8c2,#ac2,#ac2,#9c2,#ac2,#6b3,#27a,#388,#4b4,#396,#4a5,#6c2,#6c2,#7c2,#8c2,#7c2,#6c2,#5b3,#5b3,#5b3,#4a5,#4a4,#4a4,#396,#5b3,#5c2,#396,#389,#5b4,#8c2,#8c2,#8c2,#7c2,#8c2,#ac2,#ac2,#6c2,#6c2,#7c2,#7c2,#7c2,#9c2,#ac2,#ac2,#9c2,#5b3,#5b3,#5b2,#4b3,#4b3,#5c2,#6c2,#9c2,#dc2,#ec2,#cc2,#cc2,#ec2,#dc2,#cc2,#9c2,#7c2,#ac2,#9c2,#8c2,#ac2,#dc2,#eb2,#cc2,#bc2,#ac2,#8c2,#bc2,#bc2,#7c2,#6c2,#9c2,#cc2,#ac2,#bc2,#bc2,#ac2,#ac2,#bc2,#bc2,#cc2,#eb2)"></i>
<i style="top:183.73px;height:3.51px;background:linear-gradient(90deg,#4a5,#4a5,#495,#4a4,#4b3,#5b3,#4a4,#4a5,#396,#397,#4a4,#5b2,#8c2,#bc2,#bc2,#9c2,#6c2,#6c2,#ac2,#bc2,#cc2,#eb2,#ea2,#ea2,#eb2,#cc2,#cc2,#cc2,#ac2,#ac2,#bc2,#dc2,#cc2,#ac2,#bc2,#cc2,#cc2,#dc2,#bc2,#9c2,#cc2,#bc2,#ac2,#cc2,#dc2,#9c2,#6c2,#5b2,#6c2,#7c2,#7c2,#7c2,#7c2,#7c2,#8c2,#ac2,#8c2,#5b3,#5b3,#5b3,#6c2,#6b2,#4a5,#396,#4a5,#6c2,#6c2,#5b3,#5b2,#5b3,#4b3,#4b4,#4b4,#5c2,#5c2,#5c2,#7c2,#7c2,#8c2,#ac2,#ac2,#9c2,#9c2,#6b4,#27b,#388,#4b4,#396,#4a4,#6c2,#7c2,#7c2,#8c2,#8c2,#6c2,#5b3,#5b3,#5b3,#4a5,#4a4,#4a5,#396,#5b3,#5c2,#397,#388,#5b3,#8c2,#7c2,#8c2,#8c2,#9c2,#bc2,#9c2,#6c2,#6c2,#7c2,#7c2,#8c2,#ac2,#ac2,#ac2,#9c2,#5c2,#5c2,#5c2,#5b3,#5b3,#6c2,#7c2,#9c2,#dc2,#dc2,#cc2,#cc2,#ec2,#dc2,#cc2,#8c2,#7c2,#9c2,#9c2,#7c2,#ac2,#dc2,#dc2,#cc2,#bc2,#9c2,#8c2,#bc2,#bc2,#7c2,#6c2,#ac2,#cc2,#ac2,#bc2,#bc2,#ac2,#ac2,#bc2,#bc2,#dc2,#eb2)"></i>
<i style="top:186.74px;height:3.51px;background:linear-gradient(90deg,#4a5,#4a5,#4a5,#4a4,#4b3,#4b3,#4a4,#4a5,#396,#387,#4a4,#5b2,#8c2,#bc2,#ac2,#9c2,#6c2,#6c2,#ac2,#bc2,#cc2,#eb2,#ea2,#ea2,#eb2,#cc2,#cc2,#cc2,#bc2,#ac2,#bc2,#dc2,#bc2,#ac2,#bc2,#cc2,#cc2,#dc2,#ac2,#9c2,#cc2,#bc2,#ac2,#dc2,#dc2,#9c2,#6c2,#5c2,#6c2,#8c2,#7c2,#7c2,#7c2,#8c2,#8c2,#ac2,#8c2,#5b3,#5b2,#5b3,#6c2,#5b3,#396,#387,#495,#5c2,#6c2,#5b3,#5b2,#5b3,#4b4,#4b4,#4b3,#6c2,#5b2,#5c2,#7c2,#7c2,#8c2,#ac2,#ac2,#9c2,#9c2,#5a4,#27b,#397,#4b4,#396,#4a4,#7c2,#8c2,#7c2,#8c2,#8c2,#6c2,#4b3,#5b2,#5b2,#4a5,#4a4,#4a5,#396,#5b3,#5b2,#397,#388,#6b3,#8c2,#7c2,#7c2,#8c2,#9c2,#bc2,#9c2,#6c2,#6c2,#7c2,#7c2,#9c2,#ac2,#ac2,#bc2,#9c2,#6c2,#6c2,#6c2,#5c2,#5c2,#6c2,#7c2,#9c2,#dc2,#dc2,#cc2,#cc2,#ec2,#dc2,#cc2,#8c2,#7c2,#9c2,#8c2,#7c2,#ac2,#dc2,#dc2,#cc2,#bc2,#9c2,#8c2,#bc2,#bc2,#7c2,#7c2,#bc2,#cc2,#ac2,#bc2,#bc2,#ac2,#ac2,#bc2,#bc2,#dc2,#ea2)"></i>
<i style="top:189.75px;height:3.51px;background:linear-gradient(90deg,#4a5,#4a5,#4a5,#4a4,#4b3,#4b3,#4a4,#4a5,#397,#387,#4a4,#5c2,#9c2,#bc2,#ac2,#9c2,#6c2,#6c2,#ac2,#bc2,#cc2,#eb2,#ea2,#ea2,#eb2,#cc2,#cc2,#bc2,#bc2,#ac2,#bc2,#dc2,#bc2,#ac2,#bc2,#cc2,#cc2,#cc2,#ac2,#9c2,#bc2,#ac2,#ac2,#dc2,#dc2,#9c2,#6c2,#5c2,#7c2,#8c2,#7c2,#7c2,#7c2,#8c2,#8c2,#ac2,#7c2,#5b3,#5b2,#5b3,#6c2,#5b3,#396,#388,#396,#5b2,#5c2,#5b3,#5b3,#4b3,#4b4,#4b3,#5b3,#6c2,#5b2,#5c2,#7c2,#7c2,#8c2,#bc2,#ac2,#9c2,#8c2,#5a5,#27b,#396,#4b4,#397,#4a4,#8c2,#8c2,#7c2,#7c2,#8c2,#6c2,#4b3,#5c2,#5b3,#4a5,#4a4,#4a5,#396,#5b3,#5b3,#397,#397,#6b3,#8c2,#7c2,#7c2,#8c2,#ac2,#bc2,#9c2,#6c2,#6c2,#7c2,#7c2,#9c2,#ac2,#bc2,#bc2,#9c2,#6c2,#8c2,#8c2,#6c2,#6c2,#7c2,#7c2,#ac2,#dc2,#dc2,#cc2,#cc2,#eb2,#dc2,#cc2,#8c2,#8c2,#9c2,#8c2,#7c2,#ac2,#dc2,#dc2,#bc2,#bc2,#9c2,#8c2,#bc2,#bc2,#7c2,#8c2,#bc2,#cc2,#ac2,#bc2,#bc2,#ac2,#ac2,#bc2,#bc2,#db2,#ea2)"></i>
<i style="top:192.76px;height:3.51px;background:linear-gradient(90deg,#495,#495,#495,#4a4,#4b4,#4b4,#4a5,#495,#388,#388,#4a4,#6c2,#9c2,#bc2,#ac2,#8c2,#6c2,#6c2,#ac2,#bc2,#cc2,#eb2,#ea2,#e92,#eb2,#cc2,#cc2,#bc2,#bc2,#ac2,#bc2,#cc2,#ac2,#ac2,#bc2,#cc2,#bc2,#cc2,#ac2,#8c2,#bc2,#9c2,#9c2,#dc2,#dc2,#9c2,#6c2,#6c2,#7c2,#8c2,#7c2,#7c2,#7c2,#8c2,#8c2,#ac2,#7c2,#5b3,#5c2,#5b2,#6c2,#5b3,#387,#388,#396,#5b3,#5c2,#5b3,#5b3,#4b3,#4b4,#4b3,#5b3,#7c2,#5b3,#5c2,#7c2,#8c2,#9c2,#bc2,#ac2,#9c2,#8c2,#4a5,#27a,#4a5,#4b4,#397,#5a4,#8c2,#8c2,#7c2,#7c2,#8c2,#6c2,#4b3,#6c2,#5b3,#4a5,#4b4,#4a5,#396,#5b3,#5b3,#387,#396,#6b3,#8c2,#7c2,#7c2,#8c2,#ac2,#bc2,#9c2,#6c2,#6c2,#7c2,#7c2,#ac2,#ac2,#bc2,#cc2,#ac2,#7c2,#9c2,#9c2,#8c2,#8c2,#8c2,#8c2,#ac2,#dc2,#dc2,#cc2,#dc2,#eb2,#dc2,#cc2,#8c2,#9c2,#ac2,#8c2,#8c2,#ac2,#dc2,#dc2,#cc2,#bc2,#9c2,#8c2,#cc2,#bc2,#8c2,#9c2,#cc2,#cc2,#bc2,#cc2,#bc2,#ac2,#ac2,#bc2,#bc2,#eb2,#ea2)"></i>
<i style="top:195.78px;height:3.51px;background:linear-gradient(90deg,#396,#396,#495,#4a4,#4a4,#4a4,#4a5,#396,#388,#388,#4b4,#6c2,#9c2,#bc2,#ac2,#8c2,#6c2,#6c2,#ac2,#bc2,#cc2,#eb2,#ea2,#ea2,#eb2,#cc2,#cc2,#bc2,#bc2,#ac2,#bc2,#cc2,#ac2,#ac2,#bc2,#cc2,#bc2,#cc2,#9c2,#8c2,#ac2,#9c2,#9c2,#dc2,#cc2,#9c2,#6c2,#6c2,#7c2,#8c2,#7c2,#6c2,#6c2,#7c2,#8c2,#ac2,#7c2,#5b2,#5c2,#5b2,#5c2,#4b4,#387,#289,#397,#5b3,#5c2,#4b3,#5b3,#4b3,#4b3,#4b3,#6b3,#7c2,#5b3,#5b2,#7c2,#8c2,#9c2,#bc2,#ac2,#9c2,#7c2,#4a5,#289,#4a4,#4b4,#387,#5a4,#9c2,#9c2,#7c2,#7c2,#8c2,#6b3,#4b3,#6c2,#5b3,#4a5,#4b4,#4a5,#396,#5b3,#4b3,#387,#396,#6c2,#8c2,#7c2,#7c2,#8c2,#bc2,#bc2,#9c2,#6c2,#6c2,#7c2,#8c2,#ac2,#bc2,#bc2,#cc2,#ac2,#8c2,#ac2,#ac2,#9c2,#9c2,#9c2,#8c2,#ac2,#cc2,#cc2,#cc2,#dc2,#eb2,#dc2,#cc2,#9c2,#ac2,#ac2,#8c2,#8c2,#ac2,#dc2,#cc2,#cc2,#bc2,#9c2,#9c2,#cc2,#bc2,#9c2,#ac2,#dc2,#dc2,#bc2,#cc2,#bc2,#ac2,#ac2,#bc2,#cc2,#ea2,#ea2)"></i>
<i style="top:198.79px;height:3.51px;background:linear-gradient(90deg,#396,#396,#396,#4a4,#4a4,#4a5,#4a5,#396,#289,#388,#4b3,#6c2,#9c2,#bc2,#ac2,#8c2,#6c2,#7c2,#ac2,#bc2,#cc2,#eb2,#ea2,#ea2,#eb2,#cc2,#cc2,#bc2,#bc2,#ac2,#ac2,#cc2,#9c2,#9c2,#bc2,#bc2,#bc2,#bc2,#9c2,#7c2,#9c2,#8c2,#9c2,#cc2,#cc2,#9c2,#6c2,#7c2,#8c2,#8c2,#7c2,#6c2,#6c2,#7c2,#8c2,#ac2,#6c2,#5b2,#5c2,#5b2,#5c2,#4a4,#388,#27a,#397,#4b3,#5b2,#4b3,#5b3,#4b3,#4b3,#4b3,#6c2,#8c2,#5b3,#5b2,#7c2,#8c2,#9c2,#bc2,#ac2,#9c2,#7c2,#4a5,#388,#4b4,#4b4,#387,#5b4,#ac2,#9c2,#7c2,#7c2,#8c2,#5b3,#4b3,#6c2,#5b3,#4a5,#4b3,#4a5,#4a5,#5b3,#4b4,#397,#4a5,#6c2,#8c2,#7c2,#7c2,#8c2,#bc2,#bc2,#9c2,#7c2,#6c2,#7c2,#8c2,#ac2,#bc2,#bc2,#cc2,#bc2,#9c2,#ac2,#ac2,#ac2,#ac2,#ac2,#9c2,#bc2,#cc2,#cc2,#cc2,#dc2,#eb2,#ec2,#cc2,#ac2,#bc2,#ac2,#8c2,#8c2,#ac2,#dc2,#cc2,#cc2,#bc2,#9c2,#ac2,#dc2,#bc2,#ac2,#bc2,#dc2,#dc2,#bc2,#cc2,#cc2,#ac2,#bc2,#bc2,#cc2,#ea2,#ea2)"></i>
<i style="top:201.80px;height:3.51px;background:linear-gradient(90deg,#396,#396,#396,#4a5,#4a5,#4a5,#396,#397,#27a,#388,#4b3,#7c2,#9c2,#bc2,#9c2,#8c2,#6c2,#7c2,#ac2,#bc2,#cc2,#eb2,#ea2,#ea2,#eb2,#cc2,#bc2,#bc2,#bc2,#ac2,#ac2,#bc2,#9c2,#9c2,#ac2,#bc2,#bc2,#bc2,#8c2,#6c2,#8c2,#8c2,#9c2,#cc2,#cc2,#9c2,#7c2,#7c2,#8c2,#8c2,#7c2,#6c2,#5c2,#7c2,#8c2,#9c2,#6c2,#5b2,#5c2,#5b2,#5c2,#4a4,#388,#27a,#397,#4b3,#5b3,#4b3,#4b3,#4b3,#4b3,#5b3,#6c2,#8c2,#5b3,#5b2,#8c2,#8c2,#9c2,#bc2,#ac2,#9c2,#6c2,#4a5,#397,#5b3,#4b4,#397,#5b4,#ac2,#9c2,#6c2,#7c2,#8c2,#5b3,#4b4,#7c2,#6b3,#4a5,#4b3,#4a5,#4a5,#5b3,#4b4,#397,#4a4,#6c2,#8c2,#7c2,#7c2,#8c2,#bc2,#bc2,#ac2,#7c2,#7c2,#7c2,#9c2,#ac2,#bc2,#cc2,#dc2,#bc2,#ac2,#bc2,#bc2,#bc2,#bc2,#ac2,#9c2,#bc2,#cc2,#cc2,#cc2,#db2,#ea2,#ec2,#cc2,#ac2,#cc2,#bc2,#9c2,#8c2,#ac2,#dc2,#dc2,#dc2,#cc2,#ac2,#ac2,#dc2,#cc2,#ac2,#cc2,#eb2,#dc2,#cc2,#dc2,#cc2,#bc2,#bc2,#bc2,#cc2,#ea2,#ea2)"></i>
<i style="top:204.81px;height:3.51px;background:linear-gradient(90deg,#396,#396,#396,#4a5,#4a5,#495,#396,#387,#27a,#387,#5b3,#7c2,#ac2,#ac2,#9c2,#7c2,#6c2,#7c2,#ac2,#bc2,#cc2,#eb2,#ea2,#ea2,#eb2,#cc2,#bc2,#ac2,#bc2,#ac2,#ac2,#bc2,#9c2,#9c2,#ac2,#bc2,#ac2,#ac2,#8c2,#6c2,#8c2,#7c2,#9c2,#cc2,#cc2,#9c2,#7c2,#8c2,#8c2,#8c2,#6c2,#5c2,#5c2,#6c2,#7c2,#9c2,#6c2,#5c2,#5c2,#5b2,#5c2,#4a4,#388,#27a,#397,#4b4,#5b3,#4b3,#4b3,#4b3,#4b3,#5b3,#7c2,#8c2,#5b3,#5b2,#8c2,#9c2,#9c2,#bc2,#ac2,#9c2,#6c2,#4a5,#396,#5b2,#5b3,#397,#6b3,#ac2,#9c2,#6c2,#7c2,#7c2,#5b3,#4a4,#7c2,#6b3,#4a5,#5b3,#4a4,#4a5,#5b3,#4b4,#396,#4b4,#6c2,#7c2,#7c2,#7c2,#8c2,#bc2,#bc2,#ac2,#7c2,#7c2,#8c2,#9c2,#ac2,#bc2,#cc2,#dc2,#cc2,#ac2,#bc2,#bc2,#bc2,#bc2,#ac2,#9c2,#bc2,#cc2,#cc2,#cc2,#eb2,#ea2,#ec2,#cc2,#bc2,#cc2,#bc2,#9c2,#8c2,#ac2,#dc2,#dc2,#dc2,#cc2,#ac2,#bc2,#dc2,#cc2,#bc2,#dc2,#eb2,#dc2,#cc2,#dc2,#dc2,#bc2,#bc2,#bc2,#cc2,#e92,#ea2)"></i>
<i style="top:207.82px;height:3.51px;background:linear-gradient(90deg,#396,#396,#396,#4a5,#4a5,#495,#396,#388,#27a,#397,#5b3,#7c2,#ac2,#ac2,#9c2,#7c2,#7c2,#8c2,#bc2,#bc2,#cc2,#eb2,#ea2,#ea2,#eb2,#cc2,#bc2,#ac2,#bc2,#ac2,#ac2,#bc2,#9c2,#9c2,#ac2,#bc2,#ac2,#ac2,#7c2,#6c2,#7c2,#7c2,#9c2,#cc2,#cc2,#9c2,#8c2,#9c2,#8c2,#8c2,#6c2,#5c2,#5b3,#6c2,#7c2,#8c2,#6c2,#5c2,#5c2,#5c2,#5c2,#4a4,#388,#27a,#397,#4b4,#4b3,#4b4,#4b3,#4b4,#4b3,#5b3,#7c2,#8c2,#5b3,#5b3,#8c2,#9c2,#9c2,#bc2,#ac2,#8c2,#6c2,#4a5,#4a5,#6c2,#5b3,#396,#6b3,#bc2,#9c2,#6c2,#7c2,#7c2,#5b3,#4a4,#7c2,#6b3,#4a5,#5b3,#4a4,#4a4,#5b2,#4b4,#396,#4b3,#6c2,#7c2,#7c2,#7c2,#8c2,#ac2,#bc2,#ac2,#7c2,#7c2,#8c2,#9c2,#ac2,#ac2,#cc2,#dc2,#cc2,#ac2,#bc2,#bc2,#bc2,#cc2,#bc2,#9c2,#ac2,#bc2,#bc2,#cc2,#eb2,#ea2,#dc2,#cc2,#bc2,#dc2,#bc2,#8c2,#7c2,#ac2,#dc2,#dc2,#dc2,#cc2,#ac2,#bc2,#dc2,#cc2,#cc2,#dc2,#eb2,#dc2,#cc2,#dc2,#dc2,#bc2,#bc2,#bc2,#dc2,#e92,#ea2)"></i>
<i style="top:210.83px;height:3.51px;background:linear-gradient(90deg,#396,#396,#396,#4a4,#4a5,#396,#396,#388,#27b,#397,#5b3,#7c2,#ac2,#ac2,#9c2,#7c2,#7c2,#8c2,#bc2,#bc2,#cc2,#eb2,#ea2,#ea2,#ec2,#cc2,#bc2,#ac2,#cc2,#bc2,#ac2,#ac2,#9c2,#ac2,#bc2,#bc2,#ac2,#ac2,#7c2,#5c2,#7c2,#7c2,#9c2,#cc2,#bc2,#9c2,#8c2,#9c2,#9c2,#8c2,#6c2,#5b2,#5b3,#6c2,#7c2,#8c2,#6c2,#5c2,#5c2,#5c2,#5c2,#4a4,#388,#27a,#397,#4b4,#4b3,#4b4,#4b4,#4b4,#5b3,#5b2,#7c2,#8c2,#5b3,#5b3,#8c2,#9c2,#9c2,#bc2,#ac2,#8c2,#6c2,#4a4,#4a5,#6c2,#5b3,#396,#6b3,#bc2,#9c2,#6c2,#6c2,#7c2,#4a4,#4a4,#7c2,#5b3,#4a5,#5b3,#4b4,#4b4,#5b2,#4b4,#495,#5b3,#6c2,#7c2,#7c2,#7c2,#8c2,#ac2,#ac2,#ac2,#8c2,#7c2,#8c2,#9c2,#ac2,#ac2,#bc2,#dc2,#cc2,#bc2,#bc2,#ac2,#bc2,#cc2,#bc2,#9c2,#ac2,#bc2,#bc2,#cc2,#eb2,#ea2,#dc2,#cc2,#bc2,#dc2,#cc2,#8c2,#7c2,#ac2,#dc2,#dc2,#dc2,#bc2,#bc2,#cc2,#ec2,#dc2,#cc2,#dc2,#eb2,#dc2,#cc2,#dc2,#dc2,#cc2,#cc2,#bc2,#dc2,#e92,#ea2)"></i>
<i style="top:213.85px;height:3.51px;background:linear-gradient(90deg,#396,#396,#396,#4a4,#4a5,#396,#396,#388,#27b,#396,#5b2,#7c2,#9c2,#ac2,#9c2,#8c2,#8c2,#9c2,#bc2,#bc2,#cc2,#eb2,#ea2,#ea2,#dc2,#cc2,#ac2,#ac2,#cc2,#bc2,#ac2,#ac2,#9c2,#ac2,#bc2,#bc2,#ac2,#9c2,#7c2,#5c2,#7c2,#7c2,#9c2,#cc2,#bc2,#9c2,#9c2,#ac2,#9c2,#8c2,#6c2,#5b3,#4b3,#6c2,#7c2,#8c2,#6c2,#5c2,#5c2,#5c2,#5c2,#4b4,#387,#27a,#396,#4b4,#4b3,#4a4,#4a4,#4b4,#5b3,#5b2,#8c2,#8c2,#5b3,#5b3,#8c2,#9c2,#9c2,#bc2,#ac2,#8c2,#6c2,#4a4,#4a4,#7c2,#5b3,#4a5,#6b3,#bc2,#9c2,#6c2,#6c2,#6c2,#4a4,#4a5,#7c2,#5b3,#4a5,#5b3,#4b3,#4b3,#5c2,#4b4,#4a5,#5b3,#6c2,#7c2,#7c2,#7c2,#7c2,#ac2,#ac2,#ac2,#8c2,#7c2,#8c2,#9c2,#9c2,#ac2,#bc2,#dc2,#cc2,#bc2,#bc2,#ac2,#cc2,#cc2,#bc2,#9c2,#ac2,#ac2,#bc2,#cc2,#eb2,#ea2,#dc2,#bc2,#cc2,#ec2,#cc2,#8c2,#7c2,#9c2,#dc2,#dc2,#dc2,#bc2,#bc2,#cc2,#ec2,#dc2,#cc2,#dc2,#eb2,#dc2,#cc2,#dc2,#ec2,#cc2,#cc2,#cc2,#dc2,#e92,#ea2)"></i>
<i style="top:216.86px;height:3.51px;background:linear-gradient(90deg,#396,#396,#495,#4a4,#4a5,#495,#397,#388,#27a,#496,#5c2,#7c2,#9c2,#ac2,#8c2,#8c2,#8c2,#9c2,#bc2,#bc2,#cc2,#ec2,#ea2,#ea2,#dc2,#cc2,#ac2,#ac2,#cc2,#ac2,#9c2,#ac2,#9c2,#ac2,#bc2,#bc2,#9c2,#9c2,#6c2,#5c2,#7c2,#7c2,#9c2,#bc2,#bc2,#9c2,#9c2,#ac2,#9c2,#8c2,#6c2,#5b3,#4b4,#6c2,#7c2,#7c2,#5c2,#6c2,#5c2,#5c2,#5c2,#4b3,#397,#289,#396,#4a4,#4b4,#4a4,#4a4,#4a4,#5b3,#5c2,#8c2,#9c2,#5b3,#5b2,#8c2,#9c2,#9c2,#bc2,#ac2,#8c2,#6c2,#4a4,#5b3,#7c2,#6b3,#4a4,#7c2,#bc2,#9c2,#5c2,#6c2,#6c2,#4a5,#4a5,#6c2,#5b3,#4a5,#5b3,#4b3,#4b3,#5c2,#4b3,#4a4,#5b2,#6c2,#7c2,#7c2,#7c2,#7c2,#9c2,#9c2,#ac2,#8c2,#7c2,#9c2,#8c2,#9c2,#9c2,#bc2,#dc2,#cc2,#bc2,#bc2,#bc2,#cc2,#dc2,#bc2,#9c2,#ac2,#ac2,#bc2,#cc2,#eb2,#ea2,#dc2,#bc2,#cc2,#ec2,#cc2,#8c2,#6c2,#9c2,#dc2,#ec2,#dc2,#bc2,#bc2,#cc2,#ec2,#dc2,#dc2,#dc2,#ec2,#dc2,#cc2,#ec2,#eb2,#dc2,#cc2,#cc2,#dc2,#e92,#ea2)"></i>
<i style="top:219.87px;height:3.51px;background:linear-gradient(90deg,#396,#396,#495,#4a4,#4a4,#495,#397,#388,#27a,#4a5,#5c2,#7c2,#9c2,#ac2,#8c2,#8c2,#9c2,#ac2,#bc2,#bc2,#cc2,#dc2,#ea2,#ea2,#dc2,#cc2,#ac2,#9c2,#cc2,#ac2,#9c2,#9c2,#9c2,#ac2,#bc2,#bc2,#9c2,#8c2,#6c2,#5b2,#7c2,#8c2,#9c2,#bc2,#ac2,#9c2,#9c2,#ac2,#9c2,#7c2,#6c2,#4b3,#4a4,#5c2,#7c2,#7c2,#5c2,#6c2,#5c2,#5c2,#5c2,#4b3,#397,#289,#396,#4a4,#4a4,#4a4,#4a4,#4a4,#5b3,#5c2,#8c2,#9c2,#5b3,#5b2,#7c2,#9c2,#9c2,#ac2,#ac2,#8c2,#6c2,#4b4,#5b3,#8c2,#6c2,#4b3,#7c2,#bc2,#9c2,#5c2,#6c2,#6c2,#4a5,#495,#6c2,#5b3,#4a5,#5b2,#5b3,#5b3,#5c2,#5b3,#4a4,#5b2,#6c2,#7c2,#7c2,#6c2,#7c2,#9c2,#9c2,#ac2,#8c2,#8c2,#9c2,#8c2,#8c2,#9c2,#bc2,#dc2,#cc2,#cc2,#cc2,#bc2,#cc2,#dc2,#bc2,#9c2,#ac2,#ac2,#bc2,#dc2,#ea2,#ea2,#dc2,#bc2,#cc2,#eb2,#cc2,#8c2,#6c2,#9c2,#dc2,#ec2,#dc2,#bc2,#bc2,#cc2,#ec2,#dc2,#dc2,#dc2,#ec2,#dc2,#dc2,#eb2,#eb2,#dc2,#dc2,#cc2,#dc2,#e92,#ea2)"></i>
<i style="top:222.88px;height:3.51px;background:linear-gradient(90deg,#396,#396,#4a5,#4a4,#4a4,#4a5,#387,#388,#27a,#4a5,#6c2,#7c2,#9c2,#9c2,#8c2,#8c2,#9c2,#ac2,#cc2,#bc2,#bc2,#dc2,#eb2,#eb2,#dc2,#cc2,#9c2,#9c2,#bc2,#ac2,#8c2,#9c2,#9c2,#ac2,#bc2,#bc2,#9c2,#7c2,#6c2,#5b3,#7c2,#8c2,#9c2,#bc2,#ac2,#8c2,#9c2,#ac2,#9c2,#7c2,#6c2,#4b4,#4a5,#5c2,#7c2,#7c2,#5c2,#6c2,#5c2,#5c2,#5c2,#5b3,#396,#388,#4a5,#4a4,#4a4,#4b4,#4a4,#4a4,#5b2,#5c2,#8c2,#9c2,#5b2,#5c2,#8c2,#9c2,#9c2,#ac2,#ac2,#9c2,#6c2,#4b3,#5b3,#8c2,#7c2,#5b2,#8c2,#cc2,#9c2,#6c2,#6c2,#6c2,#4a5,#495,#6c2,#6b3,#4a4,#5c2,#5b2,#5b2,#6c2,#5b3,#4b3,#5c2,#6c2,#7c2,#7c2,#7c2,#6c2,#8c2,#9c2,#ac2,#9c2,#8c2,#9c2,#8c2,#8c2,#9c2,#ac2,#dc2,#cc2,#cc2,#cc2,#bc2,#cc2,#dc2,#bc2,#9c2,#ac2,#ac2,#bc2,#dc2,#ea2,#ea2,#dc2,#bc2,#cc2,#eb2,#cc2,#8c2,#6c2,#9c2,#dc2,#ec2,#dc2,#bc2,#bc2,#dc2,#ec2,#ec2,#dc2,#dc2,#dc2,#dc2,#dc2,#eb2,#ea2,#eb2,#dc2,#cc2,#dc2,#ea2,#ea2)"></i>
<i style="top:225.89px;height:3.51px;background:linear-gradient(90deg,#396,#396,#4a5,#4a4,#4a4,#4a5,#387,#388,#279,#4a4,#6c2,#7c2,#8c2,#9c2,#8c2,#8c2,#ac2,#ac2,#cc2,#bc2,#bc2,#dc2,#eb2,#eb2,#dc2,#cc2,#8c2,#8c2,#bc2,#ac2,#7c2,#8c2,#8c2,#ac2,#ac2,#bc2,#8c2,#7c2,#5c2,#5b3,#7c2,#8c2,#8c2,#ac2,#9c2,#8c2,#9c2,#ac2,#8c2,#7c2,#6c2,#4a4,#4a5,#5b2,#6c2,#6c2,#5c2,#6c2,#5c2,#5c2,#5c2,#5b2,#496,#388,#4a5,#4b4,#4a4,#4b3,#4a4,#4a4,#5c2,#6c2,#9c2,#ac2,#6c2,#5c2,#8c2,#9c2,#9c2,#ac2,#ac2,#9c2,#6c2,#5b3,#6c2,#9c2,#8c2,#6c2,#9c2,#cc2,#ac2,#6c2,#7c2,#6c2,#4a5,#4a5,#6c2,#6b2,#4b3,#5c2,#5c2,#5c2,#6c2,#5b2,#5b3,#6c2,#7c2,#7c2,#8c2,#7c2,#6c2,#8c2,#9c2,#ac2,#9c2,#9c2,#ac2,#9c2,#8c2,#9c2,#ac2,#dc2,#dc2,#dc2,#cc2,#bc2,#cc2,#dc2,#bc2,#9c2,#ac2,#bc2,#cc2,#db2,#ea2,#ea2,#dc2,#bc2,#dc2,#eb2,#cc2,#8c2,#6c2,#9c2,#dc2,#ec2,#dc2,#ac2,#bc2,#dc2,#ec2,#ec2,#dc2,#dc2,#dc2,#cc2,#dc2,#ea2,#e92,#eb2,#dc2,#cc2,#dc2,#ea2,#ea2)"></i>
<i style="top:228.91px;height:3.51px;background:linear-gradient(90deg,#396,#495,#4a5,#4b4,#4b4,#4a5,#387,#388,#289,#4b4,#6c2,#6c2,#8c2,#8c2,#8c2,#8c2,#ac2,#bc2,#cc2,#bc2,#bc2,#dc2,#eb2,#ec2,#dc2,#bc2,#7c2,#7c2,#bc2,#9c2,#6c2,#7c2,#8c2,#ac2,#ac2,#bc2,#8c2,#6c2,#5b2,#4b3,#7c2,#8c2,#8c2,#9c2,#8c2,#7c2,#9c2,#ac2,#8c2,#6c2,#6c2,#4a4,#396,#5b3,#6c2,#6c2,#5c2,#6c2,#5c2,#5c2,#6c2,#5c2,#4a5,#387,#4a4,#4b3,#4b4,#4b3,#4a4,#4a4,#6c2,#6c2,#9c2,#ac2,#6c2,#5c2,#8c2,#9c2,#9c2,#ac2,#ac2,#9c2,#7c2,#5c2,#7c2,#ac2,#9c2,#7c2,#ac2,#dc2,#ac2,#7c2,#7c2,#6c2,#4a5,#4a5,#6c2,#6c2,#5b3,#6c2,#6c2,#6c2,#7c2,#6c2,#5b2,#6c2,#7c2,#7c2,#8c2,#7c2,#6c2,#8c2,#9c2,#ac2,#9c2,#9c2,#bc2,#9c2,#9c2,#9c2,#ac2,#cc2,#dc2,#dc2,#dc2,#bc2,#cc2,#dc2,#bc2,#ac2,#bc2,#bc2,#cc2,#eb2,#ea2,#ea2,#dc2,#bc2,#dc2,#eb2,#cc2,#8c2,#7c2,#9c2,#cc2,#ec2,#dc2,#ac2,#cc2,#dc2,#dc2,#ec2,#dc2,#dc2,#dc2,#cc2,#dc2,#ea2,#e82,#ea2,#dc2,#cc2,#dc2,#ea2,#ea2)"></i>
<i style="top:231.92px;height:3.51px;background:linear-gradient(90deg,#396,#495,#4a4,#4b4,#4b3,#4a4,#387,#388,#389,#5b4,#6c2,#6c2,#7c2,#8c2,#8c2,#8c2,#ac2,#bc2,#cc2,#bc2,#bc2,#dc2,#ec2,#dc2,#cc2,#bc2,#7c2,#7c2,#ac2,#9c2,#6c2,#6c2,#8c2,#ac2,#ac2,#ac2,#8c2,#6c2,#5b3,#4b3,#7c2,#8c2,#8c2,#8c2,#7c2,#7c2,#9c2,#ac2,#8c2,#6c2,#5c2,#4a5,#396,#5b3,#6c2,#5c2,#5c2,#6c2,#5b2,#5c2,#6c2,#6c2,#4a5,#397,#4a4,#4b3,#4b4,#5b3,#4a4,#4b4,#6c2,#6c2,#9c2,#ac2,#7c2,#6c2,#8c2,#9c2,#9c2,#ac2,#ac2,#ac2,#7c2,#5c2,#7c2,#bc2,#ac2,#9c2,#bc2,#dc2,#bc2,#8c2,#8c2,#7c2,#4a4,#4a5,#6c2,#7c2,#5b3,#6c2,#6c2,#6c2,#7c2,#6c2,#5c2,#7c2,#7c2,#7c2,#8c2,#7c2,#7c2,#7c2,#9c2,#ac2,#9c2,#ac2,#bc2,#9c2,#9c2,#ac2,#ac2,#cc2,#dc2,#dc2,#dc2,#cc2,#cc2,#dc2,#bc2,#ac2,#bc2,#cc2,#dc2,#ea2,#e92,#ea2,#dc2,#bc2,#dc2,#eb2,#cc2,#8c2,#7c2,#9c2,#cc2,#ec2,#cc2,#ac2,#cc2,#dc2,#dc2,#ec2,#ec2,#dc2,#cc2,#cc2,#db2,#e92,#e82,#e92,#dc2,#dc2,#dc2,#ea2,#ea2)"></i>
<i style="top:234.93px;height:3.51px;background:linear-gradient(90deg,#396,#4a5,#4a4,#4b3,#4b3,#4a4,#387,#388,#388,#5b3,#6c2,#6c2,#7c2,#8c2,#8c2,#8c2,#ac2,#bc2,#bc2,#bc2,#ac2,#cc2,#dc2,#dc2,#cc2,#ac2,#6c2,#6c2,#9c2,#8c2,#5c2,#6c2,#8c2,#9c2,#ac2,#ac2,#7c2,#5c2,#5b3,#4b4,#7c2,#8c2,#7c2,#8c2,#7c2,#6c2,#8c2,#9c2,#7c2,#6c2,#5c2,#4a5,#396,#5b3,#6c2,#5c2,#5c2,#6c2,#5b2,#5c2,#6c2,#6c2,#4a4,#396,#4b4,#4b3,#4b3,#5b2,#4b4,#4b4,#6c2,#7c2,#9c2,#bc2,#8c2,#6c2,#8c2,#ac2,#ac2,#ac2,#ac2,#ac2,#8c2,#6c2,#8c2,#bc2,#bc2,#ac2,#bc2,#dc2,#bc2,#8c2,#9c2,#8c2,#4b4,#4a5,#6c2,#7c2,#5c2,#6c2,#7c2,#7c2,#8c2,#7c2,#6c2,#7c2,#8c2,#8c2,#9c2,#8c2,#7c2,#7c2,#9c2,#bc2,#ac2,#ac2,#cc2,#ac2,#ac2,#ac2,#ac2,#cc2,#dc2,#dc2,#dc2,#cc2,#dc2,#dc2,#bc2,#ac2,#cc2,#cc2,#dc2,#e92,#e92,#ea2,#db2,#bc2,#dc2,#eb2,#cc2,#8c2,#8c2,#9c2,#cc2,#ec2,#cc2,#ac2,#cc2,#dc2,#dc2,#ec2,#ec2,#cc2,#cc2,#cc2,#eb2,#e92,#e72,#e82,#eb2,#dc2,#dc2,#ea2,#ea2)"></i>
<i style="top:237.94px;height:3.51px;background:linear-gradient(90deg,#396,#4a5,#4b4,#4b3,#4b3,#4a4,#387,#388,#388,#5b3,#6c2,#5c2,#6c2,#7c2,#7c2,#8c2,#ac2,#bc2,#bc2,#bc2,#ac2,#cc2,#dc2,#dc2,#bc2,#ac2,#6c2,#6c2,#9c2,#8c2,#5b2,#5c2,#8c2,#9c2,#9c2,#ac2,#7c2,#5c2,#4b3,#4b4,#7c2,#8c2,#7c2,#7c2,#6c2,#6c2,#8c2,#9c2,#7c2,#5c2,#5c2,#4a5,#396,#5b3,#6c2,#5c2,#5b2,#6c2,#5c2,#5b2,#6c2,#6c2,#4b4,#495,#4b3,#4b3,#4b3,#5c2,#4b3,#4b3,#6c2,#7c2,#9c2,#bc2,#8c2,#7c2,#8c2,#ac2,#ac2,#ac2,#ac2,#ac2,#8c2,#6c2,#8c2,#cc2,#cc2,#bc2,#cc2,#dc2,#cc2,#9c2,#ac2,#8c2,#5b4,#4a5,#6b3,#8c2,#5c2,#6c2,#7c2,#7c2,#8c2,#7c2,#6c2,#8c2,#8c2,#8c2,#9c2,#8c2,#7c2,#7c2,#9c2,#bc2,#ac2,#bc2,#cc2,#ac2,#ac2,#bc2,#ac2,#bc2,#dc2,#eb2,#eb2,#cc2,#dc2,#dc2,#bc2,#bc2,#dc2,#dc2,#eb2,#e92,#e92,#ea2,#db2,#bc2,#dc2,#eb2,#cc2,#8c2,#8c2,#ac2,#cc2,#dc2,#cc2,#ac2,#cc2,#dc2,#dc2,#ec2,#ec2,#cc2,#cc2,#cc2,#eb2,#e82,#f61,#e72,#eb2,#dc2,#ec2,#ea2,#e92)"></i>
<i style="top:240.95px;height:3.51px;background:linear-gradient(90deg,#396,#4a5,#4b3,#4b3,#5b3,#4a4,#387,#387,#387,#5b3,#6c2,#5c2,#6c2,#7c2,#7c2,#8c2,#ac2,#bc2,#bc2,#ac2,#ac2,#bc2,#dc2,#dc2,#bc2,#9c2,#6b2,#5b2,#8c2,#7c2,#5b3,#5b2,#8c2,#ac2,#9c2,#ac2,#7c2,#5c2,#4b3,#4b3,#7c2,#8c2,#6c2,#6c2,#5c2,#6c2,#8c2,#9c2,#7c2,#5c2,#5c2,#4a4,#495,#5b3,#6c2,#5c2,#5b2,#6c2,#5c2,#5b2,#7c2,#7c2,#5b3,#4a5,#4b3,#4b3,#4b3,#5c2,#5b3,#4b3,#6c2,#7c2,#8c2,#bc2,#9c2,#7c2,#8c2,#ac2,#ac2,#ac2,#ac2,#ac2,#8c2,#6c2,#9c2,#cc2,#cc2,#cc2,#cc2,#dc2,#cc2,#9c2,#ac2,#8c2,#5b4,#495,#6b3,#8c2,#6c2,#6c2,#7c2,#6c2,#8c2,#7c2,#7c2,#8c2,#8c2,#8c2,#9c2,#8c2,#7c2,#7c2,#9c2,#bc2,#ac2,#bc2,#dc2,#bc2,#bc2,#bc2,#ac2,#bc2,#dc2,#eb2,#eb2,#dc2,#dc2,#ec2,#cc2,#bc2,#dc2,#dc2,#eb2,#e82,#e92,#ea2,#db2,#bc2,#dc2,#eb2,#bc2,#8c2,#9c2,#ac2,#cc2,#dc2,#cc2,#ac2,#cc2,#dc2,#dc2,#ec2,#ec2,#cc2,#cc2,#cc2,#eb2,#e82,#f61,#e71,#eb2,#dc2,#ec2,#ea2,#e92)"></i>
<i style="top:243.97px;height:3.51px;background:linear-gradient(90deg,#396,#4a5,#4b3,#4b3,#5b3,#4a4,#397,#387,#387,#5b3,#6c2,#5b2,#5c2,#6c2,#7c2,#8c2,#ac2,#bc2,#bc2,#ac2,#9c2,#bc2,#dc2,#cc2,#bc2,#9c2,#5b3,#5b3,#8c2,#7c2,#4b3,#5b3,#8c2,#ac2,#ac2,#ac2,#7c2,#5c2,#5b3,#4b3,#7c2,#8c2,#6c2,#6c2,#5c2,#5c2,#7c2,#8c2,#7c2,#5c2,#5c2,#4b4,#4a5,#5b3,#6c2,#5c2,#5b2,#7c2,#5c2,#5b2,#7c2,#8c2,#5b3,#4a5,#4b3,#5b3,#4b3,#6c2,#5b3,#4b3,#6c2,#7c2,#8c2,#bc2,#9c2,#7c2,#8c2,#ac2,#ac2,#ac2,#ac2,#ac2,#9c2,#6c2,#9c2,#cc2,#cc2,#cc2,#cc2,#dc2,#cc2,#ac2,#ac2,#9c2,#5b3,#495,#6b3,#8c2,#6c2,#6c2,#7c2,#6c2,#8c2,#7c2,#7c2,#8c2,#8c2,#8c2,#9c2,#8c2,#7c2,#7c2,#9c2,#bc2,#ac2,#bc2,#dc2,#cc2,#bc2,#cc2,#ac2,#bc2,#dc2,#eb2,#eb2,#dc2,#dc2,#eb2,#cc2,#cc2,#dc2,#ec2,#ea2,#e82,#e92,#ea2,#db2,#bc2,#cc2,#eb2,#bc2,#8c2,#9c2,#bc2,#cc2,#dc2,#cc2,#ac2,#cc2,#dc2,#dc2,#ec2,#ec2,#cc2,#bc2,#cc2,#eb2,#e82,#f61,#f71,#ea2,#dc2,#ec2,#ea2,#ea2)"></i>
<i style="top:246.98px;height:3.51px;background:linear-gradient(90deg,#396,#4a5,#4b3,#4b3,#5b3,#4a4,#397,#387,#387,#5b3,#6c2,#5b3,#5b2,#6c2,#6c2,#7c2,#9c2,#ac2,#bc2,#ac2,#9c2,#bc2,#cc2,#cc2,#ac2,#9c2,#5b3,#5b3,#7c2,#7c2,#4b4,#5b3,#8c2,#ac2,#ac2,#ac2,#8c2,#6c2,#5b3,#4b3,#7c2,#8c2,#6c2,#6c2,#5c2,#5c2,#7c2,#8c2,#7c2,#5c2,#5c2,#4b3,#4a4,#5b3,#7c2,#5c2,#5c2,#7c2,#6c2,#5b2,#7c2,#8c2,#5b3,#4a4,#4b3,#5b3,#4b3,#6c2,#5b3,#4b3,#7c2,#7c2,#8c2,#bc2,#9c2,#7c2,#8c2,#ac2,#ac2,#ac2,#ac2,#ac2,#9c2,#6c2,#9c2,#cc2,#cc2,#dc2,#cc2,#dc2,#cc2,#ac2,#ac2,#9c2,#5b3,#396,#5b3,#9c2,#7c2,#6c2,#7c2,#6c2,#7c2,#8c2,#7c2,#9c2,#9c2,#8c2,#9c2,#9c2,#8c2,#7c2,#9c2,#bc2,#ac2,#bc2,#dc2,#cc2,#cc2,#dc2,#bc2,#bc2,#dc2,#eb2,#eb2,#dc2,#dc2,#eb2,#cc2,#cc2,#ec2,#eb2,#ea2,#e72,#e92,#eb2,#db2,#bc2,#cc2,#eb2,#bc2,#8c2,#ac2,#bc2,#cc2,#cc2,#bc2,#ac2,#cc2,#dc2,#cc2,#eb2,#eb2,#cc2,#bc2,#cc2,#eb2,#e82,#f61,#f71,#ea2,#dc2,#ec2,#ea2,#ea2)"></i>
<i style="top:249.99px;height:3.51px;background:linear-gradient(90deg,#397,#495,#5b3,#4b3,#5b3,#4a4,#397,#397,#387,#5b3,#6c2,#4b3,#5b3,#5c2,#6c2,#7c2,#9c2,#ac2,#ac2,#9c2,#9c2,#ac2,#cc2,#cc2,#ac2,#8c2,#5b3,#5b3,#7c2,#6c2,#4a4,#4b3,#8c2,#ac2,#ac2,#ac2,#8c2,#6c2,#5b3,#4b3,#7c2,#8c2,#6c2,#5c2,#5c2,#5c2,#7c2,#8c2,#7c2,#5c2,#5c2,#5b3,#4b4,#5b3,#7c2,#6c2,#5c2,#7c2,#6c2,#5b2,#7c2,#9c2,#6c2,#4b4,#4b3,#5b3,#5b3,#6c2,#6c2,#5b3,#7c2,#6c2,#7c2,#ac2,#9c2,#8c2,#8c2,#ac2,#ac2,#ac2,#ac2,#ac2,#9c2,#7c2,#9c2,#cc2,#dc2,#dc2,#cc2,#dc2,#cc2,#ac2,#bc2,#9c2,#5b3,#495,#5b3,#9c2,#7c2,#6c2,#7c2,#6c2,#7c2,#8c2,#7c2,#9c2,#9c2,#8c2,#9c2,#9c2,#8c2,#7c2,#9c2,#bc2,#ac2,#bc2,#ec2,#dc2,#dc2,#ec2,#cc2,#bc2,#dc2,#eb2,#eb2,#dc2,#dc2,#dc2,#cc2,#cc2,#ec2,#eb2,#ea2,#e72,#e92,#eb2,#db2,#bc2,#cc2,#ec2,#bc2,#8c2,#ac2,#cc2,#bc2,#cc2,#bc2,#ac2,#cc2,#dc2,#cc2,#eb2,#eb2,#cc2,#bc2,#bc2,#db2,#e82,#f61,#f71,#ea2,#dc2,#dc2,#ea2,#ea2)"></i>
<i style="top:253.00px;height:3.51px;background:linear-gradient(90deg,#397,#396,#5b3,#5b3,#5b3,#4a4,#397,#397,#387,#5b3,#6c2,#4b4,#4b3,#5c2,#6c2,#6c2,#8c2,#9c2,#ac2,#9c2,#8c2,#9c2,#cc2,#bc2,#ac2,#8c2,#5b3,#5b3,#6c2,#6c2,#4a4,#4b4,#8c2,#ac2,#ac2,#ac2,#8c2,#6c2,#5b2,#5b3,#7c2,#8c2,#6c2,#5c2,#5b2,#5c2,#6c2,#7c2,#7c2,#5c2,#5c2,#5b2,#4b3,#5b2,#7c2,#6c2,#5c2,#7c2,#6c2,#5b2,#7c2,#9c2,#6c2,#4b3,#4b3,#5b3,#5b3,#7c2,#6c2,#5b3,#7c2,#6c2,#7c2,#ac2,#9c2,#8c2,#8c2,#ac2,#ac2,#ac2,#ac2,#ac2,#9c2,#7c2,#9c2,#cc2,#dc2,#dc2,#cc2,#dc2,#cc2,#bc2,#bc2,#ac2,#6b3,#4a5,#5b3,#ac2,#8c2,#6c2,#7c2,#6c2,#7c2,#7c2,#7c2,#9c2,#9c2,#8c2,#9c2,#9c2,#8c2,#7c2,#9c2,#bc2,#9c2,#cc2,#ec2,#dc2,#dc2,#eb2,#cc2,#bc2,#dc2,#eb2,#eb2,#dc2,#cc2,#dc2,#bc2,#cc2,#eb2,#eb2,#ea2,#e82,#e92,#eb2,#eb2,#bc2,#bc2,#ec2,#bc2,#8c2,#bc2,#cc2,#bc2,#bc2,#bc2,#ac2,#cc2,#dc2,#cc2,#ec2,#eb2,#cc2,#bc2,#bc2,#db2,#e92,#f71,#e72,#ea2,#dc2,#dc2,#eb2,#ea2)"></i>
<i style="top:256.01px;height:3.51px;background:linear-gradient(90deg,#388,#396,#5b3,#4b3,#4b3,#4a4,#397,#397,#387,#5b4,#6c2,#4a4,#4a4,#5b2,#6c2,#6c2,#7c2,#9c2,#9c2,#8c2,#7c2,#9c2,#bc2,#bc2,#9c2,#8c2,#5b3,#5b3,#6c2,#6c2,#4a4,#4a4,#8c2,#ac2,#ac2,#ac2,#8c2,#6c2,#5c2,#5b3,#7c2,#8c2,#6c2,#5b2,#5b2,#5b2,#6c2,#7c2,#7c2,#5c2,#5c2,#5c2,#5b3,#5c2,#7c2,#6c2,#5c2,#7c2,#6c2,#5b2,#7c2,#9c2,#7c2,#4b3,#4b3,#5b3,#5b3,#7c2,#7c2,#5b2,#7c2,#6c2,#7c2,#ac2,#ac2,#8c2,#8c2,#ac2,#ac2,#ac2,#ac2,#ac2,#9c2,#7c2,#9c2,#cc2,#dc2,#dc2,#dc2,#cc2,#cc2,#bc2,#bc2,#ac2,#6b3,#4a4,#6b3,#ac2,#9c2,#7c2,#7c2,#6c2,#7c2,#8c2,#7c2,#9c2,#ac2,#9c2,#ac2,#ac2,#9c2,#7c2,#9c2,#bc2,#9c2,#cc2,#eb2,#eb2,#ec2,#ea2,#dc2,#cc2,#dc2,#eb2,#eb2,#dc2,#bc2,#cc2,#bc2,#bc2,#ec2,#eb2,#ea2,#e82,#e92,#dc2,#ec2,#bc2,#bc2,#dc2,#bc2,#8c2,#bc2,#dc2,#cc2,#bc2,#bc2,#ac2,#cc2,#dc2,#cc2,#dc2,#dc2,#cc2,#ac2,#ac2,#dc2,#e92,#e82,#e82,#eb2,#cc2,#dc2,#eb2,#ea2)"></i>
<i style="top:259.03px;height:3.51px;background:linear-gradient(90deg,#389,#397,#5b3,#4b3,#4b3,#4a4,#387,#387,#388,#4a4,#5c2,#4a4,#4a5,#5b3,#5c2,#6c2,#6c2,#8c2,#9c2,#8c2,#7c2,#8c2,#ac2,#bc2,#9c2,#8c2,#5b3,#5b3,#6c2,#6c2,#4a5,#4a4,#8c2,#ac2,#ac2,#9c2,#7c2,#6c2,#5c2,#5b3,#7c2,#8c2,#6c2,#5b3,#5b2,#5b2,#6c2,#6c2,#7c2,#5c2,#6c2,#6c2,#5b2,#6c2,#8c2,#6c2,#5c2,#7c2,#7c2,#5b2,#7c2,#ac2,#7c2,#5b3,#4b3,#5b3,#5b3,#7c2,#8c2,#5c2,#7c2,#6c2,#6c2,#ac2,#9c2,#8c2,#8c2,#ac2,#ac2,#ac2,#ac2,#ac2,#ac2,#7c2,#9c2,#cc2,#dc2,#ec2,#dc2,#cc2,#dc2,#cc2,#cc2,#bc2,#7c2,#4b3,#6c2,#bc2,#ac2,#7c2,#7c2,#6c2,#7c2,#8c2,#7c2,#9c2,#ac2,#9c2,#ac2,#ac2,#9c2,#7c2,#9c2,#bc2,#9c2,#cc2,#eb2,#eb2,#eb2,#e92,#db2,#dc2,#dc2,#ec2,#eb2,#cc2,#bc2,#cc2,#ac2,#bc2,#dc2,#ec2,#eb2,#e92,#ea2,#dc2,#dc2,#bc2,#ac2,#dc2,#bc2,#8c2,#bc2,#dc2,#cc2,#bc2,#bc2,#ac2,#bc2,#cc2,#cc2,#dc2,#dc2,#bc2,#ac2,#ac2,#cc2,#ea2,#e82,#e92,#eb2,#cc2,#dc2,#eb2,#eb2)"></i>
<i style="top:262.04px;height:3.51px;background:linear-gradient(90deg,#279,#388,#4b3,#4b3,#4b4,#4a5,#387,#387,#388,#4a4,#5c2,#4a5,#4a5,#5b3,#5c2,#5c2,#6c2,#7c2,#8c2,#7c2,#6c2,#7c2,#ac2,#ac2,#9c2,#8c2,#5b2,#5b2,#6c2,#5c2,#4a5,#4a4,#8c2,#bc2,#ac2,#9c2,#7c2,#6c2,#5c2,#5b3,#7c2,#8c2,#6c2,#5b3,#5b2,#5c2,#6c2,#6c2,#6c2,#5c2,#6c2,#6c2,#5c2,#6c2,#8c2,#7c2,#5c2,#7c2,#7c2,#5b2,#7c2,#ac2,#7c2,#5b3,#4b3,#5b3,#5b3,#8c2,#8c2,#6c2,#7c2,#7c2,#6c2,#9c2,#9c2,#8c2,#8c2,#ac2,#bc2,#ac2,#ac2,#ac2,#ac2,#8c2,#9c2,#cc2,#dc2,#ec2,#dc2,#cc2,#dc2,#cc2,#cc2,#bc2,#7c2,#5b3,#7c2,#cc2,#bc2,#8c2,#8c2,#6c2,#7c2,#8c2,#7c2,#9c2,#ac2,#9c2,#ac2,#bc2,#ac2,#8c2,#9c2,#cc2,#ac2,#bc2,#eb2,#ea2,#ea2,#e82,#ea2,#dc2,#dc2,#ec2,#eb2,#cc2,#ac2,#bc2,#ac2,#ac2,#dc2,#ec2,#eb2,#e92,#ea2,#dc2,#dc2,#bc2,#ac2,#cc2,#ac2,#8c2,#bc2,#dc2,#cc2,#ac2,#bc2,#ac2,#bc2,#cc2,#cc2,#dc2,#dc2,#bc2,#ac2,#9c2,#cc2,#eb2,#e92,#ea2,#dc2,#cc2,#cc2,#ec2,#eb2)"></i>
<i style="top:265.05px;height:3.51px;background:linear-gradient(90deg,#27a,#389,#4b3,#4b3,#4a4,#495,#388,#387,#388,#4a5,#5b2,#4a5,#495,#5b3,#5c2,#5c2,#5c2,#7c2,#8c2,#7c2,#6c2,#7c2,#9c2,#ac2,#9c2,#8c2,#5c2,#5b2,#6c2,#5c2,#4a5,#4a5,#8c2,#bc2,#ac2,#9c2,#7c2,#6c2,#6c2,#5b2,#6c2,#8c2,#6c2,#5b3,#5c2,#5c2,#5c2,#5c2,#6c2,#5c2,#6c2,#7c2,#6c2,#6c2,#8c2,#7c2,#5c2,#7c2,#7c2,#5c2,#7c2,#ac2,#8c2,#5b2,#4b3,#5b3,#5b2,#8c2,#9c2,#6c2,#8c2,#7c2,#6c2,#9c2,#9c2,#8c2,#8c2,#ac2,#bc2,#ac2,#9c2,#ac2,#ac2,#8c2,#9c2,#cc2,#dc2,#eb2,#dc2,#cc2,#dc2,#cc2,#cc2,#cc2,#8c2,#5c2,#7c2,#cc2,#cc2,#9c2,#8c2,#7c2,#7c2,#8c2,#7c2,#9c2,#bc2,#ac2,#bc2,#bc2,#ac2,#8c2,#9c2,#cc2,#ac2,#bc2,#eb2,#ea2,#ea2,#e82,#e92,#ec2,#ec2,#ec2,#eb2,#cc2,#9c2,#ac2,#ac2,#ac2,#dc2,#dc2,#ec2,#ea2,#ea2,#dc2,#dc2,#bc2,#9c2,#cc2,#ac2,#8c2,#bc2,#ec2,#cc2,#ac2,#bc2,#ac2,#bc2,#cc2,#cc2,#dc2,#dc2,#bc2,#ac2,#9c2,#bc2,#eb2,#ea2,#eb2,#dc2,#cc2,#cc2,#dc2,#eb2)"></i>
<i style="top:268.06px;height:3.51px;background:linear-gradient(90deg,#27b,#289,#4a4,#4b3,#4a5,#396,#388,#388,#289,#396,#5b3,#4a5,#396,#4b3,#5b2,#5c2,#5b3,#6c2,#7c2,#7c2,#5c2,#6c2,#8c2,#9c2,#8c2,#7c2,#6c2,#5c2,#6c2,#5c2,#4a5,#4a5,#7c2,#bc2,#ac2,#9c2,#7c2,#6c2,#6c2,#5c2,#6c2,#8c2,#6c2,#4b3,#5c2,#5c2,#6c2,#5c2,#6c2,#5c2,#6c2,#7c2,#6c2,#6c2,#8c2,#7c2,#6c2,#7c2,#8c2,#5c2,#6c2,#ac2,#8c2,#5c2,#4b3,#5b3,#5b2,#7c2,#ac2,#7c2,#8c2,#7c2,#6c2,#9c2,#9c2,#8c2,#8c2,#ac2,#bc2,#ac2,#9c2,#ac2,#bc2,#9c2,#ac2,#bc2,#dc2,#eb2,#dc2,#cc2,#dc2,#cc2,#dc2,#cc2,#9c2,#6c2,#8c2,#dc2,#cc2,#ac2,#9c2,#7c2,#8c2,#8c2,#7c2,#9c2,#bc2,#ac2,#bc2,#cc2,#bc2,#8c2,#9c2,#cc2,#ac2,#bc2,#eb2,#e92,#e92,#e82,#e82,#eb2,#eb2,#ec2,#eb2,#cc2,#9c2,#ac2,#ac2,#ac2,#dc2,#dc2,#dc2,#ea2,#ea2,#cc2,#dc2,#bc2,#9c2,#bc2,#ac2,#8c2,#bc2,#ec2,#cc2,#ac2,#ac2,#ac2,#bc2,#cc2,#cc2,#dc2,#dc2,#bc2,#ac2,#9c2,#ac2,#dc2,#eb2,#ec2,#dc2,#cc2,#cc2,#dc2,#ec2)"></i>
<i style="top:271.07px;height:3.51px;background:linear-gradient(90deg,#17c,#27a,#4a4,#4b4,#4a5,#397,#388,#388,#289,#397,#4b3,#4a5,#396,#4b3,#5b2,#5b2,#4b3,#5c2,#7c2,#6c2,#5c2,#5c2,#7c2,#9c2,#8c2,#8c2,#6c2,#6c2,#6c2,#5c2,#4a5,#4a5,#7c2,#bc2,#ac2,#9c2,#6c2,#6c2,#6c2,#5c2,#6c2,#8c2,#6c2,#4b3,#5c2,#6c2,#6c2,#5c2,#6c2,#5c2,#7c2,#8c2,#7c2,#7c2,#8c2,#8c2,#6c2,#6c2,#8c2,#6c2,#6c2,#ac2,#9c2,#6c2,#4b3,#5b3,#5b2,#7c2,#ac2,#7c2,#8c2,#7c2,#5c2,#8c2,#9c2,#8c2,#8c2,#ac2,#bc2,#ac2,#9c2,#ac2,#bc2,#9c2,#ac2,#bc2,#dc2,#eb2,#dc2,#cc2,#dc2,#dc2,#dc2,#cc2,#ac2,#7c2,#ac2,#db2,#db2,#bc2,#9c2,#8c2,#8c2,#8c2,#7c2,#9c2,#bc2,#ac2,#bc2,#cc2,#bc2,#9c2,#9c2,#cc2,#ac2,#bc2,#eb2,#e92,#e92,#e72,#e72,#ea2,#eb2,#ec2,#eb2,#dc2,#9c2,#ac2,#ac2,#ac2,#cc2,#dc2,#dc2,#eb2,#eb2,#cc2,#dc2,#cc2,#9c2,#bc2,#ac2,#8c2,#bc2,#ec2,#cc2,#ac2,#ac2,#ac2,#ac2,#bc2,#cc2,#dc2,#dc2,#bc2,#ac2,#9c2,#ac2,#dc2,#eb2,#dc2,#dc2,#cc2,#bc2,#dc2,#dc2)"></i>
<i style="top:274.09px;height:3.51px;background:linear-gradient(90deg,#16d,#27b,#4a5,#4a4,#396,#387,#289,#289,#27a,#387,#4b4,#4a5,#396,#4b3,#5b3,#5b2,#4b4,#5b3,#6c2,#6c2,#5b2,#5c2,#7c2,#8c2,#8c2,#8c2,#7c2,#6c2,#6c2,#6c2,#4a5,#4a5,#7c2,#bc2,#bc2,#9c2,#6c2,#6c2,#6c2,#5c2,#6c2,#8c2,#6c2,#5b3,#6c2,#6c2,#6c2,#5c2,#6c2,#5c2,#7c2,#9c2,#7c2,#7c2,#8c2,#8c2,#6c2,#6c2,#8c2,#6c2,#6c2,#ac2,#9c2,#6c2,#5b3,#5b3,#5c2,#7c2,#ac2,#8c2,#8c2,#7c2,#5c2,#8c2,#8c2,#7c2,#8c2,#bc2,#bc2,#ac2,#9c2,#ac2,#bc2,#ac2,#ac2,#bc2,#cc2,#eb2,#dc2,#cc2,#dc2,#dc2,#dc2,#dc2,#ac2,#8c2,#bc2,#db2,#db2,#bc2,#ac2,#8c2,#8c2,#8c2,#7c2,#9c2,#bc2,#ac2,#bc2,#cc2,#cc2,#9c2,#8c2,#cc2,#ac2,#bc2,#eb2,#e92,#e92,#e82,#f71,#e92,#ea2,#ec2,#eb2,#dc2,#9c2,#ac2,#bc2,#ac2,#cc2,#dc2,#dc2,#eb2,#eb2,#cc2,#cc2,#cc2,#9c2,#ac2,#ac2,#7c2,#bc2,#ec2,#dc2,#ac2,#ac2,#ac2,#ac2,#bc2,#cc2,#dc2,#dc2,#cc2,#bc2,#ac2,#ac2,#cc2,#ec2,#cc2,#cc2,#cc2,#bc2,#dc2,#dc2)"></i>
<i style="top:277.10px;height:3.51px;background:linear-gradient(90deg,#16d,#17c,#396,#4a4,#396,#388,#289,#27a,#27a,#388,#4a4,#4a5,#396,#4b3,#5b3,#5b2,#4a4,#4b3,#6c2,#6c2,#5b2,#5b2,#6c2,#8c2,#8c2,#8c2,#7c2,#7c2,#7c2,#6c2,#4a4,#4a5,#7c2,#cc2,#bc2,#9c2,#6c2,#6c2,#6c2,#6c2,#6c2,#8c2,#6c2,#5b3,#6c2,#7c2,#7c2,#5c2,#5c2,#6c2,#7c2,#9c2,#8c2,#7c2,#8c2,#8c2,#6c2,#6c2,#8c2,#6c2,#6c2,#9c2,#ac2,#7c2,#5b3,#5b3,#5c2,#7c2,#ac2,#8c2,#8c2,#8c2,#5c2,#7c2,#8c2,#7c2,#8c2,#bc2,#bc2,#9c2,#8c2,#ac2,#bc2,#ac2,#ac2,#bc2,#cc2,#eb2,#dc2,#cc2,#cc2,#dc2,#dc2,#dc2,#bc2,#9c2,#bc2,#ea2,#ea2,#cc2,#ac2,#9c2,#9c2,#9c2,#7c2,#8c2,#bc2,#bc2,#bc2,#dc2,#cc2,#9c2,#8c2,#cc2,#ac2,#ac2,#eb2,#e92,#ea2,#e82,#f71,#e92,#ea2,#eb2,#eb2,#db2,#ac2,#ac2,#bc2,#ac2,#bc2,#cc2,#cc2,#dc2,#eb2,#cc2,#cc2,#cc2,#9c2,#ac2,#9c2,#7c2,#ac2,#dc2,#dc2,#ac2,#ac2,#ac2,#9c2,#bc2,#cc2,#dc2,#dc2,#cc2,#bc2,#ac2,#ac2,#cc2,#dc2,#cc2,#cc2,#cc2,#bc2,#cc2,#dc2)"></i>
<i style="top:280.11px;height:3.51px;background:linear-gradient(90deg,#16d,#16c,#397,#4a5,#397,#388,#27a,#27a,#27b,#289,#4a5,#4a5,#396,#4b3,#5b3,#5b3,#4a4,#4a4,#5c2,#6c2,#5b3,#5b3,#5c2,#7c2,#8c2,#8c2,#8c2,#8c2,#7c2,#6c2,#4a4,#4a5,#7c2,#cc2,#bc2,#9c2,#6c2,#6c2,#6c2,#6c2,#6c2,#8c2,#7c2,#5b3,#6c2,#8c2,#7c2,#5c2,#5c2,#6c2,#7c2,#9c2,#8c2,#7c2,#8c2,#8c2,#6c2,#6c2,#9c2,#7c2,#6c2,#9c2,#ac2,#7c2,#5b3,#5b3,#5c2,#6c2,#ac2,#8c2,#8c2,#8c2,#5c2,#7c2,#8c2,#7c2,#8c2,#bc2,#bc2,#9c2,#8c2,#9c2,#bc2,#ac2,#bc2,#bc2,#cc2,#dc2,#dc2,#cc2,#cc2,#dc2,#dc2,#dc2,#bc2,#ac2,#cc2,#ea2,#ea2,#dc2,#bc2,#9c2,#ac2,#9c2,#7c2,#8c2,#bc2,#bc2,#bc2,#dc2,#cc2,#9c2,#8c2,#bc2,#ac2,#ac2,#db2,#ea2,#ea2,#e92,#f71,#e82,#ea2,#eb2,#eb2,#eb2,#bc2,#ac2,#cc2,#ac2,#bc2,#cc2,#cc2,#dc2,#eb2,#cc2,#cc2,#cc2,#9c2,#9c2,#9c2,#7c2,#ac2,#dc2,#dc2,#bc2,#bc2,#ac2,#9c2,#ac2,#bc2,#dc2,#dc2,#cc2,#bc2,#bc2,#ac2,#bc2,#dc2,#bc2,#bc2,#cc2,#bc2,#cc2,#dc2)"></i>
<i style="top:283.12px;height:3.51px;background:linear-gradient(90deg,#16e,#16d,#388,#495,#387,#289,#27a,#27b,#27b,#27a,#396,#4a4,#396,#4b4,#5b3,#5b3,#4a4,#4a4,#5b3,#5c2,#5b3,#4b3,#5c2,#7c2,#7c2,#7c2,#8c2,#9c2,#8c2,#6c2,#4a4,#4a4,#6c2,#cc2,#cc2,#9c2,#6c2,#6c2,#6c2,#6c2,#6c2,#8c2,#7c2,#5b2,#6c2,#8c2,#8c2,#5c2,#5c2,#6c2,#7c2,#ac2,#8c2,#8c2,#8c2,#7c2,#6c2,#6c2,#9c2,#8c2,#5c2,#9c2,#ac2,#8c2,#5b2,#5b2,#5c2,#6c2,#9c2,#8c2,#8c2,#8c2,#6c2,#7c2,#8c2,#7c2,#8c2,#bc2,#bc2,#9c2,#7c2,#9c2,#bc2,#bc2,#bc2,#bc2,#cc2,#dc2,#dc2,#cc2,#cc2,#dc2,#dc2,#dc2,#cc2,#ac2,#cc2,#ea2,#ea2,#dc2,#bc2,#9c2,#ac2,#ac2,#7c2,#8c2,#bc2,#bc2,#bc2,#cc2,#cc2,#ac2,#8c2,#bc2,#ac2,#9c2,#dc2,#ea2,#ea2,#ea2,#e72,#e82,#e92,#eb2,#eb2,#eb2,#bc2,#ac2,#cc2,#ac2,#ac2,#bc2,#cc2,#cc2,#ec2,#cc2,#cc2,#cc2,#ac2,#9c2,#9c2,#7c2,#ac2,#dc2,#dc2,#bc2,#bc2,#ac2,#9c2,#ac2,#bc2,#cc2,#dc2,#dc2,#bc2,#cc2,#bc2,#bc2,#dc2,#bc2,#bc2,#cc2,#bc2,#cc2,#cc2)"></i>
<i style="top:286.13px;height:3.51px;background:linear-gradient(90deg,#16e,#16d,#289,#396,#387,#289,#27a,#27b,#27c,#27a,#397,#4a4,#396,#4b4,#5b3,#5b3,#4a4,#4a5,#5b3,#5c2,#5b3,#4b3,#5b2,#6c2,#7c2,#7c2,#9c2,#9c2,#8c2,#7c2,#4b4,#4a4,#6c2,#bc2,#cc2,#9c2,#7c2,#5c2,#6c2,#7c2,#6c2,#8c2,#7c2,#5c2,#6c2,#9c2,#8c2,#6c2,#5c2,#6c2,#8c2,#ac2,#9c2,#8c2,#8c2,#7c2,#6c2,#6c2,#9c2,#8c2,#5c2,#8c2,#ac2,#8c2,#6c2,#5b2,#5c2,#6c2,#9c2,#8c2,#8c2,#9c2,#6c2,#7c2,#8c2,#7c2,#8c2,#bc2,#bc2,#9c2,#7c2,#8c2,#bc2,#bc2,#bc2,#bc2,#bc2,#dc2,#dc2,#cc2,#cc2,#dc2,#dc2,#dc2,#cc2,#bc2,#cc2,#ea2,#ea2,#dc2,#bc2,#ac2,#bc2,#ac2,#8c2,#8c2,#bc2,#bc2,#bc2,#cc2,#cc2,#ac2,#8c2,#bc2,#ac2,#9c2,#dc2,#eb2,#eb2,#eb2,#e82,#e82,#ea2,#eb2,#eb2,#eb2,#cc2,#ac2,#cc2,#bc2,#ac2,#bc2,#cc2,#cc2,#dc2,#dc2,#bc2,#cc2,#ac2,#9c2,#9c2,#7c2,#9c2,#cc2,#dc2,#bc2,#bc2,#bc2,#9c2,#9c2,#bc2,#cc2,#dc2,#dc2,#cc2,#cc2,#bc2,#bc2,#dc2,#bc2,#bc2,#dc2,#bc2,#bc2,#cc2)"></i>
<i style="top:289.14px;height:3.51px;background:linear-gradient(90deg,#16e,#16d,#289,#396,#387,#27a,#27a,#27b,#17c,#27b,#387,#4a4,#495,#4b4,#5b3,#5b3,#4a4,#495,#4b3,#5c2,#5b3,#4b3,#5b3,#6c2,#6c2,#7c2,#9c2,#ac2,#9c2,#7c2,#4b3,#4a4,#6b3,#bc2,#cc2,#ac2,#7c2,#5c2,#6c2,#7c2,#6c2,#8c2,#8c2,#5c2,#6c2,#9c2,#8c2,#6c2,#5b2,#6c2,#8c2,#ac2,#9c2,#8c2,#9c2,#8c2,#6c2,#5c2,#9c2,#9c2,#5c2,#8c2,#ac2,#9c2,#6c2,#5b2,#5c2,#5c2,#8c2,#8c2,#8c2,#ac2,#7c2,#7c2,#8c2,#7c2,#7c2,#bc2,#bc2,#9c2,#7c2,#8c2,#bc2,#bc2,#bc2,#bc2,#bc2,#dc2,#dc2,#cc2,#cc2,#cc2,#dc2,#dc2,#cc2,#bc2,#cc2,#ea2,#ea2,#dc2,#bc2,#ac2,#bc2,#bc2,#8c2,#8c2,#bc2,#bc2,#bc2,#cc2,#cc2,#ac2,#9c2,#bc2,#ac2,#8c2,#cc2,#eb2,#eb2,#ec2,#e92,#e92,#ea2,#ec2,#eb2,#eb2,#cc2,#bc2,#cc2,#bc2,#9c2,#ac2,#bc2,#bc2,#dc2,#dc2,#bc2,#cc2,#ac2,#9c2,#9c2,#7c2,#9c2,#cc2,#cc2,#bc2,#bc2,#bc2,#9c2,#9c2,#ac2,#cc2,#dc2,#dc2,#cc2,#cc2,#cc2,#bc2,#cc2,#bc2,#bc2,#dc2,#cc2,#bc2,#cc2)"></i>
<i style="top:292.16px;height:3.51px;background:linear-gradient(90deg,#16d,#16d,#27a,#387,#388,#27a,#27a,#27b,#16c,#27b,#388,#4a4,#4a5,#4b4,#5b3,#5b3,#4a4,#396,#4a4,#5c2,#5b3,#4b4,#4b3,#5c2,#6c2,#7c2,#9c2,#ac2,#9c2,#7c2,#5b3,#4a4,#5b3,#bc2,#dc2,#ac2,#7c2,#6c2,#6c2,#7c2,#7c2,#8c2,#8c2,#5c2,#6c2,#9c2,#9c2,#6c2,#5b2,#6c2,#8c2,#ac2,#9c2,#8c2,#9c2,#8c2,#6c2,#5c2,#8c2,#9c2,#6c2,#7c2,#ac2,#9c2,#6c2,#5b2,#5c2,#5c2,#7c2,#8c2,#8c2,#ac2,#8c2,#7c2,#8c2,#7c2,#7c2,#ac2,#bc2,#9c2,#6c2,#7c2,#ac2,#ac2,#bc2,#bc2,#bc2,#cc2,#dc2,#dc2,#cc2,#cc2,#dc2,#dc2,#cc2,#bc2,#cc2,#ea2,#ea2,#dc2,#bc2,#ac2,#bc2,#bc2,#9c2,#8c2,#bc2,#bc2,#ac2,#cc2,#cc2,#bc2,#9c2,#bc2,#ac2,#8c2,#bc2,#ec2,#dc2,#dc2,#ea2,#ea2,#eb2,#dc2,#eb2,#eb2,#dc2,#bc2,#cc2,#cc2,#9c2,#ac2,#bc2,#bc2,#cc2,#dc2,#bc2,#bc2,#ac2,#9c2,#9c2,#7c2,#8c2,#bc2,#cc2,#ac2,#bc2,#bc2,#9c2,#8c2,#ac2,#bc2,#dc2,#dc2,#cc2,#cc2,#cc2,#bc2,#cc2,#bc2,#bc2,#dc2,#cc2,#bc2,#bc2)"></i>
<i style="top:295.17px;height:3.51px;background:linear-gradient(90deg,#16d,#16d,#27a,#387,#388,#279,#27a,#27b,#16d,#27b,#388,#4a5,#4a5,#4b4,#5b3,#5b3,#4b4,#396,#4a5,#5b2,#5b3,#4a4,#4b3,#5c2,#5c2,#6c2,#9c2,#bc2,#ac2,#8c2,#5b3,#4a4,#5b3,#ac2,#dc2,#ac2,#7c2,#6c2,#5c2,#7c2,#7c2,#8c2,#8c2,#5c2,#6c2,#9c2,#9c2,#6c2,#5b3,#6c2,#8c2,#bc2,#9c2,#9c2,#ac2,#8c2,#7c2,#5c2,#8c2,#ac2,#6c2,#6c2,#9c2,#9c2,#7c2,#5c2,#5c2,#5c2,#7c2,#8c2,#8c2,#ac2,#9c2,#8c2,#8c2,#7c2,#7c2,#ac2,#bc2,#9c2,#6c2,#6c2,#ac2,#ac2,#bc2,#cc2,#bc2,#cc2,#dc2,#dc2,#cc2,#cc2,#dc2,#dc2,#cc2,#bc2,#cc2,#eb2,#eb2,#cc2,#bc2,#ac2,#bc2,#bc2,#ac2,#8c2,#bc2,#bc2,#ac2,#bc2,#cc2,#bc2,#9c2,#bc2,#ac2,#7c2,#ac2,#dc2,#dc2,#cc2,#dc2,#eb2,#ec2,#dc2,#dc2,#eb2,#dc2,#bc2,#cc2,#cc2,#9c2,#9c2,#ac2,#ac2,#bc2,#cc2,#bc2,#bc2,#bc2,#9c2,#9c2,#7c2,#8c2,#ac2,#bc2,#ac2,#bc2,#cc2,#ac2,#8c2,#9c2,#bc2,#cc2,#dc2,#cc2,#cc2,#dc2,#bc2,#cc2,#cc2,#ac2,#dc2,#cc2,#bc2,#bc2)"></i>
<i style="top:298.18px;height:3.51px;background:linear-gradient(90deg,#27c,#17c,#27b,#388,#388,#289,#27a,#27b,#16d,#27c,#389,#4a5,#4a4,#4b4,#5b3,#5b3,#4b3,#396,#4a5,#5b3,#5b3,#4a4,#4b3,#5b2,#5c2,#6c2,#9c2,#bc2,#ac2,#8c2,#5b3,#4a4,#5b3,#9c2,#dc2,#ac2,#8c2,#6c2,#5c2,#6c2,#7c2,#8c2,#8c2,#6c2,#6c2,#8c2,#9c2,#6c2,#5b3,#5c2,#7c2,#bc2,#9c2,#9c2,#ac2,#9c2,#7c2,#5c2,#8c2,#ac2,#6c2,#6c2,#9c2,#9c2,#7c2,#5c2,#6c2,#5c2,#6c2,#8c2,#7c2,#ac2,#ac2,#8c2,#8c2,#7c2,#7c2,#ac2,#bc2,#9c2,#6c2,#6c2,#9c2,#ac2,#bc2,#cc2,#bc2,#bc2,#dc2,#dc2,#cc2,#cc2,#dc2,#dc2,#bc2,#ac2,#bc2,#ec2,#eb2,#cc2,#bc2,#ac2,#bc2,#cc2,#ac2,#9c2,#ac2,#bc2,#ac2,#bc2,#cc2,#bc2,#ac2,#bc2,#ac2,#7c2,#9c2,#dc2,#cc2,#bc2,#dc2,#ec2,#dc2,#dc2,#dc2,#eb2,#dc2,#bc2,#cc2,#cc2,#9c2,#9c2,#ac2,#9c2,#ac2,#cc2,#bc2,#bc2,#bc2,#9c2,#9c2,#7c2,#7c2,#9c2,#ac2,#ac2,#ac2,#cc2,#ac2,#8c2,#9c2,#ac2,#cc2,#dc2,#cc2,#bc2,#dc2,#bc2,#cc2,#cc2,#bc2,#cc2,#dc2,#bc2,#bc2)"></i>
<i style="top:301.19px;height:3.51px;background:linear-gradient(90deg,#27b,#27b,#27b,#388,#388,#289,#27a,#27b,#16d,#27c,#289,#4a5,#4b4,#4b4,#5b3,#4b3,#4b3,#396,#396,#5b3,#5b3,#4a4,#4b4,#5b2,#5c2,#5c2,#9c2,#cc2,#ac2,#8c2,#5b3,#4a4,#5b3,#9c2,#dc2,#bc2,#8c2,#6c2,#5c2,#6c2,#7c2,#8c2,#9c2,#6c2,#5c2,#8c2,#9c2,#6c2,#5b3,#5c2,#7c2,#bc2,#ac2,#9c2,#bc2,#9c2,#7c2,#6c2,#8c2,#ac2,#7c2,#5c2,#8c2,#9c2,#8c2,#5c2,#6c2,#5c2,#6c2,#7c2,#7c2,#ac2,#bc2,#9c2,#9c2,#7c2,#7c2,#9c2,#bc2,#9c2,#6c2,#6c2,#9c2,#ac2,#bc2,#cc2,#bc2,#bc2,#cc2,#dc2,#cc2,#cc2,#dc2,#dc2,#bc2,#ac2,#bc2,#dc2,#dc2,#cc2,#bc2,#ac2,#bc2,#cc2,#bc2,#9c2,#ac2,#bc2,#ac2,#bc2,#cc2,#bc2,#ac2,#bc2,#ac2,#7c2,#8c2,#cc2,#cc2,#bc2,#cc2,#dc2,#dc2,#cc2,#dc2,#eb2,#dc2,#bc2,#cc2,#dc2,#9c2,#8c2,#ac2,#9c2,#9c2,#bc2,#bc2,#bc2,#ac2,#9c2,#9c2,#7c2,#7c2,#8c2,#ac2,#ac2,#ac2,#cc2,#bc2,#9c2,#8c2,#ac2,#cc2,#dc2,#cc2,#bc2,#dc2,#cc2,#cc2,#cc2,#bc2,#cc2,#dc2,#bc2,#ac2)"></i>
<i style="top:304.20px;height:3.51px;background:linear-gradient(90deg,#27a,#27a,#27b,#388,#388,#289,#27a,#27a,#16d,#27c,#289,#495,#4b3,#4b3,#5b3,#4b3,#5b3,#4a5,#396,#4b3,#5b3,#4a4,#4a4,#5b2,#5b2,#5c2,#9c2,#cc2,#bc2,#8c2,#6c2,#4b4,#5b3,#8c2,#dc2,#bc2,#8c2,#7c2,#5c2,#6c2,#7c2,#8c2,#9c2,#6c2,#5c2,#8c2,#9c2,#6c2,#5b3,#5c2,#7c2,#ac2,#ac2,#8c2,#bc2,#ac2,#7c2,#6c2,#7c2,#bc2,#7c2,#5b2,#7c2,#9c2,#8c2,#6c2,#6c2,#6c2,#5c2,#7c2,#7c2,#ac2,#bc2,#ac2,#9c2,#7c2,#7c2,#9c2,#bc2,#ac2,#6c2,#5b2,#8c2,#9c2,#ac2,#cc2,#bc2,#ac2,#cc2,#cc2,#cc2,#bc2,#dc2,#dc2,#bc2,#ac2,#ac2,#cc2,#dc2,#bc2,#bc2,#ac2,#bc2,#dc2,#bc2,#ac2,#ac2,#bc2,#ac2,#ac2,#bc2,#bc2,#ac2,#bc2,#bc2,#7c2,#7c2,#bc2,#cc2,#ac2,#bc2,#cc2,#cc2,#bc2,#cc2,#eb2,#dc2,#cc2,#cc2,#dc2,#ac2,#8c2,#9c2,#9c2,#9c2,#bc2,#bc2,#bc2,#ac2,#9c2,#9c2,#7c2,#7c2,#8c2,#9c2,#9c2,#ac2,#cc2,#cc2,#ac2,#8c2,#9c2,#bc2,#dc2,#cc2,#ac2,#dc2,#cc2,#bc2,#cc2,#bc2,#cc2,#dc2,#bc2,#ac2)"></i>
<i style="top:307.22px;height:3.51px;background:linear-gradient(90deg,#388,#289,#27b,#389,#388,#389,#27a,#27a,#16c,#27c,#289,#496,#5b3,#4b3,#5b3,#4b3,#5b3,#4a5,#396,#4b3,#5b2,#4a4,#4a4,#5b2,#5b2,#5b2,#9c2,#cc2,#bc2,#9c2,#6c2,#4b3,#5b3,#7c2,#cc2,#bc2,#8c2,#7c2,#6c2,#6c2,#7c2,#8c2,#9c2,#7c2,#5c2,#8c2,#9c2,#7c2,#5b3,#5b2,#7c2,#ac2,#ac2,#8c2,#ac2,#ac2,#8c2,#6c2,#7c2,#ac2,#8c2,#5b3,#6c2,#9c2,#9c2,#6c2,#6c2,#6c2,#5c2,#6c2,#7c2,#ac2,#cc2,#bc2,#9c2,#7c2,#7c2,#9c2,#bc2,#ac2,#6c2,#5b3,#7c2,#8c2,#9c2,#cc2,#bc2,#ac2,#bc2,#cc2,#cc2,#bc2,#cc2,#dc2,#ac2,#9c2,#9c2,#bc2,#cc2,#ac2,#ac2,#ac2,#ac2,#dc2,#cc2,#ac2,#ac2,#bc2,#bc2,#ac2,#bc2,#bc2,#ac2,#ac2,#bc2,#7c2,#6c2,#ac2,#bc2,#ac2,#ac2,#bc2,#bc2,#bc2,#cc2,#ec2,#dc2,#cc2,#cc2,#dc2,#ac2,#8c2,#9c2,#8c2,#8c2,#ac2,#bc2,#bc2,#ac2,#9c2,#9c2,#8c2,#7c2,#8c2,#8c2,#9c2,#ac2,#dc2,#dc2,#bc2,#8c2,#8c2,#bc2,#dc2,#cc2,#ac2,#cc2,#cc2,#bc2,#dc2,#bc2,#cc2,#dc2,#cc2,#ac2)"></i>
<i style="top:310.23px;height:3.51px;background:linear-gradient(90deg,#387,#388,#27a,#289,#388,#389,#289,#279,#17c,#27c,#389,#396,#5b3,#5b3,#5b2,#5b3,#5b3,#4a4,#396,#4b4,#5c2,#4b4,#4a4,#5b2,#5b2,#5b2,#8c2,#dc2,#cc2,#9c2,#6c2,#5b3,#5b3,#7c2,#cc2,#cc2,#8c2,#7c2,#6c2,#6c2,#7c2,#8c2,#9c2,#7c2,#5c2,#7c2,#9c2,#7c2,#4b3,#5b3,#7c2,#ac2,#ac2,#7c2,#ac2,#ac2,#8c2,#6c2,#6c2,#ac2,#8c2,#5b3,#6c2,#8c2,#9c2,#7c2,#6c2,#6c2,#5b2,#6c2,#6c2,#9c2,#cc2,#cc2,#ac2,#7c2,#7c2,#8c2,#bc2,#ac2,#6c2,#5b3,#7c2,#8c2,#9c2,#bc2,#ac2,#9c2,#ac2,#bc2,#cc2,#bc2,#cc2,#dc2,#ac2,#8c2,#8c2,#ac2,#bc2,#ac2,#ac2,#ac2,#ac2,#dc2,#cc2,#ac2,#ac2,#bc2,#bc2,#ac2,#ac2,#ac2,#ac2,#ac2,#ac2,#8c2,#5c2,#9c2,#bc2,#ac2,#ac2,#bc2,#bc2,#ac2,#bc2,#dc2,#dc2,#cc2,#bc2,#dc2,#bc2,#8c2,#9c2,#8c2,#7c2,#9c2,#bc2,#bc2,#ac2,#9c2,#9c2,#8c2,#7c2,#8c2,#7c2,#9c2,#ac2,#dc2,#dc2,#cc2,#8c2,#8c2,#ac2,#cc2,#cc2,#ac2,#bc2,#dc2,#bc2,#cc2,#cc2,#cc2,#dc2,#cc2,#ac2)"></i>
<i style="top:313.24px;height:3.51px;background:linear-gradient(90deg,#396,#387,#279,#289,#388,#388,#289,#289,#27b,#27c,#388,#396,#5b3,#5b3,#5b2,#5b3,#5b3,#4b4,#396,#4a4,#5c2,#4b3,#4a4,#5b3,#5c2,#5b3,#8c2,#dc2,#cc2,#9c2,#7c2,#5b3,#5b3,#6c2,#bc2,#cc2,#8c2,#7c2,#6c2,#6c2,#7c2,#8c2,#9c2,#7c2,#5c2,#7c2,#8c2,#7c2,#4b3,#5b3,#6c2,#9c2,#ac2,#7c2,#9c2,#bc2,#8c2,#6c2,#6c2,#ac2,#8c2,#5b3,#5b2,#7c2,#9c2,#8c2,#6c2,#6c2,#5b2,#6c2,#6c2,#9c2,#dc2,#dc2,#bc2,#7c2,#7c2,#8c2,#ac2,#ac2,#7c2,#4b3,#6c2,#7c2,#8c2,#bc2,#ac2,#9c2,#9c2,#bc2,#cc2,#bc2,#bc2,#dc2,#ac2,#8c2,#7c2,#9c2,#bc2,#ac2,#9c2,#ac2,#ac2,#dc2,#cc2,#bc2,#ac2,#ac2,#bc2,#ac2,#ac2,#ac2,#ac2,#ac2,#ac2,#8c2,#5b2,#8c2,#bc2,#ac2,#ac2,#ac2,#ac2,#ac2,#bc2,#dc2,#dc2,#cc2,#bc2,#cc2,#bc2,#8c2,#8c2,#8c2,#7c2,#8c2,#ac2,#bc2,#bc2,#ac2,#9c2,#9c2,#7c2,#8c2,#7c2,#8c2,#ac2,#cc2,#ec2,#dc2,#9c2,#7c2,#ac2,#cc2,#cc2,#ac2,#bc2,#dc2,#bc2,#cc2,#cc2,#cc2,#dc2,#cc2,#ac2)"></i>
<i style="top:316.25px;height:3.51px;background:linear-gradient(90deg,#396,#396,#389,#289,#388,#388,#388,#389,#27b,#27c,#388,#396,#5b3,#5b2,#5c2,#5b3,#5b3,#4b3,#396,#4a5,#5c2,#4b3,#4a4,#5b3,#5c2,#5b3,#8c2,#dc2,#cc2,#9c2,#7c2,#5c2,#5b2,#6c2,#ac2,#cc2,#8c2,#7c2,#6c2,#7c2,#8c2,#8c2,#9c2,#8c2,#5c2,#7c2,#8c2,#7c2,#4b3,#4b3,#6c2,#9c2,#ac2,#6c2,#8c2,#bc2,#9c2,#6c2,#6c2,#9c2,#9c2,#5b3,#5b3,#7c2,#9c2,#8c2,#6c2,#7c2,#5c2,#5c2,#6c2,#8c2,#cc2,#dc2,#bc2,#8c2,#7c2,#8c2,#ac2,#bc2,#7c2,#4b3,#6c2,#7c2,#7c2,#ac2,#ac2,#8c2,#9c2,#ac2,#cc2,#bc2,#bc2,#cc2,#ac2,#7c2,#6c2,#7c2,#ac2,#9c2,#9c2,#ac2,#ac2,#cc2,#cc2,#bc2,#ac2,#ac2,#bc2,#ac2,#9c2,#9c2,#9c2,#ac2,#ac2,#8c2,#5b3,#7c2,#ac2,#ac2,#ac2,#ac2,#9c2,#9c2,#ac2,#dc2,#dc2,#cc2,#bc2,#cc2,#cc2,#9c2,#8c2,#8c2,#7c2,#7c2,#9c2,#bc2,#bc2,#ac2,#ac2,#9c2,#7c2,#8c2,#7c2,#8c2,#ac2,#cc2,#ec2,#dc2,#ac2,#7c2,#9c2,#bc2,#cc2,#ac2,#ac2,#dc2,#bc2,#cc2,#cc2,#cc2,#dc2,#dc2,#ac2)"></i>
<i style="top:319.26px;height:3.51px;background:linear-gradient(90deg,#396,#396,#388,#389,#388,#388,#388,#388,#27a,#27c,#388,#396,#5b3,#5b2,#5c2,#5b2,#5b3,#5b3,#4a5,#4a5,#5c2,#5b3,#4a4,#5b3,#5c2,#5b3,#7c2,#dc2,#dc2,#ac2,#7c2,#5c2,#5b2,#6c2,#ac2,#cc2,#8c2,#6c2,#7c2,#7c2,#8c2,#8c2,#9c2,#8c2,#6c2,#7c2,#8c2,#6c2,#4b3,#4b4,#6c2,#8c2,#ac2,#6c2,#7c2,#ac2,#ac2,#7c2,#6c2,#9c2,#9c2,#5b3,#4b3,#6c2,#9c2,#9c2,#7c2,#7c2,#6c2,#5b2,#6c2,#8c2,#cc2,#dc2,#cc2,#8c2,#7c2,#8c2,#9c2,#bc2,#8c2,#4b3,#5b2,#7c2,#7c2,#ac2,#ac2,#8c2,#8c2,#ac2,#bc2,#bc2,#ac2,#cc2,#ac2,#7c2,#6c2,#6c2,#9c2,#9c2,#8c2,#ac2,#ac2,#cc2,#dc2,#bc2,#ac2,#9c2,#bc2,#ac2,#9c2,#9c2,#9c2,#ac2,#ac2,#9c2,#5b3,#6b3,#ac2,#9c2,#ac2,#9c2,#9c2,#8c2,#ac2,#dc2,#dc2,#bc2,#bc2,#cc2,#cc2,#9c2,#8c2,#7c2,#6c2,#7c2,#9c2,#bc2,#bc2,#ac2,#ac2,#ac2,#8c2,#8c2,#7c2,#7c2,#ac2,#cc2,#ec2,#ec2,#bc2,#7c2,#8c2,#bc2,#cc2,#ac2,#9c2,#cc2,#bc2,#cc2,#cc2,#cc2,#dc2,#dc2,#bc2)"></i>
<i style="top:322.28px;height:3.51px;background:linear-gradient(90deg,#396,#495,#397,#388,#388,#388,#387,#388,#289,#27c,#388,#495,#5b3,#5c2,#5c2,#5b2,#5b3,#5b3,#4a5,#4a5,#5b2,#5b3,#4a4,#4b3,#5c2,#5b3,#7c2,#cc2,#dc2,#ac2,#7c2,#6c2,#5c2,#6c2,#9c2,#cc2,#8c2,#6c2,#7c2,#7c2,#8c2,#8c2,#9c2,#9c2,#6c2,#7c2,#8c2,#6c2,#5b3,#4a4,#6c2,#8c2,#ac2,#7c2,#6c2,#ac2,#ac2,#8c2,#6c2,#8c2,#9c2,#6b2,#4b3,#6c2,#9c2,#9c2,#7c2,#7c2,#6c2,#5b2,#6c2,#7c2,#cc2,#ec2,#dc2,#8c2,#6c2,#8c2,#9c2,#ac2,#8c2,#5b3,#5b2,#7c2,#7c2,#9c2,#bc2,#8c2,#7c2,#9c2,#bc2,#bc2,#ac2,#cc2,#bc2,#7c2,#5c2,#6c2,#9c2,#9c2,#8c2,#ac2,#ac2,#cc2,#dc2,#bc2,#ac2,#9c2,#ac2,#bc2,#9c2,#8c2,#9c2,#9c2,#ac2,#9c2,#6b3,#5b3,#9c2,#9c2,#ac2,#9c2,#8c2,#8c2,#9c2,#cc2,#dc2,#bc2,#bc2,#bc2,#cc2,#9c2,#8c2,#7c2,#6c2,#6c2,#8c2,#ac2,#bc2,#ac2,#ac2,#ac2,#8c2,#8c2,#7c2,#7c2,#9c2,#cc2,#ec2,#eb2,#cc2,#7c2,#7c2,#ac2,#bc2,#ac2,#9c2,#cc2,#bc2,#bc2,#dc2,#cc2,#dc2,#dc2,#cc2)"></i>
<i style="top:325.29px;height:3.51px;background:linear-gradient(90deg,#396,#396,#396,#388,#387,#388,#397,#388,#389,#27b,#388,#4a5,#5b3,#5c2,#5c2,#5c2,#5b3,#5b2,#4a4,#396,#5b3,#5b2,#4a4,#4b3,#5c2,#5b3,#6c2,#cc2,#dc2,#ac2,#7c2,#6c2,#5c2,#6c2,#9c2,#bc2,#8c2,#6c2,#7c2,#7c2,#9c2,#9c2,#9c2,#9c2,#6c2,#7c2,#8c2,#6c2,#5b3,#4a4,#6c2,#8c2,#ac2,#7c2,#6c2,#9c2,#bc2,#9c2,#6c2,#8c2,#9c2,#6c2,#4b3,#5b3,#8c2,#9c2,#8c2,#7c2,#7c2,#5c2,#6c2,#7c2,#bc2,#dc2,#dc2,#9c2,#6c2,#8c2,#8c2,#ac2,#9c2,#5b3,#5b3,#7c2,#7c2,#9c2,#bc2,#9c2,#7c2,#9c2,#bc2,#bc2,#ac2,#cc2,#bc2,#7c2,#5c2,#5c2,#8c2,#9c2,#8c2,#bc2,#bc2,#cc2,#dc2,#bc2,#ac2,#9c2,#ac2,#bc2,#9c2,#8c2,#8c2,#9c2,#9c2,#9c2,#6c2,#5b3,#8c2,#9c2,#ac2,#ac2,#8c2,#7c2,#9c2,#cc2,#dc2,#bc2,#bc2,#bc2,#bc2,#ac2,#7c2,#7c2,#6c2,#6c2,#7c2,#ac2,#bc2,#ac2,#ac2,#ac2,#9c2,#8c2,#8c2,#7c2,#9c2,#cc2,#ec2,#ec2,#dc2,#8c2,#7c2,#ac2,#bc2,#ac2,#9c2,#bc2,#cc2,#bc2,#cc2,#cc2,#cc2,#dc2,#cc2)"></i>
</div>
<div class="cb" style="left:441.4px;top:769.2px;width:27.5px;height:329.8px;background:linear-gradient(180deg,#ff1000 0.00%,#ff2008 5.00%,#ff4a10 10.00%,#f87018 15.00%,#f09020 20.00%,#eeb020 25.00%,#e6d01e 30.00%,#c8d420 35.00%,#a8d020 40.00%,#80cc20 45.00%,#58c820 50.00%,#48b838 55.00%,#40a850 57.50%,#389868 60.00%,#308880 62.50%,#2880a0 65.00%,#2078b8 67.50%,#1870d0 70.00%,#1068e0 72.50%,#0860f0 75.00%,#0850d8 77.50%,#0840b8 80.00%,#083498 82.50%,#082880 85.00%,#082068 87.50%,#081858 90.00%,#081048 95.00%,#080838 100.00%)"></div>
<svg class="ov" width="550" height="1174" viewBox="0 0 550 1174">
<rect x="112.4" y="53.5" width="105.1" height="233.6" fill="none" stroke="#fa1010" stroke-width="2.9"/>
<path d="M88.3 334.1L99 329.5M149 308.5L217 264.8L314.4 199.0M360.2 165.5L416.5 131.5" fill="none" stroke="#8c8ca8" stroke-width="1.6" stroke-dasharray="8 5"/>
<text x="0" y="0" transform="translate(125,320.5) rotate(-31.5)" text-anchor="middle" dominant-baseline="central" font-size="17.5">1360</text>
<text x="0" y="0" transform="translate(336.5,182.5) rotate(-31.5)" text-anchor="middle" dominant-baseline="central" font-size="17.5">1360</text>
<rect x="88.3" y="18.5" width="328.2" height="327.1" fill="none" stroke="#15151a" stroke-width="1.8"/>
<path d="M205.8 345.6v-5.5M205.8 18.5v5.5" stroke="#15151a" stroke-width="1.5"/>
<path d="M322.6 345.6v-5.5M322.6 18.5v5.5" stroke="#15151a" stroke-width="1.5"/>
<path d="M88.3 333.9h5.5M416.5 333.9h-5.5" stroke="#15151a" stroke-width="1.5"/>
<text x="81.3" y="334.2" text-anchor="end" dominant-baseline="central" font-size="22">1</text>
<path d="M88.3 275.5h5.5M416.5 275.5h-5.5" stroke="#15151a" stroke-width="1.5"/>
<text x="81.3" y="275.8" text-anchor="end" dominant-baseline="central" font-size="22">1.5</text>
<path d="M88.3 217.1h5.5M416.5 217.1h-5.5" stroke="#15151a" stroke-width="1.5"/>
<text x="81.3" y="217.4" text-anchor="end" dominant-baseline="central" font-size="22">2</text>
<path d="M88.3 158.7h5.5M416.5 158.7h-5.5" stroke="#15151a" stroke-width="1.5"/>
<text x="81.3" y="159.0" text-anchor="end" dominant-baseline="central" font-size="22">2.5</text>
<path d="M88.3 100.3h5.5M416.5 100.3h-5.5" stroke="#15151a" stroke-width="1.5"/>
<text x="81.3" y="100.6" text-anchor="end" dominant-baseline="central" font-size="22">3</text>
<path d="M88.3 41.9h5.5M416.5 41.9h-5.5" stroke="#15151a" stroke-width="1.5"/>
<text x="81.3" y="42.2" text-anchor="end" dominant-baseline="central" font-size="22">3.5</text>
<text x="89.0" y="373.2" text-anchor="middle" font-size="22"><tspan dy="-1.3">–</tspan><tspan dy="1.3">6</tspan></text>
<text x="205.8" y="373.2" text-anchor="middle" font-size="22"><tspan dy="-1.3">–</tspan><tspan dy="1.3">5</tspan></text>
<text x="322.6" y="373.2" text-anchor="middle" font-size="22"><tspan dy="-1.3">–</tspan><tspan dy="1.3">4</tspan></text>
<text x="0" y="0" transform="translate(35.1,182.6) rotate(-90)" text-anchor="middle" font-size="30">Northing (km)</text>
<text x="384" y="67.0" text-anchor="middle" font-size="37">(a)</text>
<text x="476" y="19.0" dominant-baseline="central" font-size="20.5">80</text>
<path d="M468.9 100.6h-4.5" stroke="#333" stroke-width="1.2"/>
<text x="476" y="101.4" dominant-baseline="central" font-size="20.5">70</text>
<path d="M468.9 182.9h-4.5" stroke="#333" stroke-width="1.2"/>
<text x="476" y="183.8" dominant-baseline="central" font-size="20.5">60</text>
<path d="M468.9 265.3h-4.5" stroke="#333" stroke-width="1.2"/>
<text x="476" y="266.1" dominant-baseline="central" font-size="20.5">50</text>
<text x="476" y="348.5" dominant-baseline="central" font-size="20.5">40</text>
<rect x="441.4" y="18.2" width="27.5" height="329.5" fill="none" stroke="#333" stroke-width="0.8"/>
<rect x="112.4" y="427.7" width="105.1" height="234.6" fill="none" stroke="#fa1010" stroke-width="2.9"/>
<path d="M88.3 709.3L99 704.7M149 683.7L217 639.8L314.4 573.7M360.2 540.1L416.5 506.0" fill="none" stroke="#8c8ca8" stroke-width="1.6" stroke-dasharray="8 5"/>
<text x="0" y="0" transform="translate(125,695.7) rotate(-31.5)" text-anchor="middle" dominant-baseline="central" font-size="17.5">1360</text>
<text x="0" y="0" transform="translate(336.5,557.2) rotate(-31.5)" text-anchor="middle" dominant-baseline="central" font-size="17.5">1360</text>
<rect x="88.3" y="392.5" width="328.2" height="328.4" fill="none" stroke="#15151a" stroke-width="1.8"/>
<path d="M205.8 720.9v-5.5M205.8 392.5v5.5" stroke="#15151a" stroke-width="1.5"/>
<path d="M322.6 720.9v-5.5M322.6 392.5v5.5" stroke="#15151a" stroke-width="1.5"/>
<path d="M88.3 709.2h5.5M416.5 709.2h-5.5" stroke="#15151a" stroke-width="1.5"/>
<text x="81.3" y="709.5" text-anchor="end" dominant-baseline="central" font-size="22">1</text>
<path d="M88.3 650.5h5.5M416.5 650.5h-5.5" stroke="#15151a" stroke-width="1.5"/>
<text x="81.3" y="650.8" text-anchor="end" dominant-baseline="central" font-size="22">1.5</text>
<path d="M88.3 591.9h5.5M416.5 591.9h-5.5" stroke="#15151a" stroke-width="1.5"/>
<text x="81.3" y="592.2" text-anchor="end" dominant-baseline="central" font-size="22">2</text>
<path d="M88.3 533.2h5.5M416.5 533.2h-5.5" stroke="#15151a" stroke-width="1.5"/>
<text x="81.3" y="533.5" text-anchor="end" dominant-baseline="central" font-size="22">2.5</text>
<path d="M88.3 474.6h5.5M416.5 474.6h-5.5" stroke="#15151a" stroke-width="1.5"/>
<text x="81.3" y="474.9" text-anchor="end" dominant-baseline="central" font-size="22">3</text>
<path d="M88.3 416.0h5.5M416.5 416.0h-5.5" stroke="#15151a" stroke-width="1.5"/>
<text x="81.3" y="416.3" text-anchor="end" dominant-baseline="central" font-size="22">3.5</text>
<text x="89.0" y="748.5" text-anchor="middle" font-size="22"><tspan dy="-1.3">–</tspan><tspan dy="1.3">6</tspan></text>
<text x="205.8" y="748.5" text-anchor="middle" font-size="22"><tspan dy="-1.3">–</tspan><tspan dy="1.3">5</tspan></text>
<text x="322.6" y="748.5" text-anchor="middle" font-size="22"><tspan dy="-1.3">–</tspan><tspan dy="1.3">4</tspan></text>
<text x="0" y="0" transform="translate(35.1,557.2) rotate(-90)" text-anchor="middle" font-size="30">Northing (km)</text>
<text x="384" y="441.0" text-anchor="middle" font-size="37">(b)</text>
<text x="476" y="393.7" dominant-baseline="central" font-size="20.5">80</text>
<path d="M468.9 475.4h-4.5" stroke="#333" stroke-width="1.2"/>
<text x="476" y="476.2" dominant-baseline="central" font-size="20.5">70</text>
<path d="M468.9 558.0h-4.5" stroke="#333" stroke-width="1.2"/>
<text x="476" y="558.8" dominant-baseline="central" font-size="20.5">60</text>
<path d="M468.9 640.5h-4.5" stroke="#333" stroke-width="1.2"/>
<text x="476" y="641.3" dominant-baseline="central" font-size="20.5">50</text>
<text x="476" y="723.9" dominant-baseline="central" font-size="20.5">40</text>
<rect x="441.4" y="392.9" width="27.5" height="330.2" fill="none" stroke="#333" stroke-width="0.8"/>
<rect x="112.4" y="801.8" width="105.1" height="234.5" fill="none" stroke="#fa1010" stroke-width="2.9"/>
<path d="M88.3 1083.3L99 1078.7M149 1057.7L217 1013.8L314.4 947.8M360.2 914.1L416.5 880.0" fill="none" stroke="#8c8ca8" stroke-width="1.6" stroke-dasharray="8 5"/>
<text x="0" y="0" transform="translate(125,1069.7) rotate(-31.5)" text-anchor="middle" dominant-baseline="central" font-size="17.5">1360</text>
<text x="0" y="0" transform="translate(336.5,931.2) rotate(-31.5)" text-anchor="middle" dominant-baseline="central" font-size="17.5">1360</text>
<rect x="88.3" y="766.6" width="328.2" height="328.3" fill="none" stroke="#15151a" stroke-width="1.8"/>
<path d="M205.8 1094.9v-5.5M205.8 766.6v5.5" stroke="#15151a" stroke-width="1.5"/>
<path d="M322.6 1094.9v-5.5M322.6 766.6v5.5" stroke="#15151a" stroke-width="1.5"/>
<path d="M88.3 1083.2h5.5M416.5 1083.2h-5.5" stroke="#15151a" stroke-width="1.5"/>
<text x="81.3" y="1083.5" text-anchor="end" dominant-baseline="central" font-size="22">1</text>
<path d="M88.3 1024.6h5.5M416.5 1024.6h-5.5" stroke="#15151a" stroke-width="1.5"/>
<text x="81.3" y="1024.9" text-anchor="end" dominant-baseline="central" font-size="22">1.5</text>
<path d="M88.3 965.9h5.5M416.5 965.9h-5.5" stroke="#15151a" stroke-width="1.5"/>
<text x="81.3" y="966.2" text-anchor="end" dominant-baseline="central" font-size="22">2</text>
<path d="M88.3 907.3h5.5M416.5 907.3h-5.5" stroke="#15151a" stroke-width="1.5"/>
<text x="81.3" y="907.6" text-anchor="end" dominant-baseline="central" font-size="22">2.5</text>
<path d="M88.3 848.7h5.5M416.5 848.7h-5.5" stroke="#15151a" stroke-width="1.5"/>
<text x="81.3" y="849.0" text-anchor="end" dominant-baseline="central" font-size="22">3</text>
<path d="M88.3 790.1h5.5M416.5 790.1h-5.5" stroke="#15151a" stroke-width="1.5"/>
<text x="81.3" y="790.4" text-anchor="end" dominant-baseline="central" font-size="22">3.5</text>
<text x="89.0" y="1122.5" text-anchor="middle" font-size="22"><tspan dy="-1.3">–</tspan><tspan dy="1.3">6</tspan></text>
<text x="205.8" y="1122.5" text-anchor="middle" font-size="22"><tspan dy="-1.3">–</tspan><tspan dy="1.3">5</tspan></text>
<text x="322.6" y="1122.5" text-anchor="middle" font-size="22"><tspan dy="-1.3">–</tspan><tspan dy="1.3">4</tspan></text>
<text x="0" y="0" transform="translate(35.1,931.2) rotate(-90)" text-anchor="middle" font-size="30">Northing (km)</text>
<text x="384" y="815.1" text-anchor="middle" font-size="37">(c)</text>
<text x="476" y="770.0" dominant-baseline="central" font-size="20.5">80</text>
<path d="M468.9 851.7h-4.5" stroke="#333" stroke-width="1.2"/>
<text x="476" y="852.5" dominant-baseline="central" font-size="20.5">70</text>
<path d="M468.9 934.1h-4.5" stroke="#333" stroke-width="1.2"/>
<text x="476" y="934.9" dominant-baseline="central" font-size="20.5">60</text>
<path d="M468.9 1016.5h-4.5" stroke="#333" stroke-width="1.2"/>
<text x="476" y="1017.3" dominant-baseline="central" font-size="20.5">50</text>
<text x="476" y="1099.8" dominant-baseline="central" font-size="20.5">40</text>
<rect x="441.4" y="769.2" width="27.5" height="329.8" fill="none" stroke="#333" stroke-width="0.8"/>
<text x="0" y="0" transform="translate(520.5,554) rotate(90)" text-anchor="middle" font-size="22.5">Pressure Level (dB)</text>
<text x="253" y="1157" text-anchor="middle" font-size="30">Easting (km)</text>
</svg>
</body></html>
